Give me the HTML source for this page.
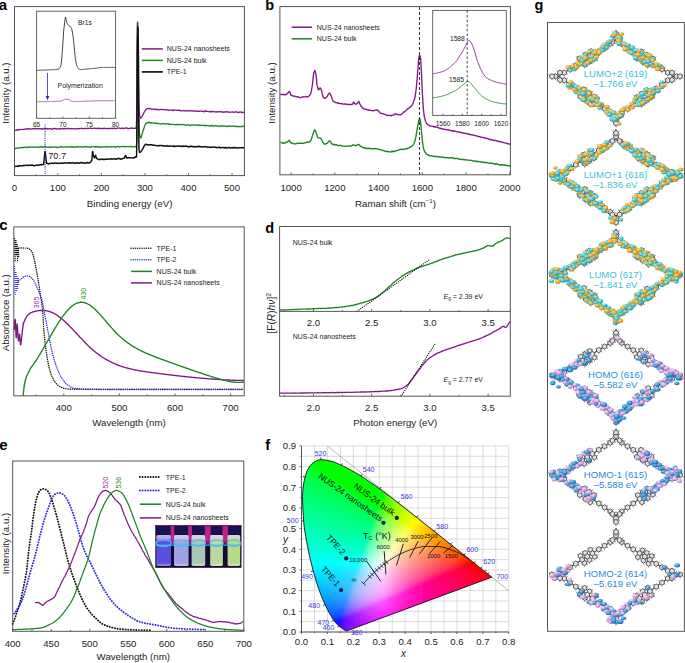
<!DOCTYPE html><html><head><meta charset="utf-8"><style>html,body{margin:0;padding:0;background:#fff;}svg{display:block;}text{font-family:"Liberation Sans", sans-serif;}</style></head><body>
<svg width="685" height="663" viewBox="0 0 685 663">
<rect width="685" height="663" fill="#fff"/>
<text x="-1.2" y="10.4" font-size="15" text-anchor="start" fill="#000" font-weight="bold"  >a</text>
<path d="M14.5,148.5l.3 .1 .4 .2 .4-.3 .3-.3 .3-.1 .4 .1 .3-.2 .4-.1 .3 .1 .4 .3 .3 0 .4-.1 .3-.4 .4 .1 .3-.1 .3 .1 .1-.2 .3 0 .4-.2 .3-.1 .4 .1 .3 .1 .4 .2 .3-.2 .4-.1 .3-.3 .4 .3 .3-.2 .4-.1 .3 0 .4 0 .3 .1 .4 .1 .3 .2 .4 0 .3-.2 .4-.2 .3-.2 .4 .2 .3 .2 .4 0 .3-.2 .4-.2 .3 0 .4 0 .1 .1 .2 .3 .4 0 .3-.1 .4-.2 .3 0 .4 0 .3-.1 .4 .2 .3-.1 .4 .1 .3 0 .4 .1 .3-.1 .4 .1 .3 .1 .4 0 .3-.1 .4-.1 .3-.1 .4 0 .3 0 .4-.1 .3 .1 .4 .2 .3-.1 .4-.1 .3 .1 .4 .2 .3-.3 .4 0 .3-.3 .4-.2 .3-.1 .4 .2 .3 .4 .4 .3 .3 0 .4-.1 .3-.3 .4 .1 .3-.3 .4-.1 .3-.1 .4 .1 .3 .1 .4 .1 .3 .2 .4 .1 .3 0 .4 0 .3 .1 .4-.1 .3-.1 .4-.1 .3 .1 .4 .2 .3 0 .4 0 .3-.2 .4 0 .3-.2 .4 .1 .3 .1 .4 .1 .3-.1 .4 0 .3 0 .4 0 .3 .1 .4-.1 .3-.1 .4-.2 .3 .2 .4 .1 .3 .1 .4 0 .3 .4 .4 0 .3-.3 .4-.1 .3 .2 .4-.1 .3-.1 .4-.1 .3 .1 .4 0 .3-.2 .4-.2 .3-.3 .4 0 .3 .3 .4 .2 .3 .1 .4 0 .3 .1 .4-.1 .3-.1 .4-.1 .3-.1 .4 0 .3 .2 .4 .1 .3 0 .4-.1 .3-.1 .4 0 .3 0 .4 .1 .3 0 .4 0 .3-.1 .4-.1 .3 0 .4 .2 .3 0 .4 .2 .3 0 .4-.3 .3-.4 .4 .2 .3 .4 .4 0 .3-.3 .4 .1 .3 .2 .4 .2 .3-.1 .4 0 .3 .1 .4-.2 .3-.2 .4 0 .3 .1 .4 0 .3 0 .4-.3 .3 0 .4 .2 .3 .3 .4-.2 .3-.1 .4-.1 .3 0 .4 0 .3 .1 .4-.2 .3 0 .4 .1 .3 .3 .4 .1 .3-.1 .4-.3 .3 0 .4 .3 .3-.1 .4-.1 .3-.3 .4 .1 .3-.1 .4 .2 .3-.2 .4-.1 .3 .3 .4 .2 .3 0 .4-.1 .3 .2 .4-.1 .3 .1 .4-.1 .3 0 .4 .2 .3 .2 .4 0 .3-.3 .4-.3 .3-.2 .4 0 .3 .2 .4 0 .3 0 .4 .1 .3-.1 .4-.2 .3 .1 .4 .3 .3 0 .4 0 .3-.1 .4-.1 .3-.3 .4 .1 .3 .1 .4 .3 .3 0 .4 0 .3-.1 .4 .1 .3 0 .4-.1 .1-.1 .2 .1 .4 .1 .3 .2 .4 0 .3-.1 .4-.2 .3 0 .4-.1 .3 .3 .4 0 .3-.1 .4-.1 .3 0 .4 0 .3-.1 .4-.2 .3 .3 .4 .2 .3 .1 .4-.4 .3-.2 .4-.1 .3 .1 .4 .2 .3 0 .4 0 .3 .1 .4 .1 .3-.1 .4-.2 .3 .1 .4 0 .3 .2 .4 0 .3-.1 .4-.1 .3 0 .4-.1 .3-.1 .4 0 .3 0 .4 .3 .3 .3 .4 .1 .3 .1 .4-.3 .3-.3 .4-.1 .3-.2 .4 .1 .3 .1 .4 0 .3-.2 .4 .2 .3 .2 .4 .1 .3-.1 .4-.2 .3 0 .4-.1 .3 0 .4 0 .3 0 .4-.1 .3 .1 .4-.1 .3 0 .4-.1 .3 .2 .4 0 .3 0 .4 .1 .3 .1 .4-.1 .3 0 .4 0 .3 0 .4-.1 .3 .1 .4 0 .3-.1 .4 .1 .3 0 .4 0 .3-.2 .4-.1 .3 0 .4 .2 .3 .1 .4-.1 .3-.1 .4 0 .3 .2 .4 .1 .3 0 .4 .1 .3-.1 .4-.2 .3 .2 .4 .1 .3-.1 .4-.2 .3-.2 .1 .1 .3-.6 .3-2.5 .3-3.4 .1-10.5 .3-84 .1-5.6 .3-16.6 .1-1.5 .2 14.3 .3 23.8 .1 8.3 .3 33.9 .4 25.4 .1 2.7 .2 2.5 .4 2.6 .3 1.6 .4 .8 .2 .2 .1 .1 .4-.6 .3-1.2 .4-1.3 .3-1.2 .3-.8 .1-.6 .3-1.1 .4-.9 .3-1.1 .4-1.2 .3-1 .4-1.1 .3-.9 .4-.7 .1-.3 .2-.5 .4-.2 .3 0 .4 .1 .3-.5 .4-.3 .3-.2 .2 .1 .2 .1 .3 0 .4 0 .3-.3 .4-.2 .3 .3 .4 .5 .3 .2 .4-.2 .3-.1 .4-.2 .3 .1 .4 .1 .3 .2 .4 .2 .3 0 .4 0 .3-.2 .4 .1 .3 0 .4 .2 .3-.1 .4 .3 .3 .1 .4-.1 .3-.2 .4 0 .3 .1 .4 0 .3 .1 .4 .2 .3 0 .4 .1 .3 .1 .3 0 .1 0 .3 .1 .4 .2 .3-.2 .4-.3 .3 .1 .4-.1 .3 .2 .4-.1 .3-.1 .4 0 .3 0 .4 .1 .3 0 .4 0 .3 0 .4 .2 .3-.1 .4-.1 .3 0 .4 .1 .3-.2 .4 0 .3 .1 .4 .2 .3 0 .4 .1 .3 0 .4 .2 .3 0 .4 0 .3 0 .4 .2 .3 .1 .4-.1 .3-.2 .4 .1 .3-.1 .4 0 .3 0 .4 .2 .3 .1 .4 .1 .3 0 .4 .1 .3-.2 .4 0 .3 .2 .4-.2 .3-.4 .4-.1 .3 .3 .4 .3 .3 .1 .4-.1 .3-.1 .4 0 .3 0 0-.1 .4 .2 .3-.1 .4-.1 .3-.1 .4 0 .3 .2 .4 .1 .3 .1 .4 0 .3-.1 .4-.2 .3 .1 .4 .1 .3 .2 .4 .1 .3 .1 .4 0 .3-.1 .4 0 .3 0 .4 0 .3-.2 .4 0 .3 0 .4 .1 .3 .2 .4 .4 .3 .1 .4-.2 .3-.2 .4-.1 .3 0 .4-.2 .3 0 .4 0 .3 .2 .4 0 .3 0 .4-.1 .3 .1 .4-.1 .3-.2 .4 .1 .3 .3 .4 .1 .3-.1 .4-.1 .3 0 .4 0 .3 0 .4-.2 .3 .1 .4 0 .3 .3 .4-.2 .3 .1 .4-.1 0 .3 .3 0 .4 0 .3-.1 .4 0 .3 .1 .4-.1 .3 0 .4 .1 .3-.1 .4 .1 .3 .1 .4-.1 .3-.3 .4 .2 .3 .5 .4 .1 .3-.3 .4-.3 .3 .2 .4 .2 .3 0 .4-.2 .3 .1 .4 0 .3 .1 .4 0 .3 .2 .4 .1 .3-.1 .4-.3 .3 0 .4 .2 .3 .2 .4-.4 .3-.2 .4 .1 .3 .5 .4 .2 .3 0 .4-.1 .3 .1 .4-.2 .3-.3 .4-.2 .3 .1 .4 .1 .3 .1 .4 0 .3 0 .4 0 .3 .3 .4 0 .3 .3 .4 .1 .3-.1 .4-.3 .3 0 .1-.1 .3-.1 .3 0 .4 .2 .3-.1 .4 0 .3 0 .4 .1 .3-.1 .4 0 .3-.1 .4 .1 .3-.2 .4 .2 .3 .1 .4 .3 .3-.1 .4-.1 .3 .1 .4 0 .3 0 .4-.1 .3 .3 .4-.1 .3-.2 .4-.1 .3-.2 .4 0 .3 0 .4 .5 .3 0 .4 0 .3-.3 .4 0 .3 0 .4 .1 .3 0 .4 0 .3-.2 .4 .1 .3 .1 .4 .1 .3-.1 .4 0 .3 .2 .4 .2 .3 0 .4-.2 .3-.3 .4 .1 .3 .3 .4 .3 .3 0 .4-.1 .3-.2 .4 .1 .3 0 .4 0 .3-.1 .4 .2 .3 .1 .4-.1 .3-.1 .4-.4 .3-.1 .4 0 .3 .3 .4 .1 .3 0 .4 0 .3 0" fill="none" stroke="#1d8220" stroke-width="1.3" stroke-linejoin="round" />
<path d="M14.5,130.7l.3-.2 .4-.2 .4 .1 .3-.2 .3-.2 .4-.1 .3-.1 .4 .4 .3 .2 .4-.2 .3-.4 .4-.2 .3-.1 .4-.1 .3 .1 .3 .1 .1 .1 .3-.1 .4 0 .3 0 .4 .1 .3-.1 .4-.3 .3 0 .4 .3 .3 0 .4-.2 .3-.1 .4-.1 .3-.1 .4 0 .3 .2 .4 0 .3-.1 .4-.4 .3 0 .4-.1 .3 .1 .4-.1 .3 .2 .4 .1 .3-.2 .4-.1 .3 .1 .4 .2 .1 .2 .2 0 .4-.1 .3-.1 .4-.1 .3-.1 .4 .1 .3 .1 .4-.2 .3 0 .4-.3 .3 .1 .4 .1 .3 .1 .4-.1 .3-.1 .4 .2 .3-.2 .4-.1 .3 .1 .4 .3 .3-.1 .4-.2 .3 0 .4 .1 .3 .2 .4-.1 .3 0 .4-.2 .3 .2 .4 .1 .3 0 .4-.3 .3 .1 .4 .2 .3 .2 .4 0 .3 0 .4-.2 .3-.3 .4-.1 .3 .2 .4 0 .3 0 .4-.2 .3 .2 .4 .1 .3-.1 .4-.2 .3-.1 .4 .3 .3 .3 .4 0 .3-.2 .4 0 .3-.1 .4 .1 .3 0 .4-.1 .3 0 .4 .1 .3 0 .4 .3 .3 .2 .4 .1 .3-.5 .4-.3 .3-.2 .4 .3 .3-.2 .4 .1 .3 .2 .4 .1 .3-.3 .4-.2 .3 .1 .4 .2 .3 .3 .4 .1 .3-.1 .4-.2 .3 .2 .4 0 .3 .1 .4-.2 .3-.2 .4-.2 0 .2 .3 .2 .4 0 .3-.2 .4-.1 .3 0 .4-.1 .3 0 .4 .4 .3 .1 .4-.2 .3-.4 .4-.1 .3 .1 .4 .3 .3 .1 .4 0 .3-.1 .4 0 .3-.2 .4-.1 .3 0 .4 .1 .3 0 .4-.1 .3 0 .4 .2 .3 .1 .4-.1 .3 0 .4 .2 .3 .2 .4-.3 .3-.1 .4-.1 .3 .1 .4 .1 .3 .1 .4 .1 .3 0 .4 0 .3-.1 .4-.1 .3-.1 .4 0 .3 .2 .4 .1 .3 .3 .4-.2 .3-.2 .4-.3 .3 .1 .4 0 .3 0 .4-.1 .3 .3 .4-.1 .3 0 .4-.1 .3-.1 .4-.2 .3-.1 .4 .1 .3 .2 .4 .2 .3 0 .4 .1 .3 0 .4-.1 .3-.2 .4-.2 .3 0 .4 0 .3 .1 .4 0 .3 .3 .4-.1 .3-.1 .4-.1 .3 0 .4 0 .3 0 .4 .1 .3-.1 .4-.1 .3 0 .4-.2 .3 0 .4 0 .3 .3 .4 .2 .3-.1 .4-.2 .3 0 .4 0 .3 0 .4 .1 .3-.2 .4-.1 .3 .1 .4 .2 .3-.1 .4 0 .3 .2 .4 0 .3-.2 .4-.1 .3 .1 .4 .2 .3 .1 .4-.1 .3-.3 .4 0 .3 .4 .4 .1 .1-.1 .2-.1 .4 0 .3 .2 .4 0 .3-.1 .4-.1 .3 .1 .4-.2 .3 .1 .4 0 .3 .1 .4-.3 .3-.1 .4 0 .3 .3 .4 .2 .3 0 .4 0 .3-.1 .4-.1 .3 .1 .4-.1 .3 0 .4 .1 .3 0 .4-.1 .3-.1 .4 .2 .3 .1 .4-.2 .3-.2 .4 .2 .3-.2 .4 0 .3 0 .4 .2 .3 0 .4 0 .3 0 .4-.1 .3-.2 .4-.1 .3 .2 .4 .2 .3 .1 .4-.1 .3 .1 .4-.1 .3-.3 .4-.2 .3 .1 .4 .1 .3-.1 .4 0 .3 .1 .4-.1 .3-.1 .4 .2 .3 .1 .4 .2 .3 .1 .4 0 .3-.2 .4-.4 .3 0 .4 .3 .3 .2 .4 0 .3-.1 .4-.1 .3 0 .4-.1 .3-.1 .4-.2 .3 0 .4 .1 .3 0 .4 .1 .3 .2 .4 .4 .3 .1 .4-.1 .3-.3 .4 0 .3-.1 .4 0 .3 0 .4-.3 .3-.2 .4 .2 .3 .4 .4-.1 .3-.1 .4 0 .3 0 .4 .1 .3 0 .4 .2 .3-.1 .4-.2 .3 .1 .4-.1 .3 0 .1 .1 .3-1.9 .3-6 0-3.3 .4-64.6 .1-12.5 .2-15.2 .1-2 .3 12.9 .3 24.4 0 2.7 .4 19.3 .3 17.3 .4 11.1 .1 1.6 .2 1.7 .4 1.8 .3 1.6 .4 .9 .2 .2 .1-.1 .4-.3 .3-.3 .4-.9 .3-.6 .3-.4 .1-.1 .3-.9 .4-.8 .3-.7 .4-.6 .3-.7 .4-.6 .3-.4 .4-.5 .1-.2 .2-.6 .4-.4 .3-.2 .4 0 .3-.2 .4-.2 .3-.2 .4 .2 .3 .1 .4 0 .3-.3 .4 0 .3 .3 .4 .2 .3 0 .4-.1 .3 .3 .4 .2 .3-.1 .4 0 .3 0 .4 0 .3-.1 .4 0 .3 .1 .4 .3 .3-.3 .4 0 .3 0 .4 .2 .3 0 .4 0 .3 .2 .4-.1 .3-.1 .4 .1 .3 .2 .4 .1 .3-.1 .4-.1 .3 .1 .3 0 .1-.3 .3-.1 .4 .1 .3 .1 .4 0 .3 .2 .4 0 .3 0 .4-.1 .3 .1 .4-.2 .3 0 .4 0 .3 .2 .4 .1 .3-.1 .4 .1 .3 .1 .4 0 .3 .1 .4 0 .3-.1 .4-.1 .3 .2 .4 .2 .3 .2 .4-.1 .3-.2 .4 0 .3 0 .4 .1 .3 0 .4 0 .3-.1 .4-.1 .3 .3 .4 .3 .3 .1 .4-.3 .3-.5 .4 0 .3 .1 .4 .1 .3 .1 .4-.1 .3 0 .4 0 .3 0 .4 .1 .3 .2 .4 0 .3-.3 .4 0 .3 .2 .4 0 .3-.1 .4 0 .3 .1 0 .2 .4 .1 .3 .2 .4 .1 .3 0 .4-.1 .3 0 .4 .1 .3-.3 .4-.1 .3 0 .4 .3 .3 0 .4 0 .3-.1 .4 .2 .3 0 .4-.1 .3-.1 .4-.1 .3 .1 .4 0 .3 .1 .4 .2 .3 0 .4-.1 .3-.2 .4 .1 .3 0 .4-.1 .3-.1 .4 .2 .3 .1 .4 0 .3-.2 .4 .1 .3 .3 .4 .1 .3 0 .4-.1 .3-.1 .4-.1 .3-.1 .4 .2 .3 0 .4-.1 .3 .1 .4 .3 .3 .1 .4-.1 .3-.1 .4 .1 .3-.2 .4 .1 .3 0 .4 .2 .3-.1 .4 0 0-.2 .3 .1 .4 0 .3 0 .4-.1 .3-.1 .4 .1 .3 .2 .4 .2 .3 0 .4-.1 .3-.1 .4 .1 .3 .3 .4-.3 .3-.6 .4-.2 .3 .4 .4 .4 .3 0 .4 0 .3 0 .4 0 .3 .1 .4 .2 .3 0 .4-.2 .3 0 .4 0 .3 .2 .4 .2 .3 .1 .4-.5 .3-.4 .4 .2 .3 .4 .4 .2 .3-.1 .4-.3 .3 .1 .4 0 .3 .1 .4 0 .3 .1 .4 0 .3 .2 .4 0 .3-.2 .4-.1 .3 0 .4 .1 .3 .1 .4 0 .3-.1 .4-.2 .3 0 .4 .1 .3 .1 .1 .1 .3 0 .3 .1 .4-.3 .3-.1 .4 .2 .3 0 .4 0 .3 .2 .4 .3 .3-.1 .4 0 .3 .2 .4-.2 .3-.3 .4-.1 .3 .1 .4-.2 .3 0 .4 0 .3 .3 .4-.1 .3 .2 .4 0 .3-.1 .4-.1 .3 .2 .4 .1 .3 .1 .4-.1 .3 0 .4 0 .3-.1 .4 .1 .3-.1 .4 .1 .3-.2 .4-.1 .3 .1 .4 .2 .3 .1 .4-.2 .3 0 .4-.1 .3-.1 .4-.1 .3 .1 .4 .1 .3 0 .4 .1 .3 0 .4 .2 .3 .2 .4 .1 .3-.1 .4-.2 .3-.3 .4-.1 .3-.1 .4 0 .3 .2 .4 .5 .3 .2 .4-.2 .3-.2 .4-.1 .3 .1 .4 0 .3 .2 .4 .2 .3 .1" fill="none" stroke="#7e1a86" stroke-width="1.3" stroke-linejoin="round" />
<path d="M14.5,166.1l.3 0 .4 .1 .4 .3 .3 0 .3-.2 .4-.2 .3 0 .4 .2 .3 .2 .4-.3 .3-.4 .4 .1 .3 .3 .4-.2 .3-.3 .4-.1 .3 .1 .4-.1 .3 0 .4 .1 .3 .1 .4 0 .3-.1 .4 .1 .3-.1 .4-.2 .3-.2 .4 .2 .3-.1 .4 0 0 .1 .3 0 .4-.1 .3-.1 .4 0 .3-.1 .4 0 .3 .1 .4 .2 .3 .1 .4-.1 .3-.2 .4-.2 .3 .2 .4 0 .3-.1 .4-.1 .3 0 .4 .3 .3-.1 .4 .1 .3-.2 .4 0 .3-.1 .4 .2 .3 .2 .4 .3 .3-.1 .4 0 .3-.2 .4-.1 .3-.2 .4 .1 .3 0 .4 0 .3-.2 .4 .1 .3 0 .4-.1 .3-.1 .4 .1 .3-.1 .4 0 .3-.1 0-.1 .4-.3 .3 .3 .4 .1 .3 0 .4-.3 .3 0 .4 0 .3-.1 .4 0 .3-.1 .1 .1 .3-1.9 .3-4.1 .2-1.6 .2-1.8 .3-3 .2-.7 .2 .5 .3 3.4 .2 1.4 .2 1.9 .3 2.9 .4 1.9 .1 0 .2 0 .4 .1 .3 0 .4 .1 .3 .1 .4 .2 .3-.3 .4-.1 .3 .1 .4 0 .3-.2 .4 .1 .3-.1 .4-.2 .3-.1 .4 0 .3 .2 .4 .1 .3 0 .4 .1 .3-.1 .4-.1 .3-.2 .3 0 .1-.2 .3 0 .4 .2 .3 .1 .4-.1 .3 .1 .4 .1 .3 .1 .4-.1 .3 0 .4 .1 .3 .1 .4-.1 .3-.1 .4-.2 .3-.1 .4 0 .3 .2 .4 .2 .3 0 .4-.3 .3 0 .4 .2 .3 0 .4-.1 .3 0 .4-.2 .3-.2 .4 0 .3 .3 .4 0 .3 0 .4-.2 .3 0 .4 0 .3 0 .4 .2 .3 .2 .4-.2 .3-.3 .4 0 .3 0 .4 .1 .2-.2 .1 .2 .4 .3 .3 0 .4-.2 .3 .1 .4-.1 .3-.3 .4-.1 .3 .3 .4 .1 .3 0 .4-.1 .3 .2 .4 .3 .3 0 .4-.4 .3 0 .4 .1 .3-.1 .4-.3 .3 .2 .4 .2 .3 .1 .4-.2 .3-.1 .4 0 .3 .3 .4 0 .3-.2 .4-.4 .3 .2 .4 .1 .3-.2 .4-.2 .3 .1 .4 .3 .3 0 .4 0 .3 0 .4 0 .3-.1 .4 .1 .3 .3 .4 .1 .3-.2 .4-.1 .3-.1 .4-.1 .3-.2 .4 0 .3 0 .4 .4 .3 0 .4 .1 .3-.2 .4 0 .3-.1 .3-.3 .1-.1 .3-.1 .4-.3 .3-.6 .4-.6 .3-.3 0-.2 .4-4.1 .3-4.3 .2-.4 .2 .7 .3 2.5 .4 1.7 .3 .7 .4 .6 .3 .2 0-.2 .4-.9 .3-1.2 .3-.3 .1 .3 .3 1.2 .4 1.1 .2 .4 .1 .2 .4 .2 .3 .1 .4 .2 .3 .2 .4 .2 .3 .1 .4 .1 .3 .1 .4-.2 .1-.2 .2 0 .4 0 .3 .1 .4 .1 .3-.1 .4-.3 .3 0 .4 .2 .3 .2 .4-.3 .3 .1 .4 .2 .3 0 .4-.2 .3-.1 .4 0 .3 0 .4-.1 .3 .1 .4 .1 .3 0 .4-.1 .3-.2 .4-.1 .3 .1 .4 .2 .3-.1 .4-.1 .3 .1 .4 0 .3-.1 .4-.2 .3 .1 .4 .2 .3 0 .4-.2 .3 0 .4 0 .3 .2 .4 0 .3 0 .4-.3 .3 .1 .1 .2 .3 0 .3 0 .4 .2 .3 0 .4-.3 .3-.3 .4-.2 .3 .1 .4 0 .3 0 .4 .1 .3-.2 .4-.1 .3 .2 .4 .5 .3 .1 .4-.2 .3 .1 .4 0 .3-.1 .4-.4 .3-.1 .4-.1 .3 0 .4-.1 .3 0 0 .1 .4-.4 .3-.9 .4-1 .3-.5 .2 .1 .2 .2 .3 .6 .4 .9 .3 .7 .4 0 0-.2 .3-.1 .4 0 .3-.1 .4-.1 .3 0 .4 .1 .3 .2 .4 0 .3-.1 .4-.1 .3 .1 .4 .1 .3 0 .4 0 .3 .1 .4 .1 .3-.2 .4-.2 .3 0 .4 0 .3 0 .4-.4 .3-.5 .3 0 .1 .4 .3 .1 .4-.4 .3-.6 0-1 .4-36.5 .3-54.9 .3-24 .1-4.1 .3-8.8 0 .1 .4 22.2 .1 10.8 .2 63.2 .2 24.5 .2 2.1 .3 2.2 .2 .3 .2 0 .3-.2 .4-.1 .3-.4 .2-.3 .2-.3 .3-.3 .4-.4 .3-.7 .4-.7 .3-.5 .1-.1 .3-.4 .3-.7 .4-.9 .3-.8 .4-.4 .3-.4 .4-.4 .1-.1 .2-.1 .4 .1 .3 .2 .4 .2 .3 0 .4-.1 .3-.1 .2 .1 .2 .3 .3 0 .4-.1 .3 0 .4 .2 .3 .1 .4-.2 .3-.2 .4 0 .3 .2 .4-.1 .3 .1 .4 .2 .3 .2 .4-.2 .3-.1 .4 .2 .3 0 .4 0 .3 0 .4 .2 .3 0 .4 0 .3 .1 .4 .1 .3 0 .4 .1 .3 .2 .4 .1 .3-.3 .4-.3 .3 0 .4 .3 .3 .1 .3 0 .1-.2 .3 0 .4-.2 .3 .2 .4-.1 .3 .1 .4 0 .3 .3 .4 0 .3-.2 .4 0 .3 .1 .4 .2 .3 0 .4 .1 .3-.2 .4 .2 .3 .1 .4 0 .3-.1 .4-.3 .3-.2 .4 .2 .3 .3 .4 .2 .3-.1 .4-.1 .3-.1 .4-.1 .3 .1 .4-.1 .3 .1 .4 0 .3 .1 .4 0 .3 .1 .4 .1 .3 0 .4-.1 .3-.3 .4-.1 .3 .4 .4 .4 .3 0 .4 0 .3-.3 .4-.1 .3 .1 .4 0 .3-.3 .4 0 .3 .2 .4-.2 .3-.1 .4 .1 .3 .3 .4 0 .3 .1 0-.1 .4 0 .3-.1 .4 0 .3 0 .4 .2 .3 0 .4-.3 .3-.3 .4 .4 .3 .3 .4 .1 .3-.3 .4-.1 .3-.2 .4 .1 .3 .2 .4 0 .3-.2 .4-.1 .3 .3 .4 .1 .3 .3 .4 .1 .3 .1 .4 .1 .3-.3 .4-.2 .3 0 .4 .2 .3 0 .4-.3 .3-.3 .4 .1 .3 .3 .4 .2 .3-.1 .4-.2 .3 0 .4 .2 .3 .4 .4 0 .3-.2 .4-.3 .3 .1 .4 .3 .3 .1 .4-.2 .3-.1 .4 0 .3-.3 .4-.1 .3 .2 .4 .2 .3-.2 .4-.3 .3 .2 .4 .3 0 .3 .3-.2 .4-.1 .3 0 .4 0 .3 .1 .4 0 .3 .1 .4 .2 .3-.1 .4-.1 .3-.2 .4 0 .3-.2 .4 .1 .3 .1 .4 .1 .3 0 .4 .1 .3 0 .4 0 .3 .2 .4 .1 .3 0 .4-.1 .3 0 .4 .1 .3-.1 .4 .1 .3-.1 .4 0 .3 .1 .4 .1 .3 .1 .4-.1 .3 0 .4-.2 .3 0 .4-.2 .3 0 .4 .1 .3 .1 .4 .1 .3 .3 .4-.1 .3-.1 .4 0 .3 .1 .4 .2 .3 .2 .4 0 .3-.3 .4-.3 .3 0 .4 0 .3 .2 .4-.1 .3 .2 .1 .3 .3 .1 .3 0 .4-.2 .3-.1 .4 0 .3-.1 .4 .1 .3-.1 .4 0 .3-.1 .4 .4 .3 .1 .4-.3 .3 .1 .4 .2 .3-.2 .4-.5 .3 .3 .4 .4 .3 .1 .4-.1 .3 0 .4-.1 .3-.3 .4-.1 .3 0 .4 .1 .3 .2 .4 .3 .3-.1 .4-.1 .3 0 .4 .1 .3-.1 .4-.2 .3 .2 .4 .3 .3-.2 .4-.2 .3-.3 .4-.1 .3 .3 .4 .3 .3 0 .4-.3 .3 0 .4 .1 .3 .1 .4-.1 .3 .1 .4 .2 .3 .1 .4-.2 .3 0 .4-.1 .3-.1 .4-.1 .3 .2 .4 .1 .3-.1 .4 0 .3 0 .4-.2 .3-.2 .4 .2 .3 .1 .4 .2 .3 0 .4 .3 .3 0" fill="none" stroke="#111" stroke-width="1.45" stroke-linejoin="round" />
<line x1="45.1" y1="124.5" x2="45.1" y2="176" stroke="#2b2bd8" stroke-width="1.1" stroke-dasharray="1.1 1.1"/>
<text x="48.2" y="159.2" font-size="9.2" text-anchor="start" fill="#222" font-weight="normal"  >70.7</text>
<rect x="14.5" y="6.6" width="229.9" height="169" fill="none" stroke="#555" stroke-width="1"/>
<line x1="14.3" y1="175.6" x2="14.3" y2="173.2" stroke="#555" stroke-width="0.9" />
<line x1="57.85" y1="175.6" x2="57.85" y2="173.2" stroke="#555" stroke-width="0.9" />
<line x1="101.4" y1="175.6" x2="101.4" y2="173.2" stroke="#555" stroke-width="0.9" />
<line x1="144.95" y1="175.6" x2="144.95" y2="173.2" stroke="#555" stroke-width="0.9" />
<line x1="188.5" y1="175.6" x2="188.5" y2="173.2" stroke="#555" stroke-width="0.9" />
<line x1="232.05" y1="175.6" x2="232.05" y2="173.2" stroke="#555" stroke-width="0.9" />
<line x1="36.08" y1="175.6" x2="36.08" y2="174.2" stroke="#555" stroke-width="0.9" />
<line x1="79.62" y1="175.6" x2="79.62" y2="174.2" stroke="#555" stroke-width="0.9" />
<line x1="123.17" y1="175.6" x2="123.17" y2="174.2" stroke="#555" stroke-width="0.9" />
<line x1="166.73" y1="175.6" x2="166.73" y2="174.2" stroke="#555" stroke-width="0.9" />
<line x1="210.28" y1="175.6" x2="210.28" y2="174.2" stroke="#555" stroke-width="0.9" />
<text x="14.3" y="191" font-size="9.6" text-anchor="middle" fill="#222" font-weight="normal"  >0</text>
<text x="57.85" y="191" font-size="9.6" text-anchor="middle" fill="#222" font-weight="normal"  >100</text>
<text x="101.4" y="191" font-size="9.6" text-anchor="middle" fill="#222" font-weight="normal"  >200</text>
<text x="144.95" y="191" font-size="9.6" text-anchor="middle" fill="#222" font-weight="normal"  >300</text>
<text x="188.5" y="191" font-size="9.6" text-anchor="middle" fill="#222" font-weight="normal"  >400</text>
<text x="232.05" y="191" font-size="9.6" text-anchor="middle" fill="#222" font-weight="normal"  >500</text>
<text x="129.6" y="207" font-size="9.7" text-anchor="middle" fill="#222" font-weight="normal"  >Binding energy (eV)</text>
<text x="0" y="0" font-size="9.7" text-anchor="middle" fill="#222" font-weight="normal"  transform="translate(9.3,93.1) rotate(-90)">Intensity (a.u.)</text>
<line x1="141.8" y1="48.9" x2="162.8" y2="48.9" stroke="#7e1a86" stroke-width="1.5" />
<text x="166.8" y="51.4" font-size="7" text-anchor="start" fill="#222" font-weight="normal"  >NUS-24 nanosheets</text>
<line x1="141.8" y1="60.4" x2="162.8" y2="60.4" stroke="#1d8220" stroke-width="1.5" />
<text x="166.8" y="62.9" font-size="7" text-anchor="start" fill="#222" font-weight="normal"  >NUS-24 bulk</text>
<line x1="141.8" y1="71.9" x2="162.8" y2="71.9" stroke="#222" stroke-width="1.8" />
<text x="166.8" y="74.4" font-size="7" text-anchor="start" fill="#222" font-weight="normal"  >TPE-1</text>
<rect x="36.6" y="11.2" width="79.0" height="107.1" fill="#fff" stroke="#555" stroke-width="0.9"/>
<path d="M36.8,70.3l.4-.1 .4 0 .4 .1 .4 0 .4 0 .4-.1 .4 0 .4-.1 .4-.1 .4 .1 .4 0 .4 .2 .4 0 .4-.1 .4-.1 .4 0 .4 0 .4 0 .4 0 .4 0 .2-.2 .2 .1 .4 0 .4 0 .4 0 .4-.1 .4 .1 .4-.1 .4 0 .4 0 .4-.1 .4-.1 .4 0 .4 .1 .4 0 .4 .1 .4 0 .4-.1 .4 0 .4 0 .4 0 .4-.1 .4 0 .4-.1 .4 .1 .4 0 .4-.1 .4-.1 .4 .1 .4 0 .4-.1 .4-.1 .4-.1 0 .1 .4-.1 .4-.2 .4-.3 .4-.3 .3-.3 .1-.1 .4-.5 .4-.7 .4-1.1 .1-.4 .3-1.7 .4-3.6 .3-3.1 .1-1.1 .4-5.5 .4-6 0-.1 .4-6.3 .4-5.9 .1-1.1 .3-3 .4-3.4 0 .1 .4-3.5 .4-3.2 .3-.9 .1 .1 .4 1.4 .4 2.1 .1 .3 .3 1.2 .4 1.3 .2 .5 .2 .3 .4 .5 .4 .4 .4 .4 0-.1 .4 .3 .4 .2 .4 .3 .3 .3 .1 .2 .4 .4 .4 .5 .2 .3 .2 .5 .4 1.6 .4 2 .4 2.5 .4 3 .2 1.6 .2 1.8 .4 4.1 .3 3 .1 .9 .4 4.1 .4 3.7 .1 .8 .3 2 .4 2.6 .4 1.9 .1 .4 .3 1 .4 1.1 .4 .9 .4 .5 .4 .5 .4 .4 .4 .3 .4 .2 .3 0 .1 0 .4 0 .4 0 .4 .1 .4 0 .4-.1 .4 0 .4-.1 .4-.1 .4 0 .4 .1 .4 0 .4-.1 .2-.1 .2 0 .4 .1 .4 0 .4-.1 .4 0 .4 0 .4-.1 .4-.1 .4 0 .4 0 .4 .1 .4-.1 .4-.1 .4-.1 .4-.1 .4 0 .4 0 .4 0 .4 0 .4-.1 .4 0 .4 0 .4-.1 .4-.1 .4 0 .4 0 .4-.1 .4-.1 0 .1 .4 0 .4-.1 .4-.1 .4 0 .4-.1 .4-.2 .4-.2 .4 0 .4 .1 .4 0 .4-.1 .4 0 .4 0 .4-.1 .4 0 .3-.1 .1 0 .4 .1 .4 .1 .4 0 .4-.1 .4 .1 .4 0 .4-.1 .4 0 .4 0 .4 0 .4 0 .4 0 .4 0 .4 0 .4 0 .4 0 .4 0 .4 .1 .4 0 .4-.1 .4 0 .4 0 .4 0 .4 0 .4 0 .4 0 .4 0 .4 0 .4 0 .4 .1 .4 0 .4 0 .2 0" fill="none" stroke="#222" stroke-width="0.85" stroke-linejoin="round" />
<path d="M36.8,101.7l.4 0 .4 0 .4 .1 .4 0 .4 0 .4 0 .4 0 .4 0 .4-.1 .4 0 .4-.1 .4 .1 .4 0 .4-.1 .4 0 .4 0 .4 0 .4 0 .4 0 .4 0 .4-.1 .4 .1 .4 0 .4-.1 .4 0 .4 0 .4 .1 .4 0 .4 0 .4-.1 .4-.1 .4 .1 .4 0 .4 .1 .4-.1 .4 0 .4 0 .4-.1 .4 0 .4 0 .4 .1 .4 0 .4-.1 .4 0 .4 0 .4 0 .4 0 .4-.1 .4 0 .4 0 .4 0 .4 0 .4-.1 .4 0 .4-.1 .4 .1 .4 0 .4 0 0-.1 .4 0 .4 0 .4-.1 .4-.2 .4-.2 .4-.1 .1 0 .3-.1 .4-.2 .4-.3 .4-.3 .4-.2 .1 0 .3-.1 .4 0 .4 0 .4 0 .4 0 .1 0 .3 0 .4 .1 .4 0 .4 .1 .4 .1 .4 .2 .2 .1 .2-.1 .4 .3 .4 .3 .4 .3 .4 .2 .2 .1 .2 .1 .4 0 .4 .1 .4 .1 .4 .1 .4 .1 .4 0 .4 0 .4 0 .4 0 .4-.1 .1 .1 .3 0 .4 0 .4 0 .4 0 .4-.1 .4 .1 .4 0 .4 .1 .4-.1 .4-.1 .4 0 .4 0 .4 0 .4 0 .4 0 .4 0 .4-.1 .4-.1 .4 .1 .4 0 .4 0 .4-.1 .4 0 .4-.1 .2 0 .2-.1 .4 0 .4 0 .4 .1 .4 0 .4 0 .4 0 .4 0 .4 0 .4 0 .4-.1 .4 0 .4 0 .4 0 .4-.1 .4 0 .4 .1 .4 0 .4 0 .4-.1 .4 0 .4-.1 .4 .1 .4-.1 .4 .1 .2 0 .2 0 .4 0 .4 0 .4 0 .4-.1 .4 0 .4 0 .4 0 .4 0 .4-.1 .4 .1 .4 0 .4 0 .4-.1 .4-.1 .4 .1 .4 0 .4 0 .4-.1 .4 .1 .4 .1 .4 0 .4 0 .4 0 .4 0 .4 0 .4-.1 .4 0 .4-.1 .4 0 .4 .1 .4 0 .4-.1 .4 0 .4 .1 .4 .1 .4 0 .4-.1 .4 0 .4 .1 .4 0 .4 0 .4-.1 .4-.1 .4 .1 .4 0 .4 0 .4 0 .4 0 .4 0 .4 0 .2 0" fill="none" stroke="#a0409f" stroke-width="0.85" stroke-linejoin="round" />
<line x1="47.5" y1="72.9" x2="47.5" y2="97" stroke="#2a2ad0" stroke-width="0.8" />
<path d="M45.6,96 L49.4,96 L47.5,100.3 Z" fill="#2a2ad0"/>
<text x="80.2" y="88.2" font-size="6.9" text-anchor="middle" fill="#222" font-weight="normal"  >Polymerization</text>
<text x="84.9" y="25" font-size="6.7" text-anchor="middle" fill="#222" font-weight="normal"  >Br1s</text>
<text x="36.6" y="126.7" font-size="6.6" text-anchor="middle" fill="#222" font-weight="normal"  >65</text>
<text x="62.94" y="126.7" font-size="6.6" text-anchor="middle" fill="#222" font-weight="normal"  >70</text>
<text x="89.27" y="126.7" font-size="6.6" text-anchor="middle" fill="#222" font-weight="normal"  >75</text>
<text x="115.61" y="126.7" font-size="6.6" text-anchor="middle" fill="#222" font-weight="normal"  >80</text>
<line x1="36.6" y1="118.3" x2="36.6" y2="116.5" stroke="#555" stroke-width="0.9" />
<line x1="62.94" y1="118.3" x2="62.94" y2="116.5" stroke="#555" stroke-width="0.9" />
<line x1="89.27" y1="118.3" x2="89.27" y2="116.5" stroke="#555" stroke-width="0.9" />
<line x1="115.61" y1="118.3" x2="115.61" y2="116.5" stroke="#555" stroke-width="0.9" />
<line x1="49.77" y1="118.3" x2="49.77" y2="117.1" stroke="#555" stroke-width="0.9" />
<line x1="76.1" y1="118.3" x2="76.1" y2="117.1" stroke="#555" stroke-width="0.9" />
<line x1="102.44" y1="118.3" x2="102.44" y2="117.1" stroke="#555" stroke-width="0.9" />
<text x="265.3" y="10" font-size="14.5" text-anchor="start" fill="#000" font-weight="bold"  >b</text>
<path d="M280.3,94.4l.4 0 .3 .1 .4 0 .3 .1 .4-.2 .3-.1 .4 .1 .3 .1 .4 .2 .3 .1 .2-.2 .2-.3 .3 .1 .4 .3 .3 .2 .4-.1 .3-.3 .4-.3 .3-.1 .4-.1 .3-.4 .2-.2 .2-.1 .3-.3 .4-.6 .3-.4 .4-.4 .1-.1 .2 .1 .4 .6 .3 .9 .4 1 .3 .8 .4 .3 .3 .1 .4 .2 .3 .1 .4 .2 .3 .2 .1 .1 .3 .1 .3-.1 .4 .1 .3-.1 .4 .1 .3 .1 .4 .2 .3 0 .4 .2 .3 .2 .4 0 .2 0 .1-.2 .4 .1 .3 0 .4 .3 .3 .1 .4 0 .3 .1 .4 .1 .3 .1 .1 0 .3 .2 .3 0 .4-.1 .3-.2 .4-.1 .3-.2 .4-.2 .3 0 .4 0 .3 0 .4-.1 .2 .1 .1 .1 .4 0 .3-.2 .4-.1 .3-.1 .4 .1 .3 .2 .4 .1 .3-.2 .4 0 .3 0 .4 0 0-.1 .3-.3 .4-.2 .3-.2 .4-.3 .3-.5 .4-.4 .3-.6 .1-.3 .3-.7 .3-1 .4-1.8 .3-2.1 .4-2.3 .3-1.9 .4-3.3 .3-3.8 .4-3 .2-1 .1-.1 .4-1.2 .3-.9 .2-.3 .2 .1 .3 1 .4 1.5 .3 2 .4 2.7 .3 3.8 .4 3.4 .1 .9 .2 .7 .4 1.4 .3 1.2 .4 .6 .3-.1 .4-.5 .3-.7 .4-.4 .3-.1 .1 0 .3 .3 .3 .7 .4 1 .3 1 .2 .6 .2 .7 .3 1.6 .4 1.6 .3 1.1 .2 .5 .2 .2 .3 .4 .4 .5 .3 .1 .4 0 .2-.1 .1 0 .4 0 .3-.2 .4-.4 .3-.6 .4-.3 .1-.1 .2-.2 .4-.7 .3-.7 .4-.6 .3-.4 .4-.4 .3-.4 .2-.2 .2 .2 .3 .5 .4 .6 .3 .8 .4 .8 .3 .9 .1 .2 .3 .5 .3 1 .4 1 .3 1 .4 .8 .3 .3 0-.2 .4 .1 .3 .3 .4 .3 .3 .2 .4 .2 .3 .1 .4 0 0-.1 .3 .2 .4 .1 .3 0 .4-.1 .3 .1 .4 .3 .3 .3 .4-.1 .3-.1 .4 .1 .3 .2 .2 .1 .2 0 .3 0 .4 0 .3-.1 .4-.1 .3 .1 .4 .4 .3 .2 .4 .1 .3-.1 .4 0 .3 0 .4-.2 .3 0 .3 .2 .1 .2 .3-.3 .4 0 .3 .1 .4 .2 .3 0 .4 0 .3 .1 .4 .1 .3 0 .4 0 .3 .1 .4-.1 .3-.1 .4 0 .3-.1 .4 .1 .3 .1 .4 0 .3 .1 .3 0 .1-.2 .3-.3 .4-.5 .3-.8 .4-.6 0-.1 .3 .1 .4 .5 .3 .7 .4 .5 .1 .1 .2 .1 .4-.1 .3 0 .4 .1 .2-.1 .1 0 .4-.2 .3-.5 .4-.6 .3-.5 .4-.4 .1-.3 .2-.1 .4 .6 .3 .9 .4 .8 .3 .7 .4 .6 0 .3 .3 .6 .4 .4 .3 .3 .4 .3 .3 .6 .4 .4 .3 .3 .1-.1 .3 .2 .3 .3 .4 .2 .3 0 .4 .1 .3 .3 .4 .1 .3 .1 .4 0 .3-.1 .4 .1 .3 .3 .4 .1 .3 0 .2 0 .2 .3 .3-.1 .4 0 .3 .1 .4 .2 .3 0 .4 .1 .3-.1 .4 .1 .3 .2 .4 .1 .3 0 .4 0 .3 .1 .3 0 .1-.1 .3-.1 .4-.1 .3 0 .4 0 .3-.1 .4-.1 .3-.1 .4-.1 .3-.1 .4-.1 .3-.2 .1 .1 .3 .1 .3 .3 .4 .1 .3 .5 .4 .3 .3 .4 .4 .4 .3 .3 .3 .4 .1 .2 .3 .3 .4 0 .3 .2 .4 .2 .3 .1 .4-.1 .3 0 .4 .2 .3 .2 .4 .1 .3 .1 .1 0 .3 .1 .3 .1 .4 .2 .3 .1 .4 .1 .3 .1 .4 .3 .3 .4 .4 .1 .3-.2 .4-.2 .2 0 .1 0 .4 .1 .3 0 .4 .1 .3 0 .4 .2 .3 .1 .4 .1 .3 0 .4-.2 .3-.2 .4-.2 0 .1 .3 0 .4-.1 .3 0 .4-.1 .3-.1 .4-.3 .3-.3 .4-.4 .3-.2 .4 .1 .3 .2 .2-.1 .2-.1 .3 .1 .4 .3 .3 .2 .4-.1 .3 .1 .4 .2 .3 .2 .4 0 .3 0 .4-.1 .3 0 .4 .1 .3-.2 .4-.1 .3-.2 .4-.2 .3-.4 .4-.4 .3-.4 .2-.1 .2-.2 .3-.5 .4-.3 .3 .1 .4-.2 .3-.4 .4-.4 .3-.2 .4-.4 .3-.1 .4-.5 .3-.5 .4-.3 .3 0 .4-.4 .3-.3 .4-.2 .2 0 .1 0 .4-.4 .3-.3 .4-.3 .3-.4 .4-.2 .1-.1 .2-.1 .4-.6 .3-.4 .4-.7 .3-.6 .4-.7 .3-.8 .4-1 .3-.9 .4-1 .3-1.3 .3-1.4 .1-.3 .3-2 .4-2.5 .3-2.8 .4-3.2 0-.4 .3-3.1 .4-4 .3-4.6 .3-3.7 .1-.8 .3-4.6 .4-4.2 .3-3 .1-.7 .3-1 .3-.7 .1 .2 .3 .2 .3 1 .1 .3 .3 2.2 .3 5.5 .3 5.4 .1 .9 .3 7.7 .4 8.2 .1 2.9 .2 3.8 .4 6.5 .3 5.5 .2 2.2 .2 1.7 .3 3.3 .4 3 .3 1.7 .1 .2 .3 .9 .3 1.6 .4 1.1 .3 .7 .4 .7 .3 .6 .2 .2 .2 .1 .3 .4 .4 .5 .3 .3 .4 .1 .3 .3 .4 .3 .3 .1 .4 .1 .2 .2 .1 .2 .4 .1 .3 0 .4 0 .3 0 .4-.1 .3 .1 .4 .2 .3 0 .4 0 .3 .2 .4 .2 .3-.1 .4-.1 .3 .3 0 .2 .4 .1 .3-.2 .4-.2 .3 .1 .4 .2 .3 .2 .4 .1 .3 .1 .4 .1 .3 .1 .4 .3 .3 .2 .4 .2 .3-.2 .4-.1 .3 .2 .4 .3 0-.1 .3 0 .4 .1 .3 .4 .4-.1 .3-.1 .4 0 .3 .2 .4 .3 .3 .2 .4 .1 .3-.1 .4-.2 .3 0 .4 .2 .3 .3 .4 .1 .3 0 .4-.1 .3-.1 .4 0 .3 .2 .4 .2 .3 0 .4-.1 .3 0 .3 .3 .1 .2 .3 .1 .4 0 .3 0 .4 0 .3 0 .4 .3 .3 .2 .4 0 .3-.4 .4 .2 .3 .3 .4 .2 .3-.2 .4-.1 .3 0 .4 .2 .3 .2 .4 .3 .3 .1 .4 0 .3 0 .4-.1 .3-.1 .4 0 .3 .3 .4 .3 .3 .2 .4-.2 .1-.2 .2-.1 .4 .4 .3 .1 .4 .2 .3 .1 .4 .2 .3 0 .4-.1 .3 .1 .4 0 .3 .1 .4 .1 .3 0 .4 .2 .3 .1 .4 .1 .3-.1 .4-.1 .3 .1 .4 .2 .3 .1 .4-.1 .3-.1 .4 .2 .3 .4 .4 .3 .3-.1 .4-.2 .3 0 .4 .4 .3 .2 .4 .1 .3-.2 .3 0 .1 0 .3 .2 .4 .1 .3 .1 .4 0 .3 0 .4 .1 .3 .2 .4 .1 .3 0 .4 .1 .3 .2 .4 0 .3 .1 .4 0 .3 .1 .4 .1 .3 .3 .4 .1 .3 0 .4 0 .3 0 .4 .3 .3-.1 .2 .3 .2-.1 .3 .2 .4 0 .3 0 .4 .1 .3 .1 .4 .1 .3 0 .4 0 .3 0 .4 .2 .3 .3 .4 .1 .3-.1 .4-.1 .3 .1 .4 .3 .3 .1 .4 .1 .3 0 .4 .2 .3-.1 .4 .1 .3 .3 .4 .2 .3 0 .4-.1 .3 .2 .4 .3 .3 .4 .4 0 .3-.1 .4-.3 .3 0 .4 .2 .1 .1 .2 .3 .4 .1 .3 0 .4 .1 .3 .1 .4 .2 .3-.1 .4-.1 .3-.1 .4 .2 .3-.1 .4 .2 .3 .2 .4 .3 .3 .1 .4 .2 .3 .1 .4 0 .3-.2 .4 0 .3 .3 .4 0 .2-.1 .1-.1 .4 .4 .3 .1 .4 0 .3-.1 .4 .5 .3 .2 .4-.1 .3-.1 .4 .1 .3 .1 .4 .1 .3 .1 .4 .1 .3 .2 .4 .2 .3 0 .4-.2 .3 .1 .4 .3 .3 .1 .4 .1 .3 .3 .4 0 .3-.1 .4-.1 .3 .2 .4 .2 .3 .2 .3 .1" fill="none" stroke="#7e1a86" stroke-width="1.35" stroke-linejoin="round" />
<path d="M280.3,142.4l.4 0 .3 .1 .4 .3 .3 0 .4 .1 .3 .1 .4 .1 .3-.2 .4-.1 .3 .2 .2 .3 .2 0 .3 0 .4-.2 .3-.3 .4-.4 .3-.2 .4 0 .3 0 .4-.1 .3-.1 .2 0 .2-.1 .3-.5 .4-.3 .3-.3 .4-.3 .1-.4 .2 .3 .4 .6 .3 .9 .4 .7 .3 .3 0-.1 .4 .1 .3 .2 .4-.1 .3 .2 .4 .2 .3 .1 .1-.1 .3 .1 .3 .1 .4 .3 .3-.1 .4 .1 .3 0 .4 0 .3-.1 .4-.2 .3 0 .4 0 .3-.2 .4-.2 .3 .1 .4-.1 .3-.1 .4 .1 .3 .2 .4 0 .3-.1 .1 .1 .3-.1 .3-.1 .4 0 .3 0 .4 0 .3 .1 .4 .1 .3 0 .4-.1 .3 0 .4-.2 .3-.1 .4-.2 .3 0 .2-.1 .2-.1 .3 .1 .4 .1 .3-.2 .4-.4 .3 0 .4 .1 .3 0 .4-.2 .3-.1 .4 .1 .3-.1 0 .2 .4-.2 .3-.3 .4-.4 .3-.3 .4-.6 .2-.3 .1-.2 .4-.8 .3-1.2 .4-1.4 .3-1.1 .3-.8 .1-.2 .3-1 .4-1.1 .3-1 .4-.8 .3-.6 .2-.1 .2 .2 .3 .6 .4 .8 .3 1 .4 1.2 .1 .4 .2 .6 .4 1 .3 1.2 .4 .8 .2 .3 .1 0 .4 .2 .3 0 .4-.1 .3-.1 .4 0 .1 0 .2 0 .4 .2 .3 .5 .4 .5 .3 .7 .4 .6 .3 .4 .4 .8 .3 .9 .4 .5 .3 .5 .4 .4 .3 .3 .1 .1 .3-.1 .3-.2 .4-.2 .3-.1 .4 .1 .3-.1 .4-.3 .1 0 .2-.2 .4-.3 .3-.6 .4-.5 .3-.4 .4-.2 .3-.1 .2-.1 .2-.1 .3 .2 .4 .5 .3 .6 .4 .6 .3 .4 .1 .3 .3 .2 .3 .2 .4 .3 .3 .3 .4 0 .3-.1 .4 .1 .3 0 .4 .1 .3 .2 .1 .1 .3-.1 .3 0 .4 0 .3 0 .4 0 .3 .2 .4 .2 .3 .1 .4 .2 .3 .1 .4 0 .3-.2 .4 0 .3 0 .2 .2 .2-.1 .3-.2 .4 .1 .3 .2 .4 .2 .3 .1 .4 .1 .3 0 .4 .1 .3 .1 .4-.1 .3 0 .4 0 .3 .1 .3 0 .1 .1 .3 .1 .4-.1 .3-.1 .4-.1 .3 0 .4 0 .3-.1 .4-.1 .3 0 .4 0 .3 .3 .4 .1 .3-.1 .4-.2 .3-.1 .4 .1 .3 0 .4-.1 .3-.2 .4-.2 .3-.4 .4-.2 .3-.1 .4 .1 0 .2 .3 .1 .4-.1 .3 .1 .4 .1 .3 .3 .4 .2 .3 0 .1-.1 .3-.1 .3-.3 .4-.3 .3-.2 .4-.2 .3-.1 0-.1 .4 .1 .3 .1 .4 0 .3 .3 .4 .4 .3 .5 .4 .4 .3 .3 .2-.1 .2 .1 .3 .2 .4 .1 .3 .1 .4 .4 .3 .2 .4 .1 .3 0 .4 .3 .3 .1 .4 .1 .3-.1 0-.1 .4-.2 .3 .3 .4 .2 .3 .4 .4 0 .3 0 .4-.3 .3-.1 .4-.1 .3 .3 .4 .1 .3-.2 .4 0 .3 .2 .1 .2 .3-.1 .3 .1 .4 .2 .3-.1 .4-.2 .3-.1 .4 .3 .3 0 .4 0 .3-.1 .4 .1 .3 0 .4-.2 .3-.1 .4 .2 .3 .1 .4-.1 .3-.1 .4 .1 .3 .2 .4 .2 .3 0 .4 .2 0 .1 .3-.1 .4-.2 .3 .2 .4 .1 .3 .2 .4 0 .3 .1 .4 .1 .3 .1 .4 .2 .3 0 .4 0 .3 .1 .4 .3 .1 .1 .2 .1 .4 0 .3-.1 .4 .2 .3 .4 .4 .1 .3 0 .4 .1 .3 .2 .4-.1 .3-.2 .4-.1 .3 .3 .4 0 .2 .2 .1 0 .4 .1 .3-.1 .4 .1 .3-.1 .4 .1 .3 .1 .4 .2 .3-.1 .4-.3 .3-.3 .4-.4 .3 .1 .4 .3 .3 .4 0-.3 .4 .1 .3-.1 .4 0 .3-.4 .4-.1 .3 0 .4 .2 .3-.2 .4-.2 .3-.1 .4-.1 .1 0 .2-.2 .4 0 .3-.1 .4 0 .3-.1 .4-.2 .3-.3 .4-.1 .3-.1 .4-.2 .3 0 .3 0 .1 .1 .3 .1 .4 0 .3 0 .4-.2 .3-.1 .4 .1 .3 .2 .4 0 .3 0 .4-.3 .3-.2 .1 0 .3 .1 .3-.3 .4-.1 .3-.1 .4 .2 .3 .1 .4-.2 .3-.4 .4-.3 .3-.1 .4-.1 .3 .1 .4-.2 .3-.2 .2-.2 .2 .1 .3-.3 .4-.3 .3-.2 .4-.1 .3-.3 .4-.4 .3-.4 .4-.2 0-.1 .3-.4 .4-.7 .3-.7 .4-1 .3-.9 .4-1 .1-.6 .2-.7 .4-1.7 .3-2 .4-2.3 .3-2.1 .2-1.2 .2-.7 .3-1.7 .4-2 .3-2.1 .4-1.7 .3-1.1 .4-1.4 .2-.5 .1-.1 .4 .9 .3 1.4 .2 1 .2 .7 .3 3.3 .4 4.2 .3 3.8 0 .1 .4 3.5 .3 3.5 .4 3 .2 1.7 .1 .8 .4 1.7 .3 1.3 .4 .9 .3 .9 .4 .6 .3 .5 .4 .7 .3 .6 .4 .3 .3 0 .4 .3 0 .3 .3 .2 .4-.1 .3 .1 .4 .4 .3 .4 .4 0 .3 .1 .4 .1 .2 0 .1 .1 .4 0 .3 0 .4-.1 .3 .1 .4 0 .3 .2 .4 .3 .3 .1 .4-.2 .3 0 .4 .1 .3 .2 .4-.1 .3 .2 .4-.1 .3 .1 .4 .1 .3-.1 .4-.1 .3-.1 .4 .3 .3 .1 .4 0 .3-.1 .4 .1 .3 .1 .4 .1 .3 .2 .1 .1 .3-.1 .3-.2 .4 0 .3 .1 .4 0 .3 0 .4-.2 .3 .1 .4 .2 .3 .3 .4 0 .3-.1 .4 0 .3 .1 .4 .1 .3 .2 .4 0 .3-.1 .4-.1 .3-.2 .4 .1 .3 .2 .4 .2 .3 .1 .4 .1 .3-.1 .4-.1 .3-.1 .3 .1 .1-.2 .3-.1 .4 0 .3 .1 .4 .1 .3 .2 .4-.1 .3 0 .4 .1 .3 0 .4 .1 .3 .3 .4 .1 .3 0 .4 .2 .3-.1 .4-.3 .3 0 .4 .2 .3 0 .4 .1 .3 0 .4 0 .3 0 .4 .2 .3 .3 .4 .1 .3 .1 .4 .1 .1-.1 .2-.1 .4 0 .3 .2 .4 .1 .3 .1 .4-.1 .3 .2 .4-.1 .3-.2 .4-.1 .3 .3 .4 0 .3-.1 .4 .1 .3 .2 .4 .2 .3-.1 .4-.1 .3 0 .4 0 .3 .1 .4 .2 .3 .2 .4-.1 .3-.1 .4 0 .3 .1 .4 .1 .3 .1 0-.1 .4-.1 .3 .1 .4 0 .3 .1 .4 0 .3 .3 .4 .1 .3 .2 .4 0 .3 0 .4-.1 .3 0 .4 .2 .3 .1 .4 0 .3 0 .4 .1 .3 .2 .4 .1 .3-.2 .4-.2 .3 0 .4 .2 .3 .3 .4 .1 .3-.1 .4-.1 .3 .1 .2 0 .2 0 .3 0 .4 .3 .3 .1 .4-.2 .3-.1 .4 .1 .3 .3 .4 .3 .3-.1 .4 0 .3-.2 .4 .2 .3 0 .4 .1 .3 .1 .4 .2 .3-.2 .4-.2 .3 0 .4 .2 .3 .2 .4 0 .3 0 .4 .2 .3 .2 .4 0 .3 .1 .4 0 0-.1 .3 0 .4 .2 .3-.1 .4-.2 .3-.1 .4 .1 .3 .2 .4 .1 .3 .2 .4 .2 .3 .3 .4-.2 .3-.1 .4 .1 .3 .2 .4 .2 .3-.2 .4-.2 .3-.2 .4 .2 .3 .2 .4 .4 .3 .1 .4 0 .3-.1 .4 .1 .3 .1 .4 0 .2 0 .1 .1 .4 .5 .3 0 .4-.4 .3-.4 .4 .1 .3 .1 .4 .2 .3 .2 .4 .1 .3 0 .4-.2 .3 0 .4 0 .3 0 .4 0 .3 .3 .4 .2 .3 .1 .4 0 .3-.1 .4 0 .3 0 .4 .2 .3 0 .4 .1 .3 0 .4-.1 .3 .3 .3 .2" fill="none" stroke="#1d8220" stroke-width="1.35" stroke-linejoin="round" />
<line x1="419.5" y1="7" x2="419.5" y2="174.8" stroke="#222" stroke-width="0.9" stroke-dasharray="3 2"/>
<rect x="279.9" y="6.6" width="230.5" height="168.2" fill="none" stroke="#555" stroke-width="1"/>
<line x1="291.1" y1="174.8" x2="291.1" y2="172.4" stroke="#555" stroke-width="0.9" />
<line x1="334.85" y1="174.8" x2="334.85" y2="172.4" stroke="#555" stroke-width="0.9" />
<line x1="378.6" y1="174.8" x2="378.6" y2="172.4" stroke="#555" stroke-width="0.9" />
<line x1="422.34" y1="174.8" x2="422.34" y2="172.4" stroke="#555" stroke-width="0.9" />
<line x1="466.09" y1="174.8" x2="466.09" y2="172.4" stroke="#555" stroke-width="0.9" />
<line x1="509.84" y1="174.8" x2="509.84" y2="172.4" stroke="#555" stroke-width="0.9" />
<line x1="312.97" y1="174.8" x2="312.97" y2="173.4" stroke="#555" stroke-width="0.9" />
<line x1="356.72" y1="174.8" x2="356.72" y2="173.4" stroke="#555" stroke-width="0.9" />
<line x1="400.47" y1="174.8" x2="400.47" y2="173.4" stroke="#555" stroke-width="0.9" />
<line x1="444.22" y1="174.8" x2="444.22" y2="173.4" stroke="#555" stroke-width="0.9" />
<line x1="487.97" y1="174.8" x2="487.97" y2="173.4" stroke="#555" stroke-width="0.9" />
<text x="291.1" y="191" font-size="9.6" text-anchor="middle" fill="#222" font-weight="normal"  >1000</text>
<text x="334.85" y="191" font-size="9.6" text-anchor="middle" fill="#222" font-weight="normal"  >1200</text>
<text x="378.6" y="191" font-size="9.6" text-anchor="middle" fill="#222" font-weight="normal"  >1400</text>
<text x="422.34" y="191" font-size="9.6" text-anchor="middle" fill="#222" font-weight="normal"  >1600</text>
<text x="466.09" y="191" font-size="9.6" text-anchor="middle" fill="#222" font-weight="normal"  >1800</text>
<text x="509.84" y="191" font-size="9.6" text-anchor="middle" fill="#222" font-weight="normal"  >2000</text>
<text x="395.5" y="207" font-size="9.7" text-anchor="middle" fill="#222">Raman shift (cm<tspan dy="-3.6" font-size="6.2">−1</tspan><tspan dy="3.6">)</tspan></text>
<text x="0" y="0" font-size="9.7" text-anchor="middle" fill="#222" font-weight="normal"  transform="translate(274.5,93) rotate(-90)">Intensity (a.u.)</text>
<line x1="291.7" y1="27.2" x2="312.1" y2="27.2" stroke="#7e1a86" stroke-width="1.5" />
<text x="316.8" y="29.7" font-size="7" text-anchor="start" fill="#222" font-weight="normal"  >NUS-24 nanosheets</text>
<line x1="291.7" y1="38.8" x2="312.1" y2="38.8" stroke="#1d8220" stroke-width="1.5" />
<text x="316.8" y="41.3" font-size="7" text-anchor="start" fill="#222" font-weight="normal"  >NUS-24 bulk</text>
<rect x="432.7" y="10.4" width="73.6" height="105" fill="#fff" stroke="#555" stroke-width="0.9"/>
<path d="M432.9,73.8l.4-.1 .4-.1 .4 0 .4-.1 .4-.1 .4 0 .4-.1 .4 0 .4-.1 .4-.1 .4-.2 .4 0 .3-.1 .1 0 .4-.1 .4-.1 .4-.1 .4-.1 .4-.1 .4-.1 .4-.1 .4-.2 .4-.1 .4-.1 .4-.1 .4-.1 .1-.1 .3-.1 .4-.1 .4-.3 .4-.2 .4-.2 .4-.1 .4-.3 .4-.3 .4-.2 .4-.3 .4-.3 .4-.2 .3-.2 .1-.1 .4-.2 .4-.3 .4-.3 .4-.3 .4-.3 .4-.4 .4-.3 .4-.4 .4-.3 .4-.4 .4-.3 0-.1 .4-.3 .4-.4 .4-.3 .4-.4 .4-.4 .4-.4 .4-.5 .4-.4 .4-.5 .4-.5 .4-.4 .4-.6 .4-.6 .4-.7 .4-.7 .4-.7 .4-.6 .4-.5 .3-.5 .1-.2 .4-.6 .4-.6 .4-.7 .4-.6 .4-.7 .4-.7 .4-.7 .1-.1 .3-.5 .4-.8 .4-.7 .4-.7 .4-.8 .4-.8 .4-.8 .4-.8 .4-.9 .4-.8 .4-.7 .4-.7 .4-.5 .4-.3 .4-.2 .4 0 .2 0 .2 .1 .4 .3 .3 .4 .1 .1 .4 .6 .4 .7 .4 .8 .1 .1 .3 .7 .4 1.1 .4 1.1 .3 .9 .1 .2 .4 1.2 .4 1.1 .4 1.2 .4 1.3 .1 .4 .3 .9 .4 1.4 .4 1.5 .4 1.4 .4 1.3 .1 .3 .3 .9 .4 1.1 .4 1.1 .4 1.1 .4 1 .4 .9 .4 1 .4 .9 .4 .9 .4 .8 .4 .8 .4 .8 .4 .7 .4 .7 .4 .8 .4 .6 .4 .6 .3 .4 .1 .2 .4 .5 .4 .5 .4 .5 .4 .4 .4 .5 .3 .2 .1 .1 .4 .3 .4 .3 .4 .2 .4 .3 .4 .2 .4 .3 .4 .2 .4 .1 .3 .2 .1 0 .4 .2 .4 .2 .4 .1 .4 .2 .4 .2 .4 .2 .4 .1 .4 .2 .4 .1 .2 .1 .2 .1 .4 .1 .4 .1 .4 .1 .4 .2 .4 .1 .4 .1 .4 .1 .4 .1 .4 .1 .4 .1 .4 .1 .4 .1 .4 0 .4 .1 .3 .1 .1 .1 .4 .1 .4 0 .4 .1 .4 0 .4 .1 .4 .1 .4 .1 .4 0 .4 .1 .4 .1 .4 .1 .4 .1 .4 .1 .4 .1 .4 0" fill="none" stroke="#7e1a86" stroke-width="0.9" stroke-linejoin="round" />
<path d="M432.9,97.8l.4 0 .4-.1 .4-.1 .4 0 .4-.1 .4 0 .4-.1 .4-.1 .4 0 .4-.1 .4 0 .4-.1 .3-.1 .1 0 .4-.1 .4-.1 .4-.1 .4 0 .4-.1 .4-.1 .4-.1 .4-.1 .4-.1 .4 0 .4-.1 .4-.2 .1-.1 .3 0 .4-.1 .4-.1 .4-.1 .4-.1 .4-.2 .4-.2 .4-.1 .4-.1 .4-.2 .4-.1 .4-.2 .3-.1 .1-.1 .4-.1 .4-.2 .4-.1 .4-.2 .4-.3 .4-.2 .4-.1 .4-.2 .4-.2 .4-.2 .4-.2 0-.1 .4-.2 .4-.1 .4-.2 .4-.3 .4-.2 .4-.2 .4-.2 .4-.2 .4-.3 .4-.2 .4-.3 .4-.2 .4-.3 .4-.3 .4-.3 .4-.3 .4-.3 .4-.3 .3-.2 .1-.1 .4-.3 .4-.3 .4-.3 .4-.4 .4-.3 .4-.3 .4-.4 .1 0 .3-.3 .4-.4 .4-.3 .4-.5 .4-.3 .4-.4 .2-.2 .2-.2 .4-.4 .4-.3 .3-.1 .1-.1 .4-.1 .4 0 .1 0 .3 0 .4 .2 .4 .2 .4 .2 .4 .3 .4 .4 .4 .4 .4 .4 .1 .1 .3 .4 .4 .4 .4 .5 .4 .5 .4 .6 .4 .5 .4 .4 .3 .4 .1 .2 .4 .4 .4 .5 .4 .4 .4 .5 .4 .4 .4 .5 .4 .5 .1 .1 .3 .4 .4 .5 .4 .4 .4 .5 .4 .5 .4 .5 .2 .2 .2 .2 .4 .4 .4 .4 .4 .4 .4 .4 .4 .3 .3 .3 .1 .1 .4 .3 .4 .2 .4 .3 .4 .3 .4 .3 .4 .3 .4 .2 .4 .2 .4 .2 .3 .2 .1 0 .4 .2 .4 .3 .4 .2 .4 .2 .4 .2 .4 .1 .4 .2 .4 .2 .4 .2 .3 .1 .1 .1 .4 .1 .4 .1 .4 .2 .4 .1 .4 .1 .4 .2 .4 .1 .4 .1 .4 .1 .4 .2 .4 .1 .4 .1 .1 .1 .3 0 .4 .1 .4 .1 .4 .1 .4 0 .4 .1 .4 .1 .4 .1 .4 0 .4 .1 .4 .1 .4 0 .3 .1 .1 0 .4 .1 .4 0 .4 .1 .4 .1 .4 0 .4 0 .4 .1 .4 .1 .4 0 .4 0 .4 .1 .4 0 .4 0 .4 0 .4 0 0 .1" fill="none" stroke="#1d8220" stroke-width="0.9" stroke-linejoin="round" />
<line x1="467.2" y1="10.4" x2="467.2" y2="115.4" stroke="#222" stroke-width="0.8" stroke-dasharray="2.6 2"/>
<text x="464.8" y="41.2" font-size="6.7" text-anchor="end" fill="#222" font-weight="normal"  >1588</text>
<text x="464" y="81.8" font-size="6.7" text-anchor="end" fill="#222" font-weight="normal"  >1585</text>
<text x="443" y="126.2" font-size="6.6" text-anchor="middle" fill="#222" font-weight="normal"  >1560</text>
<text x="462.33" y="126.2" font-size="6.6" text-anchor="middle" fill="#222" font-weight="normal"  >1580</text>
<text x="481.67" y="126.2" font-size="6.6" text-anchor="middle" fill="#222" font-weight="normal"  >1600</text>
<text x="501" y="126.2" font-size="6.6" text-anchor="middle" fill="#222" font-weight="normal"  >1620</text>
<line x1="443" y1="115.4" x2="443" y2="113.6" stroke="#555" stroke-width="0.9" />
<line x1="462.33" y1="115.4" x2="462.33" y2="113.6" stroke="#555" stroke-width="0.9" />
<line x1="481.67" y1="115.4" x2="481.67" y2="113.6" stroke="#555" stroke-width="0.9" />
<line x1="501" y1="115.4" x2="501" y2="113.6" stroke="#555" stroke-width="0.9" />
<line x1="452.67" y1="115.4" x2="452.67" y2="114.2" stroke="#555" stroke-width="0.9" />
<line x1="472" y1="115.4" x2="472" y2="114.2" stroke="#555" stroke-width="0.9" />
<line x1="491.33" y1="115.4" x2="491.33" y2="114.2" stroke="#555" stroke-width="0.9" />
<text x="-0.8" y="229.6" font-size="15" text-anchor="start" fill="#000" font-weight="bold"  >c</text>
<path d="M18.9,248l.5 0 .5 0 .5 0 .5 0 .5 0 .5 0 .5 0 .5 0 .5 0 .5 0 .5 0 .5 0 .5 .1 .5 0 .5 .1 .5 0 .5 .1 .5 0 .5 .2 .5 .2 .5 .3 .5 .4 .5 .4 .5 .5 .5 .7 .5 .8 .5 1.1 .5 1.3 .5 1.7 .5 1.9 .5 2.4 .5 2.5 .5 2.3 .5 2.5 .5 2.6 .5 2.7 .5 2.8 .5 3.1 .5 3.1 .5 3.2 .5 3.2 .5 3.4 .5 3.3 .5 3 .5 3.1 .5 3.4 .5 4.1 .5 6.5 .5 8.3 .5 7.5 .5 5.6 .5 4.8 .5 4.2 .5 3.9 .5 3.5 .5 3.3 .5 3 .5 2.6 .5 2.4 .5 2.3 .5 2.1 .5 1.9 .5 1.7 .5 1.5 .5 1.4 .5 1.2 .5 1.1 .5 1.1 .5 1 .5 .9 .5 .8 .5 .7 .5 .7 .5 .6 .5 .6 .5 .6 .5 .5 .5 .5 .5 .5 .5 .3 .5 .3 .5 .3 .5 .2 .5 .2 .5 .3 .5 .1 .5 .2 .5 .2 .5 .2 .5 .1 .5 .2 .5 .1 .5 .1 .5 .1 .5 .1 .5 0 .5 .1 .5 0 .5 0 .5 .1 .5 0 .5 0 .5 .1 .5 0 .5 0 .5 0 .5 0 .5 .1 .5 0 .5 0 .5 0 .5 0 .5 0 .5 0 .5 .1 .5 0 .5 0 .5 0 .5 0 .5 0 .5 0 .5 0 .5 0 .5 0 .5 0 .5 0 .5 0 .5 0 .5 0 .5 0 .5 0 .5 0 .5 0 .5 0 .5 0 .5 0 .5 0 .5 0 .5 0 .5 0 .5 0 .5 0 .5 0 .5 0 .5 0 .5 0 .5 0 .5 0 .5 0 .5 0 .5 0 .5 0 .5 0 .5 0 .5 0 .5 0 .5 .1 .5 0 .5 0 .5 0 .5 0 .5 0 .5 0 .5 0 .5 0 .5 0 .5 0 .5 0 .5 0 .5 0 .5 0 .5 0 .5 0 .5 0 .5 0 .5 0 .5 0 .5 0 .5 0 .5 0 .5 0 .5 0 .5 0 .5 0 .5 0 .5 0 .5 0 .5 0 .5 0 .5 0 .5 0 .5 0 .5 0 .5 0 .5 0 .5 0 .5 0 .5 0 .5 0 .5 0 .5 0 .5 0 .5 0 .5 0 .5 0 .5 0 .5 0 .5 0 .5 0 .5 0 .5 0 .5 0 .5 0 .5 0 .5 0 .5 0 .5 0 .5 0 .5 0 .5 0 .5 0 .5 0 .5 0 .5 0 .5 0 .5 0 .5 0 .5 0 .5 0 .5 0 .5 0 .5 0 .5 0 .5 0 .5 0 .5 0 .5 0 .5 0 .5 0 .5 0 .5 0 .5 0 .5 0 .5 0 .5 0 .5 0 .5 0 .5 0 .5 0 .5 0 .5 0 .5 0 .5 0 .5 0 .5 0 .5 0 .5 0 .5 0 .5 0 .5 .1 .5 0 .5 0 .5 0 .5 0 .5 0 .5 0 .5 0 .5 0 .5 0 .5 0 .5 0 .5 0 .5 0 .5 0 .5 0 .5 0 .5 0 .5 0 .5 0 .5 0 .5 0 .5 0 .5 0 .5 0 .5 0 .5 0 .5 0 .5 0 .5 0 .5 0 .5 0 .5 0 .5 0 .5 0 .5 0 .5 0 .5 0 .5 0 .5 0 .5 0 .5 0 .5 0 .5 0 .5 0 .5 0 .5 0 .5 0 .5 0 .5 0 .5 0 .5 0 .5 0 .5 0 .5 0 .5 0 .5 0 .5 0 .5 0 .5 0 .5 0 .5 0 .5 0 .5 0 .5 0 .5 0 .5 0 .5 0 .5 0 .5 0 .5 0 .5 0 .5 0 .5 0 .5 0 .5 0 .5 0 .5 0 .5 0 .5 0 .5 0 .5 0 .5 0 .5 0 .5 0 .5 0 .5 0 .5 0 .5 0 .5 0 .5 0 .5 0 .5 0 .5 0 .5 0 .5 0 .5 0 .5 0 .5 0 .5 0 .5 0 .5 0 .5 0 .5 0 .5 0 .5 0 .5 0 .5 0 .5 0 .5 0 .5 0 .5 0 .5 0 .5 0 .5 0 .5 0 .5 0 .5 0 .5 0 .5 0 .5 0 .5 0 .5 0 .5 0 .5 0 .5 0 .5 0 .5 0 .5 0 .5 0 .5 0 .5 0 .5 0 .5 0 .5 0 .5 0 .5 0 .5 0 .5 0 .5 0 .5 0 .5 0 .5 0 .5 0 .5 0 .5 0 .5 0 .5 0 .5 0 .5 0 .5 0 .5 0 .5 0 .5 0 .5 0 .5 0 .5 0 .5 0 .5 0 .5 0 .5 0 .5 0 .5 0 .5 0 .5 0 .5 0 .5 0 .5 0 .5 0 .5 0 .5 0 .5 0 .5 0 .5 0 .5 0 .5 0 .5 0 .5 0 .5 0 .5 0 .5 0 .5 0 .5 0 .5 0 .5 0 .5 0 .5 0 .5 0 .5 0 .5 0 .5 0" fill="none" stroke="#111" stroke-width="1.45" stroke-linejoin="round" stroke-dasharray="0.1 2.1" stroke-linecap="round"/>
<path d="M18,281l.5-.2 .5-.3 .5-.3 .5-.3 .5-.3 .5-.4 .5-.5 .5-.5 .5-.5 .5-.4 .5-.3 .5-.2 .5-.2 .5-.2 .5-.1 .5-.2 .5-.1 .5 0 .5-.1 .5 0 .5 .1 .5 .2 .5 .2 .5 .3 .5 .3 .5 .3 .5 .5 .5 .5 .5 .5 .5 .7 .5 .7 .5 .9 .5 .9 .5 1.1 .5 1.1 .5 1.1 .5 1.1 .5 1.1 .5 1.1 .5 1.2 .5 1.1 .5 1.2 .5 1.3 .5 1.3 .5 1.2 .5 1.4 .5 1.4 .5 1.7 .5 1.9 .5 2.5 .5 2.7 .5 2.9 .5 2.8 .5 2.6 .5 2.6 .5 2.5 .5 2.6 .5 2.6 .5 2.6 .5 2.5 .5 2.6 .5 2.6 .5 2.7 .5 2.7 .5 2.7 .5 2.5 .5 2.3 .5 2.2 .5 2 .5 1.9 .5 1.9 .5 1.8 .5 1.6 .5 1.6 .5 1.5 .5 1.4 .5 1.4 .5 1.4 .5 1.3 .5 1.2 .5 1.2 .5 1.1 .5 1.1 .5 1 .5 1 .5 .9 .5 .8 .5 .8 .5 .7 .5 .8 .5 .7 .5 .7 .5 .6 .5 .6 .5 .6 .5 .5 .5 .5 .5 .5 .5 .3 .5 .4 .5 .3 .5 .3 .5 .3 .5 .3 .5 .3 .5 .3 .5 .3 .5 .2 .5 .2 .5 .2 .5 .2 .5 .1 .5 .2 .5 0 .5 .1 .5 0 .5 .1 .5 0 .5 .1 .5 0 .5 0 .5 .1 .5 0 .5 0 .5 0 .5 .1 .5 0 .5 0 .5 0 .5 .1 .5 0 .5 0 .5 0 .5 0 .5 0 .5 .1 .5 0 .5 0 .5 0 .5 0 .5 0 .5 0 .5 0 .5 0 .5 0 .5 0 .5 0 .5 0 .5 0 .5 0 .5 0 .5 0 .5 0 .5 0 .5 0 .5 0 .5 0 .5 0 .5 0 .5 0 .5 0 .5 0 .5 0 .5 0 .5 0 .5 0 .5 0 .5 0 .5 0 .5 0 .5 0 .5 0 .5 0 .5 0 .5 0 .5 0 .5 0 .5 0 .5 0 .5 0 .5 0 .5 0 .5 0 .5 0 .5 0 .5 0 .5 0 .5 0 .5 0 .5 0 .5 0 .5 0 .5 0 .5 0 .5 0 .5 0 .5 0 .5 0 .5 0 .5 0 .5 0 .5 0 .5 0 .5 0 .5 0 .5 0 .5 0 .5 0 .5 0 .5 0 .5 0 .5 0 .5 0 .5 0 .5 0 .5 0 .5 0 .5 0 .5 0 .5 0 .5 0 .5 0 .5 0 .5 0 .5 0 .5 0 .5 0 .5 0 .5 0 .5 0 .5 0 .5 0 .5 0 .5 0 .5 0 .5 0 .5 0 .5 0 .5 0 .5 0 .5 0 .5 0 .5 0 .5 0 .5 0 .5 0 .5 0 .5 0 .5 0 .5 0 .5 0 .5 0 .5 0 .5 0 .5 0 .5 0 .5 0 .5 0 .5 0 .5 0 .5 0 .5 0 .5 0 .5 0 .5 0 .5 0 .5 0 .5 0 .5 0 .5 0 .5 0 .5 0 .5 0 .5 0 .5 0 .5 0 .5 0 .5 0 .5 0 .5 0 .5 0 .5 0 .5 0 .5 0 .5 0 .5 0 .5 0 .5 0 .5 0 .5 0 .5 0 .5 0 .5 0 .5 0 .5 0 .5 0 .5 0 .5 0 .5 0 .5 0 .5 0 .5 0 .5 0 .5 0 .5 0 .5 0 .5 0 .5 0 .5 0 .5 0 .5 0 .5 0 .5 0 .5 0 .5 0 .5 0 .5 0 .5 0 .5 0 .5 0 .5 0 .5 0 .5 0 .5 0 .5 0 .5 0 .5 0 .5 0 .5 0 .5 0 .5 0 .5 0 .5 0 .5 0 .5 0 .5 0 .5 0 .5 0 .5 0 .5 0 .5 0 .5 0 .5 0 .5 0 .5 0 .5 0 .5 0 .5 0 .5 0 .5 0 .5 0 .5 0 .5 0 .5 0 .5 0 .5 0 .5 0 .5 0 .5 0 .5 0 .5 0 .5 0 .5 0 .5 0 .5 0 .5 0 .5 0 .5 0 .5 0 .5 0 .5 0 .5 0 .5 0 .5 0 .5 0 .5 0 .5 0 .5 0 .5 0 .5 0 .5 0 .5 0 .5 0 .5 0 .5 0 .5 0 .5 0 .5 0 .5 0 .5 0 .5 0 .5 0 .5 0 .5 0 .5 0 .5 0 .5 0 .5 0 .5 0 .5 0 .5 0 .5 0 .5 0 .5 0 .5 0 .5 0 .5 0 .5 0 .5 0 .5 0 .5 0 .5 0 .5 0 .5 0 .5 0 .5 0 .5 0 .5 0 .5 0 .5 0 .5 0 .5 0 .5 0 .5 0 .5 0 .5 0 .5 0 .5 0 .5 0 .5 0 .5 0 .5 0 .5 0 .5 0 .5 0 .5 0 .5 0 .5 0 .5 0 .5 0 .5 0 .5 0 .5 0 .5 0 .5 0 .5 0 .5 0 .5 0 .5 0 .5 0 .5 0 .5 0" fill="none" stroke="#2c2ce0" stroke-width="1.45" stroke-linejoin="round" stroke-dasharray="0.1 2.1" stroke-linecap="round"/>
<path d="M14.6,238 L15.2,262 M15.9,240 L16.3,256 M17.2,244 L17.6,262 M18.4,248 L18.8,258" stroke="#111" stroke-width="1.2" stroke-dasharray="1.2 0.8" fill="none"/>
<path d="M14.6,266 L15.2,295 M15.9,272 L16.4,292 M17.2,276 L17.6,290 M18.4,278 L18.8,286" stroke="#2c2ce0" stroke-width="1.1" stroke-dasharray="1.1 0.9" fill="none"/>
<path d="M14.2,330l.3-6.2 .3-3.4 .3-1.3 .3 1.9 .3 7.5 .3 7.5 .3 1.6 .3-4.5 .3-6.1 .3-3 .3 2.7 .3 5.8 .3 5.8 .3 2.7 .3-1.3 .3-2.7 .3-2.4 .3-.3 .3 3 .3 4.4 .3 3 .3-.1 .3-2 .3-2.9 .3-2.9 .3-2.5 .3-2.7 .3-2.7 .3-2.3 .3-1.7 .3-1.5 .3-1.3-.8 2.8 .4-1.2 .4-1.1 .4-1.1 .4-1 .4-.9 .4-.8 .4-.8 .4-.7 .4-.6 .4-.6 .4-.5 .4-.5 .4-.4 .4-.4 .4-.4 .4-.3 .4-.3 .4-.2 .4-.2 .4-.2 .4-.2 .4-.2 .4-.1 .4-.2 .4-.1 .4-.1 .4-.1 .4-.1 .4-.1 .4-.1 .4-.1 .4-.1 .4-.1 .4-.1 .4-.1 .4-.1 .4 0 .4-.1 .4 0 .4-.1 .4 0 .4-.1 .4 0 .4 0 .4 0 .4-.1 .4 0 .4 0 .4 0 .4 0 .4 .1 .4 0 .4 0 .4 0 .4 .1 .4 0 .4 .1 .4 .1 .4 0 .4 .1 .4 .1 .4 .1 .4 .1 .4 .1 .4 .1 .4 .1 .4 .1 .4 .2 .4 .1 .4 .2 .4 .1 .4 .2 .4 .2 .4 .2 .4 .2 .4 .1 .4 .3 .4 .2 .4 .2 .4 .2 .4 .2 .4 .3 .4 .2 .4 .3 .4 .3 .4 .2 .4 .3 .4 .3 .4 .3 .4 .3 .4 .3 .4 .3 .4 .3 .4 .3 .4 .3 .4 .3 .4 .4 .4 .3 .4 .3 .4 .4 .4 .3 .4 .4 .4 .3 .4 .4 .4 .4 .4 .3 .4 .4 .4 .4 .4 .4 .4 .4 .4 .3 .4 .4 .4 .4 .4 .4 .4 .4 .4 .4 .4 .4 .4 .4 .4 .5 .4 .4 .4 .4 .4 .4 .4 .4 .4 .4 .4 .5 .4 .4 .4 .4 .4 .4 .4 .5 .4 .4 .4 .4 .4 .4 .4 .5 .4 .4 .4 .4 .4 .5 .4 .4 .4 .4 .4 .5 .4 .4 .4 .4 .4 .5 .4 .4 .4 .4 .4 .4 .4 .5 .4 .4 .4 .4 .4 .4 .4 .5 .4 .4 .4 .4 .4 .4 .4 .4 .4 .4 .4 .5 .4 .4 .4 .4 .4 .4 .4 .4 .4 .4 .4 .4 .4 .4 .4 .3 .4 .4 .4 .4 .4 .4 .4 .4 .4 .3 .4 .4 .4 .4 .4 .3 .4 .4 .4 .3 .4 .4 .4 .3 .4 .3 .4 .4 .4 .3 .4 .3 .4 .4 .4 .3 .4 .3 .4 .3 .4 .3 .4 .3 .4 .3 .4 .3 .4 .3 .4 .3 .4 .3 .4 .3 .4 .3 .4 .2 .4 .3 .4 .3 .4 .3 .4 .2 .4 .3 .4 .2 .4 .3 .4 .2 .4 .3 .4 .2 .4 .3 .4 .2 .4 .2 .4 .3 .4 .2 .4 .2 .4 .3 .4 .2 .4 .2 .4 .2 .4 .2 .4 .2 .4 .2 .4 .2 .4 .2 .4 .2 .4 .2 .4 .2 .4 .2 .4 .2 .4 .2 .4 .2 .4 .2 .4 .1 .4 .2 .4 .2 .4 .2 .4 .1 .4 .2 .4 .2 .4 .1 .4 .2 .4 .1 .4 .2 .4 .1 .4 .2 .4 .1 .4 .2 .4 .1 .4 .2 .4 .1 .4 .1 .4 .2 .4 .1 .4 .1 .4 .2 .4 .1 .4 .1 .4 .1 .4 .1 .4 .2 .4 .1 .4 .1 .4 .1 .4 .1 .4 .1 .4 .1 .4 .1 .4 .2 .4 .1 .4 .1 .4 .1 .4 .1 .4 .1 .4 0 .4 .1 .4 .1 .4 .1 .4 .1 .4 .1 .4 .1 .4 .1 .4 .1 .4 0 .4 .1 .4 .1 .4 .1 .4 .1 .4 0 .4 .1 .4 .1 .4 .1 .4 0 .4 .1 .4 .1 .4 .1 .4 0 .4 .1 .4 .1 .4 0 .4 .1 .4 .1 .4 0 .4 .1 .4 .1 .4 0 .4 .1 .4 0 .4 .1 .4 .1 .4 0 .4 .1 .4 0 .4 .1 .4 .1 .4 0 .4 .1 .4 0 .4 .1 .4 0 .4 .1 .4 0 .4 .1 .4 .1 .4 0 .4 .1 .4 0 .4 .1 .4 0 .4 .1 .4 0 .4 .1 .4 0 .4 .1 .4 0 .4 .1 .4 0 .4 .1 .4 0 .4 .1 .4 .1 .4 0 .4 .1 .4 0 .4 .1 .4 0 .4 .1 .4 0 .4 .1 .4 0 .4 .1 .4 0 .4 .1 .4 0 .4 .1 .4 0 .4 .1 .4 0 .4 .1 .4 0 .4 .1 .4 0 .4 .1 .4 0 .4 .1 .4 0 .4 .1 .4 0 .4 .1 .4 0 .4 .1 .4 0 .4 .1 .4 0 .4 .1 .4 0 .4 0 .4 .1 .4 0 .4 .1 .4 0 .4 .1 .4 0 .4 .1 .4 0 .4 .1 .4 0 .4 .1 .4 0 .4 .1 .4 0 .4 0 .4 .1 .4 0 .4 .1 .4 0 .4 .1 .4 0 .4 .1 .4 0 .4 0 .4 .1 .4 0 .4 .1 .4 0 .4 .1 .4 0 .4 .1 .4 0 .4 0 .4 .1 .4 0 .4 .1 .4 0 .4 0 .4 .1 .4 0 .4 .1 .4 0 .4 .1 .4 0 .4 0 .4 .1 .4 0 .4 .1 .4 0 .4 0 .4 .1 .4 0 .4 0 .4 .1 .4 0 .4 .1 .4 0 .4 0 .4 .1 .4 0 .4 .1 .4 0 .4 0 .4 .1 .4 0 .4 0 .4 .1 .4 0 .4 0 .4 .1 .4 0 .4 .1 .4 0 .4 0 .4 .1 .4 0 .4 0 .4 .1 .4 0 .4 0 .4 .1 .4 0 .4 0 .4 .1 .4 0 .4 0 .4 .1 .4 0 .4 0 .4 .1 .4 0 .4 0 .4 0 .4 .1 .4 0 .4 0 .4 .1 .4 0 .4 0 .4 .1 .4 0 .4 0 .4 0 .4 .1 .4 0 .4 0 .4 .1 .4 0 .4 0 .4 0 .4 .1 .4 0 .4 0 .4 0 .4 .1 .4 0 .4 0 .4 0 .4 .1 .4 0 .4 0 .4 0 .4 .1 .4 0 .4 0 .4 0 .4 .1 .4 0 .4 0 .4 0 .4 0 .4 .1 .4 0 .4 0 .4 0 .4 0 .4 .1 .4 0 .4 0 .4 0 .4 0 .4 .1 .4 0 .4 0 .4 0 .4 0 .4 .1 .4 0 .4 0 .4 0 .4 0 .4 0 .4 .1 .4 0 .4 0 .4 0 .4 0 .4 0 .4 0 .4 .1 .4 0 .4 0 .4 0 .4 0 .4 0 .4 0 .4 .1 .4 0 .4 0 .4 0 .4 0 .4 0 .4 0 .4 0 .4 0 .4 0 .4 .1 .4 0 .4 0 .4 0 .4 0" fill="none" stroke="#7e1a86" stroke-width="1.35" stroke-linejoin="round" />
<path d="M23.2,395.6l.3-3.4 .3-3 .3-2.5 .3-1.9 .3-1.7 .3-1.5 .3-1.3 .3-1.1 .3-1 .3-.9 .3-.7 .3-.7 .3-.7 .3-.6 .3-.5 .3-.6 .3-.6 .3-.6 .3-.6 .3-.6 .3-.6 .3-.6 .3-.6 .3-.6 .3-.5 .3-.5 .1-.1 .4-.6 .4-.5 .4-.6 .4-.5 .4-.6 .4-.6 .4-.5 .4-.6 .4-.6 .4-.6 .4-.6 .4-.6 .4-.6 .4-.7 .4-.6 .4-.6 .4-.7 .4-.6 .4-.7 .4-.6 .4-.7 .4-.6 .4-.7 .4-.7 .4-.6 .4-.7 .4-.7 .4-.7 .4-.6 .4-.7 .4-.7 .4-.7 .4-.7 .4-.7 .4-.7 .4-.7 .4-.7 .4-.7 .4-.7 .4-.6 .4-.7 .4-.7 .4-.7 .4-.7 .4-.7 .4-.7 .4-.7 .4-.7 .4-.7 .4-.7 .4-.7 .4-.7 .4-.7 .4-.7 .4-.6 .4-.7 .4-.7 .4-.7 .4-.6 .4-.7 .4-.7 .4-.6 .4-.7 .4-.6 .4-.7 .4-.6 .4-.7 .4-.6 .4-.6 .4-.7 .4-.6 .4-.6 .4-.6 .4-.6 .4-.6 .4-.5 .4-.6 .4-.6 .4-.6 .4-.5 .4-.5 .4-.6 .4-.5 .4-.5 .4-.5 .4-.5 .4-.5 .4-.5 .4-.5 .4-.4 .4-.5 .4-.4 .4-.5 .4-.4 .4-.4 .4-.4 .4-.4 .4-.4 .4-.3 .4-.4 .4-.3 .4-.3 .4-.4 .4-.3 .4-.2 .4-.3 .4-.3 .4-.2 .4-.3 .4-.2 .4-.2 .4-.2 .4-.2 .4-.1 .4-.2 .4-.1 .4-.2 .4-.1 .4-.1 .4-.1 .4 0 .4-.1 .4-.1 .4 0 .4 0 .4 0 .4 0 .4 0 .4 .1 .4 0 .4 .1 .4 0 .4 .1 .4 .1 .4 .2 .4 .1 .4 .1 .4 .2 .4 .2 .4 .1 .4 .2 .4 .2 .4 .3 .4 .2 .4 .2 .4 .3 .4 .2 .4 .3 .4 .3 .4 .3 .4 .3 .4 .3 .4 .3 .4 .3 .4 .4 .4 .3 .4 .3 .4 .4 .4 .4 .4 .3 .4 .4 .4 .4 .4 .4 .4 .4 .4 .4 .4 .4 .4 .4 .4 .4 .4 .5 .4 .4 .4 .4 .4 .5 .4 .4 .4 .5 .4 .4 .4 .5 .4 .4 .4 .5 .4 .4 .4 .5 .4 .4 .4 .5 .4 .5 .4 .4 .4 .5 .4 .5 .4 .4 .4 .5 .4 .5 .4 .4 .4 .5 .4 .5 .4 .4 .4 .5 .4 .5 .4 .4 .4 .5 .4 .5 .4 .4 .4 .5 .4 .4 .4 .5 .4 .4 .4 .5 .4 .4 .4 .5 .4 .4 .4 .4 .4 .5 .4 .4 .4 .4 .4 .4 .4 .4 .4 .4 .4 .4 .4 .4 .4 .4 .4 .4 .4 .4 .4 .4 .4 .3 .4 .4 .4 .4 .4 .3 .4 .4 .4 .3 .4 .4 .4 .3 .4 .3 .4 .4 .4 .3 .4 .3 .4 .4 .4 .3 .4 .3 .4 .3 .4 .3 .4 .3 .4 .3 .4 .3 .4 .3 .4 .3 .4 .3 .4 .3 .4 .2 .4 .3 .4 .3 .4 .3 .4 .2 .4 .3 .4 .3 .4 .2 .4 .3 .4 .2 .4 .3 .4 .2 .4 .3 .4 .2 .4 .2 .4 .3 .4 .2 .4 .2 .4 .3 .4 .2 .4 .2 .4 .2 .4 .3 .4 .2 .4 .2 .4 .2 .4 .2 .4 .2 .4 .2 .4 .2 .4 .2 .4 .2 .4 .2 .4 .2 .4 .2 .4 .2 .4 .2 .4 .2 .4 .2 .4 .1 .4 .2 .4 .2 .4 .2 .4 .2 .4 .1 .4 .2 .4 .2 .4 .1 .4 .2 .4 .2 .4 .2 .4 .1 .4 .2 .4 .1 .4 .2 .4 .2 .4 .1 .4 .2 .4 .1 .4 .2 .4 .2 .4 .1 .4 .2 .4 .1 .4 .2 .4 .1 .4 .2 .4 .1 .4 .2 .4 .1 .4 .2 .4 .1 .4 .2 .4 .1 .4 .2 .4 .1 .4 .2 .4 .1 .4 .2 .4 .1 .4 .2 .4 .1 .4 .1 .4 .2 .4 .1 .4 .2 .4 .1 .4 .2 .4 .1 .4 .2 .4 .1 .4 .2 .4 .1 .4 .2 .4 .1 .4 .1 .4 .2 .4 .1 .4 .2 .4 .1 .4 .2 .4 .1 .4 .2 .4 .1 .4 .2 .4 .1 .4 .1 .4 .2 .4 .1 .4 .2 .4 .1 .4 .2 .4 .1 .4 .2 .4 .1 .4 .1 .4 .2 .4 .1 .4 .2 .4 .1 .4 .2 .4 .1 .4 .2 .4 .1 .4 .1 .4 .2 .4 .1 .4 .2 .4 .1 .4 .2 .4 .1 .4 .1 .4 .2 .4 .1 .4 .2 .4 .1 .4 .1 .4 .2 .4 .1 .4 .2 .4 .1 .4 .2 .4 .1 .4 .1 .4 .2 .4 .1 .4 .2 .4 .1 .4 .1 .4 .2 .4 .1 .4 .2 .4 .1 .4 .1 .4 .2 .4 .1 .4 .2 .4 .1 .4 .1 .4 .2 .4 .1 .4 .1 .4 .2 .4 .1 .4 .2 .4 .1 .4 .1 .4 .2 .4 .1 .4 .1 .4 .2 .4 .1 .4 .1 .4 .2 .4 .1 .4 .1 .4 .2 .4 .1 .4 .1 .4 .2 .4 .1 .4 .1 .4 .2 .4 .1 .4 .1 .4 .2 .4 .1 .4 .1 .4 .2 .4 .1 .4 .1 .4 .2 .4 .1 .4 .1 .4 .2 .4 .1 .4 .1 .4 .1 .4 .2 .4 .1 .4 .1 .4 .2 .4 .1 .4 .1 .4 .1 .4 .2 .4 .1 .4 .1 .4 .1 .4 .2 .4 .1 .4 .1 .4 .1 .4 .2 .4 .1 .4 .1 .4 .1 .4 .2 .4 .1 .4 .1 .4 .1 .4 .1 .4 .2 .4 .1 .4 .1 .4 .1 .4 .1 .4 .1 .4 .2 .4 .1 .4 .1 .4 .1 .4 .1 .4 .1 .4 .1 .4 .1 .4 .1 .4 .1 .4 .1 .4 .1 .4 .1 .4 .1 .4 .1 .4 .1 .4 .1 .4 .1 .4 .1 .4 .1 .4 0 .4 .1 .4 .1 .4 .1 .4 0 .4 .1 .4 .1 .4 0 .4 .1 .4 .1 .4 0 .4 .1 .4 0 .4 .1 .4 0 .4 0 .4 .1 .4 0 .4 0 .4 .1 .4 0 .4 0 .4 0 .4 .1 .4 0 .4 0 .4 0 .4 0 .4 0 .4 0 .4-.1 .4 0 .4 0 .4 0 .4 0 .4-.1 .4 0 .4-.1 .4 0 .4-.1" fill="none" stroke="#1d8220" stroke-width="1.35" stroke-linejoin="round" />
<text x="0" y="0" font-size="7" text-anchor="start" fill="#a0309a" font-weight="normal"  transform="translate(38.9,308.4) rotate(-90)">365</text>
<text x="0" y="0" font-size="7" text-anchor="start" fill="#2b8a2b" font-weight="normal"  transform="translate(86.4,299.6) rotate(-90)">430</text>
<rect x="13.8" y="226.9" width="230.4" height="168.9" fill="none" stroke="#555" stroke-width="1"/>
<line x1="63.8" y1="395.8" x2="63.8" y2="393.4" stroke="#555" stroke-width="0.9" />
<line x1="119.4" y1="395.8" x2="119.4" y2="393.4" stroke="#555" stroke-width="0.9" />
<line x1="175" y1="395.8" x2="175" y2="393.4" stroke="#555" stroke-width="0.9" />
<line x1="230.6" y1="395.8" x2="230.6" y2="393.4" stroke="#555" stroke-width="0.9" />
<line x1="36" y1="395.8" x2="36" y2="394.4" stroke="#555" stroke-width="0.9" />
<line x1="91.6" y1="395.8" x2="91.6" y2="394.4" stroke="#555" stroke-width="0.9" />
<line x1="147.2" y1="395.8" x2="147.2" y2="394.4" stroke="#555" stroke-width="0.9" />
<line x1="202.8" y1="395.8" x2="202.8" y2="394.4" stroke="#555" stroke-width="0.9" />
<text x="63.8" y="411.2" font-size="9.6" text-anchor="middle" fill="#222" font-weight="normal"  >400</text>
<text x="119.4" y="411.2" font-size="9.6" text-anchor="middle" fill="#222" font-weight="normal"  >500</text>
<text x="175" y="411.2" font-size="9.6" text-anchor="middle" fill="#222" font-weight="normal"  >600</text>
<text x="230.6" y="411.2" font-size="9.6" text-anchor="middle" fill="#222" font-weight="normal"  >700</text>
<text x="129" y="425.6" font-size="9.7" text-anchor="middle" fill="#222" font-weight="normal"  >Wavelength (nm)</text>
<text x="0" y="0" font-size="9.7" text-anchor="middle" fill="#222" font-weight="normal"  transform="translate(8.6,312.8) rotate(-90)">Absorbance (a.u.)</text>
<line x1="131" y1="248.3" x2="151.9" y2="248.3" stroke="#222" stroke-width="1.45" stroke-dasharray="0.1 2.1" stroke-linecap="round"/>
<text x="156.6" y="250.8" font-size="7" text-anchor="start" fill="#222" font-weight="normal"  >TPE-1</text>
<line x1="131" y1="259.8" x2="151.9" y2="259.8" stroke="#3333dd" stroke-width="1.45" stroke-dasharray="0.1 2.1" stroke-linecap="round"/>
<text x="156.6" y="262.3" font-size="7" text-anchor="start" fill="#222" font-weight="normal"  >TPE-2</text>
<line x1="131" y1="271.4" x2="151.9" y2="271.4" stroke="#1d8220" stroke-width="1.5" />
<text x="156.6" y="273.9" font-size="7" text-anchor="start" fill="#222" font-weight="normal"  >NUS-24 bulk</text>
<line x1="131" y1="282.9" x2="151.9" y2="282.9" stroke="#7e1a86" stroke-width="1.5" />
<text x="156.6" y="285.4" font-size="7" text-anchor="start" fill="#222" font-weight="normal"  >NUS-24 nanosheets</text>
<text x="265.3" y="232.9" font-size="14.5" text-anchor="start" fill="#000" font-weight="bold"  >d</text>
<path d="M280,310l.4 0 .4 0 .4-.1 .4 0 .4 0 .4 0 .4-.1 .4 0 .4 0 .4 0 .4 .1 .4 0 .4-.1 .4 0 .4 .1 .4 0 .4-.1 .4-.1 .4 0 .4 .1 .4 0 .4-.1 .4 0 .4 0 .4 0 .4-.1 .4 .1 .4 0 .4 0 .4-.1 .4 0 .4-.1 .4 .1 .4 0 .4 0 .4-.1 .4-.1 .4 0 .4 0 .4 0 .4 .1 .4 0 .4-.1 .4 0 .4 0 .4 0 .4 0 .4 0 .4 0 .4-.1 0-.1 .4 0 .4 0 .4 0 .4-.1 .4 0 .4 .1 .4 0 .4 0 .4 0 .4 0 .4-.1 .4 0 .4 .1 .4 0 .4 0 .4-.1 .4 0 .4-.1 .4 0 .4 0 .4 0 .4 0 .4 0 .4 0 .4 0 .4-.1 .4-.1 .4 0 .4 0 .4 0 .4 0 .4-.1 .4 0 .4 0 .4 0 .4 .1 .4-.1 .2 0 .2-.1 .4 0 .4 0 .4 .1 .4-.1 .4-.1 .4 0 .4 0 .4 0 .4-.1 .4 0 .4 0 .4 0 .4 .1 .4 0 .4-.1 .4 0 .4 0 .4 0 .4 0 .4 0 .4 0 .4 0 .4-.1 .4 0 .4 0 .4 0 .4 0 .4 0 .4-.1 .4-.1 .4 .1 .4-.1 .4-.1 .4 .1 .4 0 .4-.1 .4 0 .4 0 .4-.1 .4 0 .4 0 .4-.1 .4 0 .4 0 .4 0 .4 0 .4-.1 .4 0 .4 0 .4-.1 .4-.1 .4 0 .4 0 .4 0 .4 0 .4-.1 .4-.1 .4 0 .4 0 .4 0 .4-.1 .4 0 .4 0 .4-.1 .4 0 .4 0 .4-.1 .4-.1 .4 0 .4 0 .4 0 .4-.1 .4-.1 .4 0 .4-.1 .4-.1 .4-.1 .4 0 .4-.1 .4-.1 .3 0 .1 0 .4 0 .4 0 .4-.1 .4-.1 .4-.1 .4 0 .4-.1 .4-.1 .4-.1 .4-.1 .4 0 .4 0 .4-.1 .4-.2 .4 0 .4-.1 .4-.1 .4-.1 .4-.2 .4-.1 .4 0 .4-.1 .4-.1 .4-.2 .4-.1 .4-.2 .4-.1 .4 0 .4-.1 .4-.1 .2-.1 .2-.1 .4-.1 .4-.1 .4-.1 .4-.1 .4-.1 .4-.2 .4 0 .4 0 .4-.2 .4-.2 .4-.1 .4-.2 .4-.1 .4-.1 .4-.2 .4-.1 .4-.1 .4-.1 .4-.1 .4-.1 .4-.2 .4-.2 .4-.2 .4-.1 .4-.2 .4-.1 .4 0 .4-.2 .4-.3 .4-.2 0 .1 .4-.2 .4-.1 .4-.2 .4-.3 .4-.2 .4-.3 .4-.2 .4-.2 .4-.2 .4-.2 .4-.3 .4-.1 .4-.3 .3-.3 .1-.1 .4-.2 .4-.2 .4-.3 .4-.4 .4-.3 .4-.2 .4-.3 .4-.3 .4-.4 .4-.3 .4-.4 .4-.3 .2-.2 .2-.1 .4-.3 .4-.3 .4-.4 .4-.3 .4-.3 .4-.4 .4-.4 .4-.4 .4-.4 .4-.3 .2-.1 .2-.2 .4-.4 .4-.4 .4-.4 .4-.3 .4-.4 .4-.4 .4-.4 .4-.3 .4-.3 .4-.4 .1-.1 .3-.3 .4-.4 .4-.3 .4-.4 .4-.4 .4-.3 .4-.2 .4-.3 .4-.4 .4-.4 .4-.4 .4-.3 .4-.3 .4-.4 .4-.3 .4-.2 .4-.3 .4-.3 .4-.4 .4-.2 .4-.3 .4-.3 .4-.3 .4-.3 .4-.3 .4-.2 .4-.3 .4-.3 .4-.3 .4-.2 .4-.3 .4-.3 .4-.2 .1-.1 .3-.2 .4-.3 .4-.3 .4-.2 .4-.2 .4-.1 .4-.2 .4-.3 .4-.2 .4-.2 .4-.3 .4-.3 .4-.2 .4-.1 .4-.1 .4-.2 .4-.2 .4-.3 .4-.2 .4-.2 .4-.2 .2-.1 .2-.1 .4-.1 .4-.1 .4-.2 .4-.2 .4-.3 .4-.2 .4-.2 .4-.2 .4-.1 .4-.1 .4-.1 0-.1 .4-.2 .4-.2 .4-.1 .4-.2 .4-.1 .4-.2 .4-.1 .4-.1 .4-.2 .4-.1 .4-.1 .4-.2 .1 0 .3-.1 .4 0 .4-.2 .4-.1 .4-.2 .4-.1 .4-.2 .4 0 .4-.2 .4 0 .4-.2 .4-.1 .4-.2 .4-.2 .1 0 .3 0 .4-.1 .4-.1 .4-.1 .4-.2 .4-.2 .4-.3 .4-.1 .4-.1 .4-.1 .4-.1 .4-.2 .2-.1 .2-.1 .4-.2 .4 0 .4-.2 .4-.2 .4-.2 .4-.1 .4-.1 .4-.2 .4-.2 .4-.2 .4-.1 .4-.1 .4-.2 .2-.1 .2 0 .4-.2 .4-.3 .4-.1 .4-.1 .4-.1 .4-.2 .4-.1 .4-.1 .4-.1 .4-.2 .4-.1 .4-.2 .4-.2 .4-.1 .4 0 .4-.2 .4-.1 .4-.1 .4-.1 .4-.1 .4-.2 .4-.1 .4-.1 .4-.1 .4-.1 .4-.1 .4-.1 .4-.1 .4-.2 .4-.2 .4-.2 .4-.1 .4-.1 .4-.1 .4 0 .4-.1 .4-.2 .4-.1 .4-.2 .4-.2 .2-.1 .2 0 .4-.1 .4 0 .4-.2 .4-.1 .4 0 .4-.1 .4-.2 .4-.2 .4-.1 .4 0 .4 0 .4-.1 .4-.1 .4-.2 .4-.1 .3 0 .1 0 .4-.2 .4-.1 .4 0 .4 0 .4-.1 .4-.1 .4-.1 .4-.1 .4-.1 .4-.1 .4-.1 .4-.1 .4-.2 .4 0 .4 0 .4 0 .4-.1 .4-.2 .4-.1 .4-.1 .4 0 .4 0 .4-.1 .4-.1 .4-.1 .4 0 .4 0 .4-.2 .4-.1 .4-.1 .4 0 .4-.1 .4-.1 .4-.1 .4-.2 .2 0 .2-.1 .4 0 .4-.2 .4-.1 .4 0 .4-.1 .4-.2 .4-.2 .4-.1 .4-.1 .4-.2 .4-.1 .4-.1 .4-.2 .4-.1 .4-.2 .4-.2 .4-.1 .4-.2 .4-.3 .4-.2 .4-.2 .4-.2 .4-.3 .4-.1 .4-.3 0-.1 .4-.1 .4-.2 .4-.2 .4-.2 .4-.1 .4 0 .1 .1 .3 0 .4 0 .4-.1 .4 .2 .4 .2 .4 .1 .4 .1 .4 0 .4 0 .2 0 .2 .1 .4-.1 .4-.2 .4-.5 .4-.5 .4-.3 .4-.3 .2-.2 .2-.2 .4-.3 .4-.2 .4-.3 .4-.2 .4-.2 .4-.2 .4-.2 .4-.2 .4-.2 .4-.2 .4-.1 .4-.2 .4-.1 .4-.2 .4-.2 .4-.2 .4-.2 .4-.2 .4-.2 .4-.4 .4-.3 .4-.3 .4-.2 .4-.2 .2-.2 .2-.1 .4-.2 .4-.2 .4-.1 .4-.1 .2 0 .2-.1 .4 .1 .4 .2 .4 .1 .4 .1 .2 0 .2 .1 .4-.1 .4 0 .2-.1" fill="none" stroke="#1d8220" stroke-width="1.3" stroke-linejoin="round" />
<path d="M280,393.2l.4 0 .4 0 .4 0 .4-.1 .4 0 .4 0 .4 .1 .4-.1 .4 .1 .4 0 .4 0 .4 0 .4 0 .4 0 .4-.1 .4 0 .4 .1 .4 0 .4 0 .4-.1 .4 0 .4 .1 .4 0 .4-.1 .4 0 .4 0 .4 .1 .4 0 .4 0 .4 0 .4-.1 .4-.1 .4 .1 .4 0 .4 .1 .4-.1 .4-.1 .4 0 .4 .1 .4 0 .4 0 .4 0 .4 0 .4 0 .4 0 .4 0 .4 0 .4 0 .4 0 .4 0 .4-.1 .4 0 .4-.1 .4 .1 .4 0 .4 0 .4 0 .4 0 .4 0 .4-.1 .4 0 .4 .1 .4 0 .4 0 .4 0 .4 0 .4 0 .4 0 .4-.1 .4 0 .4-.1 .4 .1 .4 0 .4 .1 .4-.1 .4 0 .4 0 .4 0 .4 0 .4 0 .4 0 .4-.1 .4 0 .4 0 .4 0 .4 .1 .4 0 .4 0 .4 0 .4 0 .4-.1 .4 0 .4 0 .4-.1 .4 0 .4 0 .4 0 .4 .1 .4 0 .4 0 .4 0 .4 0 .4 0 .4-.1 .4 0 .4 .1 .4-.1 .4 0 .4 0 .4 .1 .4-.1 .4 0 .4 0 .4 0 .4 0 .4 .1 .4 0 .4-.1 .4 0 .4 0 .4 0 .4 .1 .4 0 .4-.1 .4 0 .4-.1 .4 0 .4 0 .4-.1 .4 .1 .4 0 .4 0 .4-.1 .4 0 .4 .1 .4 .1 .4 .1 .4 0 .4-.2 .4-.1 .4-.1 .4 .1 .4 0 .4 0 .4 0 .4 0 .4 .1 .4-.1 .4 0 .4-.1 .4 0 .4 0 .4 .1 .4 0 .4 0 .4 0 .4-.1 .4-.1 .4 0 .4 .1 .4 0 .4 .1 .4-.1 .4 0 .4 0 .4 0 .4 0 .4-.1 .4 0 .4 0 .4 0 .4-.1 .4 0 .4 .1 .4 .1 .4-.1 .4 0 .4 0 .4 0 .4 0 .4 0 .4 0 .4 0 .4-.1 .4-.1 .4 .1 .4 .1 .4 0 .4-.1 .4 0 .4 0 .4-.1 .4 0 .4 0 .4 0 .4 0 .4 0 .4 .1 .4 0 .4-.1 .4-.1 .4 0 .4 0 .4 0 .4-.1 .4 0 .4 .1 .4 0 .4 0 .4-.1 .4 0 .4 .1 .4 0 .4 0 .4 0 .4-.1 .4 0 .4 0 .4 0 .4-.1 .4 0 .4 0 .4 .1 .4 .1 .4-.1 0-.1 .4-.1 .4 0 .4 0 .4 .1 .4 0 .4-.1 .4-.1 .4 0 .4 0 .4 0 .4 0 .4 0 .4-.1 .4 0 .4 0 .4 .1 .4-.1 .4 0 .4 .1 .4 0 .4-.1 .4-.1 .4 .1 .4 0 .4-.1 .4 0 .4 0 .4 0 .4-.1 .4-.1 .4 0 .4 0 .4 0 .4 0 .4 0 .4 0 .4 0 .2-.1 .2 0 .4 0 .4-.1 .4 0 .4 0 .4 0 .4 0 .4 0 .4-.1 .4-.2 .4 0 .4 0 .4 0 .4-.1 .4-.1 .4 0 .4 0 .4-.1 .4-.1 .4 0 .2 0 .2 0 .4-.1 .4-.1 .4 0 .4-.1 .4-.1 .4-.1 .4 0 .4-.1 .4-.1 .4-.1 .4 0 .4-.1 .4-.1 .4-.1 .4-.1 .4-.1 .4-.1 .4 0 .4-.1 .4-.1 .4-.1 .4-.2 .4-.2 .4-.2 .4-.3 .4-.2 .4-.2 .4-.3 .4-.3 .2-.1 .2-.1 .4-.2 .4-.3 .4-.3 .4-.4 .4-.4 .4-.4 .4-.4 0 .1 .4-.3 .4-.5 .4-.6 .4-.5 .4-.5 .4-.5 .4-.5 .2-.2 .2-.2 .4-.6 .4-.6 .4-.5 .4-.5 .4-.5 .4-.5 .4-.7 .4-.5 .4-.5 .4-.5 .4-.4 .4-.6 .4-.6 .4-.5 .2-.2 .2-.3 .4-.6 .4-.5 .4-.6 .4-.5 .4-.5 .4-.5 .4-.6 .4-.5 .4-.6 .4-.5 .4-.6 .4-.5 .4-.5 .4-.5 .2-.2 .2-.2 .4-.6 .4-.4 .4-.5 .4-.5 .4-.5 .4-.4 .4-.4 .4-.4 .4-.5 .4-.4 .4-.4 .4-.3 .4-.3 .4-.3 .4-.4 .4-.4 .4-.3 .4-.2 .4-.2 .4-.3 .4-.3 .4-.2 .4-.3 .4-.2 .4-.3 .4-.2 .4-.2 .4-.2 .4-.3 .2-.1 .2-.1 .4-.2 .4-.3 .4-.2 .4-.3 .4-.2 .4-.2 .4-.1 .4-.1 .4-.2 .4-.1 .4-.1 .4-.2 .4-.2 .4-.2 .4-.2 .4-.2 .4-.2 .4-.2 .4 0 .4-.1 .4-.2 .4-.2 .4-.2 .4-.1 .4-.1 .4-.2 .4-.1 .4-.2 .4-.1 .4-.2 .4-.1 .4-.1 .4-.1 .4-.2 .4-.1 .4-.1 .4-.1 0-.1 .4-.2 .4-.1 .4-.1 .4-.1 .4-.2 .4-.1 .4-.1 .4-.1 .4-.1 .4-.2 .4-.2 .4-.1 .4-.2 .4-.1 .4-.2 .4-.1 .4-.2 .4-.2 .4-.2 .4-.1 .4 0 .4-.1 .4 0 .4-.2 .4-.2 .4-.1 .4-.2 .4-.1 .4-.1 .4-.1 .4-.2 .4-.1 .4-.1 .4-.1 .4-.1 .4-.2 .4-.1 .4-.2 .4-.1 .4-.2 .4-.1 .4-.1 .4-.1 .4-.1 .4-.1 .4-.2 .4-.1 .4-.1 .4-.1 .4-.2 0-.1 .4-.2 .4-.1 .4-.1 .4 0 .4-.1 .4-.2 .4-.2 .4-.2 .4 .1 .4 0 .4-.2 .4-.2 .4-.1 .4-.2 .4-.1 .4-.1 .4-.1 .4-.1 .4-.1 .4-.2 .4-.1 .4-.1 .4-.1 .4-.3 .4-.1 .4-.1 .4-.2 .4-.1 .4-.2 .4-.2 .4-.1 .4-.2 .4-.3 .4-.2 .4-.2 .4-.2 .4-.1 .2-.1 .2-.1 .4-.2 .4-.2 .4-.3 .4-.1 .4-.2 .4-.1 .4-.2 .4-.2 .4-.2 .4-.2 .4-.2 .4-.2 0 .1 .4-.3 .4-.2 .4-.2 .4-.2 .4-.2 .4-.4 .4-.2 .4-.3 .4-.2 .4-.2 .4-.2 .4-.2 .2-.1 .2-.1 .4-.2 .4-.2 .4-.3 .4-.2 .4-.2 .4-.2 .4-.3 .4-.2 .4-.2 .4-.2 .4-.3 .4-.2 .4-.2 .4-.4 .4-.5 .4-.3 .4-.3 .4-.2 .1 .1 .3 0 .4-.1 .4-.1 .4-.1 0 .1 .4 .2 .4 .5 .4 .4 .3 .1 .1-.1 .4-.2 .4-.3 .4-.3 .2-.2 .2-.3 .4-.8 .4-.9 .4-.7 .1-.2 .3-.4 .4-.6 .4-.4 .4-.4 .2-.2" fill="none" stroke="#7e1a86" stroke-width="1.3" stroke-linejoin="round" />
<line x1="357.2" y1="311.3" x2="429.9" y2="259.3" stroke="#000" stroke-width="1.2" stroke-dasharray="0.1 2.1" stroke-linecap="round"/>
<line x1="401.2" y1="396" x2="435" y2="344" stroke="#000" stroke-width="1.2" stroke-dasharray="0.1 2.1" stroke-linecap="round"/>
<rect x="279.6" y="226.5" width="230.7" height="169.7" fill="none" stroke="#555" stroke-width="1"/>
<line x1="279.6" y1="311.4" x2="510.3" y2="311.4" stroke="#555" stroke-width="1" />
<line x1="313.5" y1="311.4" x2="313.5" y2="309" stroke="#555" stroke-width="0.9" />
<line x1="371.7" y1="311.4" x2="371.7" y2="309" stroke="#555" stroke-width="0.9" />
<line x1="429.9" y1="311.4" x2="429.9" y2="309" stroke="#555" stroke-width="0.9" />
<line x1="488.1" y1="311.4" x2="488.1" y2="309" stroke="#555" stroke-width="0.9" />
<line x1="284.4" y1="311.4" x2="284.4" y2="310" stroke="#555" stroke-width="0.9" />
<line x1="342.6" y1="311.4" x2="342.6" y2="310" stroke="#555" stroke-width="0.9" />
<line x1="400.8" y1="311.4" x2="400.8" y2="310" stroke="#555" stroke-width="0.9" />
<line x1="459" y1="311.4" x2="459" y2="310" stroke="#555" stroke-width="0.9" />
<line x1="313.5" y1="396.2" x2="313.5" y2="393.8" stroke="#555" stroke-width="0.9" />
<line x1="371.7" y1="396.2" x2="371.7" y2="393.8" stroke="#555" stroke-width="0.9" />
<line x1="429.9" y1="396.2" x2="429.9" y2="393.8" stroke="#555" stroke-width="0.9" />
<line x1="488.1" y1="396.2" x2="488.1" y2="393.8" stroke="#555" stroke-width="0.9" />
<line x1="284.4" y1="396.2" x2="284.4" y2="394.8" stroke="#555" stroke-width="0.9" />
<line x1="342.6" y1="396.2" x2="342.6" y2="394.8" stroke="#555" stroke-width="0.9" />
<line x1="400.8" y1="396.2" x2="400.8" y2="394.8" stroke="#555" stroke-width="0.9" />
<line x1="459" y1="396.2" x2="459" y2="394.8" stroke="#555" stroke-width="0.9" />
<text x="313.5" y="326.2" font-size="9.6" text-anchor="middle" fill="#222" font-weight="normal"  >2.0</text>
<text x="313.5" y="411.2" font-size="9.6" text-anchor="middle" fill="#222" font-weight="normal"  >2.0</text>
<text x="371.7" y="326.2" font-size="9.6" text-anchor="middle" fill="#222" font-weight="normal"  >2.5</text>
<text x="371.7" y="411.2" font-size="9.6" text-anchor="middle" fill="#222" font-weight="normal"  >2.5</text>
<text x="429.9" y="326.2" font-size="9.6" text-anchor="middle" fill="#222" font-weight="normal"  >3.0</text>
<text x="429.9" y="411.2" font-size="9.6" text-anchor="middle" fill="#222" font-weight="normal"  >3.0</text>
<text x="488.1" y="326.2" font-size="9.6" text-anchor="middle" fill="#222" font-weight="normal"  >3.5</text>
<text x="488.1" y="411.2" font-size="9.6" text-anchor="middle" fill="#222" font-weight="normal"  >3.5</text>
<text x="395.2" y="425.6" font-size="9.7" text-anchor="middle" fill="#222" font-weight="normal"  >Photon energy (eV)</text>
<text x="292.7" y="244.9" font-size="7" text-anchor="start" fill="#222" font-weight="normal"  >NUS-24 bulk</text>
<text x="292.7" y="338.6" font-size="7" text-anchor="start" fill="#222" font-weight="normal"  >NUS-24 nanosheets</text>
<text x="443.5" y="298.6" font-size="7" fill="#222"><tspan font-style="italic">E</tspan><tspan font-size="4.8" dy="1.6">g</tspan><tspan dy="-1.6"> = 2.39 eV</tspan></text>
<text x="443.5" y="381.9" font-size="7" fill="#222"><tspan font-style="italic">E</tspan><tspan font-size="4.8" dy="1.6">g</tspan><tspan dy="-1.6"> = 2.77 eV</tspan></text>
<text transform="translate(274.5,333.6) rotate(-90)" font-size="10.2" fill="#222">[F(<tspan font-style="italic">R</tspan>)<tspan font-style="italic">hν</tspan>]<tspan font-size="6.8" dy="-4">2</tspan></text>
<text x="-0.8" y="449.6" font-size="15" text-anchor="start" fill="#000" font-weight="bold"  >e</text>
<path d="M12.7,623.8l.4-1 .4-1 .4-1.1 .4-1 .4-1.1 .4-1.1 .4-1.1 .4-1.1 .4-1.2 .4-1.1 .4-1.1 .4-1.2 .4-1.2 .4-1.2 .4-1.2 .4-1.3 .4-1.3 .4-1.4 .4-1.4 .4-1.6 .4-1.6 .4-1.8 .4-1.9 .4-1.9 .4-1.9 .4-2 .4-2 .4-1.9 .4-1.9 .4-1.9 .4-1.9 .4-2.1 .4-2.2 .4-2.4 .4-2.7 .4-3.4 .4-3.9 .4-3.9 .4-3.6 .4-3.5 .4-3.5 .4-3.2 .4-2.9 .4-2.7 .4-2.6 .4-2.6 .4-2.9 .4-3.2 .4-3.4 .4-3.4 .4-3 .4-3 .4-2.7 .4-2.6 .4-2.3 .4-2.2 .4-2.1 .4-1.9 .4-1.7 .4-1.6 .4-1.4 .4-1.4 .4-1.3 .4-1 .4-.8 .4-.6 .4-.6 .4-.6 .4-.4 .4-.3 .4-.2 .4-.2 .4-.2 .4-.1 .4-.2 .4 0 .4-.1 .4 0 .4 .1 .4 .1 .4 .2 .4 .2 .4 .3 .4 .2 .4 .3 .4 .3 .4 .4 .4 .4 .4 .5 .4 .6 .4 .6 .4 .8 .4 .9 .4 1.1 .4 1 .4 1.1 .4 1.2 .4 1.1 .4 1.3 .4 1.3 .4 1.3 .4 1.4 .4 1.3 .4 1.3 .4 1.3 .4 1.3 .4 1.3 .4 1.4 .4 1.4 .4 1.4 .4 1.5 .4 1.6 .4 1.5 .4 1.6 .4 1.6 .4 1.6 .4 1.6 .4 1.6 .4 1.5 .4 1.6 .4 1.6 .4 1.6 .4 1.6 .4 1.5 .4 1.6 .4 1.5 .4 1.5 .4 1.6 .4 1.6 .4 1.6 .4 1.7 .4 1.7 .4 1.7 .4 1.6 .4 1.7 .4 1.5 .4 1.5 .4 1.5 .4 1.4 .4 1.4 .4 1.3 .4 1.4 .4 1.3 .4 1.3 .4 1.2 .4 1.2 .4 1.2 .4 1.2 .4 1.2 .4 1.1 .4 1.2 .4 1.1 .4 1.1 .4 1.1 .4 1.1 .4 1.1 .4 1 .4 1.1 .4 1 .4 1 .4 1 .4 1 .4 1 .4 1 .4 .9 .4 1 .4 1 .4 .9 .4 .9 .4 .9 .4 .9 .4 .9 .4 .9 .4 .8 .4 .8 .4 .8 .4 .8 .4 .7 .4 .8 .4 .8 .4 .7 .4 .7 .4 .7 .4 .7 .4 .6 .4 .6 .4 .6 .4 .6 .4 .5 .4 .6 .4 .5 .4 .5 .4 .5 .4 .5 .4 .4 .4 .5 .4 .4 .4 .4 .4 .5 .4 .4 .4 .4 .4 .4 .4 .4 .4 .4 .4 .4 .4 .4 .4 .4 .4 .4 .4 .4 .4 .4 .4 .4 .4 .4 .4 .4 .4 .4 .4 .3 .4 .4 .4 .4 .4 .3 .4 .3 .4 .3 .4 .3 .4 .3 .4 .2 .4 .3 .4 .2 .4 .2 .4 .2 .4 .2 .4 .2 .4 .1 .4 .2 .4 .2 .4 .2 .4 .1 .4 .2 .4 .1 .4 .2 .4 .1 .4 .1 .4 .2 .4 .1 .4 .1 .4 .1 .4 .2 .4 .1 .4 .1 .4 .1 .4 .1 .4 .1 .4 .1 .4 .1 .4 0 .4 .1 .4 .1 .4 .1 .4 .1 .4 .1 .4 .1 .4 0 .4 .1 .4 .1 .4 .1 .4 0 .4 .1 .4 .1 .4 0 .4 .1 .4 0 .4 .1 .4 0 .4 .1 .4 0 .4 0 .4 .1 .4 0 .4 0 .4 .1 .4 0 .4 0 .4 0 .4 .1 .4 0 .4 0 .4 0 .4 .1 .4 0 .4 0 .4 0 .4 0 .4 .1 .4 0 .4 0 .4 0 .4 .1 .4 0 .4 0 .4 0 .4 0 .4 .1 .4 0 .4 0 .4 0 .4 0 .4 0 .4 .1 .4 0 .4 0 .4 0 .4 0 .4 0 .4 .1 .4 0 .4 0 .4 0 .4 0 .4 0 .4 0 .4 0 .4 .1 .4 0 .4 0 .4 0 .4 0 .4 0 .4 0 .4 0 .4 0 .4 0 .4 .1 .4 0 .4 0 .4 0 .4 0 .4 0 .4 0 .4 0 .4 0 .4 0 .4 0 .4 0 .4 0 .4 0 .4 0" fill="none" stroke="#111" stroke-width="1.9" stroke-linejoin="round" stroke-dasharray="0.1 2.6" stroke-linecap="round"/>
<path d="M14.3,613.6l.4-.6 .4-.5 .4-.6 .4-.6 .4-.7 .4-.6 .4-.6 .4-.7 .4-.7 .4-.7 .4-.6 .4-.7 .4-.7 .4-.7 .4-.7 .4-.8 .4-.7 .4-.9 .4-.8 .4-.9 .4-1 .4-1.1 .4-1.2 .4-1.3 .4-1.3 .4-1.4 .4-1.5 .4-1.4 .4-1.5 .4-1.4 .4-1.4 .4-1.4 .4-1.5 .4-1.4 .4-1.5 .4-1.5 .4-1.5 .4-1.5 .4-1.4 .4-1.5 .4-1.4 .4-1.4 .4-1.3 .4-1.3 .4-1.3 .4-1.4 .4-1.3 .4-1.3 .4-1.4 .4-1.4 .4-1.4 .4-1.6 .4-1.5 .4-1.6 .4-1.6 .4-1.6 .4-1.7 .4-1.6 .4-1.6 .4-1.6 .4-1.7 .4-1.6 .4-1.7 .4-1.6 .4-1.6 .4-1.6 .4-1.6 .4-1.6 .4-1.6 .4-1.5 .4-1.5 .4-1.4 .4-1.4 .4-1.3 .4-1.3 .4-1.2 .4-1.3 .4-1.2 .4-1.2 .4-1.2 .4-1.1 .4-1.2 .4-1.1 .4-1.1 .4-1.1 .4-1 .4-1.1 .4-1.1 .4-1.2 .4-1.1 .4-1.1 .4-1.1 .4-1 .4-1 .4-.8 .4-.7 .4-.6 .4-.5 .4-.5 .4-.4 .4-.4 .4-.4 .4-.3 .4-.2 .4-.1 .4-.2 .4-.1 .4-.1 .4-.1 .4-.1 .4 0 .4 0 .4 0 .4 .1 .4 .1 .4 .2 .4 .1 .4 .2 .4 .2 .4 .1 .4 .3 .4 .3 .4 .3 .4 .4 .4 .4 .4 .4 .4 .5 .4 .5 .4 .5 .4 .6 .4 .7 .4 .7 .4 .8 .4 .7 .4 .8 .4 .8 .4 .9 .4 .9 .4 .9 .4 1 .4 1 .4 1 .4 1 .4 1.1 .4 1 .4 1.2 .4 1.1 .4 1.1 .4 1.2 .4 1.2 .4 1.2 .4 1.2 .4 1.3 .4 1.3 .4 1.3 .4 1.3 .4 1.4 .4 1.3 .4 1.4 .4 1.5 .4 1.4 .4 1.5 .4 1.4 .4 1.4 .4 1.5 .4 1.4 .4 1.5 .4 1.4 .4 1.4 .4 1.4 .4 1.2 .4 1.2 .4 1.1 .4 1.2 .4 1 .4 1 .4 1 .4 .9 .4 .8 .4 .8 .4 .7 .4 .8 .4 .7 .4 .8 .4 .8 .4 .8 .4 .8 .4 .7 .4 .8 .4 .8 .4 .8 .4 .8 .4 .8 .4 .8 .4 .8 .4 .8 .4 .9 .4 .8 .4 .9 .4 .8 .4 .9 .4 .9 .4 .8 .4 .9 .4 .8 .4 .9 .4 .8 .4 .8 .4 .8 .4 .8 .4 .8 .4 .7 .4 .8 .4 .7 .4 .8 .4 .7 .4 .7 .4 .8 .4 .7 .4 .7 .4 .7 .4 .7 .4 .7 .4 .6 .4 .7 .4 .7 .4 .6 .4 .7 .4 .6 .4 .7 .4 .6 .4 .6 .4 .6 .4 .6 .4 .6 .4 .6 .4 .6 .4 .6 .4 .5 .4 .6 .4 .5 .4 .5 .4 .5 .4 .5 .4 .5 .4 .5 .4 .5 .4 .4 .4 .5 .4 .4 .4 .5 .4 .4 .4 .4 .4 .4 .4 .4 .4 .4 .4 .4 .4 .3 .4 .4 .4 .4 .4 .3 .4 .4 .4 .3 .4 .3 .4 .4 .4 .3 .4 .3 .4 .3 .4 .4 .4 .3 .4 .3 .4 .3 .4 .3 .4 .3 .4 .3 .4 .3 .4 .3 .4 .3 .4 .3 .4 .3 .4 .2 .4 .3 .4 .3 .4 .3 .4 .2 .4 .3 .4 .2 .4 .3 .4 .2 .4 .3 .4 .2 .4 .3 .4 .2 .4 .3 .4 .2 .4 .2 .4 .3 .4 .2 .4 .3 .4 .2 .4 .2 .4 .2 .4 .3 .4 .2 .4 .2 .4 .2 .4 .2 .4 .2 .4 .1 .4 .2 .4 .2 .4 .1 .4 .1 .4 .2 .4 .1 .4 .1 .4 .1 .4 .1 .4 .1 .4 .1 .4 .1 .4 .1 .4 .1 .4 .1 .4 .1 .4 .1 .4 .1 .4 0 .4 .1 .4 .1 .4 .1 .4 0 .4 .1 .4 .1 .4 .1 .4 0 .4 .1 .4 .1 .4 0 .4 .1 .4 .1 .4 0 .4 .1 .4 .1 .4 0 .4 .1 .4 .1 .4 0 .4 .1 .4 .1 .4 0 .4 .1 .4 .1 .4 .1 .4 0 .4 .1 .4 .1 .4 .1 .4 .1 .4 0 .4 .1 .4 .1 .4 .1 .4 .1 .4 0 .4 .1 .4 .1 .4 .1 .4 .1 .4 .1 .4 0 .4 .1 .4 .1 .4 .1 .4 .1 .4 0 .4 .1 .4 .1 .4 .1 .4 .1 .4 0 .4 .1 .4 .1 .4 0 .4 .1 .4 .1 .4 0 .4 .1 .4 0 .4 .1 .4 0 .4 .1 .4 0 .4 .1 .4 0 .4 .1 .4 0 .4 0 .4 .1 .4 0 .4 0 .4 .1 .4 0 .4 .1 .4 0 .4 0 .4 .1 .4 0 .4 0 .4 0 .4 .1 .4 0 .4 0 .4 .1 .4 0 .4 0 .4 0 .4 .1 .4 0 .4 0 .4 0 .4 .1 .4 0 .4 0 .4 0 .4 .1 .4 0 .4 0 .4 0 .4 0 .4 0 .4 .1 .4 0 .4 0 .4 0 .4 0 .4 0 .4 0 .4 .1 .4 0 .4 0 .4 0 .4 0 .4 0 .4 0 .4 .1 .4 0 .4 0 .4 0 .4 0 .4 0 .4 0 .4 0 .4 0 .4 .1 .4 0 .4 0 .4 0 .4 0 .4 0 .4 0 .4 0 .4 0 .4 0 .4 0 .4 .1 .4 0 .4 0 .4 0 .4 0 .4 0 .4 0 .4 0 .4 0 .4 0 .4 0 .4 0 .4 0" fill="none" stroke="#2f2fe0" stroke-width="1.9" stroke-linejoin="round" stroke-dasharray="0.1 2.6" stroke-linecap="round"/>
<path d="M35.2,602.9l.4-.2 .4 0 .4 0 .4-.2 .4-.1 .4 .1 .4 .1 0-.1 .4-.1 .4 .2 .4 .4 .4 .4 .4 .2 .4 .1 .1 .1 .3 .2 .4 .5 .4 .2 .4 .2 .4 .3 .4 .2 .1-.1 .3-.2 .4-.2 .4-.5 .4-.6 .4-.6 .2-.1 .2-.1 .4-.5 .4-.4 .4-.1 .4-.3 .4-.4 .4-.2 .4-.1 .4-.2 .4-.2 .4 0 .4-.3 .4-.4 .4-.3 .4 .1 .2-.2 .2-.2 .4-.2 .4-.2 .4-.1 .4-.4 .4-.3 .4-.3 .4-.3 .2-.2 .2-.2 .4-.6 .4-.8 .4-.8 .4-.9 .4-.8 .4-.9 .4-.9 .3-.5 .1-.1 .4-.9 .4-1 .4-.8 .4-.6 .4-.7 .4-.8 .4-1.2 .4-.8 .4-.7 .1-.3 .3-.8 .4-.8 .4-.7 .4-.6 .4-.8 .4-.8 .4-.9 .4-.6 .4-.6 .4-.7 .3-.6 .1-.2 .4-.9 .4-.9 .4-.8 .4-.8 .4-.9 .4-.8 .4-.8 .4-.9 .4-.9 .3-.8 .1-.1 .4-.8 .4-.8 .4-1 .4-1.1 .4-1 .2-.4 .2-.6 .4-1 .4-1.1 .4-1.1 .4-.9 0 .1 .4-1.1 .4-1.2 .4-1 .4-.8 .4-1.1 .4-1.1 .4-1.1 .1-.2 .3-.8 .4-1.2 .4-1.1 .4-1.3 .4-1.1 .4-1.1 .4-1 .4-1.2 .1-.3 .3-.7 .4-.8 .4-.9 .4-.8 .4-.9 .4-.8 .4-.8 .4-.9 .4-1 .4-1 .4-1.2 .4-1.2 .4-1.2 .4-1.1 .4-1.1 .4-1.1 .3-.7 .1-.3 .4-1.3 .4-1.5 .4-1.4 .4-1.4 .4-1.3 .3-.7 .1-.1 .4-.7 .4-.8 .4-.7 .4-.6 .4-.6 .4-.7 .4-.7 .1-.2 .3-.3 .4-.5 .4-.6 .4-.6 .4-.6 .4-.7 .4-1 .4-.8 0 .1 .4-.8 .4-1 .4-1.2 .4-1 .4-1.1 .4-.9 .1-.2 .3-.6 .4-1.2 .4-.8 .4-.7 .4-.5 .4-.9 .3-.5 .1-.2 .4-.4 .4-.4 .4-.4 .4-.5 .4-.5 .4-.4 .1 .1 .3-.2 .4-.4 .4-.2 .4-.1 .4-.2 .4 0 .2 0 .2-.1 .4 0 .4 .2 .4 .1 .4 .1 .4 .2 .3 .2 .1 0 .4 .1 .4 .2 .4 .4 .4 .3 .4 .3 .4 .3 .1 0 .3 .3 .4 .5 .4 .6 .4 .4 .4 .5 .4 .7 .3 .5 .1 .2 .4 .3 .4 .5 .4 .6 .4 .6 .4 .5 .4 .5 .1 .1 .3 .3 .4 .4 .4 .4 .4 .3 .4 .5 .4 .4 .2 .1 .2 .1 .4 .3 .4 .5 .4 .4 .4 .4 .4 .6 .4 .6 0-.2 .4 .6 .4 1 .4 1.2 .4 1.1 .4 1.1 .4 1.1 .4 1 .4 1.2 .4 1.2 .4 1 .4 .9 .4 1 .4 .9 .4 .9 .4 .9 .4 1.1 .4 1.1 .3 .6 .1 .3 .4 .9 .4 .8 .4 .9 .4 .9 .4 .8 .4 .8 .4 .8 .2 .4 .2 .4 .4 .9 .4 .7 .4 .7 .4 .7 .4 .6 .4 .6 .4 .5 .1 .3 .3 .6 .4 .7 .4 .5 .4 .7 .4 .6 .4 .6 .4 .5 .3 .6 .1 .3 .4 .8 .4 .7 .4 .7 .4 .8 .4 .7 .4 .7 .4 .7 .4 .7 0 .3 .4 .7 .4 .7 .4 .6 .4 .7 .4 .7 .4 1 .4 .9 .4 .6 .4 .5 .4 .6 .4 .8 .4 .9 0 .1 .4 .7 .4 .6 .4 .5 .4 .4 .4 .6 .4 .8 .4 .8 .4 .6 .4 .8 .4 .7 .4 .6 .4 .6 0 .2 .4 .7 .4 .7 .4 .6 .4 .6 .4 .5 .4 .8 .4 .8 .4 .7 .4 .7 .4 .5 .4 .8 .4 .7 .4 .8 .4 .6 .4 .9 .4 .7 .1 .1 .3 .5 .4 .8 .4 .7 .4 .8 .4 1 .4 .8 .4 .9 .4 .9 .4 1 .4 .8 .4 .8 .4 .8 .4 .9 .4 .8 .4 .7 .4 .6 .1 .1 .3 .4 .4 .7 .4 .7 .4 .4 .4 .5 .4 .5 .4 .4 .4 .4 .4 .5 .4 .5 .4 .6 .4 .4 .4 .3 .4 .5 .4 .7 .4 .4 .1 .1 .3 .4 .4 .6 .4 .5 .4 .5 .4 .5 .4 .5 .4 .5 .4 .5 .4 .5 .4 .5 .4 .5 .4 .5 .4 .6 .4 .4 .4 .4 .4 .5 .1 .2 .3 .4 .4 .4 .4 .2 .4 .4 .4 .3 .4 .6 .4 .5 .4 .4 .4 .2 .4 .3 .4 .4 .4 .4 .4 .2 .4 .3 .4 .3 .4 .4 .4 .1 .4 .3 .4 .5 .4 .4 .2 .2 .2 .2 .4 .4 .4 .2 .4 .3 .4 .4 .4 .5 .4 .2 .4 .2 .4 .3 .4 .3 .4 .2 .4 .2 .4 .4 .4 .4 .4 .2 .4 .2 .4 .3 .4 .3 .4 .1 .4-.1 .2 .1 .2 .2 .4 .3 .4 .2 .4 .4 .4 .2 .4 0 .4 .2 .4 .2 .4 0 .4-.1 .4 .2 .4 .2 .4 .2 .4 0 .4 0 .4 .2 .4 .2 0 .1 .4 0 .4 .3 .4 .2 .4 .1 .4-.1 .4-.1 .4 .2 .4 .2 .4 .1 .4 .1 .4 .1 .4 .1 .4 .1 .4 .1 .4 .3 .2 .1 .2 0 .4 0 .4 .1 .4 0 .4 .2 .4 .2 .4 .2 .4 .1 .4 .1 .4 .2 .4 .3 .4 .1 .4-.1 .4 .1 .4 .2 .4 .2 .4 .1 .4 .2 .4 .2 .4 .1 .4 0 .4 .1 .4 .1 .4-.1 .3 0 .1 0 .4 0 .4-.1 .4 0 .4-.1 .4-.1 .4-.1 .4 0 .4 .1 .4-.1 .4-.2 .4 0 .4 0 .4 0 .4-.1 .4-.1 .3 0 .1 .1 .4 0 .4 0 .4-.1 .4 .1 .4 .2 .4 0 .4 .1 .4-.2 .4 0 .4 .1 .4 0 .4 .1 .4 .2 .4 .1 .4 0 .4-.1 .4 0 .4-.1 .4 .1 .3 .1 .1 .1 .4 0 .4 .1 .4 .2 .4 .2 .4 0 .4 .2 .4 .1 .4-.1 .4-.1 .4 0 .4 .1 .4 .4 .4 .2 .4 .3 .4 0 .4-.1 .4-.2 .4 .1 .4 .2 .4 .1 0-.1 .4 0 .4 .1 .4-.3 .4-.1 .4-.1 .4-.1 .4 0 .4 .1 .4 0 .4-.1 .4-.3 .4-.4 .4-.2 .4-.3 .4-.3 .4-.3 .2-.1" fill="none" stroke="#7e1a86" stroke-width="1.25" stroke-linejoin="round" />
<path d="M12.9,629.5l.4 0 .4 0 .4 0 .4 0 .4 0 .4 0 .4 0 .4 0 .4 0 .4 0 .4-.1 .4 0 .4 0 .4 0 .4 0 .4 0 .4 0 .4 0 .4 0 .4-.1 .4 0 .4 0 .4 0 .4 0 .4 0 .4 0 .4-.1 .4 0 .4 0 .4 0 .4 0 .4 0 .4 0 .4-.1 .4 0 .4 0 .4 0 .4 0 .4-.1 .4 0 .4 0 .4 0 .4 0 .4-.1 .4 0 .4 0 .4 0 .4-.1 .4 0 .4 0 .4-.1 .4 0 .4 0 .4-.1 .4 0 .4 0 .4-.1 .4 0 .4-.1 .4 0 .4 0 .4-.1 .4 0 .4-.1 .4 0 .4-.1 .4 0 .4-.1 .4 0 .4-.1 .4-.1 .4 0 .4-.1 .4-.1 .4-.1 .4-.2 .4-.1 .4-.1 .4-.2 .4-.1 .4-.2 .4-.2 .4-.1 .4-.2 .4-.2 .4-.2 .4-.2 .4-.2 .4-.2 .4-.2 .4-.2 .4-.2 .4-.2 .4-.2 .4-.2 .4-.2 .4-.2 .4-.2 .4-.3 .4-.2 .4-.2 .4-.3 .4-.3 .4-.2 .4-.3 .4-.3 .4-.3 .4-.3 .4-.3 .4-.3 .4-.4 .4-.3 .4-.4 .4-.4 .4-.3 .4-.5 .4-.4 .4-.4 .4-.4 .4-.5 .4-.4 .4-.5 .4-.4 .4-.5 .4-.5 .4-.5 .4-.6 .4-.5 .4-.5 .4-.6 .4-.5 .4-.6 .4-.5 .4-.6 .4-.6 .4-.5 .4-.6 .4-.5 .4-.6 .4-.6 .4-.5 .4-.6 .4-.7 .4-.6 .4-.7 .4-.6 .4-.8 .4-.7 .4-.8 .4-.9 .4-.8 .4-.9 .4-.9 .4-1 .4-1 .4-.9 .4-1 .4-1 .4-1 .4-1 .4-1 .4-1 .4-1 .4-1 .4-1 .4-1.1 .4-1 .4-1.1 .4-1.1 .4-1.1 .4-1 .4-1.1 .4-1.1 .4-1.1 .4-1.1 .4-1.1 .4-1.1 .4-1.1 .4-1.1 .4-1 .4-1.1 .4-1 .4-1 .4-1.1 .4-1.1 .4-1.1 .4-1.2 .4-1.3 .4-1.3 .4-1.4 .4-1.6 .4-1.8 .4-1.8 .4-1.9 .4-1.8 .4-1.7 .4-1.7 .4-1.7 .4-1.6 .4-1.6 .4-1.6 .4-1.6 .4-1.6 .4-1.5 .4-1.5 .4-1.4 .4-1.5 .4-1.4 .4-1.4 .4-1.5 .4-1.4 .4-1.4 .4-1.5 .4-1.4 .4-1.3 .4-1.3 .4-1.2 .4-1.1 .4-1.1 .4-1 .4-.9 .4-.9 .4-.9 .4-.8 .4-.9 .4-.8 .4-.9 .4-.8 .4-.7 .4-.8 .4-.8 .4-.7 .4-.7 .4-.7 .4-.7 .4-.7 .4-.6 .4-.6 .4-.6 .4-.6 .4-.5 .4-.5 .4-.5 .4-.5 .4-.4 .4-.4 .4-.4 .4-.4 .4-.4 .4-.3 .4-.3 .4-.3 .4-.1 .4-.2 .4-.2 .4-.1 .4-.2 .4 0 .4-.1 .4 0 .4 .1 .4 .1 .4 .2 .4 .2 .4 .2 .4 .2 .4 .2 .4 .2 .4 .2 .4 .3 .4 .3 .4 .3 .4 .3 .4 .4 .4 .5 .4 .5 .4 .6 .4 .7 .4 .8 .4 .7 .4 .7 .4 .8 .4 .7 .4 .8 .4 .8 .4 .9 .4 .8 .4 .9 .4 .9 .4 .9 .4 1 .4 1 .4 1 .4 1 .4 1.1 .4 1 .4 1.1 .4 1 .4 1.1 .4 1.2 .4 1.1 .4 1.1 .4 1.1 .4 1.2 .4 1 .4 1.1 .4 1.1 .4 1 .4 1.1 .4 1 .4 1.1 .4 1 .4 1.1 .4 1.1 .4 1.1 .4 1.1 .4 1.1 .4 1.1 .4 1 .4 1 .4 1 .4 1 .4 .9 .4 .9 .4 .9 .4 .9 .4 .9 .4 1 .4 .9 .4 .9 .4 1 .4 .9 .4 1 .4 .9 .4 1 .4 1 .4 1.1 .4 1 .4 1.1 .4 1.1 .4 1.1 .4 1.1 .4 1.2 .4 1.1 .4 1 .4 1.1 .4 1 .4 1 .4 1 .4 .9 .4 .9 .4 .9 .4 .8 .4 .9 .4 .8 .4 .8 .4 .7 .4 .8 .4 .8 .4 .7 .4 .8 .4 .7 .4 .8 .4 .7 .4 .8 .4 .7 .4 .7 .4 .8 .4 .7 .4 .8 .4 .7 .4 .7 .4 .7 .4 .7 .4 .7 .4 .8 .4 .6 .4 .7 .4 .7 .4 .7 .4 .6 .4 .7 .4 .6 .4 .7 .4 .6 .4 .7 .4 .6 .4 .6 .4 .6 .4 .6 .4 .6 .4 .6 .4 .6 .4 .6 .4 .5 .4 .6 .4 .6 .4 .5 .4 .5 .4 .6 .4 .5 .4 .5 .4 .5 .4 .6 .4 .5 .4 .5 .4 .5 .4 .5 .4 .5 .4 .4 .4 .5 .4 .5 .4 .4 .4 .5 .4 .4 .4 .5 .4 .4 .4 .4 .4 .4 .4 .4 .4 .4 .4 .4 .4 .4 .4 .4 .4 .4 .4 .4 .4 .3 .4 .4 .4 .4 .4 .3 .4 .4 .4 .3 .4 .3 .4 .4 .4 .3 .4 .3 .4 .3 .4 .2 .4 .3 .4 .3 .4 .2 .4 .3 .4 .2 .4 .3 .4 .2 .4 .3 .4 .2 .4 .2 .4 .3 .4 .2 .4 .2 .4 .2 .4 .2 .4 .2 .4 .2 .4 .2 .4 .2 .4 .2 .4 .2 .4 .2 .4 .2 .4 .1 .4 .2 .4 .2 .4 .1 .4 .2 .4 .1 .4 .2 .4 .1 .4 .1 .4 .2 .4 .1 .4 .2 .4 .1 .4 .1 .4 .2 .4 .1 .4 .1 .4 .2 .4 .1 .4 .1 .4 .1 .4 .1 .4 .1 .4 .2 .4 .1 .4 .1 .4 .1 .4 .1 .4 .1 .4 .1 .4 .1 .4 .1 .4 0 .4 .1 .4 .1 .4 .1 .4 .1 .4 0 .4 .1 .4 .1 .4 .1 .4 0 .4 .1 .4 .1 .4 0 .4 .1 .4 .1 .4 0 .4 .1 .4 0 .4 .1 .4 .1 .4 0 .4 .1 .4 0 .4 .1 .4 .1 .4 0 .4 .1 .4 0 .4 .1 .4 0 .4 .1 .4 0 .4 0 .4 .1 .4 0 .4 .1 .4 0 .4 .1 .4 0 .4 0 .4 .1 .4 0 .4 0 .4 .1 .4 0 .4 0 .4 0 .4 .1 .4 0 .4 0 .4 0 .4 .1 .4 0 .4 0 .4 .1 .4 0 .4 0 .4 0 .4 0 .4 .1 .4 0 .4 0 .4 0 .4 .1 .4 0 .4 0 .4 0 .4 0 .4 .1 .4 0 .4 0 .4 0 .4 0 .4 0 .4 0 .4 .1 .4 0 .4 0 .4 0 .4 0 .4 0 .4 0 .4 0" fill="none" stroke="#1d8220" stroke-width="1.25" stroke-linejoin="round" />
<text x="0" y="0" font-size="7" text-anchor="start" fill="#a0309a" font-weight="normal"  transform="translate(107.7,488.6) rotate(-90)">520</text>
<text x="0" y="0" font-size="7" text-anchor="start" fill="#2b8a2b" font-weight="normal"  transform="translate(120.6,488.6) rotate(-90)">536</text>
<rect x="12.7" y="461" width="231.1" height="170.3" fill="none" stroke="#555" stroke-width="1"/>
<line x1="12.7" y1="631.3" x2="12.7" y2="628.9" stroke="#555" stroke-width="0.9" />
<line x1="51.23" y1="631.3" x2="51.23" y2="628.9" stroke="#555" stroke-width="0.9" />
<line x1="89.77" y1="631.3" x2="89.77" y2="628.9" stroke="#555" stroke-width="0.9" />
<line x1="128.31" y1="631.3" x2="128.31" y2="628.9" stroke="#555" stroke-width="0.9" />
<line x1="166.84" y1="631.3" x2="166.84" y2="628.9" stroke="#555" stroke-width="0.9" />
<line x1="205.38" y1="631.3" x2="205.38" y2="628.9" stroke="#555" stroke-width="0.9" />
<line x1="243.91" y1="631.3" x2="243.91" y2="628.9" stroke="#555" stroke-width="0.9" />
<line x1="31.97" y1="631.3" x2="31.97" y2="629.9" stroke="#555" stroke-width="0.9" />
<line x1="70.5" y1="631.3" x2="70.5" y2="629.9" stroke="#555" stroke-width="0.9" />
<line x1="109.04" y1="631.3" x2="109.04" y2="629.9" stroke="#555" stroke-width="0.9" />
<line x1="147.57" y1="631.3" x2="147.57" y2="629.9" stroke="#555" stroke-width="0.9" />
<line x1="186.11" y1="631.3" x2="186.11" y2="629.9" stroke="#555" stroke-width="0.9" />
<line x1="224.64" y1="631.3" x2="224.64" y2="629.9" stroke="#555" stroke-width="0.9" />
<text x="12.7" y="646.7" font-size="9.6" text-anchor="middle" fill="#222" font-weight="normal"  >400</text>
<text x="51.23" y="646.7" font-size="9.6" text-anchor="middle" fill="#222" font-weight="normal"  >450</text>
<text x="89.77" y="646.7" font-size="9.6" text-anchor="middle" fill="#222" font-weight="normal"  >500</text>
<text x="128.31" y="646.7" font-size="9.6" text-anchor="middle" fill="#222" font-weight="normal"  >550</text>
<text x="166.84" y="646.7" font-size="9.6" text-anchor="middle" fill="#222" font-weight="normal"  >600</text>
<text x="205.38" y="646.7" font-size="9.6" text-anchor="middle" fill="#222" font-weight="normal"  >650</text>
<text x="243.91" y="646.7" font-size="9.6" text-anchor="middle" fill="#222" font-weight="normal"  >700</text>
<text x="133.3" y="660.4" font-size="9.7" text-anchor="middle" fill="#222" font-weight="normal"  >Wavelength (nm)</text>
<text x="0" y="0" font-size="9.7" text-anchor="middle" fill="#222" font-weight="normal"  transform="translate(8.5,543.5) rotate(-90)">Intensity (a.u.)</text>
<line x1="139.8" y1="477" x2="161.1" y2="477" stroke="#111" stroke-width="1.9" stroke-dasharray="0.1 2.6" stroke-linecap="round"/>
<text x="165.8" y="479.5" font-size="7" text-anchor="start" fill="#222" font-weight="normal"  >TPE-1</text>
<line x1="139.8" y1="490.5" x2="161.1" y2="490.5" stroke="#2f2fe0" stroke-width="1.9" stroke-dasharray="0.1 2.6" stroke-linecap="round"/>
<text x="165.8" y="493" font-size="7" text-anchor="start" fill="#222" font-weight="normal"  >TPE-2</text>
<line x1="139.8" y1="504.2" x2="161.1" y2="504.2" stroke="#1d8220" stroke-width="1.5" />
<text x="165.8" y="506.7" font-size="7" text-anchor="start" fill="#222" font-weight="normal"  >NUS-24 bulk</text>
<line x1="139.8" y1="517.9" x2="161.1" y2="517.9" stroke="#7e1a86" stroke-width="1.5" />
<text x="165.8" y="520.4" font-size="7" text-anchor="start" fill="#222" font-weight="normal"  >NUS-24 nanosheets</text>
<defs><linearGradient id="vg" x1="0" y1="0" x2="0" y2="1"><stop offset="0" stop-color="#fff" stop-opacity=".35"/><stop offset=".25" stop-color="#fff" stop-opacity="0"/><stop offset=".9" stop-color="#fff" stop-opacity="0"/><stop offset="1" stop-color="#fff" stop-opacity=".4"/></linearGradient><linearGradient id="mg" x1="0" y1="0" x2="0" y2="1"><stop offset="0" stop-color="#b0207e"/><stop offset=".75" stop-color="#c42690"/><stop offset="1" stop-color="#5a1060"/></linearGradient></defs>
<rect x="155.3" y="525" width="86.2" height="42.8" fill="#160a34"/>
<rect x="170.2" y="525.5" width="4.6" height="19" fill="url(#mg)"/>
<rect x="187.8" y="525.5" width="4.6" height="19" fill="url(#mg)"/>
<rect x="204.4" y="525.5" width="6.6" height="19" fill="url(#mg)"/>
<rect x="222.1" y="525.5" width="6.3" height="19" fill="url(#mg)"/>
<rect x="155.3" y="525" width="86.2" height="1.2" fill="#7a1a70"/>
<rect x="156.8" y="526.5" width="13.7" height="8" fill="#1a1250"/>
<rect x="156.3" y="535" width="14.7" height="31" rx="1.8" fill="#5c4ede"/>
<rect x="156.3" y="535" width="14.7" height="31" rx="1.8" fill="url(#vg)"/>
<rect x="156.6" y="535" width="14.1" height="4.5" rx="1.5" fill="#e8c8f0" opacity=".55"/>
<ellipse cx="163.65" cy="543.1" rx="7.65" ry="3.2" fill="none" stroke="#44bff2" stroke-width="1.3"/>
<rect x="174.5" y="526.5" width="13.6" height="8" fill="#1a1250"/>
<rect x="174" y="535" width="14.6" height="31" rx="1.8" fill="#a2a2e2"/>
<rect x="174" y="535" width="14.6" height="31" rx="1.8" fill="url(#vg)"/>
<rect x="174.3" y="535" width="14" height="4.5" rx="1.5" fill="#e8c8f0" opacity=".55"/>
<ellipse cx="181.3" cy="543.1" rx="7.6" ry="3.2" fill="none" stroke="#44bff2" stroke-width="1.3"/>
<rect x="192.1" y="526.5" width="12.6" height="8" fill="#1a1250"/>
<rect x="191.6" y="535" width="13.6" height="31" rx="1.8" fill="#aac6b4"/>
<rect x="191.6" y="535" width="13.6" height="31" rx="1.8" fill="url(#vg)"/>
<rect x="191.9" y="535" width="13" height="4.5" rx="1.5" fill="#e8c8f0" opacity=".55"/>
<ellipse cx="198.4" cy="543.1" rx="7.1" ry="3.2" fill="none" stroke="#44bff2" stroke-width="1.3"/>
<rect x="210.7" y="526.5" width="11.7" height="8" fill="#1a1250"/>
<rect x="210.2" y="535" width="12.7" height="31" rx="1.8" fill="#bcd8a0"/>
<rect x="210.2" y="535" width="12.7" height="31" rx="1.8" fill="url(#vg)"/>
<rect x="210.5" y="535" width="12.1" height="4.5" rx="1.5" fill="#e8c8f0" opacity=".55"/>
<ellipse cx="216.55" cy="543.1" rx="6.65" ry="3.2" fill="none" stroke="#44bff2" stroke-width="1.3"/>
<rect x="228.1" y="526.5" width="11.6" height="8" fill="#1a1250"/>
<rect x="227.6" y="535" width="12.6" height="31" rx="1.8" fill="#b6da86"/>
<rect x="227.6" y="535" width="12.6" height="31" rx="1.8" fill="url(#vg)"/>
<rect x="227.9" y="535" width="12" height="4.5" rx="1.5" fill="#e8c8f0" opacity=".55"/>
<ellipse cx="233.9" cy="543.1" rx="6.6" ry="3.2" fill="none" stroke="#44bff2" stroke-width="1.3"/>
<rect x="155.3" y="544.6" width="86.2" height="1.1" fill="#44bff2"/>
<text x="265.2" y="450" font-size="14.5" text-anchor="start" fill="#000" font-weight="bold"  >f</text>
<path d="M301.5,445.97V632 M314.45,445.97V632 M327.41,445.97V632 M340.37,445.97V632 M353.32,445.97V632 M366.27,445.97V632 M379.23,445.97V632 M392.19,445.97V632 M405.14,445.97V632 M418.1,445.97V632 M431.05,445.97V632 M444,445.97V632 M456.96,445.97V632 M469.92,445.97V632 M482.87,445.97V632 M495.83,445.97V632 M508.78,445.97V632 M301.5,632H508.78 M301.5,621.66H508.78 M301.5,611.33H508.78 M301.5,601H508.78 M301.5,590.66H508.78 M301.5,580.33H508.78 M301.5,569.99H508.78 M301.5,559.65H508.78 M301.5,549.32H508.78 M301.5,538.99H508.78 M301.5,528.65H508.78 M301.5,518.32H508.78 M301.5,507.98H508.78 M301.5,497.64H508.78 M301.5,487.31H508.78 M301.5,476.98H508.78 M301.5,466.64H508.78 M301.5,456.3H508.78 M301.5,445.97H508.78" stroke="#d2d2d2" stroke-width="0.8" fill="none"/>
<line x1="327.41" y1="445.97" x2="508.78" y2="590.66" stroke="#9a9a9a" stroke-width="0.7" />
<defs><clipPath id="cie"><path d="M346.61,630.97 L346.6,630.97 L346.6,630.97 L346.59,630.97 L346.58,630.97 L346.58,630.98 L346.57,630.98 L346.56,630.98 L346.55,630.98 L346.54,630.99 L346.53,630.99 L346.52,630.99 L346.51,630.99 L346.5,630.99 L346.49,631 L346.47,631 L346.46,631 L346.45,631 L346.43,631.01 L346.42,631.01 L346.4,631.01 L346.39,631.01 L346.37,631.01 L346.36,631.01 L346.34,631.01 L346.32,631.01 L346.3,631.01 L346.28,631.01 L346.26,631.01 L346.24,631.01 L346.22,631.01 L346.2,631.01 L346.17,631 L346.15,631 L346.12,631 L346.09,630.99 L346.06,630.98 L346.02,630.98 L345.99,630.97 L345.95,630.96 L345.91,630.95 L345.86,630.93 L345.81,630.9 L345.75,630.87 L345.69,630.84 L345.62,630.8 L345.56,630.76 L345.49,630.72 L345.42,630.68 L345.34,630.63 L345.26,630.57 L345.17,630.51 L345.07,630.45 L344.97,630.38 L344.86,630.3 L344.74,630.22 L344.63,630.14 L344.5,630.05 L344.37,629.95 L344.24,629.85 L344.1,629.75 L343.94,629.64 L343.78,629.53 L343.61,629.41 L343.43,629.28 L343.24,629.15 L343.03,629 L342.81,628.85 L342.58,628.69 L342.33,628.52 L342.08,628.34 L341.81,628.16 L341.53,627.96 L341.24,627.76 L340.94,627.54 L340.62,627.31 L340.29,627.06 L339.94,626.79 L339.58,626.5 L339.2,626.19 L338.81,625.86 L338.41,625.51 L337.99,625.13 L337.56,624.72 L337.1,624.26 L336.61,623.75 L336.08,623.17 L335.52,622.5 L334.93,621.76 L334.3,620.94 L333.65,620.05 L332.97,619.08 L332.26,617.99 L331.51,616.79 L330.72,615.48 L329.9,614.06 L329.04,612.49 L328.13,610.75 L327.18,608.84 L326.19,606.77 L325.16,604.57 L324.07,602.18 L322.91,599.56 L321.71,596.73 L320.5,593.71 L319.3,590.52 L318.1,587.09 L316.88,583.38 L315.66,579.43 L314.45,575.3 L313.26,571.02 L312.07,566.53 L310.87,561.76 L309.7,556.8 L308.59,551.75 L307.59,546.69 L306.63,541.58 L305.69,536.33 L304.82,531.04 L304.11,525.81 L303.62,520.71 L303.29,515.71 L302.98,510.73 L302.74,505.84 L302.57,501.13 L302.51,496.65 L302.66,492.32 L303.07,488.08 L303.66,484.03 L304.36,480.28 L305.1,476.93 L306.01,473.83 L307.19,470.84 L308.56,468.13 L310.05,465.84 L311.58,464.16 L313.19,462.84 L314.97,461.61 L316.85,460.6 L318.8,459.91 L320.75,459.65 L322.74,459.74 L324.79,459.99 L326.88,460.34 L328.99,460.77 L331.09,461.22 L333.19,461.81 L335.3,462.59 L337.42,463.5 L339.52,464.47 L341.58,465.42 L343.61,466.36 L345.6,467.34 L347.58,468.35 L349.54,469.39 L351.48,470.44 L353.41,471.52 L355.32,472.63 L357.21,473.76 L359.1,474.91 L360.99,476.09 L362.88,477.28 L364.76,478.51 L366.63,479.75 L368.5,481.01 L370.37,482.29 L372.23,483.58 L374.09,484.89 L375.94,486.21 L377.79,487.55 L379.64,488.9 L381.5,490.26 L383.35,491.63 L385.19,493.02 L387.04,494.41 L388.89,495.81 L390.75,497.21 L392.61,498.63 L394.46,500.05 L396.32,501.48 L398.17,502.92 L400.02,504.35 L401.87,505.79 L403.71,507.24 L405.55,508.69 L407.39,510.13 L409.23,511.57 L411.08,513.02 L412.91,514.46 L414.74,515.91 L416.57,517.34 L418.38,518.78 L420.19,520.21 L421.99,521.64 L423.78,523.06 L425.56,524.47 L427.33,525.88 L429.09,527.28 L430.84,528.67 L432.57,530.05 L434.29,531.42 L435.99,532.78 L437.69,534.12 L439.36,535.46 L441.02,536.78 L442.66,538.08 L444.28,539.36 L445.88,540.63 L447.46,541.88 L449.01,543.11 L450.53,544.32 L452.03,545.51 L453.5,546.68 L454.94,547.84 L456.35,548.96 L457.71,550.04 L459.03,551.09 L460.31,552.11 L461.56,553.1 L462.77,554.06 L463.96,555 L465.12,555.93 L466.25,556.83 L467.36,557.71 L468.43,558.56 L469.45,559.37 L470.43,560.14 L471.38,560.89 L472.29,561.61 L473.17,562.3 L474.01,562.96 L474.81,563.6 L475.59,564.22 L476.33,564.81 L477.04,565.38 L477.71,565.92 L478.36,566.43 L478.98,566.93 L479.57,567.4 L480.13,567.85 L480.67,568.27 L481.18,568.68 L481.67,569.07 L482.14,569.44 L482.6,569.79 L483.03,570.13 L483.44,570.46 L483.83,570.77 L484.2,571.07 L484.57,571.36 L484.92,571.64 L485.26,571.91 L485.58,572.18 L485.9,572.43 L486.21,572.67 L486.5,572.9 L486.78,573.13 L487.05,573.35 L487.32,573.56 L487.56,573.76 L487.79,573.94 L488.01,574.11 L488.22,574.27 L488.42,574.43 L488.62,574.59 L488.81,574.74 L488.99,574.88 L489.16,575.01 L489.32,575.14 L489.47,575.25 L489.61,575.36 L489.74,575.47 L489.86,575.57 L489.98,575.66 L490.1,575.76 L490.21,575.84 L490.31,575.93 L490.41,576 L490.49,576.07 L490.57,576.14 L490.64,576.19 L490.71,576.24 L490.77,576.29 L490.83,576.34 L490.88,576.38 L490.94,576.43 L490.99,576.47 L491.04,576.51 L491.09,576.55 L491.14,576.59 L491.18,576.62 L491.23,576.66 L491.27,576.69 L491.31,576.72 L491.34,576.75 L491.38,576.78 L491.41,576.8 L491.44,576.83 L491.47,576.85 L491.5,576.87 L491.52,576.89 L491.55,576.91 L491.57,576.93 L491.6,576.95 L491.62,576.97 L491.64,576.99 L491.66,577.01 L491.69,577.02 L491.71,577.04 L491.73,577.06 L491.75,577.07 L491.76,577.08 L491.78,577.1 L491.8,577.11 L491.81,577.12 L491.82,577.13 L491.83,577.14 L491.84,577.15 L491.85,577.15 L491.86,577.16 L491.86,577.16 Z"/></clipPath><filter id="bl" x="-5%" y="-5%" width="110%" height="110%"><feGaussianBlur stdDeviation="1.3"/></filter></defs>
<g clip-path="url(#cie)"><g filter="url(#bl)"><path fill="#00ff00" d="M315 456h3v3h-3z"/><path fill="#00ff00" d="M318 456h3v3h-3z"/><path fill="#00ff00" d="M321 456h3v3h-3z"/><path fill="#00ff00" d="M324 456h3v3h-3z"/><path fill="#00ff00" d="M327 456h3v3h-3z"/><path fill="#00ff00" d="M330 456h3v3h-3z"/><path fill="#00ff00" d="M309 459h3v3h-3z"/><path fill="#00ff00" d="M312 459h3v3h-3z"/><path fill="#00ff00" d="M315 459h3v3h-3z"/><path fill="#00ff00" d="M318 459h3v3h-3z"/><path fill="#00ff00" d="M321 459h3v3h-3z"/><path fill="#00ff00" d="M324 459h3v3h-3z"/><path fill="#00ff00" d="M327 459h3v3h-3z"/><path fill="#00ff00" d="M330 459h3v3h-3z"/><path fill="#00ff00" d="M333 459h3v3h-3z"/><path fill="#00ff00" d="M336 459h3v3h-3z"/><path fill="#00ff0d" d="M306 462h3v3h-3z"/><path fill="#00ff00" d="M309 462h3v3h-3z"/><path fill="#00ff00" d="M312 462h3v3h-3z"/><path fill="#00ff00" d="M315 462h3v3h-3z"/><path fill="#00ff00" d="M318 462h3v3h-3z"/><path fill="#00ff00" d="M321 462h3v3h-3z"/><path fill="#00ff00" d="M324 462h3v3h-3z"/><path fill="#00ff00" d="M327 462h3v3h-3z"/><path fill="#00ff00" d="M330 462h3v3h-3z"/><path fill="#00ff00" d="M333 462h3v3h-3z"/><path fill="#00ff00" d="M336 462h3v3h-3z"/><path fill="#00ff00" d="M339 462h3v3h-3z"/><path fill="#00ff00" d="M342 462h3v3h-3z"/><path fill="#00ff00" d="M345 462h3v3h-3z"/><path fill="#00ff22" d="M306 465h3v3h-3z"/><path fill="#00ff17" d="M309 465h3v3h-3z"/><path fill="#00ff02" d="M312 465h3v3h-3z"/><path fill="#00ff00" d="M315 465h3v3h-3z"/><path fill="#00ff00" d="M318 465h3v3h-3z"/><path fill="#00ff00" d="M321 465h3v3h-3z"/><path fill="#00ff00" d="M324 465h3v3h-3z"/><path fill="#00ff00" d="M327 465h3v3h-3z"/><path fill="#00ff00" d="M330 465h3v3h-3z"/><path fill="#00ff00" d="M333 465h3v3h-3z"/><path fill="#00ff00" d="M336 465h3v3h-3z"/><path fill="#00ff00" d="M339 465h3v3h-3z"/><path fill="#00ff00" d="M342 465h3v3h-3z"/><path fill="#00ff00" d="M345 465h3v3h-3z"/><path fill="#00ff00" d="M348 465h3v3h-3z"/><path fill="#00ff00" d="M351 465h3v3h-3z"/><path fill="#00ff36" d="M303 468h3v3h-3z"/><path fill="#00ff30" d="M306 468h3v3h-3z"/><path fill="#00ff28" d="M309 468h3v3h-3z"/><path fill="#00ff1f" d="M312 468h3v3h-3z"/><path fill="#00ff10" d="M315 468h3v3h-3z"/><path fill="#00ff00" d="M318 468h3v3h-3z"/><path fill="#00ff00" d="M321 468h3v3h-3z"/><path fill="#00ff00" d="M324 468h3v3h-3z"/><path fill="#00ff00" d="M327 468h3v3h-3z"/><path fill="#00ff00" d="M330 468h3v3h-3z"/><path fill="#00ff00" d="M333 468h3v3h-3z"/><path fill="#00ff00" d="M336 468h3v3h-3z"/><path fill="#00ff00" d="M339 468h3v3h-3z"/><path fill="#00ff00" d="M342 468h3v3h-3z"/><path fill="#00ff00" d="M345 468h3v3h-3z"/><path fill="#00ff00" d="M348 468h3v3h-3z"/><path fill="#00ff00" d="M351 468h3v3h-3z"/><path fill="#00ff00" d="M354 468h3v3h-3z"/><path fill="#00ff3f" d="M303 471h3v3h-3z"/><path fill="#00ff3a" d="M306 471h3v3h-3z"/><path fill="#00ff34" d="M309 471h3v3h-3z"/><path fill="#00ff2d" d="M312 471h3v3h-3z"/><path fill="#00ff25" d="M315 471h3v3h-3z"/><path fill="#00ff1a" d="M318 471h3v3h-3z"/><path fill="#00ff07" d="M321 471h3v3h-3z"/><path fill="#00ff00" d="M324 471h3v3h-3z"/><path fill="#00ff00" d="M327 471h3v3h-3z"/><path fill="#00ff00" d="M330 471h3v3h-3z"/><path fill="#00ff00" d="M333 471h3v3h-3z"/><path fill="#00ff00" d="M336 471h3v3h-3z"/><path fill="#00ff00" d="M339 471h3v3h-3z"/><path fill="#00ff00" d="M342 471h3v3h-3z"/><path fill="#00ff00" d="M345 471h3v3h-3z"/><path fill="#00ff00" d="M348 471h3v3h-3z"/><path fill="#00ff00" d="M351 471h3v3h-3z"/><path fill="#00ff00" d="M354 471h3v3h-3z"/><path fill="#00ff00" d="M357 471h3v3h-3z"/><path fill="#00ff00" d="M360 471h3v3h-3z"/><path fill="#00ff4c" d="M300 474h3v3h-3z"/><path fill="#00ff48" d="M303 474h3v3h-3z"/><path fill="#00ff43" d="M306 474h3v3h-3z"/><path fill="#00ff3e" d="M309 474h3v3h-3z"/><path fill="#00ff39" d="M312 474h3v3h-3z"/><path fill="#00ff32" d="M315 474h3v3h-3z"/><path fill="#00ff2b" d="M318 474h3v3h-3z"/><path fill="#00ff22" d="M321 474h3v3h-3z"/><path fill="#00ff14" d="M324 474h3v3h-3z"/><path fill="#00ff00" d="M327 474h3v3h-3z"/><path fill="#00ff00" d="M330 474h3v3h-3z"/><path fill="#00ff00" d="M333 474h3v3h-3z"/><path fill="#00ff00" d="M336 474h3v3h-3z"/><path fill="#00ff00" d="M339 474h3v3h-3z"/><path fill="#00ff00" d="M342 474h3v3h-3z"/><path fill="#00ff00" d="M345 474h3v3h-3z"/><path fill="#00ff00" d="M348 474h3v3h-3z"/><path fill="#00ff00" d="M351 474h3v3h-3z"/><path fill="#00ff00" d="M354 474h3v3h-3z"/><path fill="#00ff00" d="M357 474h3v3h-3z"/><path fill="#00ff00" d="M360 474h3v3h-3z"/><path fill="#00ff00" d="M363 474h3v3h-3z"/><path fill="#00ff53" d="M300 477h3v3h-3z"/><path fill="#00ff4f" d="M303 477h3v3h-3z"/><path fill="#00ff4b" d="M306 477h3v3h-3z"/><path fill="#00ff47" d="M309 477h3v3h-3z"/><path fill="#00ff42" d="M312 477h3v3h-3z"/><path fill="#00ff3d" d="M315 477h3v3h-3z"/><path fill="#00ff37" d="M318 477h3v3h-3z"/><path fill="#00ff30" d="M321 477h3v3h-3z"/><path fill="#00ff28" d="M324 477h3v3h-3z"/><path fill="#00ff1d" d="M327 477h3v3h-3z"/><path fill="#00ff0c" d="M330 477h3v3h-3z"/><path fill="#00ff00" d="M333 477h3v3h-3z"/><path fill="#00ff00" d="M336 477h3v3h-3z"/><path fill="#00ff00" d="M339 477h3v3h-3z"/><path fill="#00ff00" d="M342 477h3v3h-3z"/><path fill="#00ff00" d="M345 477h3v3h-3z"/><path fill="#00ff00" d="M348 477h3v3h-3z"/><path fill="#00ff00" d="M351 477h3v3h-3z"/><path fill="#00ff00" d="M354 477h3v3h-3z"/><path fill="#00ff00" d="M357 477h3v3h-3z"/><path fill="#00ff00" d="M360 477h3v3h-3z"/><path fill="#00ff00" d="M363 477h3v3h-3z"/><path fill="#00ff00" d="M366 477h3v3h-3z"/><path fill="#00ff00" d="M369 477h3v3h-3z"/><path fill="#00ff59" d="M300 480h3v3h-3z"/><path fill="#00ff56" d="M303 480h3v3h-3z"/><path fill="#00ff53" d="M306 480h3v3h-3z"/><path fill="#00ff4f" d="M309 480h3v3h-3z"/><path fill="#00ff4b" d="M312 480h3v3h-3z"/><path fill="#00ff46" d="M315 480h3v3h-3z"/><path fill="#00ff41" d="M318 480h3v3h-3z"/><path fill="#00ff3c" d="M321 480h3v3h-3z"/><path fill="#00ff35" d="M324 480h3v3h-3z"/><path fill="#00ff2e" d="M327 480h3v3h-3z"/><path fill="#00ff25" d="M330 480h3v3h-3z"/><path fill="#00ff18" d="M333 480h3v3h-3z"/><path fill="#00ff00" d="M336 480h3v3h-3z"/><path fill="#00ff00" d="M339 480h3v3h-3z"/><path fill="#00ff00" d="M342 480h3v3h-3z"/><path fill="#00ff00" d="M345 480h3v3h-3z"/><path fill="#00ff00" d="M348 480h3v3h-3z"/><path fill="#00ff00" d="M351 480h3v3h-3z"/><path fill="#00ff00" d="M354 480h3v3h-3z"/><path fill="#00ff00" d="M357 480h3v3h-3z"/><path fill="#00ff00" d="M360 480h3v3h-3z"/><path fill="#00ff00" d="M363 480h3v3h-3z"/><path fill="#00ff00" d="M366 480h3v3h-3z"/><path fill="#00ff00" d="M369 480h3v3h-3z"/><path fill="#00ff00" d="M372 480h3v3h-3z"/><path fill="#00ff60" d="M300 483h3v3h-3z"/><path fill="#00ff5d" d="M303 483h3v3h-3z"/><path fill="#00ff59" d="M306 483h3v3h-3z"/><path fill="#00ff56" d="M309 483h3v3h-3z"/><path fill="#00ff52" d="M312 483h3v3h-3z"/><path fill="#00ff4e" d="M315 483h3v3h-3z"/><path fill="#00ff4a" d="M318 483h3v3h-3z"/><path fill="#00ff45" d="M321 483h3v3h-3z"/><path fill="#00ff40" d="M324 483h3v3h-3z"/><path fill="#00ff3a" d="M327 483h3v3h-3z"/><path fill="#00ff33" d="M330 483h3v3h-3z"/><path fill="#00ff2b" d="M333 483h3v3h-3z"/><path fill="#00ff21" d="M336 483h3v3h-3z"/><path fill="#00ff10" d="M339 483h3v3h-3z"/><path fill="#00ff00" d="M342 483h3v3h-3z"/><path fill="#00ff00" d="M345 483h3v3h-3z"/><path fill="#00ff00" d="M348 483h3v3h-3z"/><path fill="#00ff00" d="M351 483h3v3h-3z"/><path fill="#00ff00" d="M354 483h3v3h-3z"/><path fill="#00ff00" d="M357 483h3v3h-3z"/><path fill="#00ff00" d="M360 483h3v3h-3z"/><path fill="#00ff00" d="M363 483h3v3h-3z"/><path fill="#00ff00" d="M366 483h3v3h-3z"/><path fill="#00ff00" d="M369 483h3v3h-3z"/><path fill="#00ff00" d="M372 483h3v3h-3z"/><path fill="#00ff00" d="M375 483h3v3h-3z"/><path fill="#00ff00" d="M378 483h3v3h-3z"/><path fill="#00ff66" d="M300 486h3v3h-3z"/><path fill="#00ff63" d="M303 486h3v3h-3z"/><path fill="#00ff60" d="M306 486h3v3h-3z"/><path fill="#00ff5d" d="M309 486h3v3h-3z"/><path fill="#00ff5a" d="M312 486h3v3h-3z"/><path fill="#00ff56" d="M315 486h3v3h-3z"/><path fill="#00ff52" d="M318 486h3v3h-3z"/><path fill="#00ff4e" d="M321 486h3v3h-3z"/><path fill="#00ff49" d="M324 486h3v3h-3z"/><path fill="#00ff44" d="M327 486h3v3h-3z"/><path fill="#00ff3f" d="M330 486h3v3h-3z"/><path fill="#00ff38" d="M333 486h3v3h-3z"/><path fill="#00ff31" d="M336 486h3v3h-3z"/><path fill="#00ff28" d="M339 486h3v3h-3z"/><path fill="#00ff1c" d="M342 486h3v3h-3z"/><path fill="#00ff04" d="M345 486h3v3h-3z"/><path fill="#00ff00" d="M348 486h3v3h-3z"/><path fill="#00ff00" d="M351 486h3v3h-3z"/><path fill="#00ff00" d="M354 486h3v3h-3z"/><path fill="#00ff00" d="M357 486h3v3h-3z"/><path fill="#00ff00" d="M360 486h3v3h-3z"/><path fill="#00ff00" d="M363 486h3v3h-3z"/><path fill="#00ff00" d="M366 486h3v3h-3z"/><path fill="#00ff00" d="M369 486h3v3h-3z"/><path fill="#00ff00" d="M372 486h3v3h-3z"/><path fill="#00ff00" d="M375 486h3v3h-3z"/><path fill="#00ff00" d="M378 486h3v3h-3z"/><path fill="#00ff00" d="M381 486h3v3h-3z"/><path fill="#00ff6c" d="M300 489h3v3h-3z"/><path fill="#00ff69" d="M303 489h3v3h-3z"/><path fill="#00ff66" d="M306 489h3v3h-3z"/><path fill="#00ff63" d="M309 489h3v3h-3z"/><path fill="#00ff60" d="M312 489h3v3h-3z"/><path fill="#00ff5d" d="M315 489h3v3h-3z"/><path fill="#00ff5a" d="M318 489h3v3h-3z"/><path fill="#00ff56" d="M321 489h3v3h-3z"/><path fill="#00ff52" d="M324 489h3v3h-3z"/><path fill="#00ff4d" d="M327 489h3v3h-3z"/><path fill="#00ff49" d="M330 489h3v3h-3z"/><path fill="#00ff43" d="M333 489h3v3h-3z"/><path fill="#00ff3d" d="M336 489h3v3h-3z"/><path fill="#00ff37" d="M339 489h3v3h-3z"/><path fill="#00ff2e" d="M342 489h3v3h-3z"/><path fill="#00ff24" d="M345 489h3v3h-3z"/><path fill="#00ff15" d="M348 489h3v3h-3z"/><path fill="#00ff00" d="M351 489h3v3h-3z"/><path fill="#00ff00" d="M354 489h3v3h-3z"/><path fill="#00ff00" d="M357 489h3v3h-3z"/><path fill="#00ff00" d="M360 489h3v3h-3z"/><path fill="#00ff00" d="M363 489h3v3h-3z"/><path fill="#00ff00" d="M366 489h3v3h-3z"/><path fill="#00ff00" d="M369 489h3v3h-3z"/><path fill="#00ff00" d="M372 489h3v3h-3z"/><path fill="#00ff00" d="M375 489h3v3h-3z"/><path fill="#00ff00" d="M378 489h3v3h-3z"/><path fill="#00ff00" d="M381 489h3v3h-3z"/><path fill="#09ff00" d="M384 489h3v3h-3z"/><path fill="#3eff00" d="M387 489h3v3h-3z"/><path fill="#00ff72" d="M300 492h3v3h-3z"/><path fill="#00ff6f" d="M303 492h3v3h-3z"/><path fill="#00ff6d" d="M306 492h3v3h-3z"/><path fill="#00ff6a" d="M309 492h3v3h-3z"/><path fill="#00ff67" d="M312 492h3v3h-3z"/><path fill="#00ff64" d="M315 492h3v3h-3z"/><path fill="#00ff61" d="M318 492h3v3h-3z"/><path fill="#00ff5d" d="M321 492h3v3h-3z"/><path fill="#00ff5a" d="M324 492h3v3h-3z"/><path fill="#00ff56" d="M327 492h3v3h-3z"/><path fill="#00ff52" d="M330 492h3v3h-3z"/><path fill="#00ff4d" d="M333 492h3v3h-3z"/><path fill="#00ff48" d="M336 492h3v3h-3z"/><path fill="#00ff42" d="M339 492h3v3h-3z"/><path fill="#00ff3c" d="M342 492h3v3h-3z"/><path fill="#00ff34" d="M345 492h3v3h-3z"/><path fill="#00ff2b" d="M348 492h3v3h-3z"/><path fill="#00ff1f" d="M351 492h3v3h-3z"/><path fill="#00ff0a" d="M354 492h3v3h-3z"/><path fill="#00ff00" d="M357 492h3v3h-3z"/><path fill="#00ff00" d="M360 492h3v3h-3z"/><path fill="#00ff00" d="M363 492h3v3h-3z"/><path fill="#00ff00" d="M366 492h3v3h-3z"/><path fill="#00ff00" d="M369 492h3v3h-3z"/><path fill="#00ff00" d="M372 492h3v3h-3z"/><path fill="#00ff00" d="M375 492h3v3h-3z"/><path fill="#00ff00" d="M378 492h3v3h-3z"/><path fill="#00ff00" d="M381 492h3v3h-3z"/><path fill="#25ff00" d="M384 492h3v3h-3z"/><path fill="#48ff00" d="M387 492h3v3h-3z"/><path fill="#5fff00" d="M390 492h3v3h-3z"/><path fill="#00ff77" d="M300 495h3v3h-3z"/><path fill="#00ff75" d="M303 495h3v3h-3z"/><path fill="#00ff72" d="M306 495h3v3h-3z"/><path fill="#00ff70" d="M309 495h3v3h-3z"/><path fill="#00ff6d" d="M312 495h3v3h-3z"/><path fill="#00ff6a" d="M315 495h3v3h-3z"/><path fill="#00ff67" d="M318 495h3v3h-3z"/><path fill="#00ff64" d="M321 495h3v3h-3z"/><path fill="#00ff61" d="M324 495h3v3h-3z"/><path fill="#00ff5d" d="M327 495h3v3h-3z"/><path fill="#00ff5a" d="M330 495h3v3h-3z"/><path fill="#00ff56" d="M333 495h3v3h-3z"/><path fill="#00ff51" d="M336 495h3v3h-3z"/><path fill="#00ff4c" d="M339 495h3v3h-3z"/><path fill="#00ff47" d="M342 495h3v3h-3z"/><path fill="#00ff41" d="M345 495h3v3h-3z"/><path fill="#00ff3a" d="M348 495h3v3h-3z"/><path fill="#00ff32" d="M351 495h3v3h-3z"/><path fill="#00ff28" d="M354 495h3v3h-3z"/><path fill="#00ff19" d="M357 495h3v3h-3z"/><path fill="#00ff00" d="M360 495h3v3h-3z"/><path fill="#00ff00" d="M363 495h3v3h-3z"/><path fill="#00ff00" d="M366 495h3v3h-3z"/><path fill="#00ff00" d="M369 495h3v3h-3z"/><path fill="#00ff00" d="M372 495h3v3h-3z"/><path fill="#00ff00" d="M375 495h3v3h-3z"/><path fill="#00ff00" d="M378 495h3v3h-3z"/><path fill="#00ff00" d="M381 495h3v3h-3z"/><path fill="#35ff00" d="M384 495h3v3h-3z"/><path fill="#52ff00" d="M387 495h3v3h-3z"/><path fill="#66ff00" d="M390 495h3v3h-3z"/><path fill="#77ff00" d="M393 495h3v3h-3z"/><path fill="#00ff7d" d="M300 498h3v3h-3z"/><path fill="#00ff7b" d="M303 498h3v3h-3z"/><path fill="#00ff78" d="M306 498h3v3h-3z"/><path fill="#00ff76" d="M309 498h3v3h-3z"/><path fill="#00ff73" d="M312 498h3v3h-3z"/><path fill="#00ff71" d="M315 498h3v3h-3z"/><path fill="#00ff6e" d="M318 498h3v3h-3z"/><path fill="#00ff6b" d="M321 498h3v3h-3z"/><path fill="#00ff68" d="M324 498h3v3h-3z"/><path fill="#00ff65" d="M327 498h3v3h-3z"/><path fill="#00ff61" d="M330 498h3v3h-3z"/><path fill="#00ff5e" d="M333 498h3v3h-3z"/><path fill="#00ff5a" d="M336 498h3v3h-3z"/><path fill="#00ff56" d="M339 498h3v3h-3z"/><path fill="#00ff51" d="M342 498h3v3h-3z"/><path fill="#00ff4c" d="M345 498h3v3h-3z"/><path fill="#00ff46" d="M348 498h3v3h-3z"/><path fill="#00ff40" d="M351 498h3v3h-3z"/><path fill="#00ff38" d="M354 498h3v3h-3z"/><path fill="#00ff2f" d="M357 498h3v3h-3z"/><path fill="#00ff23" d="M360 498h3v3h-3z"/><path fill="#00ff10" d="M363 498h3v3h-3z"/><path fill="#00ff00" d="M366 498h3v3h-3z"/><path fill="#00ff00" d="M369 498h3v3h-3z"/><path fill="#00ff00" d="M372 498h3v3h-3z"/><path fill="#00ff00" d="M375 498h3v3h-3z"/><path fill="#00ff00" d="M378 498h3v3h-3z"/><path fill="#10ff00" d="M381 498h3v3h-3z"/><path fill="#42ff00" d="M384 498h3v3h-3z"/><path fill="#5bff00" d="M387 498h3v3h-3z"/><path fill="#6eff00" d="M390 498h3v3h-3z"/><path fill="#7eff00" d="M393 498h3v3h-3z"/><path fill="#8cff00" d="M396 498h3v3h-3z"/><path fill="#00ff82" d="M300 501h3v3h-3z"/><path fill="#00ff80" d="M303 501h3v3h-3z"/><path fill="#00ff7e" d="M306 501h3v3h-3z"/><path fill="#00ff7c" d="M309 501h3v3h-3z"/><path fill="#00ff79" d="M312 501h3v3h-3z"/><path fill="#00ff77" d="M315 501h3v3h-3z"/><path fill="#00ff74" d="M318 501h3v3h-3z"/><path fill="#00ff72" d="M321 501h3v3h-3z"/><path fill="#00ff6f" d="M324 501h3v3h-3z"/><path fill="#00ff6c" d="M327 501h3v3h-3z"/><path fill="#00ff69" d="M330 501h3v3h-3z"/><path fill="#00ff65" d="M333 501h3v3h-3z"/><path fill="#00ff62" d="M336 501h3v3h-3z"/><path fill="#00ff5e" d="M339 501h3v3h-3z"/><path fill="#00ff5a" d="M342 501h3v3h-3z"/><path fill="#00ff55" d="M345 501h3v3h-3z"/><path fill="#00ff50" d="M348 501h3v3h-3z"/><path fill="#00ff4b" d="M351 501h3v3h-3z"/><path fill="#00ff45" d="M354 501h3v3h-3z"/><path fill="#00ff3e" d="M357 501h3v3h-3z"/><path fill="#00ff36" d="M360 501h3v3h-3z"/><path fill="#00ff2c" d="M363 501h3v3h-3z"/><path fill="#00ff1e" d="M366 501h3v3h-3z"/><path fill="#00ff01" d="M369 501h3v3h-3z"/><path fill="#00ff00" d="M372 501h3v3h-3z"/><path fill="#00ff00" d="M375 501h3v3h-3z"/><path fill="#00ff00" d="M378 501h3v3h-3z"/><path fill="#29ff00" d="M381 501h3v3h-3z"/><path fill="#4cff00" d="M384 501h3v3h-3z"/><path fill="#63ff00" d="M387 501h3v3h-3z"/><path fill="#75ff00" d="M390 501h3v3h-3z"/><path fill="#85ff00" d="M393 501h3v3h-3z"/><path fill="#92ff00" d="M396 501h3v3h-3z"/><path fill="#9fff00" d="M399 501h3v3h-3z"/><path fill="#abff00" d="M402 501h3v3h-3z"/><path fill="#00ff88" d="M300 504h3v3h-3z"/><path fill="#00ff86" d="M303 504h3v3h-3z"/><path fill="#00ff84" d="M306 504h3v3h-3z"/><path fill="#00ff82" d="M309 504h3v3h-3z"/><path fill="#00ff7f" d="M312 504h3v3h-3z"/><path fill="#00ff7d" d="M315 504h3v3h-3z"/><path fill="#00ff7b" d="M318 504h3v3h-3z"/><path fill="#00ff78" d="M321 504h3v3h-3z"/><path fill="#00ff76" d="M324 504h3v3h-3z"/><path fill="#00ff73" d="M327 504h3v3h-3z"/><path fill="#00ff70" d="M330 504h3v3h-3z"/><path fill="#00ff6d" d="M333 504h3v3h-3z"/><path fill="#00ff6a" d="M336 504h3v3h-3z"/><path fill="#00ff66" d="M339 504h3v3h-3z"/><path fill="#00ff62" d="M342 504h3v3h-3z"/><path fill="#00ff5e" d="M345 504h3v3h-3z"/><path fill="#00ff5a" d="M348 504h3v3h-3z"/><path fill="#00ff55" d="M351 504h3v3h-3z"/><path fill="#00ff50" d="M354 504h3v3h-3z"/><path fill="#00ff4a" d="M357 504h3v3h-3z"/><path fill="#00ff44" d="M360 504h3v3h-3z"/><path fill="#00ff3c" d="M363 504h3v3h-3z"/><path fill="#00ff33" d="M366 504h3v3h-3z"/><path fill="#00ff28" d="M369 504h3v3h-3z"/><path fill="#00ff16" d="M372 504h3v3h-3z"/><path fill="#00ff00" d="M375 504h3v3h-3z"/><path fill="#00ff00" d="M378 504h3v3h-3z"/><path fill="#39ff00" d="M381 504h3v3h-3z"/><path fill="#56ff00" d="M384 504h3v3h-3z"/><path fill="#6bff00" d="M387 504h3v3h-3z"/><path fill="#7cff00" d="M390 504h3v3h-3z"/><path fill="#8bff00" d="M393 504h3v3h-3z"/><path fill="#99ff00" d="M396 504h3v3h-3z"/><path fill="#a5ff00" d="M399 504h3v3h-3z"/><path fill="#b1ff00" d="M402 504h3v3h-3z"/><path fill="#bcff00" d="M405 504h3v3h-3z"/><path fill="#00ff8d" d="M300 507h3v3h-3z"/><path fill="#00ff8b" d="M303 507h3v3h-3z"/><path fill="#00ff89" d="M306 507h3v3h-3z"/><path fill="#00ff87" d="M309 507h3v3h-3z"/><path fill="#00ff85" d="M312 507h3v3h-3z"/><path fill="#00ff83" d="M315 507h3v3h-3z"/><path fill="#00ff81" d="M318 507h3v3h-3z"/><path fill="#00ff7f" d="M321 507h3v3h-3z"/><path fill="#00ff7c" d="M324 507h3v3h-3z"/><path fill="#00ff7a" d="M327 507h3v3h-3z"/><path fill="#00ff77" d="M330 507h3v3h-3z"/><path fill="#00ff74" d="M333 507h3v3h-3z"/><path fill="#00ff71" d="M336 507h3v3h-3z"/><path fill="#00ff6e" d="M339 507h3v3h-3z"/><path fill="#00ff6a" d="M342 507h3v3h-3z"/><path fill="#00ff67" d="M345 507h3v3h-3z"/><path fill="#00ff63" d="M348 507h3v3h-3z"/><path fill="#00ff5f" d="M351 507h3v3h-3z"/><path fill="#00ff5a" d="M354 507h3v3h-3z"/><path fill="#00ff55" d="M357 507h3v3h-3z"/><path fill="#00ff50" d="M360 507h3v3h-3z"/><path fill="#00ff49" d="M363 507h3v3h-3z"/><path fill="#00ff42" d="M366 507h3v3h-3z"/><path fill="#00ff3a" d="M369 507h3v3h-3z"/><path fill="#00ff30" d="M372 507h3v3h-3z"/><path fill="#00ff22" d="M375 507h3v3h-3z"/><path fill="#16ff08" d="M378 507h3v3h-3z"/><path fill="#46ff00" d="M381 507h3v3h-3z"/><path fill="#5fff00" d="M384 507h3v3h-3z"/><path fill="#73ff00" d="M387 507h3v3h-3z"/><path fill="#83ff00" d="M390 507h3v3h-3z"/><path fill="#92ff00" d="M393 507h3v3h-3z"/><path fill="#9fff00" d="M396 507h3v3h-3z"/><path fill="#acff00" d="M399 507h3v3h-3z"/><path fill="#b8ff00" d="M402 507h3v3h-3z"/><path fill="#c3ff00" d="M405 507h3v3h-3z"/><path fill="#cdff00" d="M408 507h3v3h-3z"/><path fill="#00ff93" d="M300 510h3v3h-3z"/><path fill="#00ff91" d="M303 510h3v3h-3z"/><path fill="#00ff8f" d="M306 510h3v3h-3z"/><path fill="#00ff8d" d="M309 510h3v3h-3z"/><path fill="#00ff8b" d="M312 510h3v3h-3z"/><path fill="#00ff89" d="M315 510h3v3h-3z"/><path fill="#00ff87" d="M318 510h3v3h-3z"/><path fill="#00ff85" d="M321 510h3v3h-3z"/><path fill="#00ff83" d="M324 510h3v3h-3z"/><path fill="#00ff80" d="M327 510h3v3h-3z"/><path fill="#00ff7e" d="M330 510h3v3h-3z"/><path fill="#00ff7b" d="M333 510h3v3h-3z"/><path fill="#00ff78" d="M336 510h3v3h-3z"/><path fill="#00ff75" d="M339 510h3v3h-3z"/><path fill="#00ff72" d="M342 510h3v3h-3z"/><path fill="#00ff6f" d="M345 510h3v3h-3z"/><path fill="#00ff6b" d="M348 510h3v3h-3z"/><path fill="#00ff67" d="M351 510h3v3h-3z"/><path fill="#00ff63" d="M354 510h3v3h-3z"/><path fill="#00ff5f" d="M357 510h3v3h-3z"/><path fill="#00ff5a" d="M360 510h3v3h-3z"/><path fill="#00ff55" d="M363 510h3v3h-3z"/><path fill="#00ff4f" d="M366 510h3v3h-3z"/><path fill="#00ff48" d="M369 510h3v3h-3z"/><path fill="#00ff41" d="M372 510h3v3h-3z"/><path fill="#00ff38" d="M375 510h3v3h-3z"/><path fill="#2dff2c" d="M378 510h3v3h-3z"/><path fill="#51ff1b" d="M381 510h3v3h-3z"/><path fill="#68ff00" d="M384 510h3v3h-3z"/><path fill="#7aff00" d="M387 510h3v3h-3z"/><path fill="#8bff00" d="M390 510h3v3h-3z"/><path fill="#99ff00" d="M393 510h3v3h-3z"/><path fill="#a6ff00" d="M396 510h3v3h-3z"/><path fill="#b2ff00" d="M399 510h3v3h-3z"/><path fill="#beff00" d="M402 510h3v3h-3z"/><path fill="#c9ff00" d="M405 510h3v3h-3z"/><path fill="#d4ff00" d="M408 510h3v3h-3z"/><path fill="#dfff00" d="M411 510h3v3h-3z"/><path fill="#e9ff00" d="M414 510h3v3h-3z"/><path fill="#00ff98" d="M300 513h3v3h-3z"/><path fill="#00ff96" d="M303 513h3v3h-3z"/><path fill="#00ff95" d="M306 513h3v3h-3z"/><path fill="#00ff93" d="M309 513h3v3h-3z"/><path fill="#00ff91" d="M312 513h3v3h-3z"/><path fill="#00ff8f" d="M315 513h3v3h-3z"/><path fill="#00ff8d" d="M318 513h3v3h-3z"/><path fill="#00ff8b" d="M321 513h3v3h-3z"/><path fill="#00ff89" d="M324 513h3v3h-3z"/><path fill="#00ff87" d="M327 513h3v3h-3z"/><path fill="#00ff84" d="M330 513h3v3h-3z"/><path fill="#00ff82" d="M333 513h3v3h-3z"/><path fill="#00ff7f" d="M336 513h3v3h-3z"/><path fill="#00ff7c" d="M339 513h3v3h-3z"/><path fill="#00ff7a" d="M342 513h3v3h-3z"/><path fill="#00ff77" d="M345 513h3v3h-3z"/><path fill="#00ff73" d="M348 513h3v3h-3z"/><path fill="#00ff70" d="M351 513h3v3h-3z"/><path fill="#00ff6c" d="M354 513h3v3h-3z"/><path fill="#00ff68" d="M357 513h3v3h-3z"/><path fill="#00ff64" d="M360 513h3v3h-3z"/><path fill="#00ff5f" d="M363 513h3v3h-3z"/><path fill="#00ff5a" d="M366 513h3v3h-3z"/><path fill="#00ff55" d="M369 513h3v3h-3z"/><path fill="#00ff4e" d="M372 513h3v3h-3z"/><path fill="#00ff47" d="M375 513h3v3h-3z"/><path fill="#3dff3f" d="M378 513h3v3h-3z"/><path fill="#5bff35" d="M381 513h3v3h-3z"/><path fill="#70ff27" d="M384 513h3v3h-3z"/><path fill="#82ff10" d="M387 513h3v3h-3z"/><path fill="#92ff00" d="M390 513h3v3h-3z"/><path fill="#a0ff00" d="M393 513h3v3h-3z"/><path fill="#adff00" d="M396 513h3v3h-3z"/><path fill="#b9ff00" d="M399 513h3v3h-3z"/><path fill="#c5ff00" d="M402 513h3v3h-3z"/><path fill="#d0ff00" d="M405 513h3v3h-3z"/><path fill="#dbff00" d="M408 513h3v3h-3z"/><path fill="#e6ff00" d="M411 513h3v3h-3z"/><path fill="#f0ff00" d="M414 513h3v3h-3z"/><path fill="#faff00" d="M417 513h3v3h-3z"/><path fill="#00ff9d" d="M300 516h3v3h-3z"/><path fill="#00ff9c" d="M303 516h3v3h-3z"/><path fill="#00ff9a" d="M306 516h3v3h-3z"/><path fill="#00ff99" d="M309 516h3v3h-3z"/><path fill="#00ff97" d="M312 516h3v3h-3z"/><path fill="#00ff95" d="M315 516h3v3h-3z"/><path fill="#00ff93" d="M318 516h3v3h-3z"/><path fill="#00ff91" d="M321 516h3v3h-3z"/><path fill="#00ff8f" d="M324 516h3v3h-3z"/><path fill="#00ff8d" d="M327 516h3v3h-3z"/><path fill="#00ff8b" d="M330 516h3v3h-3z"/><path fill="#00ff89" d="M333 516h3v3h-3z"/><path fill="#00ff86" d="M336 516h3v3h-3z"/><path fill="#00ff84" d="M339 516h3v3h-3z"/><path fill="#00ff81" d="M342 516h3v3h-3z"/><path fill="#00ff7e" d="M345 516h3v3h-3z"/><path fill="#00ff7b" d="M348 516h3v3h-3z"/><path fill="#00ff78" d="M351 516h3v3h-3z"/><path fill="#00ff75" d="M354 516h3v3h-3z"/><path fill="#00ff71" d="M357 516h3v3h-3z"/><path fill="#00ff6d" d="M360 516h3v3h-3z"/><path fill="#00ff69" d="M363 516h3v3h-3z"/><path fill="#00ff65" d="M366 516h3v3h-3z"/><path fill="#00ff60" d="M369 516h3v3h-3z"/><path fill="#00ff5a" d="M372 516h3v3h-3z"/><path fill="#1bff54" d="M375 516h3v3h-3z"/><path fill="#4aff4e" d="M378 516h3v3h-3z"/><path fill="#64ff46" d="M381 516h3v3h-3z"/><path fill="#78ff3d" d="M384 516h3v3h-3z"/><path fill="#8aff31" d="M387 516h3v3h-3z"/><path fill="#99ff21" d="M390 516h3v3h-3z"/><path fill="#a7ff00" d="M393 516h3v3h-3z"/><path fill="#b4ff00" d="M396 516h3v3h-3z"/><path fill="#c0ff00" d="M399 516h3v3h-3z"/><path fill="#ccff00" d="M402 516h3v3h-3z"/><path fill="#d7ff00" d="M405 516h3v3h-3z"/><path fill="#e2ff00" d="M408 516h3v3h-3z"/><path fill="#edff00" d="M411 516h3v3h-3z"/><path fill="#f7ff00" d="M414 516h3v3h-3z"/><path fill="#fffd00" d="M417 516h3v3h-3z"/><path fill="#fff300" d="M420 516h3v3h-3z"/><path fill="#00ffa3" d="M300 519h3v3h-3z"/><path fill="#00ffa1" d="M303 519h3v3h-3z"/><path fill="#00ffa0" d="M306 519h3v3h-3z"/><path fill="#00ff9e" d="M309 519h3v3h-3z"/><path fill="#00ff9d" d="M312 519h3v3h-3z"/><path fill="#00ff9b" d="M315 519h3v3h-3z"/><path fill="#00ff99" d="M318 519h3v3h-3z"/><path fill="#00ff97" d="M321 519h3v3h-3z"/><path fill="#00ff96" d="M324 519h3v3h-3z"/><path fill="#00ff94" d="M327 519h3v3h-3z"/><path fill="#00ff92" d="M330 519h3v3h-3z"/><path fill="#00ff8f" d="M333 519h3v3h-3z"/><path fill="#00ff8d" d="M336 519h3v3h-3z"/><path fill="#00ff8b" d="M339 519h3v3h-3z"/><path fill="#00ff88" d="M342 519h3v3h-3z"/><path fill="#00ff86" d="M345 519h3v3h-3z"/><path fill="#00ff83" d="M348 519h3v3h-3z"/><path fill="#00ff80" d="M351 519h3v3h-3z"/><path fill="#00ff7d" d="M354 519h3v3h-3z"/><path fill="#00ff7a" d="M357 519h3v3h-3z"/><path fill="#00ff76" d="M360 519h3v3h-3z"/><path fill="#00ff72" d="M363 519h3v3h-3z"/><path fill="#00ff6e" d="M366 519h3v3h-3z"/><path fill="#00ff6a" d="M369 519h3v3h-3z"/><path fill="#00ff65" d="M372 519h3v3h-3z"/><path fill="#32ff60" d="M375 519h3v3h-3z"/><path fill="#55ff5b" d="M378 519h3v3h-3z"/><path fill="#6dff54" d="M381 519h3v3h-3z"/><path fill="#81ff4d" d="M384 519h3v3h-3z"/><path fill="#91ff44" d="M387 519h3v3h-3z"/><path fill="#a0ff3a" d="M390 519h3v3h-3z"/><path fill="#aeff2d" d="M393 519h3v3h-3z"/><path fill="#bbff17" d="M396 519h3v3h-3z"/><path fill="#c7ff00" d="M399 519h3v3h-3z"/><path fill="#d3ff00" d="M402 519h3v3h-3z"/><path fill="#dfff00" d="M405 519h3v3h-3z"/><path fill="#eaff00" d="M408 519h3v3h-3z"/><path fill="#f4ff00" d="M411 519h3v3h-3z"/><path fill="#ffff00" d="M414 519h3v3h-3z"/><path fill="#fff500" d="M417 519h3v3h-3z"/><path fill="#ffec00" d="M420 519h3v3h-3z"/><path fill="#ffe300" d="M423 519h3v3h-3z"/><path fill="#00ffa8" d="M300 522h3v3h-3z"/><path fill="#00ffa7" d="M303 522h3v3h-3z"/><path fill="#00ffa6" d="M306 522h3v3h-3z"/><path fill="#00ffa4" d="M309 522h3v3h-3z"/><path fill="#00ffa3" d="M312 522h3v3h-3z"/><path fill="#00ffa1" d="M315 522h3v3h-3z"/><path fill="#00ff9f" d="M318 522h3v3h-3z"/><path fill="#00ff9e" d="M321 522h3v3h-3z"/><path fill="#00ff9c" d="M324 522h3v3h-3z"/><path fill="#00ff9a" d="M327 522h3v3h-3z"/><path fill="#00ff98" d="M330 522h3v3h-3z"/><path fill="#00ff96" d="M333 522h3v3h-3z"/><path fill="#00ff94" d="M336 522h3v3h-3z"/><path fill="#00ff92" d="M339 522h3v3h-3z"/><path fill="#00ff90" d="M342 522h3v3h-3z"/><path fill="#00ff8d" d="M345 522h3v3h-3z"/><path fill="#00ff8b" d="M348 522h3v3h-3z"/><path fill="#00ff88" d="M351 522h3v3h-3z"/><path fill="#00ff85" d="M354 522h3v3h-3z"/><path fill="#00ff82" d="M357 522h3v3h-3z"/><path fill="#00ff7f" d="M360 522h3v3h-3z"/><path fill="#00ff7c" d="M363 522h3v3h-3z"/><path fill="#00ff78" d="M366 522h3v3h-3z"/><path fill="#00ff74" d="M369 522h3v3h-3z"/><path fill="#00ff70" d="M372 522h3v3h-3z"/><path fill="#42ff6b" d="M375 522h3v3h-3z"/><path fill="#60ff66" d="M378 522h3v3h-3z"/><path fill="#76ff61" d="M381 522h3v3h-3z"/><path fill="#89ff5b" d="M384 522h3v3h-3z"/><path fill="#99ff54" d="M387 522h3v3h-3z"/><path fill="#a8ff4c" d="M390 522h3v3h-3z"/><path fill="#b6ff43" d="M393 522h3v3h-3z"/><path fill="#c2ff37" d="M396 522h3v3h-3z"/><path fill="#cfff27" d="M399 522h3v3h-3z"/><path fill="#dbff05" d="M402 522h3v3h-3z"/><path fill="#e6ff00" d="M405 522h3v3h-3z"/><path fill="#f1ff00" d="M408 522h3v3h-3z"/><path fill="#fcff00" d="M411 522h3v3h-3z"/><path fill="#fff700" d="M414 522h3v3h-3z"/><path fill="#ffed00" d="M417 522h3v3h-3z"/><path fill="#ffe400" d="M420 522h3v3h-3z"/><path fill="#ffdc00" d="M423 522h3v3h-3z"/><path fill="#ffd500" d="M426 522h3v3h-3z"/><path fill="#ffcd00" d="M429 522h3v3h-3z"/><path fill="#00ffae" d="M300 525h3v3h-3z"/><path fill="#00ffad" d="M303 525h3v3h-3z"/><path fill="#00ffab" d="M306 525h3v3h-3z"/><path fill="#00ffaa" d="M309 525h3v3h-3z"/><path fill="#00ffa9" d="M312 525h3v3h-3z"/><path fill="#00ffa7" d="M315 525h3v3h-3z"/><path fill="#00ffa6" d="M318 525h3v3h-3z"/><path fill="#00ffa4" d="M321 525h3v3h-3z"/><path fill="#00ffa2" d="M324 525h3v3h-3z"/><path fill="#00ffa1" d="M327 525h3v3h-3z"/><path fill="#00ff9f" d="M330 525h3v3h-3z"/><path fill="#00ff9d" d="M333 525h3v3h-3z"/><path fill="#00ff9b" d="M336 525h3v3h-3z"/><path fill="#00ff99" d="M339 525h3v3h-3z"/><path fill="#00ff97" d="M342 525h3v3h-3z"/><path fill="#00ff95" d="M345 525h3v3h-3z"/><path fill="#00ff92" d="M348 525h3v3h-3z"/><path fill="#00ff90" d="M351 525h3v3h-3z"/><path fill="#00ff8d" d="M354 525h3v3h-3z"/><path fill="#00ff8a" d="M357 525h3v3h-3z"/><path fill="#00ff87" d="M360 525h3v3h-3z"/><path fill="#00ff84" d="M363 525h3v3h-3z"/><path fill="#00ff81" d="M366 525h3v3h-3z"/><path fill="#00ff7e" d="M369 525h3v3h-3z"/><path fill="#21ff7a" d="M372 525h3v3h-3z"/><path fill="#4fff76" d="M375 525h3v3h-3z"/><path fill="#6aff71" d="M378 525h3v3h-3z"/><path fill="#7fff6d" d="M381 525h3v3h-3z"/><path fill="#91ff67" d="M384 525h3v3h-3z"/><path fill="#a1ff62" d="M387 525h3v3h-3z"/><path fill="#afff5b" d="M390 525h3v3h-3z"/><path fill="#bdff54" d="M393 525h3v3h-3z"/><path fill="#caff4b" d="M396 525h3v3h-3z"/><path fill="#d7ff40" d="M399 525h3v3h-3z"/><path fill="#e3ff33" d="M402 525h3v3h-3z"/><path fill="#eeff1f" d="M405 525h3v3h-3z"/><path fill="#faff00" d="M408 525h3v3h-3z"/><path fill="#fff900" d="M411 525h3v3h-3z"/><path fill="#ffef00" d="M414 525h3v3h-3z"/><path fill="#ffe600" d="M417 525h3v3h-3z"/><path fill="#ffdd00" d="M420 525h3v3h-3z"/><path fill="#ffd500" d="M423 525h3v3h-3z"/><path fill="#ffce00" d="M426 525h3v3h-3z"/><path fill="#ffc700" d="M429 525h3v3h-3z"/><path fill="#ffc000" d="M432 525h3v3h-3z"/><path fill="#00ffb4" d="M300 528h3v3h-3z"/><path fill="#00ffb2" d="M303 528h3v3h-3z"/><path fill="#00ffb1" d="M306 528h3v3h-3z"/><path fill="#00ffb0" d="M309 528h3v3h-3z"/><path fill="#00ffaf" d="M312 528h3v3h-3z"/><path fill="#00ffad" d="M315 528h3v3h-3z"/><path fill="#00ffac" d="M318 528h3v3h-3z"/><path fill="#00ffaa" d="M321 528h3v3h-3z"/><path fill="#00ffa9" d="M324 528h3v3h-3z"/><path fill="#00ffa7" d="M327 528h3v3h-3z"/><path fill="#00ffa5" d="M330 528h3v3h-3z"/><path fill="#00ffa4" d="M333 528h3v3h-3z"/><path fill="#00ffa2" d="M336 528h3v3h-3z"/><path fill="#00ffa0" d="M339 528h3v3h-3z"/><path fill="#00ff9e" d="M342 528h3v3h-3z"/><path fill="#00ff9c" d="M345 528h3v3h-3z"/><path fill="#00ff9a" d="M348 528h3v3h-3z"/><path fill="#00ff98" d="M351 528h3v3h-3z"/><path fill="#00ff95" d="M354 528h3v3h-3z"/><path fill="#00ff93" d="M357 528h3v3h-3z"/><path fill="#00ff90" d="M360 528h3v3h-3z"/><path fill="#00ff8d" d="M363 528h3v3h-3z"/><path fill="#00ff8a" d="M366 528h3v3h-3z"/><path fill="#00ff87" d="M369 528h3v3h-3z"/><path fill="#37ff84" d="M372 528h3v3h-3z"/><path fill="#5bff80" d="M375 528h3v3h-3z"/><path fill="#74ff7c" d="M378 528h3v3h-3z"/><path fill="#88ff78" d="M381 528h3v3h-3z"/><path fill="#99ff73" d="M384 528h3v3h-3z"/><path fill="#a9ff6e" d="M387 528h3v3h-3z"/><path fill="#b7ff68" d="M390 528h3v3h-3z"/><path fill="#c5ff62" d="M393 528h3v3h-3z"/><path fill="#d2ff5b" d="M396 528h3v3h-3z"/><path fill="#dfff53" d="M399 528h3v3h-3z"/><path fill="#ebff4a" d="M402 528h3v3h-3z"/><path fill="#f7ff3e" d="M405 528h3v3h-3z"/><path fill="#fffc2d" d="M408 528h3v3h-3z"/><path fill="#fff10f" d="M411 528h3v3h-3z"/><path fill="#ffe700" d="M414 528h3v3h-3z"/><path fill="#ffde00" d="M417 528h3v3h-3z"/><path fill="#ffd600" d="M420 528h3v3h-3z"/><path fill="#ffce00" d="M423 528h3v3h-3z"/><path fill="#ffc700" d="M426 528h3v3h-3z"/><path fill="#ffc000" d="M429 528h3v3h-3z"/><path fill="#ffba00" d="M432 528h3v3h-3z"/><path fill="#ffb400" d="M435 528h3v3h-3z"/><path fill="#00ffb9" d="M300 531h3v3h-3z"/><path fill="#00ffb8" d="M303 531h3v3h-3z"/><path fill="#00ffb7" d="M306 531h3v3h-3z"/><path fill="#00ffb6" d="M309 531h3v3h-3z"/><path fill="#00ffb5" d="M312 531h3v3h-3z"/><path fill="#00ffb3" d="M315 531h3v3h-3z"/><path fill="#00ffb2" d="M318 531h3v3h-3z"/><path fill="#00ffb1" d="M321 531h3v3h-3z"/><path fill="#00ffaf" d="M324 531h3v3h-3z"/><path fill="#00ffae" d="M327 531h3v3h-3z"/><path fill="#00ffac" d="M330 531h3v3h-3z"/><path fill="#00ffab" d="M333 531h3v3h-3z"/><path fill="#00ffa9" d="M336 531h3v3h-3z"/><path fill="#00ffa7" d="M339 531h3v3h-3z"/><path fill="#00ffa5" d="M342 531h3v3h-3z"/><path fill="#00ffa3" d="M345 531h3v3h-3z"/><path fill="#00ffa1" d="M348 531h3v3h-3z"/><path fill="#00ff9f" d="M351 531h3v3h-3z"/><path fill="#00ff9d" d="M354 531h3v3h-3z"/><path fill="#00ff9b" d="M357 531h3v3h-3z"/><path fill="#00ff98" d="M360 531h3v3h-3z"/><path fill="#00ff96" d="M363 531h3v3h-3z"/><path fill="#00ff93" d="M366 531h3v3h-3z"/><path fill="#00ff90" d="M369 531h3v3h-3z"/><path fill="#47ff8d" d="M372 531h3v3h-3z"/><path fill="#66ff8a" d="M375 531h3v3h-3z"/><path fill="#7dff86" d="M378 531h3v3h-3z"/><path fill="#90ff82" d="M381 531h3v3h-3z"/><path fill="#a1ff7e" d="M384 531h3v3h-3z"/><path fill="#b1ff7a" d="M387 531h3v3h-3z"/><path fill="#bfff75" d="M390 531h3v3h-3z"/><path fill="#cdff70" d="M393 531h3v3h-3z"/><path fill="#daff6a" d="M396 531h3v3h-3z"/><path fill="#e7ff63" d="M399 531h3v3h-3z"/><path fill="#f3ff5c" d="M402 531h3v3h-3z"/><path fill="#ffff53" d="M405 531h3v3h-3z"/><path fill="#fff344" d="M408 531h3v3h-3z"/><path fill="#ffe934" d="M411 531h3v3h-3z"/><path fill="#ffe020" d="M414 531h3v3h-3z"/><path fill="#ffd700" d="M417 531h3v3h-3z"/><path fill="#ffcf00" d="M420 531h3v3h-3z"/><path fill="#ffc700" d="M423 531h3v3h-3z"/><path fill="#ffc000" d="M426 531h3v3h-3z"/><path fill="#ffba00" d="M429 531h3v3h-3z"/><path fill="#ffb300" d="M432 531h3v3h-3z"/><path fill="#ffad00" d="M435 531h3v3h-3z"/><path fill="#ffa800" d="M438 531h3v3h-3z"/><path fill="#00ffbf" d="M300 534h3v3h-3z"/><path fill="#00ffbe" d="M303 534h3v3h-3z"/><path fill="#00ffbd" d="M306 534h3v3h-3z"/><path fill="#00ffbc" d="M309 534h3v3h-3z"/><path fill="#00ffbb" d="M312 534h3v3h-3z"/><path fill="#00ffba" d="M315 534h3v3h-3z"/><path fill="#00ffb8" d="M318 534h3v3h-3z"/><path fill="#00ffb7" d="M321 534h3v3h-3z"/><path fill="#00ffb6" d="M324 534h3v3h-3z"/><path fill="#00ffb4" d="M327 534h3v3h-3z"/><path fill="#00ffb3" d="M330 534h3v3h-3z"/><path fill="#00ffb2" d="M333 534h3v3h-3z"/><path fill="#00ffb0" d="M336 534h3v3h-3z"/><path fill="#00ffae" d="M339 534h3v3h-3z"/><path fill="#00ffad" d="M342 534h3v3h-3z"/><path fill="#00ffab" d="M345 534h3v3h-3z"/><path fill="#00ffa9" d="M348 534h3v3h-3z"/><path fill="#00ffa7" d="M351 534h3v3h-3z"/><path fill="#00ffa5" d="M354 534h3v3h-3z"/><path fill="#00ffa3" d="M357 534h3v3h-3z"/><path fill="#00ffa1" d="M360 534h3v3h-3z"/><path fill="#00ff9f" d="M363 534h3v3h-3z"/><path fill="#00ff9c" d="M366 534h3v3h-3z"/><path fill="#26ff99" d="M369 534h3v3h-3z"/><path fill="#55ff97" d="M372 534h3v3h-3z"/><path fill="#70ff94" d="M375 534h3v3h-3z"/><path fill="#86ff91" d="M378 534h3v3h-3z"/><path fill="#99ff8d" d="M381 534h3v3h-3z"/><path fill="#aaff89" d="M384 534h3v3h-3z"/><path fill="#b9ff85" d="M387 534h3v3h-3z"/><path fill="#c8ff81" d="M390 534h3v3h-3z"/><path fill="#d6ff7d" d="M393 534h3v3h-3z"/><path fill="#e3ff77" d="M396 534h3v3h-3z"/><path fill="#f0ff72" d="M399 534h3v3h-3z"/><path fill="#fcff6b" d="M402 534h3v3h-3z"/><path fill="#fff660" d="M405 534h3v3h-3z"/><path fill="#ffeb54" d="M408 534h3v3h-3z"/><path fill="#ffe147" d="M411 534h3v3h-3z"/><path fill="#ffd83a" d="M414 534h3v3h-3z"/><path fill="#ffcf2a" d="M417 534h3v3h-3z"/><path fill="#ffc812" d="M420 534h3v3h-3z"/><path fill="#ffc000" d="M423 534h3v3h-3z"/><path fill="#ffb900" d="M426 534h3v3h-3z"/><path fill="#ffb300" d="M429 534h3v3h-3z"/><path fill="#ffad00" d="M432 534h3v3h-3z"/><path fill="#ffa700" d="M435 534h3v3h-3z"/><path fill="#ffa100" d="M438 534h3v3h-3z"/><path fill="#ff9c00" d="M441 534h3v3h-3z"/><path fill="#ff9700" d="M444 534h3v3h-3z"/><path fill="#00ffc4" d="M303 537h3v3h-3z"/><path fill="#00ffc3" d="M306 537h3v3h-3z"/><path fill="#00ffc2" d="M309 537h3v3h-3z"/><path fill="#00ffc1" d="M312 537h3v3h-3z"/><path fill="#00ffc0" d="M315 537h3v3h-3z"/><path fill="#00ffbf" d="M318 537h3v3h-3z"/><path fill="#00ffbe" d="M321 537h3v3h-3z"/><path fill="#00ffbd" d="M324 537h3v3h-3z"/><path fill="#00ffbb" d="M327 537h3v3h-3z"/><path fill="#00ffba" d="M330 537h3v3h-3z"/><path fill="#00ffb9" d="M333 537h3v3h-3z"/><path fill="#00ffb7" d="M336 537h3v3h-3z"/><path fill="#00ffb6" d="M339 537h3v3h-3z"/><path fill="#00ffb4" d="M342 537h3v3h-3z"/><path fill="#00ffb3" d="M345 537h3v3h-3z"/><path fill="#00ffb1" d="M348 537h3v3h-3z"/><path fill="#00ffaf" d="M351 537h3v3h-3z"/><path fill="#00ffae" d="M354 537h3v3h-3z"/><path fill="#00ffac" d="M357 537h3v3h-3z"/><path fill="#00ffaa" d="M360 537h3v3h-3z"/><path fill="#00ffa7" d="M363 537h3v3h-3z"/><path fill="#00ffa5" d="M366 537h3v3h-3z"/><path fill="#3cffa3" d="M369 537h3v3h-3z"/><path fill="#61ffa0" d="M372 537h3v3h-3z"/><path fill="#7bff9e" d="M375 537h3v3h-3z"/><path fill="#90ff9b" d="M378 537h3v3h-3z"/><path fill="#a2ff98" d="M381 537h3v3h-3z"/><path fill="#b3ff94" d="M384 537h3v3h-3z"/><path fill="#c2ff91" d="M387 537h3v3h-3z"/><path fill="#d1ff8d" d="M390 537h3v3h-3z"/><path fill="#dfff89" d="M393 537h3v3h-3z"/><path fill="#ecff85" d="M396 537h3v3h-3z"/><path fill="#f9ff80" d="M399 537h3v3h-3z"/><path fill="#fff877" d="M402 537h3v3h-3z"/><path fill="#ffed6b" d="M405 537h3v3h-3z"/><path fill="#ffe260" d="M408 537h3v3h-3z"/><path fill="#ffd955" d="M411 537h3v3h-3z"/><path fill="#ffd04a" d="M414 537h3v3h-3z"/><path fill="#ffc83e" d="M417 537h3v3h-3z"/><path fill="#ffc030" d="M420 537h3v3h-3z"/><path fill="#ffb91f" d="M423 537h3v3h-3z"/><path fill="#ffb200" d="M426 537h3v3h-3z"/><path fill="#ffac00" d="M429 537h3v3h-3z"/><path fill="#ffa600" d="M432 537h3v3h-3z"/><path fill="#ffa000" d="M435 537h3v3h-3z"/><path fill="#ff9b00" d="M438 537h3v3h-3z"/><path fill="#ff9500" d="M441 537h3v3h-3z"/><path fill="#ff9000" d="M444 537h3v3h-3z"/><path fill="#ff8b00" d="M447 537h3v3h-3z"/><path fill="#00ffca" d="M303 540h3v3h-3z"/><path fill="#00ffc9" d="M306 540h3v3h-3z"/><path fill="#00ffc8" d="M309 540h3v3h-3z"/><path fill="#00ffc8" d="M312 540h3v3h-3z"/><path fill="#00ffc7" d="M315 540h3v3h-3z"/><path fill="#00ffc6" d="M318 540h3v3h-3z"/><path fill="#00ffc5" d="M321 540h3v3h-3z"/><path fill="#00ffc3" d="M324 540h3v3h-3z"/><path fill="#00ffc2" d="M327 540h3v3h-3z"/><path fill="#00ffc1" d="M330 540h3v3h-3z"/><path fill="#00ffc0" d="M333 540h3v3h-3z"/><path fill="#00ffbf" d="M336 540h3v3h-3z"/><path fill="#00ffbd" d="M339 540h3v3h-3z"/><path fill="#00ffbc" d="M342 540h3v3h-3z"/><path fill="#00ffbb" d="M345 540h3v3h-3z"/><path fill="#00ffb9" d="M348 540h3v3h-3z"/><path fill="#01ffb8" d="M351 540h3v3h-3z"/><path fill="#01ffb6" d="M354 540h3v3h-3z"/><path fill="#01ffb4" d="M357 540h3v3h-3z"/><path fill="#01ffb2" d="M360 540h3v3h-3z"/><path fill="#01ffb0" d="M363 540h3v3h-3z"/><path fill="#01ffae" d="M366 540h3v3h-3z"/><path fill="#4effac" d="M369 540h3v3h-3z"/><path fill="#6dffaa" d="M372 540h3v3h-3z"/><path fill="#85ffa8" d="M375 540h3v3h-3z"/><path fill="#99ffa5" d="M378 540h3v3h-3z"/><path fill="#abffa2" d="M381 540h3v3h-3z"/><path fill="#bcff9f" d="M384 540h3v3h-3z"/><path fill="#cbff9c" d="M387 540h3v3h-3z"/><path fill="#daff99" d="M390 540h3v3h-3z"/><path fill="#e8ff95" d="M393 540h3v3h-3z"/><path fill="#f6ff91" d="M396 540h3v3h-3z"/><path fill="#fffb8b" d="M399 540h3v3h-3z"/><path fill="#ffef7f" d="M402 540h3v3h-3z"/><path fill="#ffe475" d="M405 540h3v3h-3z"/><path fill="#ffda6a" d="M408 540h3v3h-3z"/><path fill="#ffd160" d="M411 540h3v3h-3z"/><path fill="#ffc856" d="M414 540h3v3h-3z"/><path fill="#ffc04c" d="M417 540h3v3h-3z"/><path fill="#ffb941" d="M420 540h3v3h-3z"/><path fill="#ffb235" d="M423 540h3v3h-3z"/><path fill="#ffab28" d="M426 540h3v3h-3z"/><path fill="#ffa514" d="M429 540h3v3h-3z"/><path fill="#ff9f00" d="M432 540h3v3h-3z"/><path fill="#ff9900" d="M435 540h3v3h-3z"/><path fill="#ff9400" d="M438 540h3v3h-3z"/><path fill="#ff8e00" d="M441 540h3v3h-3z"/><path fill="#ff8900" d="M444 540h3v3h-3z"/><path fill="#ff8400" d="M447 540h3v3h-3z"/><path fill="#ff8000" d="M450 540h3v3h-3z"/><path fill="#00ffd1" d="M303 543h3v3h-3z"/><path fill="#00ffd0" d="M306 543h3v3h-3z"/><path fill="#00ffcf" d="M309 543h3v3h-3z"/><path fill="#00ffce" d="M312 543h3v3h-3z"/><path fill="#00ffcd" d="M315 543h3v3h-3z"/><path fill="#00ffcc" d="M318 543h3v3h-3z"/><path fill="#00ffcc" d="M321 543h3v3h-3z"/><path fill="#00ffcb" d="M324 543h3v3h-3z"/><path fill="#00ffca" d="M327 543h3v3h-3z"/><path fill="#00ffc9" d="M330 543h3v3h-3z"/><path fill="#00ffc7" d="M333 543h3v3h-3z"/><path fill="#00ffc6" d="M336 543h3v3h-3z"/><path fill="#00ffc5" d="M339 543h3v3h-3z"/><path fill="#01ffc4" d="M342 543h3v3h-3z"/><path fill="#01ffc3" d="M345 543h3v3h-3z"/><path fill="#01ffc1" d="M348 543h3v3h-3z"/><path fill="#01ffc0" d="M351 543h3v3h-3z"/><path fill="#01ffbe" d="M354 543h3v3h-3z"/><path fill="#02ffbd" d="M357 543h3v3h-3z"/><path fill="#02ffbb" d="M360 543h3v3h-3z"/><path fill="#02ffba" d="M363 543h3v3h-3z"/><path fill="#2effb8" d="M366 543h3v3h-3z"/><path fill="#5cffb6" d="M369 543h3v3h-3z"/><path fill="#79ffb4" d="M372 543h3v3h-3z"/><path fill="#90ffb2" d="M375 543h3v3h-3z"/><path fill="#a3ffb0" d="M378 543h3v3h-3z"/><path fill="#b5ffad" d="M381 543h3v3h-3z"/><path fill="#c5ffab" d="M384 543h3v3h-3z"/><path fill="#d5ffa8" d="M387 543h3v3h-3z"/><path fill="#e4ffa5" d="M390 543h3v3h-3z"/><path fill="#f2ffa2" d="M393 543h3v3h-3z"/><path fill="#fffe9e" d="M396 543h3v3h-3z"/><path fill="#fff192" d="M399 543h3v3h-3z"/><path fill="#ffe587" d="M402 543h3v3h-3z"/><path fill="#ffdb7d" d="M405 543h3v3h-3z"/><path fill="#ffd173" d="M408 543h3v3h-3z"/><path fill="#ffc869" d="M411 543h3v3h-3z"/><path fill="#ffc060" d="M414 543h3v3h-3z"/><path fill="#ffb857" d="M417 543h3v3h-3z"/><path fill="#ffb14d" d="M420 543h3v3h-3z"/><path fill="#ffaa44" d="M423 543h3v3h-3z"/><path fill="#ffa439" d="M426 543h3v3h-3z"/><path fill="#ff9e2d" d="M429 543h3v3h-3z"/><path fill="#ff981f" d="M432 543h3v3h-3z"/><path fill="#ff9205" d="M435 543h3v3h-3z"/><path fill="#ff8d00" d="M438 543h3v3h-3z"/><path fill="#ff8800" d="M441 543h3v3h-3z"/><path fill="#ff8200" d="M444 543h3v3h-3z"/><path fill="#ff7e00" d="M447 543h3v3h-3z"/><path fill="#ff7900" d="M450 543h3v3h-3z"/><path fill="#ff7400" d="M453 543h3v3h-3z"/><path fill="#00ffd7" d="M303 546h3v3h-3z"/><path fill="#00ffd6" d="M306 546h3v3h-3z"/><path fill="#00ffd6" d="M309 546h3v3h-3z"/><path fill="#00ffd5" d="M312 546h3v3h-3z"/><path fill="#00ffd4" d="M315 546h3v3h-3z"/><path fill="#00ffd3" d="M318 546h3v3h-3z"/><path fill="#00ffd3" d="M321 546h3v3h-3z"/><path fill="#00ffd2" d="M324 546h3v3h-3z"/><path fill="#00ffd1" d="M327 546h3v3h-3z"/><path fill="#00ffd0" d="M330 546h3v3h-3z"/><path fill="#00ffcf" d="M333 546h3v3h-3z"/><path fill="#01ffce" d="M336 546h3v3h-3z"/><path fill="#01ffcd" d="M339 546h3v3h-3z"/><path fill="#01ffcc" d="M342 546h3v3h-3z"/><path fill="#02ffcb" d="M345 546h3v3h-3z"/><path fill="#02ffca" d="M348 546h3v3h-3z"/><path fill="#02ffc9" d="M351 546h3v3h-3z"/><path fill="#02ffc7" d="M354 546h3v3h-3z"/><path fill="#03ffc6" d="M357 546h3v3h-3z"/><path fill="#03ffc5" d="M360 546h3v3h-3z"/><path fill="#03ffc3" d="M363 546h3v3h-3z"/><path fill="#44ffc2" d="M366 546h3v3h-3z"/><path fill="#6affc0" d="M369 546h3v3h-3z"/><path fill="#84ffbe" d="M372 546h3v3h-3z"/><path fill="#9affbc" d="M375 546h3v3h-3z"/><path fill="#aeffba" d="M378 546h3v3h-3z"/><path fill="#beffb8" d="M381 546h3v3h-3z"/><path fill="#cfffb6" d="M384 546h3v3h-3z"/><path fill="#dfffb4" d="M387 546h3v3h-3z"/><path fill="#eeffb1" d="M390 546h3v3h-3z"/><path fill="#fcffae" d="M393 546h3v3h-3z"/><path fill="#fff4a4" d="M396 546h3v3h-3z"/><path fill="#ffe798" d="M399 546h3v3h-3z"/><path fill="#ffdc8d" d="M402 546h3v3h-3z"/><path fill="#ffd284" d="M405 546h3v3h-3z"/><path fill="#ffc97a" d="M408 546h3v3h-3z"/><path fill="#ffc071" d="M411 546h3v3h-3z"/><path fill="#ffb868" d="M414 546h3v3h-3z"/><path fill="#ffb160" d="M417 546h3v3h-3z"/><path fill="#ffaa57" d="M420 546h3v3h-3z"/><path fill="#ffa34f" d="M423 546h3v3h-3z"/><path fill="#ff9d46" d="M426 546h3v3h-3z"/><path fill="#ff963c" d="M429 546h3v3h-3z"/><path fill="#ff9132" d="M432 546h3v3h-3z"/><path fill="#ff8b26" d="M435 546h3v3h-3z"/><path fill="#ff8615" d="M438 546h3v3h-3z"/><path fill="#ff8000" d="M441 546h3v3h-3z"/><path fill="#ff7b00" d="M444 546h3v3h-3z"/><path fill="#ff7600" d="M447 546h3v3h-3z"/><path fill="#ff7100" d="M450 546h3v3h-3z"/><path fill="#ff6d00" d="M453 546h3v3h-3z"/><path fill="#ff6800" d="M456 546h3v3h-3z"/><path fill="#ff6300" d="M459 546h3v3h-3z"/><path fill="#00ffde" d="M303 549h3v3h-3z"/><path fill="#00ffdd" d="M306 549h3v3h-3z"/><path fill="#00ffdd" d="M309 549h3v3h-3z"/><path fill="#00ffdc" d="M312 549h3v3h-3z"/><path fill="#00ffdb" d="M315 549h3v3h-3z"/><path fill="#00ffdb" d="M318 549h3v3h-3z"/><path fill="#00ffda" d="M321 549h3v3h-3z"/><path fill="#00ffd9" d="M324 549h3v3h-3z"/><path fill="#00ffd9" d="M327 549h3v3h-3z"/><path fill="#01ffd8" d="M330 549h3v3h-3z"/><path fill="#01ffd7" d="M333 549h3v3h-3z"/><path fill="#01ffd6" d="M336 549h3v3h-3z"/><path fill="#02ffd5" d="M339 549h3v3h-3z"/><path fill="#02ffd4" d="M342 549h3v3h-3z"/><path fill="#03ffd3" d="M345 549h3v3h-3z"/><path fill="#03ffd3" d="M348 549h3v3h-3z"/><path fill="#04ffd1" d="M351 549h3v3h-3z"/><path fill="#04ffd0" d="M354 549h3v3h-3z"/><path fill="#05ffcf" d="M357 549h3v3h-3z"/><path fill="#05ffcf" d="M360 549h3v3h-3z"/><path fill="#0cffce" d="M363 549h3v3h-3z"/><path fill="#56ffcd" d="M366 549h3v3h-3z"/><path fill="#78ffcb" d="M369 549h3v3h-3z"/><path fill="#90ffca" d="M372 549h3v3h-3z"/><path fill="#a6ffc8" d="M375 549h3v3h-3z"/><path fill="#b8ffc6" d="M378 549h3v3h-3z"/><path fill="#caffc5" d="M381 549h3v3h-3z"/><path fill="#d9ffc3" d="M384 549h3v3h-3z"/><path fill="#e9ffc1" d="M387 549h3v3h-3z"/><path fill="#f9ffbf" d="M390 549h3v3h-3z"/><path fill="#fff7b6" d="M393 549h3v3h-3z"/><path fill="#ffe9a9" d="M396 549h3v3h-3z"/><path fill="#ffde9e" d="M399 549h3v3h-3z"/><path fill="#ffd393" d="M402 549h3v3h-3z"/><path fill="#ffc98a" d="M405 549h3v3h-3z"/><path fill="#ffc081" d="M408 549h3v3h-3z"/><path fill="#ffb878" d="M411 549h3v3h-3z"/><path fill="#ffb070" d="M414 549h3v3h-3z"/><path fill="#ffa968" d="M417 549h3v3h-3z"/><path fill="#ffa260" d="M420 549h3v3h-3z"/><path fill="#ff9b58" d="M423 549h3v3h-3z"/><path fill="#ff9550" d="M426 549h3v3h-3z"/><path fill="#ff8f48" d="M429 549h3v3h-3z"/><path fill="#ff893f" d="M432 549h3v3h-3z"/><path fill="#ff8436" d="M435 549h3v3h-3z"/><path fill="#ff7e2b" d="M438 549h3v3h-3z"/><path fill="#ff791e" d="M441 549h3v3h-3z"/><path fill="#ff7409" d="M444 549h3v3h-3z"/><path fill="#ff6f00" d="M447 549h3v3h-3z"/><path fill="#ff6a00" d="M450 549h3v3h-3z"/><path fill="#ff6500" d="M453 549h3v3h-3z"/><path fill="#ff6000" d="M456 549h3v3h-3z"/><path fill="#ff5b00" d="M459 549h3v3h-3z"/><path fill="#ff5600" d="M462 549h3v3h-3z"/><path fill="#00ffe4" d="M306 552h3v3h-3z"/><path fill="#00ffe4" d="M309 552h3v3h-3z"/><path fill="#00ffe3" d="M312 552h3v3h-3z"/><path fill="#00ffe3" d="M315 552h3v3h-3z"/><path fill="#00ffe2" d="M318 552h3v3h-3z"/><path fill="#00ffe2" d="M321 552h3v3h-3z"/><path fill="#01ffe1" d="M324 552h3v3h-3z"/><path fill="#01ffe0" d="M327 552h3v3h-3z"/><path fill="#01ffe0" d="M330 552h3v3h-3z"/><path fill="#02ffdf" d="M333 552h3v3h-3z"/><path fill="#02ffdf" d="M336 552h3v3h-3z"/><path fill="#03ffde" d="M339 552h3v3h-3z"/><path fill="#03ffdd" d="M342 552h3v3h-3z"/><path fill="#04ffdc" d="M345 552h3v3h-3z"/><path fill="#05ffdc" d="M348 552h3v3h-3z"/><path fill="#06ffdb" d="M351 552h3v3h-3z"/><path fill="#06ffda" d="M354 552h3v3h-3z"/><path fill="#07ffda" d="M357 552h3v3h-3z"/><path fill="#07ffd9" d="M360 552h3v3h-3z"/><path fill="#39ffd8" d="M363 552h3v3h-3z"/><path fill="#68ffd7" d="M366 552h3v3h-3z"/><path fill="#85ffd6" d="M369 552h3v3h-3z"/><path fill="#9cffd5" d="M372 552h3v3h-3z"/><path fill="#b0ffd3" d="M375 552h3v3h-3z"/><path fill="#c3ffd2" d="M378 552h3v3h-3z"/><path fill="#d4ffd1" d="M381 552h3v3h-3z"/><path fill="#e4ffcf" d="M384 552h3v3h-3z"/><path fill="#f4ffcd" d="M387 552h3v3h-3z"/><path fill="#fffac7" d="M390 552h3v3h-3z"/><path fill="#ffecba" d="M393 552h3v3h-3z"/><path fill="#ffdfaf" d="M396 552h3v3h-3z"/><path fill="#ffd4a4" d="M399 552h3v3h-3z"/><path fill="#ffca9a" d="M402 552h3v3h-3z"/><path fill="#ffc091" d="M405 552h3v3h-3z"/><path fill="#ffb787" d="M408 552h3v3h-3z"/><path fill="#ffaf7e" d="M411 552h3v3h-3z"/><path fill="#ffa877" d="M414 552h3v3h-3z"/><path fill="#ffa16f" d="M417 552h3v3h-3z"/><path fill="#ff9a67" d="M420 552h3v3h-3z"/><path fill="#ff9360" d="M423 552h3v3h-3z"/><path fill="#ff8d58" d="M426 552h3v3h-3z"/><path fill="#ff8751" d="M429 552h3v3h-3z"/><path fill="#ff8149" d="M432 552h3v3h-3z"/><path fill="#ff7c41" d="M435 552h3v3h-3z"/><path fill="#ff7639" d="M438 552h3v3h-3z"/><path fill="#ff7130" d="M441 552h3v3h-3z"/><path fill="#ff6c25" d="M444 552h3v3h-3z"/><path fill="#ff6616" d="M447 552h3v3h-3z"/><path fill="#ff6100" d="M450 552h3v3h-3z"/><path fill="#ff5c00" d="M453 552h3v3h-3z"/><path fill="#ff5700" d="M456 552h3v3h-3z"/><path fill="#ff5200" d="M459 552h3v3h-3z"/><path fill="#ff4d00" d="M462 552h3v3h-3z"/><path fill="#ff4700" d="M465 552h3v3h-3z"/><path fill="#00ffeb" d="M306 555h3v3h-3z"/><path fill="#00ffeb" d="M309 555h3v3h-3z"/><path fill="#00ffeb" d="M312 555h3v3h-3z"/><path fill="#00ffea" d="M315 555h3v3h-3z"/><path fill="#00ffea" d="M318 555h3v3h-3z"/><path fill="#01ffe9" d="M321 555h3v3h-3z"/><path fill="#01ffe9" d="M324 555h3v3h-3z"/><path fill="#01ffe9" d="M327 555h3v3h-3z"/><path fill="#02ffe8" d="M330 555h3v3h-3z"/><path fill="#03ffe8" d="M333 555h3v3h-3z"/><path fill="#03ffe7" d="M336 555h3v3h-3z"/><path fill="#04ffe7" d="M339 555h3v3h-3z"/><path fill="#05ffe6" d="M342 555h3v3h-3z"/><path fill="#06ffe6" d="M345 555h3v3h-3z"/><path fill="#07ffe5" d="M348 555h3v3h-3z"/><path fill="#08ffe4" d="M351 555h3v3h-3z"/><path fill="#09ffe5" d="M354 555h3v3h-3z"/><path fill="#0affe4" d="M357 555h3v3h-3z"/><path fill="#0bffe3" d="M360 555h3v3h-3z"/><path fill="#51ffe3" d="M363 555h3v3h-3z"/><path fill="#78ffe2" d="M366 555h3v3h-3z"/><path fill="#92ffe1" d="M369 555h3v3h-3z"/><path fill="#a9ffe0" d="M372 555h3v3h-3z"/><path fill="#bcffdf" d="M375 555h3v3h-3z"/><path fill="#cfffde" d="M378 555h3v3h-3z"/><path fill="#e0ffdd" d="M381 555h3v3h-3z"/><path fill="#f0ffdc" d="M384 555h3v3h-3z"/><path fill="#fffdd9" d="M387 555h3v3h-3z"/><path fill="#ffeecb" d="M390 555h3v3h-3z"/><path fill="#ffe1be" d="M393 555h3v3h-3z"/><path fill="#ffd6b3" d="M396 555h3v3h-3z"/><path fill="#ffcba8" d="M399 555h3v3h-3z"/><path fill="#ffc19f" d="M402 555h3v3h-3z"/><path fill="#ffb896" d="M405 555h3v3h-3z"/><path fill="#ffaf8d" d="M408 555h3v3h-3z"/><path fill="#ffa785" d="M411 555h3v3h-3z"/><path fill="#ff9f7c" d="M414 555h3v3h-3z"/><path fill="#ff9875" d="M417 555h3v3h-3z"/><path fill="#ff916e" d="M420 555h3v3h-3z"/><path fill="#ff8b67" d="M423 555h3v3h-3z"/><path fill="#ff8560" d="M426 555h3v3h-3z"/><path fill="#ff7f59" d="M429 555h3v3h-3z"/><path fill="#ff7952" d="M432 555h3v3h-3z"/><path fill="#ff734b" d="M435 555h3v3h-3z"/><path fill="#ff6e43" d="M438 555h3v3h-3z"/><path fill="#ff683c" d="M441 555h3v3h-3z"/><path fill="#ff6333" d="M444 555h3v3h-3z"/><path fill="#ff5e2a" d="M447 555h3v3h-3z"/><path fill="#ff581e" d="M450 555h3v3h-3z"/><path fill="#ff530d" d="M453 555h3v3h-3z"/><path fill="#ff4d00" d="M456 555h3v3h-3z"/><path fill="#ff4800" d="M459 555h3v3h-3z"/><path fill="#ff4200" d="M462 555h3v3h-3z"/><path fill="#ff3c00" d="M465 555h3v3h-3z"/><path fill="#ff3600" d="M468 555h3v3h-3z"/><path fill="#00fff3" d="M306 558h3v3h-3z"/><path fill="#00fff3" d="M309 558h3v3h-3z"/><path fill="#00fff2" d="M312 558h3v3h-3z"/><path fill="#00fff2" d="M315 558h3v3h-3z"/><path fill="#01fff2" d="M318 558h3v3h-3z"/><path fill="#01fff2" d="M321 558h3v3h-3z"/><path fill="#02fff1" d="M324 558h3v3h-3z"/><path fill="#02fff1" d="M327 558h3v3h-3z"/><path fill="#03fff1" d="M330 558h3v3h-3z"/><path fill="#04fff1" d="M333 558h3v3h-3z"/><path fill="#05fff0" d="M336 558h3v3h-3z"/><path fill="#06fff0" d="M339 558h3v3h-3z"/><path fill="#08fff0" d="M342 558h3v3h-3z"/><path fill="#09ffef" d="M345 558h3v3h-3z"/><path fill="#0affef" d="M348 558h3v3h-3z"/><path fill="#0cffef" d="M351 558h3v3h-3z"/><path fill="#0dffee" d="M354 558h3v3h-3z"/><path fill="#0fffef" d="M357 558h3v3h-3z"/><path fill="#21ffee" d="M360 558h3v3h-3z"/><path fill="#65ffee" d="M363 558h3v3h-3z"/><path fill="#86ffed" d="M366 558h3v3h-3z"/><path fill="#a0ffed" d="M369 558h3v3h-3z"/><path fill="#b5ffec" d="M372 558h3v3h-3z"/><path fill="#c8ffec" d="M375 558h3v3h-3z"/><path fill="#daffeb" d="M378 558h3v3h-3z"/><path fill="#ecffea" d="M381 558h3v3h-3z"/><path fill="#fcffea" d="M384 558h3v3h-3z"/><path fill="#fff1dc" d="M387 558h3v3h-3z"/><path fill="#ffe4cf" d="M390 558h3v3h-3z"/><path fill="#ffd7c3" d="M393 558h3v3h-3z"/><path fill="#ffccb8" d="M396 558h3v3h-3z"/><path fill="#ffc1ae" d="M399 558h3v3h-3z"/><path fill="#ffb8a4" d="M402 558h3v3h-3z"/><path fill="#ffaf9b" d="M405 558h3v3h-3z"/><path fill="#ffa792" d="M408 558h3v3h-3z"/><path fill="#ff9f8a" d="M411 558h3v3h-3z"/><path fill="#ff9683" d="M414 558h3v3h-3z"/><path fill="#ff907b" d="M417 558h3v3h-3z"/><path fill="#ff8974" d="M420 558h3v3h-3z"/><path fill="#ff826d" d="M423 558h3v3h-3z"/><path fill="#ff7c66" d="M426 558h3v3h-3z"/><path fill="#ff7660" d="M429 558h3v3h-3z"/><path fill="#ff7059" d="M432 558h3v3h-3z"/><path fill="#ff6b53" d="M435 558h3v3h-3z"/><path fill="#ff654c" d="M438 558h3v3h-3z"/><path fill="#ff5f45" d="M441 558h3v3h-3z"/><path fill="#ff5a3e" d="M444 558h3v3h-3z"/><path fill="#ff5436" d="M447 558h3v3h-3z"/><path fill="#ff4e2e" d="M450 558h3v3h-3z"/><path fill="#ff4824" d="M453 558h3v3h-3z"/><path fill="#ff4217" d="M456 558h3v3h-3z"/><path fill="#ff3c01" d="M459 558h3v3h-3z"/><path fill="#ff3500" d="M462 558h3v3h-3z"/><path fill="#ff2e00" d="M465 558h3v3h-3z"/><path fill="#ff2600" d="M468 558h3v3h-3z"/><path fill="#ff1b00" d="M471 558h3v3h-3z"/><path fill="#ff0c00" d="M474 558h3v3h-3z"/><path fill="#00fffb" d="M306 561h3v3h-3z"/><path fill="#00fffa" d="M309 561h3v3h-3z"/><path fill="#00fffa" d="M312 561h3v3h-3z"/><path fill="#01fffa" d="M315 561h3v3h-3z"/><path fill="#01fffa" d="M318 561h3v3h-3z"/><path fill="#02fffa" d="M321 561h3v3h-3z"/><path fill="#02fffa" d="M324 561h3v3h-3z"/><path fill="#03fffa" d="M327 561h3v3h-3z"/><path fill="#04fffa" d="M330 561h3v3h-3z"/><path fill="#05fffa" d="M333 561h3v3h-3z"/><path fill="#07fffa" d="M336 561h3v3h-3z"/><path fill="#09fffa" d="M339 561h3v3h-3z"/><path fill="#0afffa" d="M342 561h3v3h-3z"/><path fill="#0cfff9" d="M345 561h3v3h-3z"/><path fill="#0efff9" d="M348 561h3v3h-3z"/><path fill="#10fff9" d="M351 561h3v3h-3z"/><path fill="#12fff9" d="M354 561h3v3h-3z"/><path fill="#14fff9" d="M357 561h3v3h-3z"/><path fill="#4bfff9" d="M360 561h3v3h-3z"/><path fill="#79fff9" d="M363 561h3v3h-3z"/><path fill="#96fff8" d="M366 561h3v3h-3z"/><path fill="#aefff8" d="M369 561h3v3h-3z"/><path fill="#c3fff8" d="M372 561h3v3h-3z"/><path fill="#d6fff8" d="M375 561h3v3h-3z"/><path fill="#e7fff8" d="M378 561h3v3h-3z"/><path fill="#f8fff8" d="M381 561h3v3h-3z"/><path fill="#fff4ee" d="M384 561h3v3h-3z"/><path fill="#ffe6e0" d="M387 561h3v3h-3z"/><path fill="#ffd9d2" d="M390 561h3v3h-3z"/><path fill="#ffcdc7" d="M393 561h3v3h-3z"/><path fill="#ffc2bc" d="M396 561h3v3h-3z"/><path fill="#ffb8b2" d="M399 561h3v3h-3z"/><path fill="#ffafa8" d="M402 561h3v3h-3z"/><path fill="#ffa6a0" d="M405 561h3v3h-3z"/><path fill="#ff9e98" d="M408 561h3v3h-3z"/><path fill="#ff968f" d="M411 561h3v3h-3z"/><path fill="#ff8e88" d="M414 561h3v3h-3z"/><path fill="#ff8781" d="M417 561h3v3h-3z"/><path fill="#ff8079" d="M420 561h3v3h-3z"/><path fill="#ff7973" d="M423 561h3v3h-3z"/><path fill="#ff736c" d="M426 561h3v3h-3z"/><path fill="#ff6d66" d="M429 561h3v3h-3z"/><path fill="#ff6760" d="M432 561h3v3h-3z"/><path fill="#ff615a" d="M435 561h3v3h-3z"/><path fill="#ff5b53" d="M438 561h3v3h-3z"/><path fill="#ff554d" d="M441 561h3v3h-3z"/><path fill="#ff4f47" d="M444 561h3v3h-3z"/><path fill="#ff4940" d="M447 561h3v3h-3z"/><path fill="#ff4339" d="M450 561h3v3h-3z"/><path fill="#ff3c31" d="M453 561h3v3h-3z"/><path fill="#ff3528" d="M456 561h3v3h-3z"/><path fill="#ff2d1e" d="M459 561h3v3h-3z"/><path fill="#ff240f" d="M462 561h3v3h-3z"/><path fill="#ff1900" d="M465 561h3v3h-3z"/><path fill="#ff0700" d="M468 561h3v3h-3z"/><path fill="#ff0000" d="M471 561h3v3h-3z"/><path fill="#ff0000" d="M474 561h3v3h-3z"/><path fill="#ff0000" d="M477 561h3v3h-3z"/><path fill="#00fbff" d="M309 564h3v3h-3z"/><path fill="#01fbff" d="M312 564h3v3h-3z"/><path fill="#01fbff" d="M315 564h3v3h-3z"/><path fill="#01fbff" d="M318 564h3v3h-3z"/><path fill="#02fbff" d="M321 564h3v3h-3z"/><path fill="#03fbff" d="M324 564h3v3h-3z"/><path fill="#04fbff" d="M327 564h3v3h-3z"/><path fill="#06fbff" d="M330 564h3v3h-3z"/><path fill="#07faff" d="M333 564h3v3h-3z"/><path fill="#09faff" d="M336 564h3v3h-3z"/><path fill="#0cfaff" d="M339 564h3v3h-3z"/><path fill="#0efaff" d="M342 564h3v3h-3z"/><path fill="#10faff" d="M345 564h3v3h-3z"/><path fill="#13faff" d="M348 564h3v3h-3z"/><path fill="#16faff" d="M351 564h3v3h-3z"/><path fill="#18f9ff" d="M354 564h3v3h-3z"/><path fill="#1bf9ff" d="M357 564h3v3h-3z"/><path fill="#63f9ff" d="M360 564h3v3h-3z"/><path fill="#88f9ff" d="M363 564h3v3h-3z"/><path fill="#a2f9ff" d="M366 564h3v3h-3z"/><path fill="#b8f8ff" d="M369 564h3v3h-3z"/><path fill="#cbf8ff" d="M372 564h3v3h-3z"/><path fill="#ddf8ff" d="M375 564h3v3h-3z"/><path fill="#eef8ff" d="M378 564h3v3h-3z"/><path fill="#fef7ff" d="M381 564h3v3h-3z"/><path fill="#ffe9f0" d="M384 564h3v3h-3z"/><path fill="#ffdce2" d="M387 564h3v3h-3z"/><path fill="#ffd0d6" d="M390 564h3v3h-3z"/><path fill="#ffc4cb" d="M393 564h3v3h-3z"/><path fill="#ffbac1" d="M396 564h3v3h-3z"/><path fill="#ffb0b7" d="M399 564h3v3h-3z"/><path fill="#ffa7ad" d="M402 564h3v3h-3z"/><path fill="#ff9ea5" d="M405 564h3v3h-3z"/><path fill="#ff969c" d="M408 564h3v3h-3z"/><path fill="#ff8d94" d="M411 564h3v3h-3z"/><path fill="#ff868c" d="M414 564h3v3h-3z"/><path fill="#ff7e86" d="M417 564h3v3h-3z"/><path fill="#ff777f" d="M420 564h3v3h-3z"/><path fill="#ff7078" d="M423 564h3v3h-3z"/><path fill="#ff6972" d="M426 564h3v3h-3z"/><path fill="#ff636b" d="M429 564h3v3h-3z"/><path fill="#ff5d66" d="M432 564h3v3h-3z"/><path fill="#ff5760" d="M435 564h3v3h-3z"/><path fill="#ff505a" d="M438 564h3v3h-3z"/><path fill="#ff4a54" d="M441 564h3v3h-3z"/><path fill="#ff434e" d="M444 564h3v3h-3z"/><path fill="#ff3c48" d="M447 564h3v3h-3z"/><path fill="#ff3542" d="M450 564h3v3h-3z"/><path fill="#ff2c3b" d="M453 564h3v3h-3z"/><path fill="#ff2334" d="M456 564h3v3h-3z"/><path fill="#ff162c" d="M459 564h3v3h-3z"/><path fill="#ff0023" d="M462 564h3v3h-3z"/><path fill="#ff0017" d="M465 564h3v3h-3z"/><path fill="#ff0004" d="M468 564h3v3h-3z"/><path fill="#ff0000" d="M471 564h3v3h-3z"/><path fill="#ff0000" d="M474 564h3v3h-3z"/><path fill="#ff0000" d="M477 564h3v3h-3z"/><path fill="#ff0000" d="M480 564h3v3h-3z"/><path fill="#00f3ff" d="M309 567h3v3h-3z"/><path fill="#01f3ff" d="M312 567h3v3h-3z"/><path fill="#01f3ff" d="M315 567h3v3h-3z"/><path fill="#02f2ff" d="M318 567h3v3h-3z"/><path fill="#03f2ff" d="M321 567h3v3h-3z"/><path fill="#04f2ff" d="M324 567h3v3h-3z"/><path fill="#06f2ff" d="M327 567h3v3h-3z"/><path fill="#07f1ff" d="M330 567h3v3h-3z"/><path fill="#0af1ff" d="M333 567h3v3h-3z"/><path fill="#0cf1ff" d="M336 567h3v3h-3z"/><path fill="#0ff0ff" d="M339 567h3v3h-3z"/><path fill="#12f1ff" d="M342 567h3v3h-3z"/><path fill="#15f0ff" d="M345 567h3v3h-3z"/><path fill="#19f0ff" d="M348 567h3v3h-3z"/><path fill="#1cf0ff" d="M351 567h3v3h-3z"/><path fill="#1ff0ff" d="M354 567h3v3h-3z"/><path fill="#3af0ff" d="M357 567h3v3h-3z"/><path fill="#74efff" d="M360 567h3v3h-3z"/><path fill="#93efff" d="M363 567h3v3h-3z"/><path fill="#aaefff" d="M366 567h3v3h-3z"/><path fill="#bdeeff" d="M369 567h3v3h-3z"/><path fill="#cfeeff" d="M372 567h3v3h-3z"/><path fill="#dfedff" d="M375 567h3v3h-3z"/><path fill="#eeecff" d="M378 567h3v3h-3z"/><path fill="#fdebff" d="M381 567h3v3h-3z"/><path fill="#ffdef1" d="M384 567h3v3h-3z"/><path fill="#ffd2e5" d="M387 567h3v3h-3z"/><path fill="#ffc6d9" d="M390 567h3v3h-3z"/><path fill="#ffbbce" d="M393 567h3v3h-3z"/><path fill="#ffb1c5" d="M396 567h3v3h-3z"/><path fill="#ffa7ba" d="M399 567h3v3h-3z"/><path fill="#ff9eb2" d="M402 567h3v3h-3z"/><path fill="#ff95a9" d="M405 567h3v3h-3z"/><path fill="#ff8ca1" d="M408 567h3v3h-3z"/><path fill="#ff8499" d="M411 567h3v3h-3z"/><path fill="#ff7c92" d="M414 567h3v3h-3z"/><path fill="#ff758a" d="M417 567h3v3h-3z"/><path fill="#ff6d84" d="M420 567h3v3h-3z"/><path fill="#ff667d" d="M423 567h3v3h-3z"/><path fill="#ff6076" d="M426 567h3v3h-3z"/><path fill="#ff5871" d="M429 567h3v3h-3z"/><path fill="#ff516b" d="M432 567h3v3h-3z"/><path fill="#ff4b65" d="M435 567h3v3h-3z"/><path fill="#ff4360" d="M438 567h3v3h-3z"/><path fill="#ff3c5a" d="M441 567h3v3h-3z"/><path fill="#ff3454" d="M444 567h3v3h-3z"/><path fill="#ff2b4f" d="M447 567h3v3h-3z"/><path fill="#ff2149" d="M450 567h3v3h-3z"/><path fill="#ff1243" d="M453 567h3v3h-3z"/><path fill="#ff003d" d="M456 567h3v3h-3z"/><path fill="#ff0036" d="M459 567h3v3h-3z"/><path fill="#ff002f" d="M462 567h3v3h-3z"/><path fill="#ff0027" d="M465 567h3v3h-3z"/><path fill="#ff001e" d="M468 567h3v3h-3z"/><path fill="#ff0010" d="M471 567h3v3h-3z"/><path fill="#ff0000" d="M474 567h3v3h-3z"/><path fill="#ff0000" d="M477 567h3v3h-3z"/><path fill="#ff0000" d="M480 567h3v3h-3z"/><path fill="#ff0000" d="M483 567h3v3h-3z"/><path fill="#01ebff" d="M309 570h3v3h-3z"/><path fill="#01ebff" d="M312 570h3v3h-3z"/><path fill="#02eaff" d="M315 570h3v3h-3z"/><path fill="#03eaff" d="M318 570h3v3h-3z"/><path fill="#04e9ff" d="M321 570h3v3h-3z"/><path fill="#05e9ff" d="M324 570h3v3h-3z"/><path fill="#07e8ff" d="M327 570h3v3h-3z"/><path fill="#09e8ff" d="M330 570h3v3h-3z"/><path fill="#0ce8ff" d="M333 570h3v3h-3z"/><path fill="#0fe8ff" d="M336 570h3v3h-3z"/><path fill="#13e7ff" d="M339 570h3v3h-3z"/><path fill="#17e8ff" d="M342 570h3v3h-3z"/><path fill="#1be7ff" d="M345 570h3v3h-3z"/><path fill="#1fe7ff" d="M348 570h3v3h-3z"/><path fill="#23e7ff" d="M351 570h3v3h-3z"/><path fill="#27e7ff" d="M354 570h3v3h-3z"/><path fill="#5be6ff" d="M357 570h3v3h-3z"/><path fill="#83e6ff" d="M360 570h3v3h-3z"/><path fill="#9de5ff" d="M363 570h3v3h-3z"/><path fill="#b2e5ff" d="M366 570h3v3h-3z"/><path fill="#c3e5ff" d="M369 570h3v3h-3z"/><path fill="#d3e3ff" d="M372 570h3v3h-3z"/><path fill="#e1e2ff" d="M375 570h3v3h-3z"/><path fill="#efe1ff" d="M378 570h3v3h-3z"/><path fill="#fce0ff" d="M381 570h3v3h-3z"/><path fill="#ffd5f4" d="M384 570h3v3h-3z"/><path fill="#ffc9e8" d="M387 570h3v3h-3z"/><path fill="#ffbedd" d="M390 570h3v3h-3z"/><path fill="#ffb3d2" d="M393 570h3v3h-3z"/><path fill="#ffa9c9" d="M396 570h3v3h-3z"/><path fill="#ff9ebe" d="M399 570h3v3h-3z"/><path fill="#ff95b6" d="M402 570h3v3h-3z"/><path fill="#ff8cad" d="M405 570h3v3h-3z"/><path fill="#ff83a5" d="M408 570h3v3h-3z"/><path fill="#ff7a9d" d="M411 570h3v3h-3z"/><path fill="#ff7295" d="M414 570h3v3h-3z"/><path fill="#ff6b8f" d="M417 570h3v3h-3z"/><path fill="#ff6388" d="M420 570h3v3h-3z"/><path fill="#ff5b82" d="M423 570h3v3h-3z"/><path fill="#ff547c" d="M426 570h3v3h-3z"/><path fill="#ff4c75" d="M429 570h3v3h-3z"/><path fill="#ff4470" d="M432 570h3v3h-3z"/><path fill="#ff3c6a" d="M435 570h3v3h-3z"/><path fill="#ff3465" d="M438 570h3v3h-3z"/><path fill="#ff2a60" d="M441 570h3v3h-3z"/><path fill="#ff1e5a" d="M444 570h3v3h-3z"/><path fill="#ff0d55" d="M447 570h3v3h-3z"/><path fill="#ff0050" d="M450 570h3v3h-3z"/><path fill="#ff004a" d="M453 570h3v3h-3z"/><path fill="#ff0045" d="M456 570h3v3h-3z"/><path fill="#ff003f" d="M459 570h3v3h-3z"/><path fill="#ff0039" d="M462 570h3v3h-3z"/><path fill="#ff0032" d="M465 570h3v3h-3z"/><path fill="#ff002b" d="M468 570h3v3h-3z"/><path fill="#ff0022" d="M471 570h3v3h-3z"/><path fill="#ff0018" d="M474 570h3v3h-3z"/><path fill="#ff0007" d="M477 570h3v3h-3z"/><path fill="#ff0000" d="M480 570h3v3h-3z"/><path fill="#ff0000" d="M483 570h3v3h-3z"/><path fill="#ff0000" d="M486 570h3v3h-3z"/><path fill="#ff0000" d="M489 570h3v3h-3z"/><path fill="#01e3ff" d="M309 573h3v3h-3z"/><path fill="#01e3ff" d="M312 573h3v3h-3z"/><path fill="#02e2ff" d="M315 573h3v3h-3z"/><path fill="#03e1ff" d="M318 573h3v3h-3z"/><path fill="#05e1ff" d="M321 573h3v3h-3z"/><path fill="#07e0ff" d="M324 573h3v3h-3z"/><path fill="#09e1ff" d="M327 573h3v3h-3z"/><path fill="#0ce0ff" d="M330 573h3v3h-3z"/><path fill="#0fdfff" d="M333 573h3v3h-3z"/><path fill="#13dfff" d="M336 573h3v3h-3z"/><path fill="#17e0ff" d="M339 573h3v3h-3z"/><path fill="#1bdfff" d="M342 573h3v3h-3z"/><path fill="#20dfff" d="M345 573h3v3h-3z"/><path fill="#26dfff" d="M348 573h3v3h-3z"/><path fill="#2bdfff" d="M351 573h3v3h-3z"/><path fill="#30dfff" d="M354 573h3v3h-3z"/><path fill="#70dfff" d="M357 573h3v3h-3z"/><path fill="#90dfff" d="M360 573h3v3h-3z"/><path fill="#a6deff" d="M363 573h3v3h-3z"/><path fill="#b9ddff" d="M366 573h3v3h-3z"/><path fill="#c8ddff" d="M369 573h3v3h-3z"/><path fill="#d6dbff" d="M372 573h3v3h-3z"/><path fill="#e3daff" d="M375 573h3v3h-3z"/><path fill="#f0d8ff" d="M378 573h3v3h-3z"/><path fill="#fcd6ff" d="M381 573h3v3h-3z"/><path fill="#ffccf5" d="M384 573h3v3h-3z"/><path fill="#ffc1ea" d="M387 573h3v3h-3z"/><path fill="#ffb6df" d="M390 573h3v3h-3z"/><path fill="#ffabd5" d="M393 573h3v3h-3z"/><path fill="#ffa1cc" d="M396 573h3v3h-3z"/><path fill="#ff96c2" d="M399 573h3v3h-3z"/><path fill="#ff8cba" d="M402 573h3v3h-3z"/><path fill="#ff83b1" d="M405 573h3v3h-3z"/><path fill="#ff79a9" d="M408 573h3v3h-3z"/><path fill="#ff71a2" d="M411 573h3v3h-3z"/><path fill="#ff689a" d="M414 573h3v3h-3z"/><path fill="#ff6093" d="M417 573h3v3h-3z"/><path fill="#ff578d" d="M420 573h3v3h-3z"/><path fill="#ff4e86" d="M423 573h3v3h-3z"/><path fill="#ff4580" d="M426 573h3v3h-3z"/><path fill="#ff3d7a" d="M429 573h3v3h-3z"/><path fill="#ff3374" d="M432 573h3v3h-3z"/><path fill="#ff296f" d="M435 573h3v3h-3z"/><path fill="#ff1c6a" d="M438 573h3v3h-3z"/><path fill="#ff0565" d="M441 573h3v3h-3z"/><path fill="#ff0060" d="M444 573h3v3h-3z"/><path fill="#ff005b" d="M447 573h3v3h-3z"/><path fill="#ff0055" d="M450 573h3v3h-3z"/><path fill="#ff0050" d="M453 573h3v3h-3z"/><path fill="#ff004b" d="M456 573h3v3h-3z"/><path fill="#ff0046" d="M459 573h3v3h-3z"/><path fill="#ff0040" d="M462 573h3v3h-3z"/><path fill="#ff003b" d="M465 573h3v3h-3z"/><path fill="#ff0034" d="M468 573h3v3h-3z"/><path fill="#ff002e" d="M471 573h3v3h-3z"/><path fill="#ff0026" d="M474 573h3v3h-3z"/><path fill="#ff001d" d="M477 573h3v3h-3z"/><path fill="#ff0012" d="M480 573h3v3h-3z"/><path fill="#ff0000" d="M483 573h3v3h-3z"/><path fill="#ff0000" d="M486 573h3v3h-3z"/><path fill="#ff0000" d="M489 573h3v3h-3z"/><path fill="#ff0000" d="M492 573h3v3h-3z"/><path fill="#02dbff" d="M312 576h3v3h-3z"/><path fill="#03daff" d="M315 576h3v3h-3z"/><path fill="#04d9ff" d="M318 576h3v3h-3z"/><path fill="#06d8ff" d="M321 576h3v3h-3z"/><path fill="#08d8ff" d="M324 576h3v3h-3z"/><path fill="#0ad8ff" d="M327 576h3v3h-3z"/><path fill="#0ed8ff" d="M330 576h3v3h-3z"/><path fill="#11d7ff" d="M333 576h3v3h-3z"/><path fill="#16d7ff" d="M336 576h3v3h-3z"/><path fill="#1bd7ff" d="M339 576h3v3h-3z"/><path fill="#20d7ff" d="M342 576h3v3h-3z"/><path fill="#26d7ff" d="M345 576h3v3h-3z"/><path fill="#2cd7ff" d="M348 576h3v3h-3z"/><path fill="#32d7ff" d="M351 576h3v3h-3z"/><path fill="#4fd8ff" d="M354 576h3v3h-3z"/><path fill="#81d8ff" d="M357 576h3v3h-3z"/><path fill="#9bd7ff" d="M360 576h3v3h-3z"/><path fill="#afd7ff" d="M363 576h3v3h-3z"/><path fill="#bfd6ff" d="M366 576h3v3h-3z"/><path fill="#cdd5ff" d="M369 576h3v3h-3z"/><path fill="#d9d4ff" d="M372 576h3v3h-3z"/><path fill="#e5d2ff" d="M375 576h3v3h-3z"/><path fill="#f1d0ff" d="M378 576h3v3h-3z"/><path fill="#fccdff" d="M381 576h3v3h-3z"/><path fill="#ffc4f7" d="M384 576h3v3h-3z"/><path fill="#ffb9ec" d="M387 576h3v3h-3z"/><path fill="#ffaee2" d="M390 576h3v3h-3z"/><path fill="#ffa3d8" d="M393 576h3v3h-3z"/><path fill="#ff99cf" d="M396 576h3v3h-3z"/><path fill="#ff8ec6" d="M399 576h3v3h-3z"/><path fill="#ff83be" d="M402 576h3v3h-3z"/><path fill="#ff79b5" d="M405 576h3v3h-3z"/><path fill="#ff6fad" d="M408 576h3v3h-3z"/><path fill="#ff66a5" d="M411 576h3v3h-3z"/><path fill="#ff5c9d" d="M414 576h3v3h-3z"/><path fill="#ff5397" d="M417 576h3v3h-3z"/><path fill="#ff4990" d="M420 576h3v3h-3z"/><path fill="#ff3f8a" d="M423 576h3v3h-3z"/><path fill="#ff3484" d="M426 576h3v3h-3z"/><path fill="#ff287f" d="M429 576h3v3h-3z"/><path fill="#ff1978" d="M432 576h3v3h-3z"/><path fill="#ff0073" d="M435 576h3v3h-3z"/><path fill="#ff006e" d="M438 576h3v3h-3z"/><path fill="#ff0069" d="M441 576h3v3h-3z"/><path fill="#ff0064" d="M444 576h3v3h-3z"/><path fill="#ff0060" d="M447 576h3v3h-3z"/><path fill="#ff005b" d="M450 576h3v3h-3z"/><path fill="#ff0056" d="M453 576h3v3h-3z"/><path fill="#ff0051" d="M456 576h3v3h-3z"/><path fill="#ff004c" d="M459 576h3v3h-3z"/><path fill="#ff0047" d="M462 576h3v3h-3z"/><path fill="#ff0042" d="M465 576h3v3h-3z"/><path fill="#ff003c" d="M468 576h3v3h-3z"/><path fill="#ff0037" d="M471 576h3v3h-3z"/><path fill="#ff0030" d="M474 576h3v3h-3z"/><path fill="#ff002a" d="M477 576h3v3h-3z"/><path fill="#ff0022" d="M480 576h3v3h-3z"/><path fill="#ff0018" d="M483 576h3v3h-3z"/><path fill="#ff000a" d="M486 576h3v3h-3z"/><path fill="#ff0000" d="M489 576h3v3h-3z"/><path fill="#ff0000" d="M492 576h3v3h-3z"/><path fill="#ff0000" d="M495 576h3v3h-3z"/><path fill="#02d3ff" d="M312 579h3v3h-3z"/><path fill="#03d2ff" d="M315 579h3v3h-3z"/><path fill="#05d1ff" d="M318 579h3v3h-3z"/><path fill="#07d1ff" d="M321 579h3v3h-3z"/><path fill="#09d0ff" d="M324 579h3v3h-3z"/><path fill="#0cd0ff" d="M327 579h3v3h-3z"/><path fill="#10d0ff" d="M330 579h3v3h-3z"/><path fill="#14d0ff" d="M333 579h3v3h-3z"/><path fill="#19cfff" d="M336 579h3v3h-3z"/><path fill="#1fcfff" d="M339 579h3v3h-3z"/><path fill="#25d0ff" d="M342 579h3v3h-3z"/><path fill="#2ccfff" d="M345 579h3v3h-3z"/><path fill="#33d0ff" d="M348 579h3v3h-3z"/><path fill="#3ad1ff" d="M351 579h3v3h-3z"/><path fill="#6bd1ff" d="M354 579h3v3h-3z"/><path fill="#8ed1ff" d="M357 579h3v3h-3z"/><path fill="#a5d1ff" d="M360 579h3v3h-3z"/><path fill="#b6d1ff" d="M363 579h3v3h-3z"/><path fill="#c5d1ff" d="M366 579h3v3h-3z"/><path fill="#d2cfff" d="M369 579h3v3h-3z"/><path fill="#dccdff" d="M372 579h3v3h-3z"/><path fill="#e7ccff" d="M375 579h3v3h-3z"/><path fill="#f1c9ff" d="M378 579h3v3h-3z"/><path fill="#fbc5ff" d="M381 579h3v3h-3z"/><path fill="#ffbdf8" d="M384 579h3v3h-3z"/><path fill="#ffb1ee" d="M387 579h3v3h-3z"/><path fill="#ffa6e5" d="M390 579h3v3h-3z"/><path fill="#ff9bdc" d="M393 579h3v3h-3z"/><path fill="#ff90d2" d="M396 579h3v3h-3z"/><path fill="#ff85ca" d="M399 579h3v3h-3z"/><path fill="#ff7ac1" d="M402 579h3v3h-3z"/><path fill="#ff6eb9" d="M405 579h3v3h-3z"/><path fill="#ff64b1" d="M408 579h3v3h-3z"/><path fill="#ff59a9" d="M411 579h3v3h-3z"/><path fill="#ff4ea2" d="M414 579h3v3h-3z"/><path fill="#ff429b" d="M417 579h3v3h-3z"/><path fill="#ff3794" d="M420 579h3v3h-3z"/><path fill="#ff288e" d="M423 579h3v3h-3z"/><path fill="#ff1788" d="M426 579h3v3h-3z"/><path fill="#ff0282" d="M429 579h3v3h-3z"/><path fill="#ff017c" d="M432 579h3v3h-3z"/><path fill="#ff0177" d="M435 579h3v3h-3z"/><path fill="#ff0072" d="M438 579h3v3h-3z"/><path fill="#ff006e" d="M441 579h3v3h-3z"/><path fill="#ff0069" d="M444 579h3v3h-3z"/><path fill="#ff0064" d="M447 579h3v3h-3z"/><path fill="#ff0060" d="M450 579h3v3h-3z"/><path fill="#ff005b" d="M453 579h3v3h-3z"/><path fill="#ff0056" d="M456 579h3v3h-3z"/><path fill="#ff0052" d="M459 579h3v3h-3z"/><path fill="#ff004d" d="M462 579h3v3h-3z"/><path fill="#ff0048" d="M465 579h3v3h-3z"/><path fill="#ff0043" d="M468 579h3v3h-3z"/><path fill="#ff003e" d="M471 579h3v3h-3z"/><path fill="#ff0038" d="M474 579h3v3h-3z"/><path fill="#ff0033" d="M477 579h3v3h-3z"/><path fill="#ff002c" d="M480 579h3v3h-3z"/><path fill="#ff0025" d="M483 579h3v3h-3z"/><path fill="#ff001d" d="M486 579h3v3h-3z"/><path fill="#ff0013" d="M489 579h3v3h-3z"/><path fill="#ff0001" d="M492 579h3v3h-3z"/><path fill="#02cbff" d="M312 582h3v3h-3z"/><path fill="#04caff" d="M315 582h3v3h-3z"/><path fill="#05caff" d="M318 582h3v3h-3z"/><path fill="#07c8ff" d="M321 582h3v3h-3z"/><path fill="#0ac8ff" d="M324 582h3v3h-3z"/><path fill="#0dc8ff" d="M327 582h3v3h-3z"/><path fill="#11c8ff" d="M330 582h3v3h-3z"/><path fill="#16c7ff" d="M333 582h3v3h-3z"/><path fill="#1cc7ff" d="M336 582h3v3h-3z"/><path fill="#22c7ff" d="M339 582h3v3h-3z"/><path fill="#29c8ff" d="M342 582h3v3h-3z"/><path fill="#31c8ff" d="M345 582h3v3h-3z"/><path fill="#38caff" d="M348 582h3v3h-3z"/><path fill="#40caff" d="M351 582h3v3h-3z"/><path fill="#7ccbff" d="M354 582h3v3h-3z"/><path fill="#98cbff" d="M357 582h3v3h-3z"/><path fill="#adccff" d="M360 582h3v3h-3z"/><path fill="#bdccff" d="M363 582h3v3h-3z"/><path fill="#cacbff" d="M366 582h3v3h-3z"/><path fill="#d5caff" d="M369 582h3v3h-3z"/><path fill="#dfc8ff" d="M372 582h3v3h-3z"/><path fill="#e9c5ff" d="M375 582h3v3h-3z"/><path fill="#f1c2ff" d="M378 582h3v3h-3z"/><path fill="#fbbdff" d="M381 582h3v3h-3z"/><path fill="#ffb5f9" d="M384 582h3v3h-3z"/><path fill="#ffaaf0" d="M387 582h3v3h-3z"/><path fill="#ff9ee7" d="M390 582h3v3h-3z"/><path fill="#ff92de" d="M393 582h3v3h-3z"/><path fill="#ff87d5" d="M396 582h3v3h-3z"/><path fill="#ff7acd" d="M399 582h3v3h-3z"/><path fill="#ff6ec4" d="M402 582h3v3h-3z"/><path fill="#ff62bc" d="M405 582h3v3h-3z"/><path fill="#ff56b4" d="M408 582h3v3h-3z"/><path fill="#ff48ac" d="M411 582h3v3h-3z"/><path fill="#ff3ba5" d="M414 582h3v3h-3z"/><path fill="#ff2b9e" d="M417 582h3v3h-3z"/><path fill="#ff1397" d="M420 582h3v3h-3z"/><path fill="#ff0591" d="M423 582h3v3h-3z"/><path fill="#ff038b" d="M426 582h3v3h-3z"/><path fill="#ff0286" d="M429 582h3v3h-3z"/><path fill="#ff0180" d="M432 582h3v3h-3z"/><path fill="#ff017b" d="M435 582h3v3h-3z"/><path fill="#ff0076" d="M438 582h3v3h-3z"/><path fill="#ff0072" d="M441 582h3v3h-3z"/><path fill="#ff006d" d="M444 582h3v3h-3z"/><path fill="#ff0069" d="M447 582h3v3h-3z"/><path fill="#ff0064" d="M450 582h3v3h-3z"/><path fill="#ff0060" d="M453 582h3v3h-3z"/><path fill="#ff005b" d="M456 582h3v3h-3z"/><path fill="#ff0057" d="M459 582h3v3h-3z"/><path fill="#ff0052" d="M462 582h3v3h-3z"/><path fill="#ff004e" d="M465 582h3v3h-3z"/><path fill="#ff0049" d="M468 582h3v3h-3z"/><path fill="#ff0044" d="M471 582h3v3h-3z"/><path fill="#ff003f" d="M474 582h3v3h-3z"/><path fill="#ff003a" d="M477 582h3v3h-3z"/><path fill="#ff0035" d="M480 582h3v3h-3z"/><path fill="#ff002f" d="M483 582h3v3h-3z"/><path fill="#04c2ff" d="M315 585h3v3h-3z"/><path fill="#06c1ff" d="M318 585h3v3h-3z"/><path fill="#08c1ff" d="M321 585h3v3h-3z"/><path fill="#0bc0ff" d="M324 585h3v3h-3z"/><path fill="#0fbfff" d="M327 585h3v3h-3z"/><path fill="#13c0ff" d="M330 585h3v3h-3z"/><path fill="#18bfff" d="M333 585h3v3h-3z"/><path fill="#1ebfff" d="M336 585h3v3h-3z"/><path fill="#25c0ff" d="M339 585h3v3h-3z"/><path fill="#2cc1ff" d="M342 585h3v3h-3z"/><path fill="#34c1ff" d="M345 585h3v3h-3z"/><path fill="#3dc2ff" d="M348 585h3v3h-3z"/><path fill="#5dc4ff" d="M351 585h3v3h-3z"/><path fill="#88c5ff" d="M354 585h3v3h-3z"/><path fill="#a1c5ff" d="M357 585h3v3h-3z"/><path fill="#b3c6ff" d="M360 585h3v3h-3z"/><path fill="#c1c6ff" d="M363 585h3v3h-3z"/><path fill="#cec5ff" d="M366 585h3v3h-3z"/><path fill="#d8c4ff" d="M369 585h3v3h-3z"/><path fill="#e1c2ff" d="M372 585h3v3h-3z"/><path fill="#eabfff" d="M375 585h3v3h-3z"/><path fill="#f2bbff" d="M378 585h3v3h-3z"/><path fill="#fbb6ff" d="M381 585h3v3h-3z"/><path fill="#ffadfa" d="M384 585h3v3h-3z"/><path fill="#ffa2f1" d="M387 585h3v3h-3z"/><path fill="#ff96e8" d="M390 585h3v3h-3z"/><path fill="#ff89e0" d="M393 585h3v3h-3z"/><path fill="#ff7bd7" d="M396 585h3v3h-3z"/><path fill="#ff6ecf" d="M399 585h3v3h-3z"/><path fill="#ff60c6" d="M402 585h3v3h-3z"/><path fill="#ff51bf" d="M405 585h3v3h-3z"/><path fill="#ff42b7" d="M408 585h3v3h-3z"/><path fill="#ff2faf" d="M411 585h3v3h-3z"/><path fill="#ff10a8" d="M414 585h3v3h-3z"/><path fill="#ff0aa1" d="M417 585h3v3h-3z"/><path fill="#ff079b" d="M420 585h3v3h-3z"/><path fill="#ff0595" d="M423 585h3v3h-3z"/><path fill="#ff038e" d="M426 585h3v3h-3z"/><path fill="#ff0289" d="M429 585h3v3h-3z"/><path fill="#ff0183" d="M432 585h3v3h-3z"/><path fill="#ff017f" d="M435 585h3v3h-3z"/><path fill="#ff007a" d="M438 585h3v3h-3z"/><path fill="#ff0075" d="M441 585h3v3h-3z"/><path fill="#ff0071" d="M444 585h3v3h-3z"/><path fill="#ff006d" d="M447 585h3v3h-3z"/><path fill="#ff0068" d="M450 585h3v3h-3z"/><path fill="#ff0064" d="M453 585h3v3h-3z"/><path fill="#ff0060" d="M456 585h3v3h-3z"/><path fill="#ff005b" d="M459 585h3v3h-3z"/><path fill="#ff0057" d="M462 585h3v3h-3z"/><path fill="#ff0053" d="M465 585h3v3h-3z"/><path fill="#ff004e" d="M468 585h3v3h-3z"/><path fill="#ff004a" d="M471 585h3v3h-3z"/><path fill="#ff0045" d="M474 585h3v3h-3z"/><path fill="#04baff" d="M315 588h3v3h-3z"/><path fill="#06b9ff" d="M318 588h3v3h-3z"/><path fill="#08b8ff" d="M321 588h3v3h-3z"/><path fill="#0bb8ff" d="M324 588h3v3h-3z"/><path fill="#0fb7ff" d="M327 588h3v3h-3z"/><path fill="#14b8ff" d="M330 588h3v3h-3z"/><path fill="#19b7ff" d="M333 588h3v3h-3z"/><path fill="#20b8ff" d="M336 588h3v3h-3z"/><path fill="#27b8ff" d="M339 588h3v3h-3z"/><path fill="#2fb9ff" d="M342 588h3v3h-3z"/><path fill="#37baff" d="M345 588h3v3h-3z"/><path fill="#40bbff" d="M348 588h3v3h-3z"/><path fill="#70bdff" d="M351 588h3v3h-3z"/><path fill="#91beff" d="M354 588h3v3h-3z"/><path fill="#a7bfff" d="M357 588h3v3h-3z"/><path fill="#b8c0ff" d="M360 588h3v3h-3z"/><path fill="#c5c0ff" d="M363 588h3v3h-3z"/><path fill="#d1bfff" d="M366 588h3v3h-3z"/><path fill="#dabeff" d="M369 588h3v3h-3z"/><path fill="#e3bbff" d="M372 588h3v3h-3z"/><path fill="#ebb8ff" d="M375 588h3v3h-3z"/><path fill="#f2b3ff" d="M378 588h3v3h-3z"/><path fill="#faadff" d="M381 588h3v3h-3z"/><path fill="#ffa4fb" d="M384 588h3v3h-3z"/><path fill="#ff98f2" d="M387 588h3v3h-3z"/><path fill="#ff8aea" d="M390 588h3v3h-3z"/><path fill="#ff7ce2" d="M393 588h3v3h-3z"/><path fill="#ff6ed9" d="M396 588h3v3h-3z"/><path fill="#ff5dd1" d="M399 588h3v3h-3z"/><path fill="#ff4bc9" d="M402 588h3v3h-3z"/><path fill="#ff36c1" d="M405 588h3v3h-3z"/><path fill="#ff17ba" d="M408 588h3v3h-3z"/><path fill="#ff12b2" d="M411 588h3v3h-3z"/><path fill="#ff0eaa" d="M414 588h3v3h-3z"/><path fill="#ff0aa4" d="M417 588h3v3h-3z"/><path fill="#ff079e" d="M420 588h3v3h-3z"/><path fill="#ff0598" d="M423 588h3v3h-3z"/><path fill="#ff0491" d="M426 588h3v3h-3z"/><path fill="#ff028d" d="M429 588h3v3h-3z"/><path fill="#ff0187" d="M432 588h3v3h-3z"/><path fill="#ff0182" d="M435 588h3v3h-3z"/><path fill="#ff007d" d="M438 588h3v3h-3z"/><path fill="#ff0079" d="M441 588h3v3h-3z"/><path fill="#ff0075" d="M444 588h3v3h-3z"/><path fill="#ff0070" d="M447 588h3v3h-3z"/><path fill="#ff006c" d="M450 588h3v3h-3z"/><path fill="#ff0068" d="M453 588h3v3h-3z"/><path fill="#ff0064" d="M456 588h3v3h-3z"/><path fill="#ff0060" d="M459 588h3v3h-3z"/><path fill="#ff005b" d="M462 588h3v3h-3z"/><path fill="#ff0057" d="M465 588h3v3h-3z"/><path fill="#ff0053" d="M468 588h3v3h-3z"/><path fill="#04b2ff" d="M315 591h3v3h-3z"/><path fill="#06b1ff" d="M318 591h3v3h-3z"/><path fill="#09b0ff" d="M321 591h3v3h-3z"/><path fill="#0cafff" d="M324 591h3v3h-3z"/><path fill="#0fafff" d="M327 591h3v3h-3z"/><path fill="#14afff" d="M330 591h3v3h-3z"/><path fill="#1aafff" d="M333 591h3v3h-3z"/><path fill="#20afff" d="M336 591h3v3h-3z"/><path fill="#27b0ff" d="M339 591h3v3h-3z"/><path fill="#2fb1ff" d="M342 591h3v3h-3z"/><path fill="#38b2ff" d="M345 591h3v3h-3z"/><path fill="#41b3ff" d="M348 591h3v3h-3z"/><path fill="#7cb5ff" d="M351 591h3v3h-3z"/><path fill="#98b7ff" d="M354 591h3v3h-3z"/><path fill="#acb7ff" d="M357 591h3v3h-3z"/><path fill="#bbb8ff" d="M360 591h3v3h-3z"/><path fill="#c8b8ff" d="M363 591h3v3h-3z"/><path fill="#d2b8ff" d="M366 591h3v3h-3z"/><path fill="#dcb6ff" d="M369 591h3v3h-3z"/><path fill="#e4b3ff" d="M372 591h3v3h-3z"/><path fill="#ebafff" d="M375 591h3v3h-3z"/><path fill="#f2aaff" d="M378 591h3v3h-3z"/><path fill="#faa2ff" d="M381 591h3v3h-3z"/><path fill="#ff98fb" d="M384 591h3v3h-3z"/><path fill="#ff8bf3" d="M387 591h3v3h-3z"/><path fill="#ff7ceb" d="M390 591h3v3h-3z"/><path fill="#ff6be3" d="M393 591h3v3h-3z"/><path fill="#ff58db" d="M396 591h3v3h-3z"/><path fill="#ff3fd3" d="M399 591h3v3h-3z"/><path fill="#ff25cb" d="M402 591h3v3h-3z"/><path fill="#ff1ec3" d="M405 591h3v3h-3z"/><path fill="#ff18bb" d="M408 591h3v3h-3z"/><path fill="#ff12b4" d="M411 591h3v3h-3z"/><path fill="#ff0ead" d="M414 591h3v3h-3z"/><path fill="#ff0aa6" d="M417 591h3v3h-3z"/><path fill="#ff08a1" d="M420 591h3v3h-3z"/><path fill="#ff059a" d="M423 591h3v3h-3z"/><path fill="#ff0494" d="M426 591h3v3h-3z"/><path fill="#ff0290" d="M429 591h3v3h-3z"/><path fill="#ff028a" d="M432 591h3v3h-3z"/><path fill="#ff0185" d="M435 591h3v3h-3z"/><path fill="#ff0081" d="M438 591h3v3h-3z"/><path fill="#ff007c" d="M441 591h3v3h-3z"/><path fill="#ff0078" d="M444 591h3v3h-3z"/><path fill="#ff0074" d="M447 591h3v3h-3z"/><path fill="#ff0070" d="M450 591h3v3h-3z"/><path fill="#ff006c" d="M453 591h3v3h-3z"/><path fill="#ff0068" d="M456 591h3v3h-3z"/><path fill="#ff0064" d="M459 591h3v3h-3z"/><path fill="#06a9ff" d="M318 594h3v3h-3z"/><path fill="#08a8ff" d="M321 594h3v3h-3z"/><path fill="#0ba7ff" d="M324 594h3v3h-3z"/><path fill="#0fa6ff" d="M327 594h3v3h-3z"/><path fill="#14a6ff" d="M330 594h3v3h-3z"/><path fill="#19a6ff" d="M333 594h3v3h-3z"/><path fill="#20a6ff" d="M336 594h3v3h-3z"/><path fill="#27a7ff" d="M339 594h3v3h-3z"/><path fill="#2fa8ff" d="M342 594h3v3h-3z"/><path fill="#37a9ff" d="M345 594h3v3h-3z"/><path fill="#5aabff" d="M348 594h3v3h-3z"/><path fill="#83acff" d="M351 594h3v3h-3z"/><path fill="#9cadff" d="M354 594h3v3h-3z"/><path fill="#aeafff" d="M357 594h3v3h-3z"/><path fill="#bdb0ff" d="M360 594h3v3h-3z"/><path fill="#c9afff" d="M363 594h3v3h-3z"/><path fill="#d3afff" d="M366 594h3v3h-3z"/><path fill="#dcacff" d="M369 594h3v3h-3z"/><path fill="#e4a9ff" d="M372 594h3v3h-3z"/><path fill="#eba3ff" d="M375 594h3v3h-3z"/><path fill="#f29dff" d="M378 594h3v3h-3z"/><path fill="#f994ff" d="M381 594h3v3h-3z"/><path fill="#ff88fc" d="M384 594h3v3h-3z"/><path fill="#ff77f4" d="M387 594h3v3h-3z"/><path fill="#ff64ec" d="M390 594h3v3h-3z"/><path fill="#ff47e5" d="M393 594h3v3h-3z"/><path fill="#ff34dc" d="M396 594h3v3h-3z"/><path fill="#ff2cd4" d="M399 594h3v3h-3z"/><path fill="#ff24cd" d="M402 594h3v3h-3z"/><path fill="#ff1dc5" d="M405 594h3v3h-3z"/><path fill="#ff17bd" d="M408 594h3v3h-3z"/><path fill="#ff12b6" d="M411 594h3v3h-3z"/><path fill="#ff0eaf" d="M414 594h3v3h-3z"/><path fill="#ff0aa9" d="M417 594h3v3h-3z"/><path fill="#ff08a2" d="M420 594h3v3h-3z"/><path fill="#ff059d" d="M423 594h3v3h-3z"/><path fill="#ff0497" d="M426 594h3v3h-3z"/><path fill="#ff0292" d="M429 594h3v3h-3z"/><path fill="#ff028d" d="M432 594h3v3h-3z"/><path fill="#ff0188" d="M435 594h3v3h-3z"/><path fill="#ff0084" d="M438 594h3v3h-3z"/><path fill="#ff007f" d="M441 594h3v3h-3z"/><path fill="#ff007b" d="M444 594h3v3h-3z"/><path fill="#ff0077" d="M447 594h3v3h-3z"/><path fill="#ff0073" d="M450 594h3v3h-3z"/><path fill="#06a0ff" d="M318 597h3v3h-3z"/><path fill="#089fff" d="M321 597h3v3h-3z"/><path fill="#0b9eff" d="M324 597h3v3h-3z"/><path fill="#0f9eff" d="M327 597h3v3h-3z"/><path fill="#139dff" d="M330 597h3v3h-3z"/><path fill="#189dff" d="M333 597h3v3h-3z"/><path fill="#1e9dff" d="M336 597h3v3h-3z"/><path fill="#259dff" d="M339 597h3v3h-3z"/><path fill="#2d9eff" d="M342 597h3v3h-3z"/><path fill="#35a0ff" d="M345 597h3v3h-3z"/><path fill="#67a1ff" d="M348 597h3v3h-3z"/><path fill="#88a2ff" d="M351 597h3v3h-3z"/><path fill="#9ea3ff" d="M354 597h3v3h-3z"/><path fill="#afa4ff" d="M357 597h3v3h-3z"/><path fill="#bda4ff" d="M360 597h3v3h-3z"/><path fill="#c9a4ff" d="M363 597h3v3h-3z"/><path fill="#d3a2ff" d="M366 597h3v3h-3z"/><path fill="#dc9fff" d="M369 597h3v3h-3z"/><path fill="#e39aff" d="M372 597h3v3h-3z"/><path fill="#eb94ff" d="M375 597h3v3h-3z"/><path fill="#f28bff" d="M378 597h3v3h-3z"/><path fill="#f97fff" d="M381 597h3v3h-3z"/><path fill="#ff6dfc" d="M384 597h3v3h-3z"/><path fill="#ff4bf5" d="M387 597h3v3h-3z"/><path fill="#ff43ed" d="M390 597h3v3h-3z"/><path fill="#ff3ae5" d="M393 597h3v3h-3z"/><path fill="#ff32de" d="M396 597h3v3h-3z"/><path fill="#ff2ad6" d="M399 597h3v3h-3z"/><path fill="#ff23ce" d="M402 597h3v3h-3z"/><path fill="#ff1cc7" d="M405 597h3v3h-3z"/><path fill="#ff16c0" d="M408 597h3v3h-3z"/><path fill="#ff11b8" d="M411 597h3v3h-3z"/><path fill="#ff0db2" d="M414 597h3v3h-3z"/><path fill="#ff0aab" d="M417 597h3v3h-3z"/><path fill="#ff07a5" d="M420 597h3v3h-3z"/><path fill="#ff05a0" d="M423 597h3v3h-3z"/><path fill="#ff039a" d="M426 597h3v3h-3z"/><path fill="#ff0295" d="M429 597h3v3h-3z"/><path fill="#ff018f" d="M432 597h3v3h-3z"/><path fill="#ff018b" d="M435 597h3v3h-3z"/><path fill="#ff0087" d="M438 597h3v3h-3z"/><path fill="#ff0082" d="M441 597h3v3h-3z"/><path fill="#ff007e" d="M444 597h3v3h-3z"/><path fill="#0597ff" d="M318 600h3v3h-3z"/><path fill="#0796ff" d="M321 600h3v3h-3z"/><path fill="#0a94ff" d="M324 600h3v3h-3z"/><path fill="#0e94ff" d="M327 600h3v3h-3z"/><path fill="#1293ff" d="M330 600h3v3h-3z"/><path fill="#1792ff" d="M333 600h3v3h-3z"/><path fill="#1c92ff" d="M336 600h3v3h-3z"/><path fill="#2393ff" d="M339 600h3v3h-3z"/><path fill="#2a93ff" d="M342 600h3v3h-3z"/><path fill="#3193ff" d="M345 600h3v3h-3z"/><path fill="#6e94ff" d="M348 600h3v3h-3z"/><path fill="#8a96ff" d="M351 600h3v3h-3z"/><path fill="#9f96ff" d="M354 600h3v3h-3z"/><path fill="#af97ff" d="M357 600h3v3h-3z"/><path fill="#bd96ff" d="M360 600h3v3h-3z"/><path fill="#c995ff" d="M363 600h3v3h-3z"/><path fill="#d392ff" d="M366 600h3v3h-3z"/><path fill="#db8dff" d="M369 600h3v3h-3z"/><path fill="#e387ff" d="M372 600h3v3h-3z"/><path fill="#ea7dff" d="M375 600h3v3h-3z"/><path fill="#f16cff" d="M378 600h3v3h-3z"/><path fill="#f953ff" d="M381 600h3v3h-3z"/><path fill="#ff4dfc" d="M384 600h3v3h-3z"/><path fill="#ff46f5" d="M387 600h3v3h-3z"/><path fill="#ff3eed" d="M390 600h3v3h-3z"/><path fill="#ff36e5" d="M393 600h3v3h-3z"/><path fill="#ff2ede" d="M396 600h3v3h-3z"/><path fill="#ff27d7" d="M399 600h3v3h-3z"/><path fill="#ff20cf" d="M402 600h3v3h-3z"/><path fill="#ff1ac8" d="M405 600h3v3h-3z"/><path fill="#ff15c1" d="M408 600h3v3h-3z"/><path fill="#ff10ba" d="M411 600h3v3h-3z"/><path fill="#ff0cb3" d="M414 600h3v3h-3z"/><path fill="#ff09ad" d="M417 600h3v3h-3z"/><path fill="#ff07a7" d="M420 600h3v3h-3z"/><path fill="#ff05a1" d="M423 600h3v3h-3z"/><path fill="#ff039c" d="M426 600h3v3h-3z"/><path fill="#ff0298" d="M429 600h3v3h-3z"/><path fill="#ff0192" d="M432 600h3v3h-3z"/><path fill="#ff018e" d="M435 600h3v3h-3z"/><path fill="#078cff" d="M321 603h3v3h-3z"/><path fill="#098bff" d="M324 603h3v3h-3z"/><path fill="#0c8aff" d="M327 603h3v3h-3z"/><path fill="#1089ff" d="M330 603h3v3h-3z"/><path fill="#1487ff" d="M333 603h3v3h-3z"/><path fill="#1a87ff" d="M336 603h3v3h-3z"/><path fill="#1f87ff" d="M339 603h3v3h-3z"/><path fill="#2687ff" d="M342 603h3v3h-3z"/><path fill="#4a86ff" d="M345 603h3v3h-3z"/><path fill="#7386ff" d="M348 603h3v3h-3z"/><path fill="#8c87ff" d="M351 603h3v3h-3z"/><path fill="#9f86ff" d="M354 603h3v3h-3z"/><path fill="#af86ff" d="M357 603h3v3h-3z"/><path fill="#bc84ff" d="M360 603h3v3h-3z"/><path fill="#c781ff" d="M363 603h3v3h-3z"/><path fill="#d17bff" d="M366 603h3v3h-3z"/><path fill="#da73ff" d="M369 603h3v3h-3z"/><path fill="#e263ff" d="M372 603h3v3h-3z"/><path fill="#ea53ff" d="M375 603h3v3h-3z"/><path fill="#f150ff" d="M378 603h3v3h-3z"/><path fill="#f84bff" d="M381 603h3v3h-3z"/><path fill="#ff45fd" d="M384 603h3v3h-3z"/><path fill="#ff3ff5" d="M387 603h3v3h-3z"/><path fill="#ff38ed" d="M390 603h3v3h-3z"/><path fill="#ff31e6" d="M393 603h3v3h-3z"/><path fill="#ff2adf" d="M396 603h3v3h-3z"/><path fill="#ff23d7" d="M399 603h3v3h-3z"/><path fill="#ff1dd0" d="M402 603h3v3h-3z"/><path fill="#ff18c9" d="M405 603h3v3h-3z"/><path fill="#ff13c1" d="M408 603h3v3h-3z"/><path fill="#ff0fbc" d="M411 603h3v3h-3z"/><path fill="#ff0bb5" d="M414 603h3v3h-3z"/><path fill="#ff08af" d="M417 603h3v3h-3z"/><path fill="#ff06a9" d="M420 603h3v3h-3z"/><path fill="#ff04a3" d="M423 603h3v3h-3z"/><path fill="#ff039f" d="M426 603h3v3h-3z"/><path fill="#0683ff" d="M321 606h3v3h-3z"/><path fill="#0880ff" d="M324 606h3v3h-3z"/><path fill="#0b7eff" d="M327 606h3v3h-3z"/><path fill="#0e7cff" d="M330 606h3v3h-3z"/><path fill="#127cff" d="M333 606h3v3h-3z"/><path fill="#167aff" d="M336 606h3v3h-3z"/><path fill="#1c79ff" d="M339 606h3v3h-3z"/><path fill="#2178ff" d="M342 606h3v3h-3z"/><path fill="#5677ff" d="M345 606h3v3h-3z"/><path fill="#7576ff" d="M348 606h3v3h-3z"/><path fill="#8d75ff" d="M351 606h3v3h-3z"/><path fill="#9f73ff" d="M354 606h3v3h-3z"/><path fill="#ad70ff" d="M357 606h3v3h-3z"/><path fill="#ba6bff" d="M360 606h3v3h-3z"/><path fill="#c663ff" d="M363 606h3v3h-3z"/><path fill="#d04fff" d="M366 606h3v3h-3z"/><path fill="#d84bff" d="M369 606h3v3h-3z"/><path fill="#e14aff" d="M372 606h3v3h-3z"/><path fill="#e849ff" d="M375 606h3v3h-3z"/><path fill="#f046ff" d="M378 606h3v3h-3z"/><path fill="#f842ff" d="M381 606h3v3h-3z"/><path fill="#ff3dfe" d="M384 606h3v3h-3z"/><path fill="#ff37f6" d="M387 606h3v3h-3z"/><path fill="#ff31ee" d="M390 606h3v3h-3z"/><path fill="#ff2be6" d="M393 606h3v3h-3z"/><path fill="#ff25df" d="M396 606h3v3h-3z"/><path fill="#ff1fd8" d="M399 606h3v3h-3z"/><path fill="#ff1ad1" d="M402 606h3v3h-3z"/><path fill="#ff15c9" d="M405 606h3v3h-3z"/><path fill="#ff10c3" d="M408 606h3v3h-3z"/><path fill="#ff0dbd" d="M411 606h3v3h-3z"/><path fill="#ff0ab6" d="M414 606h3v3h-3z"/><path fill="#ff07b1" d="M417 606h3v3h-3z"/><path fill="#0775ff" d="M324 609h3v3h-3z"/><path fill="#0973ff" d="M327 609h3v3h-3z"/><path fill="#0c70ff" d="M330 609h3v3h-3z"/><path fill="#0f6eff" d="M333 609h3v3h-3z"/><path fill="#136cff" d="M336 609h3v3h-3z"/><path fill="#176aff" d="M339 609h3v3h-3z"/><path fill="#1c67ff" d="M342 609h3v3h-3z"/><path fill="#5b65ff" d="M345 609h3v3h-3z"/><path fill="#7862ff" d="M348 609h3v3h-3z"/><path fill="#8c5dff" d="M351 609h3v3h-3z"/><path fill="#9e58ff" d="M354 609h3v3h-3z"/><path fill="#ac4fff" d="M357 609h3v3h-3z"/><path fill="#b839ff" d="M360 609h3v3h-3z"/><path fill="#c43dff" d="M363 609h3v3h-3z"/><path fill="#ce3fff" d="M366 609h3v3h-3z"/><path fill="#d740ff" d="M369 609h3v3h-3z"/><path fill="#df3fff" d="M372 609h3v3h-3z"/><path fill="#e73eff" d="M375 609h3v3h-3z"/><path fill="#ef3cff" d="M378 609h3v3h-3z"/><path fill="#f738ff" d="M381 609h3v3h-3z"/><path fill="#ff34fe" d="M384 609h3v3h-3z"/><path fill="#ff2ff6" d="M387 609h3v3h-3z"/><path fill="#ff2aef" d="M390 609h3v3h-3z"/><path fill="#ff25e7" d="M393 609h3v3h-3z"/><path fill="#ff1fe0" d="M396 609h3v3h-3z"/><path fill="#ff1ad8" d="M399 609h3v3h-3z"/><path fill="#ff16d2" d="M402 609h3v3h-3z"/><path fill="#ff12ca" d="M405 609h3v3h-3z"/><path fill="#ff0ec4" d="M408 609h3v3h-3z"/><path fill="#ff0bbe" d="M411 609h3v3h-3z"/><path fill="#0669ff" d="M324 612h3v3h-3z"/><path fill="#0765ff" d="M327 612h3v3h-3z"/><path fill="#0a62ff" d="M330 612h3v3h-3z"/><path fill="#0d5fff" d="M333 612h3v3h-3z"/><path fill="#105bff" d="M336 612h3v3h-3z"/><path fill="#1357ff" d="M339 612h3v3h-3z"/><path fill="#3952ff" d="M342 612h3v3h-3z"/><path fill="#604dff" d="M345 612h3v3h-3z"/><path fill="#7945ff" d="M348 612h3v3h-3z"/><path fill="#8d39ff" d="M351 612h3v3h-3z"/><path fill="#9c28ff" d="M354 612h3v3h-3z"/><path fill="#aa2cff" d="M357 612h3v3h-3z"/><path fill="#b730ff" d="M360 612h3v3h-3z"/><path fill="#c232ff" d="M363 612h3v3h-3z"/><path fill="#cc34ff" d="M366 612h3v3h-3z"/><path fill="#d535ff" d="M369 612h3v3h-3z"/><path fill="#de35ff" d="M372 612h3v3h-3z"/><path fill="#e733ff" d="M375 612h3v3h-3z"/><path fill="#ee31ff" d="M378 612h3v3h-3z"/><path fill="#f62eff" d="M381 612h3v3h-3z"/><path fill="#ff2bff" d="M384 612h3v3h-3z"/><path fill="#ff27f6" d="M387 612h3v3h-3z"/><path fill="#ff23ef" d="M390 612h3v3h-3z"/><path fill="#ff1ee7" d="M393 612h3v3h-3z"/><path fill="#ff1ae0" d="M396 612h3v3h-3z"/><path fill="#ff16d9" d="M399 612h3v3h-3z"/><path fill="#ff12d2" d="M402 612h3v3h-3z"/><path fill="#0657ff" d="M327 615h3v3h-3z"/><path fill="#0852ff" d="M330 615h3v3h-3z"/><path fill="#0a4cff" d="M333 615h3v3h-3z"/><path fill="#0d46ff" d="M336 615h3v3h-3z"/><path fill="#0f3fff" d="M339 615h3v3h-3z"/><path fill="#4536ff" d="M342 615h3v3h-3z"/><path fill="#6423ff" d="M345 615h3v3h-3z"/><path fill="#7b1aff" d="M348 615h3v3h-3z"/><path fill="#8c1dff" d="M351 615h3v3h-3z"/><path fill="#9c20ff" d="M354 615h3v3h-3z"/><path fill="#aa24ff" d="M357 615h3v3h-3z"/><path fill="#b626ff" d="M360 615h3v3h-3z"/><path fill="#c028ff" d="M363 615h3v3h-3z"/><path fill="#cb2aff" d="M366 615h3v3h-3z"/><path fill="#d42aff" d="M369 615h3v3h-3z"/><path fill="#dd2aff" d="M372 615h3v3h-3z"/><path fill="#e529ff" d="M375 615h3v3h-3z"/><path fill="#ee28ff" d="M378 615h3v3h-3z"/><path fill="#f625ff" d="M381 615h3v3h-3z"/><path fill="#ff22ff" d="M384 615h3v3h-3z"/><path fill="#ff1ff7" d="M387 615h3v3h-3z"/><path fill="#ff1cef" d="M390 615h3v3h-3z"/><path fill="#ff18e8" d="M393 615h3v3h-3z"/><path fill="#0545ff" d="M327 618h3v3h-3z"/><path fill="#063eff" d="M330 618h3v3h-3z"/><path fill="#0834ff" d="M333 618h3v3h-3z"/><path fill="#0a28ff" d="M336 618h3v3h-3z"/><path fill="#120dff" d="M339 618h3v3h-3z"/><path fill="#4d0eff" d="M342 618h3v3h-3z"/><path fill="#6811ff" d="M345 618h3v3h-3z"/><path fill="#7c14ff" d="M348 618h3v3h-3z"/><path fill="#8d17ff" d="M351 618h3v3h-3z"/><path fill="#9c19ff" d="M354 618h3v3h-3z"/><path fill="#a81cff" d="M357 618h3v3h-3z"/><path fill="#b41eff" d="M360 618h3v3h-3z"/><path fill="#c01fff" d="M363 618h3v3h-3z"/><path fill="#c921ff" d="M366 618h3v3h-3z"/><path fill="#d321ff" d="M369 618h3v3h-3z"/><path fill="#dc21ff" d="M372 618h3v3h-3z"/><path fill="#e420ff" d="M375 618h3v3h-3z"/><path fill="#ed1fff" d="M378 618h3v3h-3z"/><path fill="#f61dff" d="M381 618h3v3h-3z"/><path fill="#fe1bff" d="M384 618h3v3h-3z"/><path fill="#ff18f7" d="M387 618h3v3h-3z"/><path fill="#041dff" d="M330 621h3v3h-3z"/><path fill="#0606ff" d="M333 621h3v3h-3z"/><path fill="#0707ff" d="M336 621h3v3h-3z"/><path fill="#2e09ff" d="M339 621h3v3h-3z"/><path fill="#530bff" d="M342 621h3v3h-3z"/><path fill="#6b0dff" d="M345 621h3v3h-3z"/><path fill="#7e0fff" d="M348 621h3v3h-3z"/><path fill="#8e11ff" d="M351 621h3v3h-3z"/><path fill="#9c13ff" d="M354 621h3v3h-3z"/><path fill="#a815ff" d="M357 621h3v3h-3z"/><path fill="#b417ff" d="M360 621h3v3h-3z"/><path fill="#be18ff" d="M363 621h3v3h-3z"/><path fill="#c819ff" d="M366 621h3v3h-3z"/><path fill="#d119ff" d="M369 621h3v3h-3z"/><path fill="#db19ff" d="M372 621h3v3h-3z"/><path fill="#e318ff" d="M375 621h3v3h-3z"/><path fill="#ec17ff" d="M378 621h3v3h-3z"/><path fill="#0404ff" d="M333 624h3v3h-3z"/><path fill="#0505ff" d="M336 624h3v3h-3z"/><path fill="#3b07ff" d="M339 624h3v3h-3z"/><path fill="#5808ff" d="M342 624h3v3h-3z"/><path fill="#6e09ff" d="M345 624h3v3h-3z"/><path fill="#7f0bff" d="M348 624h3v3h-3z"/><path fill="#8f0cff" d="M351 624h3v3h-3z"/><path fill="#9b0eff" d="M354 624h3v3h-3z"/><path fill="#a80fff" d="M357 624h3v3h-3z"/><path fill="#b410ff" d="M360 624h3v3h-3z"/><path fill="#be11ff" d="M363 624h3v3h-3z"/><path fill="#c812ff" d="M366 624h3v3h-3z"/><path fill="#d112ff" d="M369 624h3v3h-3z"/><path fill="#0f04ff" d="M336 627h3v3h-3z"/><path fill="#4405ff" d="M339 627h3v3h-3z"/><path fill="#5d06ff" d="M342 627h3v3h-3z"/><path fill="#7207ff" d="M345 627h3v3h-3z"/><path fill="#8208ff" d="M348 627h3v3h-3z"/><path fill="#9009ff" d="M351 627h3v3h-3z"/><path fill="#9d0aff" d="M354 627h3v3h-3z"/><path fill="#a90bff" d="M357 627h3v3h-3z"/><path fill="#b30cff" d="M360 627h3v3h-3z"/><path fill="#be0cff" d="M363 627h3v3h-3z"/><path fill="#4b03ff" d="M339 630h3v3h-3z"/><path fill="#6204ff" d="M342 630h3v3h-3z"/><path fill="#7404ff" d="M345 630h3v3h-3z"/><path fill="#8305ff" d="M348 630h3v3h-3z"/><path fill="#9106ff" d="M351 630h3v3h-3z"/><path fill="#9d07ff" d="M354 630h3v3h-3z"/><path fill="#7303ff" d="M345 633h3v3h-3z"/></g></g>
<path d="M346.61,630.97 L346.6,630.97 L346.6,630.97 L346.59,630.97 L346.58,630.97 L346.58,630.98 L346.57,630.98 L346.56,630.98 L346.55,630.98 L346.54,630.99 L346.53,630.99 L346.52,630.99 L346.51,630.99 L346.5,630.99 L346.49,631 L346.47,631 L346.46,631 L346.45,631 L346.43,631.01 L346.42,631.01 L346.4,631.01 L346.39,631.01 L346.37,631.01 L346.36,631.01 L346.34,631.01 L346.32,631.01 L346.3,631.01 L346.28,631.01 L346.26,631.01 L346.24,631.01 L346.22,631.01 L346.2,631.01 L346.17,631 L346.15,631 L346.12,631 L346.09,630.99 L346.06,630.98 L346.02,630.98 L345.99,630.97 L345.95,630.96 L345.91,630.95 L345.86,630.93 L345.81,630.9 L345.75,630.87 L345.69,630.84 L345.62,630.8 L345.56,630.76 L345.49,630.72 L345.42,630.68 L345.34,630.63 L345.26,630.57 L345.17,630.51 L345.07,630.45 L344.97,630.38 L344.86,630.3 L344.74,630.22 L344.63,630.14 L344.5,630.05 L344.37,629.95 L344.24,629.85 L344.1,629.75 L343.94,629.64 L343.78,629.53 L343.61,629.41 L343.43,629.28 L343.24,629.15 L343.03,629 L342.81,628.85 L342.58,628.69 L342.33,628.52 L342.08,628.34 L341.81,628.16 L341.53,627.96 L341.24,627.76 L340.94,627.54 L340.62,627.31 L340.29,627.06 L339.94,626.79 L339.58,626.5 L339.2,626.19 L338.81,625.86 L338.41,625.51 L337.99,625.13 L337.56,624.72 L337.1,624.26 L336.61,623.75 L336.08,623.17 L335.52,622.5 L334.93,621.76 L334.3,620.94 L333.65,620.05 L332.97,619.08 L332.26,617.99 L331.51,616.79 L330.72,615.48 L329.9,614.06 L329.04,612.49 L328.13,610.75 L327.18,608.84 L326.19,606.77 L325.16,604.57 L324.07,602.18 L322.91,599.56 L321.71,596.73 L320.5,593.71 L319.3,590.52 L318.1,587.09 L316.88,583.38 L315.66,579.43 L314.45,575.3 L313.26,571.02 L312.07,566.53 L310.87,561.76 L309.7,556.8 L308.59,551.75 L307.59,546.69 L306.63,541.58 L305.69,536.33 L304.82,531.04 L304.11,525.81 L303.62,520.71 L303.29,515.71 L302.98,510.73 L302.74,505.84 L302.57,501.13 L302.51,496.65 L302.66,492.32 L303.07,488.08 L303.66,484.03 L304.36,480.28 L305.1,476.93 L306.01,473.83 L307.19,470.84 L308.56,468.13 L310.05,465.84 L311.58,464.16 L313.19,462.84 L314.97,461.61 L316.85,460.6 L318.8,459.91 L320.75,459.65 L322.74,459.74 L324.79,459.99 L326.88,460.34 L328.99,460.77 L331.09,461.22 L333.19,461.81 L335.3,462.59 L337.42,463.5 L339.52,464.47 L341.58,465.42 L343.61,466.36 L345.6,467.34 L347.58,468.35 L349.54,469.39 L351.48,470.44 L353.41,471.52 L355.32,472.63 L357.21,473.76 L359.1,474.91 L360.99,476.09 L362.88,477.28 L364.76,478.51 L366.63,479.75 L368.5,481.01 L370.37,482.29 L372.23,483.58 L374.09,484.89 L375.94,486.21 L377.79,487.55 L379.64,488.9 L381.5,490.26 L383.35,491.63 L385.19,493.02 L387.04,494.41 L388.89,495.81 L390.75,497.21 L392.61,498.63 L394.46,500.05 L396.32,501.48 L398.17,502.92 L400.02,504.35 L401.87,505.79 L403.71,507.24 L405.55,508.69 L407.39,510.13 L409.23,511.57 L411.08,513.02 L412.91,514.46 L414.74,515.91 L416.57,517.34 L418.38,518.78 L420.19,520.21 L421.99,521.64 L423.78,523.06 L425.56,524.47 L427.33,525.88 L429.09,527.28 L430.84,528.67 L432.57,530.05 L434.29,531.42 L435.99,532.78 L437.69,534.12 L439.36,535.46 L441.02,536.78 L442.66,538.08 L444.28,539.36 L445.88,540.63 L447.46,541.88 L449.01,543.11 L450.53,544.32 L452.03,545.51 L453.5,546.68 L454.94,547.84 L456.35,548.96 L457.71,550.04 L459.03,551.09 L460.31,552.11 L461.56,553.1 L462.77,554.06 L463.96,555 L465.12,555.93 L466.25,556.83 L467.36,557.71 L468.43,558.56 L469.45,559.37 L470.43,560.14 L471.38,560.89 L472.29,561.61 L473.17,562.3 L474.01,562.96 L474.81,563.6 L475.59,564.22 L476.33,564.81 L477.04,565.38 L477.71,565.92 L478.36,566.43 L478.98,566.93 L479.57,567.4 L480.13,567.85 L480.67,568.27 L481.18,568.68 L481.67,569.07 L482.14,569.44 L482.6,569.79 L483.03,570.13 L483.44,570.46 L483.83,570.77 L484.2,571.07 L484.57,571.36 L484.92,571.64 L485.26,571.91 L485.58,572.18 L485.9,572.43 L486.21,572.67 L486.5,572.9 L486.78,573.13 L487.05,573.35 L487.32,573.56 L487.56,573.76 L487.79,573.94 L488.01,574.11 L488.22,574.27 L488.42,574.43 L488.62,574.59 L488.81,574.74 L488.99,574.88 L489.16,575.01 L489.32,575.14 L489.47,575.25 L489.61,575.36 L489.74,575.47 L489.86,575.57 L489.98,575.66 L490.1,575.76 L490.21,575.84 L490.31,575.93 L490.41,576 L490.49,576.07 L490.57,576.14 L490.64,576.19 L490.71,576.24 L490.77,576.29 L490.83,576.34 L490.88,576.38 L490.94,576.43 L490.99,576.47 L491.04,576.51 L491.09,576.55 L491.14,576.59 L491.18,576.62 L491.23,576.66 L491.27,576.69 L491.31,576.72 L491.34,576.75 L491.38,576.78 L491.41,576.8 L491.44,576.83 L491.47,576.85 L491.5,576.87 L491.52,576.89 L491.55,576.91 L491.57,576.93 L491.6,576.95 L491.62,576.97 L491.64,576.99 L491.66,577.01 L491.69,577.02 L491.71,577.04 L491.73,577.06 L491.75,577.07 L491.76,577.08 L491.78,577.1 L491.8,577.11 L491.81,577.12 L491.82,577.13 L491.83,577.14 L491.84,577.15 L491.85,577.15 L491.86,577.16 L491.86,577.16 Z" fill="none" stroke="#111" stroke-width="0.9"/>
<path d="M338.81,625.86l-1.44,1.67 M333.65,620.05l-1.79,1.28 M325.16,604.57l-2,0.92 M313.26,571.02l-2.12,0.58 M303.62,520.71l-2.19,0.18 M305.1,476.93l-2.13,-0.55 M320.75,459.65l-0.09,-2.2 M341.58,465.42l0.92,-2 M360.99,476.09l1.17,-1.86 M379.64,488.9l1.3,-1.78 M398.17,502.92l1.35,-1.74 M416.57,517.34l1.36,-1.73 M434.29,531.42l1.37,-1.72 M450.53,544.32l1.37,-1.72 M463.96,555l1.37,-1.72 M474.01,562.96l1.37,-1.72 M480.67,568.27l1.37,-1.72 M484.92,571.64l1.37,-1.72 M487.79,573.94l1.37,-1.72" stroke="#111" stroke-width="0.8" fill="none"/>
<line x1="301.5" y1="445.97" x2="301.5" y2="632" stroke="#555" stroke-width="1" />
<line x1="301.5" y1="632" x2="508.78" y2="632" stroke="#555" stroke-width="1" />
<path d="M301.5,632h-2.0 M301.5,621.66h-1.2 M301.5,611.33h-2.0 M301.5,601h-1.2 M301.5,590.66h-2.0 M301.5,580.33h-1.2 M301.5,569.99h-2.0 M301.5,559.65h-1.2 M301.5,549.32h-2.0 M301.5,538.99h-1.2 M301.5,528.65h-2.0 M301.5,518.32h-1.2 M301.5,507.98h-2.0 M301.5,497.64h-1.2 M301.5,487.31h-2.0 M301.5,476.98h-1.2 M301.5,466.64h-2.0 M301.5,456.3h-1.2 M301.5,445.97h-2.0 M301.5,632v2.0 M314.45,632v1.2 M327.41,632v2.0 M340.37,632v1.2 M353.32,632v2.0 M366.27,632v1.2 M379.23,632v2.0 M392.19,632v1.2 M405.14,632v2.0 M418.1,632v1.2 M431.05,632v2.0 M444,632v1.2 M456.96,632v2.0 M469.92,632v1.2 M482.87,632v2.0 M495.83,632v1.2 M508.78,632v2.0" stroke="#555" stroke-width="0.9" fill="none"/>
<text x="296.2" y="635.4" font-size="9.6" text-anchor="end" fill="#222" font-weight="normal"  >0.0</text>
<text x="296.2" y="614.73" font-size="9.6" text-anchor="end" fill="#222" font-weight="normal"  >0.1</text>
<text x="296.2" y="594.06" font-size="9.6" text-anchor="end" fill="#222" font-weight="normal"  >0.2</text>
<text x="296.2" y="573.39" font-size="9.6" text-anchor="end" fill="#222" font-weight="normal"  >0.3</text>
<text x="296.2" y="552.72" font-size="9.6" text-anchor="end" fill="#222" font-weight="normal"  >0.4</text>
<text x="296.2" y="532.05" font-size="9.6" text-anchor="end" fill="#222" font-weight="normal"  >0.5</text>
<text x="296.2" y="511.38" font-size="9.6" text-anchor="end" fill="#222" font-weight="normal"  >0.6</text>
<text x="296.2" y="490.71" font-size="9.6" text-anchor="end" fill="#222" font-weight="normal"  >0.7</text>
<text x="296.2" y="470.04" font-size="9.6" text-anchor="end" fill="#222" font-weight="normal"  >0.8</text>
<text x="296.2" y="449.37" font-size="9.6" text-anchor="end" fill="#222" font-weight="normal"  >0.9</text>
<text x="301.5" y="644.6" font-size="9.6" text-anchor="middle" fill="#222" font-weight="normal"  >0.0</text>
<text x="327.41" y="644.6" font-size="9.6" text-anchor="middle" fill="#222" font-weight="normal"  >0.1</text>
<text x="353.32" y="644.6" font-size="9.6" text-anchor="middle" fill="#222" font-weight="normal"  >0.2</text>
<text x="379.23" y="644.6" font-size="9.6" text-anchor="middle" fill="#222" font-weight="normal"  >0.3</text>
<text x="405.14" y="644.6" font-size="9.6" text-anchor="middle" fill="#222" font-weight="normal"  >0.4</text>
<text x="431.05" y="644.6" font-size="9.6" text-anchor="middle" fill="#222" font-weight="normal"  >0.5</text>
<text x="456.96" y="644.6" font-size="9.6" text-anchor="middle" fill="#222" font-weight="normal"  >0.6</text>
<text x="482.87" y="644.6" font-size="9.6" text-anchor="middle" fill="#222" font-weight="normal"  >0.7</text>
<text x="508.78" y="644.6" font-size="9.6" text-anchor="middle" fill="#222" font-weight="normal"  >0.8</text>
<text x="403.5" y="657.2" font-size="10" text-anchor="middle" fill="#222" font-weight="normal"  font-style="italic">x</text>
<text x="285.5" y="543.4" font-size="10" text-anchor="middle" fill="#222" font-weight="normal"  font-style="italic">y</text>
<text x="320.5" y="455.9" font-size="7" text-anchor="middle" fill="#3b3bd6" font-weight="normal"  >520</text>
<text x="368.6" y="472.3" font-size="7" text-anchor="middle" fill="#3b3bd6" font-weight="normal"  >540</text>
<text x="406.6" y="499.1" font-size="7" text-anchor="middle" fill="#3b3bd6" font-weight="normal"  >560</text>
<text x="442.2" y="528.9" font-size="7" text-anchor="middle" fill="#3b3bd6" font-weight="normal"  >580</text>
<text x="472.3" y="551.7" font-size="7" text-anchor="middle" fill="#3b3bd6" font-weight="normal"  >600</text>
<text x="489.2" y="564.2" font-size="7" text-anchor="middle" fill="#3b3bd6" font-weight="normal"  >620</text>
<text x="502.3" y="579.2" font-size="7" text-anchor="middle" fill="#3b3bd6" font-weight="normal"  >700</text>
<text x="292.7" y="523.4" font-size="7" text-anchor="middle" fill="#3b3bd6" font-weight="normal"  >500</text>
<text x="307" y="578.8" font-size="7" text-anchor="middle" fill="#3b3bd6" font-weight="normal"  >490</text>
<text x="314.2" y="608.2" font-size="7" text-anchor="middle" fill="#3b3bd6" font-weight="normal"  >480</text>
<text x="323.4" y="624.6" font-size="7" text-anchor="middle" fill="#3b3bd6" font-weight="normal"  >470</text>
<text x="328.5" y="630.3" font-size="7" text-anchor="middle" fill="#3b3bd6" font-weight="normal"  >460</text>
<text x="356.8" y="634.8" font-size="7" text-anchor="middle" fill="#3b3bd6" font-weight="normal"  >380</text>
<path d="M363.66,583.59 L364.33,582.81 L365,582.03 L365.68,581.26 L366.36,580.49 L367.05,579.73 L367.74,578.97 L368.44,578.21 L369.14,577.46 L369.85,576.72 L370.57,575.99 L371.3,575.26 L372.03,574.53 L372.76,573.81 L373.5,573.1 L374.25,572.39 L375,571.69 L375.75,570.99 L376.51,570.3 L377.28,569.62 L378.05,568.94 L378.83,568.27 L379.62,567.6 L380.41,566.95 L381.21,566.3 L382.01,565.66 L382.82,565.03 L383.64,564.4 L384.46,563.78 L385.29,563.18 L386.12,562.57 L386.96,561.98 L387.8,561.39 L388.65,560.8 L389.5,560.23 L390.36,559.67 L391.23,559.13 L392.1,558.58 L392.98,558.04 L393.86,557.5 L394.75,556.98 L395.64,556.46 L396.54,555.95 L397.44,555.45 L398.35,554.97 L399.26,554.51 L400.18,554.07 L401.11,553.64 L402.04,553.21 L402.98,552.78 L403.92,552.36 L404.87,551.95 L405.82,551.54 L406.78,551.14 L407.74,550.76 L408.71,550.39 L409.67,550.03 L410.65,549.69 L411.62,549.36 L412.6,549.06 L413.58,548.77 L414.57,548.51 L415.55,548.25 L416.55,547.99 L417.55,547.73 L418.56,547.47 L419.57,547.23 L420.58,547 L421.6,546.81 L422.62,546.66 L423.64,546.55 L424.66,546.49 L425.67,546.49 L426.7,546.49 L427.73,546.49 L428.76,546.5 L429.79,546.5 L430.83,546.51 L431.86,546.51 L432.9,546.52 L433.93,546.53 L434.96,546.54 L435.98,546.55 L437,546.56 L438.01,546.57 L439.02,546.61 L440.03,546.71 L441.04,546.86 L442.05,547.04 L443.05,547.27 L444.05,547.53 L445.05,547.82 L446.05,548.13 L447.04,548.47 L448.03,548.82 L449.01,549.18 L449.99,549.54 L450.97,549.91 L451.94,550.27 L452.9,550.62 L453.86,550.96 L454.81,551.33 L455.76,551.72 L456.71,552.12 L457.66,552.55 L458.59,552.99 L459.52,553.45 L460.45,553.92 L461.36,554.4 L462.26,554.9 L463.15,555.41 L464.02,555.92 L464.89,556.46 L465.74,557.02 L466.58,557.61 L467.41,558.22 L468.23,558.84 L469.05,559.48 L469.85,560.14 L470.64,560.81" fill="none" stroke="#111" stroke-width="0.9"/>
<path d="M366.6,561.2L380.7,581.3 M384.2,551.2L385.9,574.3 M403.4,543.7L396.4,565.5 M418.3,541L409.6,557.7 M432.3,537.5L419.2,554.2 M440.5,541.2L429.5,553.6 M452.8,545.5L443.5,553.0" stroke="#111" stroke-width="0.9" fill="none"/>
<path d="M368.17,575.15L371.48,578.35 M370.46,572.84L373.69,576.12 M372.8,570.59L375.95,573.94 M375.2,568.39L378.26,571.82 M377.65,566.25L380.62,569.76 M380.17,564.18L383.04,567.78 M382.75,562.19L385.51,565.87 M385.38,560.27L388.05,564.02 M361.41,581.6L365.9,585.58" stroke="#111" stroke-width="0.8" fill="none"/>
<text x="358.2" y="562.1" font-size="5.9" text-anchor="middle" fill="#111" font-weight="normal"  >10,000</text>
<text x="383.3" y="548.7" font-size="5.9" text-anchor="middle" fill="#111" font-weight="normal"  >6000</text>
<text x="401.7" y="541.7" font-size="5.9" text-anchor="middle" fill="#111" font-weight="normal"  >4000</text>
<text x="417.1" y="539.1" font-size="5.9" text-anchor="middle" fill="#111" font-weight="normal"  >3000</text>
<text x="430.9" y="538.2" font-size="5.9" text-anchor="middle" fill="#111" font-weight="normal"  >2500</text>
<text x="433.7" y="558" font-size="5.9" text-anchor="middle" fill="#111" font-weight="normal"  >2000</text>
<text x="451.3" y="558" font-size="5.9" text-anchor="middle" fill="#111" font-weight="normal"  >1500</text>
<text x="353.9" y="582.4" font-size="7" text-anchor="middle" fill="#111" font-weight="normal"  >∞</text>
<text x="363.1" y="538.6" font-size="9.0" fill="#111">T<tspan font-size="5.6" dy="1.8">C</tspan><tspan dy="-1.8"> (°K)</tspan></text>
<circle cx="396.8" cy="517.9" r="2.1" fill="#0b2345"/>
<circle cx="383.5" cy="522.8" r="2.1" fill="#0b2345"/>
<circle cx="346.2" cy="558.4" r="2.1" fill="#0b2345"/>
<circle cx="341.1" cy="590.1" r="2.1" fill="#0b2345"/>
<text transform="translate(374.2,499.5) rotate(36)" font-size="8.6" text-anchor="middle" fill="#111" dy="2.6">NUS-24 bulk</text>
<text transform="translate(350.5,497.6) rotate(35.6)" font-size="8.5" text-anchor="middle" fill="#111" dy="2.6">NUS-24 nanosheets</text>
<text transform="translate(335.7,544.9) rotate(47)" font-size="8.4" text-anchor="middle" fill="#111" dy="2.6">TPE-2</text>
<text transform="translate(330.4,576.5) rotate(47.5)" font-size="8.4" text-anchor="middle" fill="#111" dy="2.6">TPE-1</text>
<text x="534.6" y="10.4" font-size="14.5" text-anchor="start" fill="#000" font-weight="bold"  >g</text>
<defs><radialGradient id="go" cx="38%" cy="32%" r="72%"><stop offset="0" stop-color="#fbdc88"/><stop offset="0.55" stop-color="#e6ae34"/><stop offset="1" stop-color="#a87812"/></radialGradient><radialGradient id="gc" cx="38%" cy="32%" r="72%"><stop offset="0" stop-color="#a8f2f2"/><stop offset="0.55" stop-color="#44c6ce"/><stop offset="1" stop-color="#228e9c"/></radialGradient><radialGradient id="gp" cx="38%" cy="32%" r="72%"><stop offset="0" stop-color="#f6def6"/><stop offset="0.55" stop-color="#d6a4e0"/><stop offset="1" stop-color="#9c6cb2"/></radialGradient><radialGradient id="gb" cx="38%" cy="32%" r="72%"><stop offset="0" stop-color="#8ad2f4"/><stop offset="0.55" stop-color="#3496d6"/><stop offset="1" stop-color="#135a9c"/></radialGradient><g id="hx"><path d="M2.3,1.3L0,2.6L-2.3,1.3L-2.3,-1.3L0,-2.6L2.3,-1.3Z" fill="#e0e0e0" stroke="#3e3e3e" stroke-width=".85"/><path d="M0,2.6v1.5M-2.3,-1.3l-1.3,-.75M2.3,-1.3l1.3,-.75M2.3,1.3l1.3,.75" stroke="#7a7a7a" stroke-width=".7"/></g></defs>
<path d="M616,40.3L558.5,76.3 M616,40.3L673.5,76.3 M616,116.8L558.5,76.3 M616,116.8L673.5,76.3 M616,40.3L616,29.8 M616,116.8L616,125.3 M558.5,76.3L550,76.3 M673.5,76.3L682,76.3 M616,139.5L558.5,175.5 M616,139.5L673.5,175.5 M616,216L558.5,175.5 M616,216L673.5,175.5 M616,139.5L616,129 M616,216L616,224.5 M558.5,175.5L550,175.5 M673.5,175.5L682,175.5 M616,239L558.5,275 M616,239L673.5,275 M616,315.5L558.5,275 M616,315.5L673.5,275 M616,239L616,228.5 M616,315.5L616,324 M558.5,275L550,275 M673.5,275L682,275 M616,339.3L558.5,375.3 M616,339.3L673.5,375.3 M616,415.8L558.5,375.3 M616,415.8L673.5,375.3 M616,339.3L616,328.8 M616,415.8L616,424.3 M558.5,375.3L550,375.3 M673.5,375.3L682,375.3 M616,439L558.5,475 M616,439L673.5,475 M616,515.5L558.5,475 M616,515.5L673.5,475 M616,439L616,428.5 M616,515.5L616,524 M558.5,475L550,475 M673.5,475L682,475 M616,538.5L558.5,574.5 M616,538.5L673.5,574.5 M616,615L558.5,574.5 M616,615L673.5,574.5 M616,538.5L616,528 M616,615L616,623.5 M558.5,574.5L550,574.5 M673.5,574.5L682,574.5" stroke="#444" stroke-width="1.1" fill="none"/>
<use href="#hx" x="610.2" y="43.9"/><use href="#hx" x="604.5" y="47.5"/><use href="#hx" x="598.8" y="51.1"/><use href="#hx" x="594.2" y="58.6"/><use href="#hx" x="591.1" y="51.2"/><use href="#hx" x="592.4" y="55.1"/><use href="#hx" x="589.8" y="61.4"/><use href="#hx" x="585.7" y="54.6"/><use href="#hx" x="587.2" y="58.3"/><use href="#hx" x="584.7" y="64.6"/><use href="#hx" x="579.4" y="58.5"/><use href="#hx" x="582.1" y="61.5"/><use href="#hx" x="575.8" y="65.5"/><use href="#hx" x="570" y="69.1"/><use href="#hx" x="564.2" y="72.7"/><use href="#hx" x="621.8" y="43.9"/><use href="#hx" x="627.5" y="47.5"/><use href="#hx" x="633.2" y="51.1"/><use href="#hx" x="641.4" y="51.5"/><use href="#hx" x="636.9" y="58.1"/><use href="#hx" x="639.6" y="55.1"/><use href="#hx" x="646.5" y="54.7"/><use href="#hx" x="643.2" y="62.1"/><use href="#hx" x="644.8" y="58.3"/><use href="#hx" x="652.9" y="58.7"/><use href="#hx" x="647.6" y="64.8"/><use href="#hx" x="649.9" y="61.5"/><use href="#hx" x="656.2" y="65.5"/><use href="#hx" x="662" y="69.1"/><use href="#hx" x="667.8" y="72.7"/><use href="#hx" x="610.2" y="112.8"/><use href="#hx" x="604.5" y="108.7"/><use href="#hx" x="598.8" y="104.6"/><use href="#hx" x="589.5" y="103"/><use href="#hx" x="594.4" y="96.7"/><use href="#hx" x="592.4" y="100.2"/><use href="#hx" x="584.2" y="99.3"/><use href="#hx" x="589.5" y="93.3"/><use href="#hx" x="587.2" y="96.5"/><use href="#hx" x="580.4" y="96.6"/><use href="#hx" x="584" y="89.4"/><use href="#hx" x="582.1" y="92.9"/><use href="#hx" x="575.8" y="88.5"/><use href="#hx" x="570" y="84.4"/><use href="#hx" x="564.2" y="80.3"/><use href="#hx" x="621.8" y="112.8"/><use href="#hx" x="627.5" y="108.7"/><use href="#hx" x="633.2" y="104.6"/><use href="#hx" x="636.8" y="97.2"/><use href="#hx" x="641.6" y="103.7"/><use href="#hx" x="639.6" y="100.2"/><use href="#hx" x="641.8" y="93.7"/><use href="#hx" x="646.5" y="100.2"/><use href="#hx" x="644.8" y="96.5"/><use href="#hx" x="646.8" y="90.2"/><use href="#hx" x="652" y="96.4"/><use href="#hx" x="649.9" y="92.9"/><use href="#hx" x="656.2" y="88.5"/><use href="#hx" x="662" y="84.4"/><use href="#hx" x="667.8" y="80.3"/><use href="#hx" x="616" y="37.3"/><use href="#hx" x="619.6" y="41.8"/><use href="#hx" x="612.4" y="41.8"/><use href="#hx" x="616" y="33.8"/><use href="#hx" x="616" y="119.8"/><use href="#hx" x="612.4" y="115.3"/><use href="#hx" x="619.6" y="115.3"/><use href="#hx" x="616" y="123.3"/><use href="#hx" x="555.5" y="76.3"/><use href="#hx" x="560" y="72.7"/><use href="#hx" x="560" y="79.9"/><use href="#hx" x="552" y="76.3"/><use href="#hx" x="676.5" y="76.3"/><use href="#hx" x="672" y="79.9"/><use href="#hx" x="672" y="72.7"/><use href="#hx" x="680" y="76.3"/><use href="#hx" x="610.2" y="143.1"/><use href="#hx" x="604.5" y="146.7"/><use href="#hx" x="598.8" y="150.3"/><use href="#hx" x="593.9" y="158"/><use href="#hx" x="590.2" y="150.9"/><use href="#hx" x="592.4" y="154.3"/><use href="#hx" x="589" y="161.1"/><use href="#hx" x="584.4" y="154.5"/><use href="#hx" x="587.2" y="157.5"/><use href="#hx" x="584.8" y="163.8"/><use href="#hx" x="580.6" y="157"/><use href="#hx" x="582.1" y="160.7"/><use href="#hx" x="575.8" y="164.7"/><use href="#hx" x="570" y="168.3"/><use href="#hx" x="564.2" y="171.9"/><use href="#hx" x="621.8" y="143.1"/><use href="#hx" x="627.5" y="146.7"/><use href="#hx" x="633.2" y="150.3"/><use href="#hx" x="641.3" y="150.6"/><use href="#hx" x="638.2" y="158.1"/><use href="#hx" x="639.6" y="154.3"/><use href="#hx" x="646.9" y="154.1"/><use href="#hx" x="642.8" y="161"/><use href="#hx" x="644.8" y="157.5"/><use href="#hx" x="652.8" y="157.8"/><use href="#hx" x="648.1" y="164.3"/><use href="#hx" x="649.9" y="160.7"/><use href="#hx" x="656.2" y="164.7"/><use href="#hx" x="662" y="168.3"/><use href="#hx" x="667.8" y="171.9"/><use href="#hx" x="610.2" y="211.9"/><use href="#hx" x="604.5" y="207.9"/><use href="#hx" x="598.8" y="203.8"/><use href="#hx" x="590.3" y="202.8"/><use href="#hx" x="594.1" y="195.7"/><use href="#hx" x="592.4" y="199.4"/><use href="#hx" x="585.8" y="199.6"/><use href="#hx" x="590.2" y="192.9"/><use href="#hx" x="587.2" y="195.8"/><use href="#hx" x="579.7" y="195.3"/><use href="#hx" x="584.9" y="189.2"/><use href="#hx" x="582.1" y="192.1"/><use href="#hx" x="575.8" y="187.7"/><use href="#hx" x="570" y="183.6"/><use href="#hx" x="564.2" y="179.6"/><use href="#hx" x="621.8" y="211.9"/><use href="#hx" x="627.5" y="207.9"/><use href="#hx" x="633.2" y="203.8"/><use href="#hx" x="637.9" y="195.7"/><use href="#hx" x="641.9" y="202.6"/><use href="#hx" x="639.6" y="199.4"/><use href="#hx" x="641.9" y="192.8"/><use href="#hx" x="646.3" y="199.6"/><use href="#hx" x="644.8" y="195.8"/><use href="#hx" x="647" y="189.3"/><use href="#hx" x="652.8" y="195"/><use href="#hx" x="649.9" y="192.1"/><use href="#hx" x="656.2" y="187.7"/><use href="#hx" x="662" y="183.6"/><use href="#hx" x="667.8" y="179.6"/><use href="#hx" x="616" y="136.5"/><use href="#hx" x="619.6" y="141"/><use href="#hx" x="612.4" y="141"/><use href="#hx" x="616" y="133"/><use href="#hx" x="616" y="219"/><use href="#hx" x="612.4" y="214.5"/><use href="#hx" x="619.6" y="214.5"/><use href="#hx" x="616" y="222.5"/><use href="#hx" x="555.5" y="175.5"/><use href="#hx" x="560" y="171.9"/><use href="#hx" x="560" y="179.1"/><use href="#hx" x="552" y="175.5"/><use href="#hx" x="676.5" y="175.5"/><use href="#hx" x="672" y="179.1"/><use href="#hx" x="672" y="171.9"/><use href="#hx" x="680" y="175.5"/><use href="#hx" x="610.2" y="242.6"/><use href="#hx" x="604.5" y="246.2"/><use href="#hx" x="598.8" y="249.8"/><use href="#hx" x="594.9" y="256.9"/><use href="#hx" x="589.8" y="250.7"/><use href="#hx" x="592.4" y="253.8"/><use href="#hx" x="589.6" y="260.2"/><use href="#hx" x="586" y="253.1"/><use href="#hx" x="587.2" y="257"/><use href="#hx" x="584.5" y="263.4"/><use href="#hx" x="580" y="256.8"/><use href="#hx" x="582.1" y="260.2"/><use href="#hx" x="575.8" y="264.2"/><use href="#hx" x="570" y="267.8"/><use href="#hx" x="564.2" y="271.4"/><use href="#hx" x="621.8" y="242.6"/><use href="#hx" x="627.5" y="246.2"/><use href="#hx" x="633.2" y="249.8"/><use href="#hx" x="641.5" y="250.2"/><use href="#hx" x="637.2" y="257"/><use href="#hx" x="639.6" y="253.8"/><use href="#hx" x="646.9" y="253.6"/><use href="#hx" x="642.4" y="260.2"/><use href="#hx" x="644.8" y="257"/><use href="#hx" x="652.2" y="256.9"/><use href="#hx" x="648.5" y="264.1"/><use href="#hx" x="649.9" y="260.2"/><use href="#hx" x="656.2" y="264.2"/><use href="#hx" x="662" y="267.8"/><use href="#hx" x="667.8" y="271.4"/><use href="#hx" x="610.2" y="311.4"/><use href="#hx" x="604.5" y="307.4"/><use href="#hx" x="598.8" y="303.4"/><use href="#hx" x="590.7" y="302.6"/><use href="#hx" x="594.5" y="295.5"/><use href="#hx" x="592.4" y="298.9"/><use href="#hx" x="585.8" y="299.1"/><use href="#hx" x="589.6" y="292"/><use href="#hx" x="587.2" y="295.2"/><use href="#hx" x="580.4" y="295.3"/><use href="#hx" x="584" y="288.1"/><use href="#hx" x="582.1" y="291.6"/><use href="#hx" x="575.8" y="287.1"/><use href="#hx" x="570" y="283.1"/><use href="#hx" x="564.2" y="279.1"/><use href="#hx" x="621.8" y="311.4"/><use href="#hx" x="627.5" y="307.4"/><use href="#hx" x="633.2" y="303.4"/><use href="#hx" x="637.4" y="295.6"/><use href="#hx" x="641.2" y="302.6"/><use href="#hx" x="639.6" y="298.9"/><use href="#hx" x="642" y="292.3"/><use href="#hx" x="647.8" y="298"/><use href="#hx" x="644.8" y="295.2"/><use href="#hx" x="647.1" y="288.7"/><use href="#hx" x="652.2" y="294.9"/><use href="#hx" x="649.9" y="291.6"/><use href="#hx" x="656.2" y="287.1"/><use href="#hx" x="662" y="283.1"/><use href="#hx" x="667.8" y="279.1"/><use href="#hx" x="616" y="236"/><use href="#hx" x="619.6" y="240.5"/><use href="#hx" x="612.4" y="240.5"/><use href="#hx" x="616" y="232.5"/><use href="#hx" x="616" y="318.5"/><use href="#hx" x="612.4" y="314"/><use href="#hx" x="619.6" y="314"/><use href="#hx" x="616" y="322"/><use href="#hx" x="555.5" y="275"/><use href="#hx" x="560" y="271.4"/><use href="#hx" x="560" y="278.6"/><use href="#hx" x="552" y="275"/><use href="#hx" x="676.5" y="275"/><use href="#hx" x="672" y="278.6"/><use href="#hx" x="672" y="271.4"/><use href="#hx" x="680" y="275"/><use href="#hx" x="610.2" y="342.9"/><use href="#hx" x="604.5" y="346.5"/><use href="#hx" x="598.8" y="350.1"/><use href="#hx" x="594.5" y="357.5"/><use href="#hx" x="589.7" y="351.1"/><use href="#hx" x="592.4" y="354.1"/><use href="#hx" x="589.6" y="360.6"/><use href="#hx" x="585.4" y="353.8"/><use href="#hx" x="587.2" y="357.3"/><use href="#hx" x="584.9" y="363.5"/><use href="#hx" x="580.7" y="356.7"/><use href="#hx" x="582.1" y="360.5"/><use href="#hx" x="575.8" y="364.5"/><use href="#hx" x="570" y="368.1"/><use href="#hx" x="564.2" y="371.7"/><use href="#hx" x="621.8" y="342.9"/><use href="#hx" x="627.5" y="346.5"/><use href="#hx" x="633.2" y="350.1"/><use href="#hx" x="641.2" y="350.4"/><use href="#hx" x="636.8" y="357"/><use href="#hx" x="639.6" y="354.1"/><use href="#hx" x="646.1" y="353.4"/><use href="#hx" x="643.2" y="361.1"/><use href="#hx" x="644.8" y="357.3"/><use href="#hx" x="651.3" y="356.7"/><use href="#hx" x="648.1" y="364.1"/><use href="#hx" x="649.9" y="360.5"/><use href="#hx" x="656.2" y="364.5"/><use href="#hx" x="662" y="368.1"/><use href="#hx" x="667.8" y="371.7"/><use href="#hx" x="610.2" y="411.8"/><use href="#hx" x="604.5" y="407.7"/><use href="#hx" x="598.8" y="403.7"/><use href="#hx" x="589.8" y="402.2"/><use href="#hx" x="595.3" y="396.3"/><use href="#hx" x="592.4" y="399.2"/><use href="#hx" x="584.4" y="398.5"/><use href="#hx" x="589.7" y="392.4"/><use href="#hx" x="587.2" y="395.6"/><use href="#hx" x="579.1" y="394.7"/><use href="#hx" x="584.2" y="388.5"/><use href="#hx" x="582.1" y="391.9"/><use href="#hx" x="575.8" y="387.4"/><use href="#hx" x="570" y="383.4"/><use href="#hx" x="564.2" y="379.4"/><use href="#hx" x="621.8" y="411.8"/><use href="#hx" x="627.5" y="407.7"/><use href="#hx" x="633.2" y="403.7"/><use href="#hx" x="637.7" y="395.7"/><use href="#hx" x="641.6" y="402.7"/><use href="#hx" x="639.6" y="399.2"/><use href="#hx" x="642.8" y="392"/><use href="#hx" x="647.7" y="398.4"/><use href="#hx" x="644.8" y="395.6"/><use href="#hx" x="648.2" y="388.2"/><use href="#hx" x="651.6" y="395.6"/><use href="#hx" x="649.9" y="391.9"/><use href="#hx" x="656.2" y="387.4"/><use href="#hx" x="662" y="383.4"/><use href="#hx" x="667.8" y="379.4"/><use href="#hx" x="616" y="336.3"/><use href="#hx" x="619.6" y="340.8"/><use href="#hx" x="612.4" y="340.8"/><use href="#hx" x="616" y="332.8"/><use href="#hx" x="616" y="418.8"/><use href="#hx" x="612.4" y="414.3"/><use href="#hx" x="619.6" y="414.3"/><use href="#hx" x="616" y="422.3"/><use href="#hx" x="555.5" y="375.3"/><use href="#hx" x="560" y="371.7"/><use href="#hx" x="560" y="378.9"/><use href="#hx" x="552" y="375.3"/><use href="#hx" x="676.5" y="375.3"/><use href="#hx" x="672" y="378.9"/><use href="#hx" x="672" y="371.7"/><use href="#hx" x="680" y="375.3"/><use href="#hx" x="610.2" y="442.6"/><use href="#hx" x="604.5" y="446.2"/><use href="#hx" x="598.8" y="449.8"/><use href="#hx" x="594.3" y="457.3"/><use href="#hx" x="589.8" y="450.7"/><use href="#hx" x="592.4" y="453.8"/><use href="#hx" x="588.9" y="460.7"/><use href="#hx" x="584.8" y="453.8"/><use href="#hx" x="587.2" y="457"/><use href="#hx" x="584.1" y="463.7"/><use href="#hx" x="579.6" y="457.1"/><use href="#hx" x="582.1" y="460.2"/><use href="#hx" x="575.8" y="464.2"/><use href="#hx" x="570" y="467.8"/><use href="#hx" x="564.2" y="471.4"/><use href="#hx" x="621.8" y="442.6"/><use href="#hx" x="627.5" y="446.2"/><use href="#hx" x="633.2" y="449.8"/><use href="#hx" x="641" y="449.9"/><use href="#hx" x="636.9" y="456.8"/><use href="#hx" x="639.6" y="453.8"/><use href="#hx" x="646.7" y="453.5"/><use href="#hx" x="642.9" y="460.5"/><use href="#hx" x="644.8" y="457"/><use href="#hx" x="651.3" y="456.4"/><use href="#hx" x="647.5" y="463.5"/><use href="#hx" x="649.9" y="460.2"/><use href="#hx" x="656.2" y="464.2"/><use href="#hx" x="662" y="467.8"/><use href="#hx" x="667.8" y="471.4"/><use href="#hx" x="610.2" y="511.4"/><use href="#hx" x="604.5" y="507.4"/><use href="#hx" x="598.8" y="503.4"/><use href="#hx" x="590.2" y="502.2"/><use href="#hx" x="594" y="495.1"/><use href="#hx" x="592.4" y="498.9"/><use href="#hx" x="585.3" y="498.8"/><use href="#hx" x="589.5" y="491.9"/><use href="#hx" x="587.2" y="495.2"/><use href="#hx" x="579.8" y="494.9"/><use href="#hx" x="584.6" y="488.5"/><use href="#hx" x="582.1" y="491.6"/><use href="#hx" x="575.8" y="487.1"/><use href="#hx" x="570" y="483.1"/><use href="#hx" x="564.2" y="479.1"/><use href="#hx" x="621.8" y="511.4"/><use href="#hx" x="627.5" y="507.4"/><use href="#hx" x="633.2" y="503.4"/><use href="#hx" x="637.9" y="495.2"/><use href="#hx" x="641.9" y="502.1"/><use href="#hx" x="639.6" y="498.9"/><use href="#hx" x="642.7" y="491.8"/><use href="#hx" x="647.7" y="498"/><use href="#hx" x="644.8" y="495.2"/><use href="#hx" x="647.3" y="488.6"/><use href="#hx" x="652.9" y="494.4"/><use href="#hx" x="649.9" y="491.6"/><use href="#hx" x="656.2" y="487.1"/><use href="#hx" x="662" y="483.1"/><use href="#hx" x="667.8" y="479.1"/><use href="#hx" x="616" y="436"/><use href="#hx" x="619.6" y="440.5"/><use href="#hx" x="612.4" y="440.5"/><use href="#hx" x="616" y="432.5"/><use href="#hx" x="616" y="518.5"/><use href="#hx" x="612.4" y="514"/><use href="#hx" x="619.6" y="514"/><use href="#hx" x="616" y="522"/><use href="#hx" x="555.5" y="475"/><use href="#hx" x="560" y="471.4"/><use href="#hx" x="560" y="478.6"/><use href="#hx" x="552" y="475"/><use href="#hx" x="676.5" y="475"/><use href="#hx" x="672" y="478.6"/><use href="#hx" x="672" y="471.4"/><use href="#hx" x="680" y="475"/><use href="#hx" x="610.2" y="542.1"/><use href="#hx" x="604.5" y="545.7"/><use href="#hx" x="598.8" y="549.3"/><use href="#hx" x="594.7" y="556.6"/><use href="#hx" x="590.4" y="549.8"/><use href="#hx" x="592.4" y="553.3"/><use href="#hx" x="589.5" y="559.8"/><use href="#hx" x="585.1" y="553.1"/><use href="#hx" x="587.2" y="556.5"/><use href="#hx" x="584.4" y="563"/><use href="#hx" x="580.5" y="556"/><use href="#hx" x="582.1" y="559.7"/><use href="#hx" x="575.8" y="563.7"/><use href="#hx" x="570" y="567.3"/><use href="#hx" x="564.2" y="570.9"/><use href="#hx" x="621.8" y="542.1"/><use href="#hx" x="627.5" y="545.7"/><use href="#hx" x="633.2" y="549.3"/><use href="#hx" x="642.5" y="550.4"/><use href="#hx" x="638" y="557"/><use href="#hx" x="639.6" y="553.3"/><use href="#hx" x="646.6" y="553"/><use href="#hx" x="643.5" y="560.4"/><use href="#hx" x="644.8" y="556.5"/><use href="#hx" x="651.7" y="556.1"/><use href="#hx" x="648.6" y="563.6"/><use href="#hx" x="649.9" y="559.7"/><use href="#hx" x="656.2" y="563.7"/><use href="#hx" x="662" y="567.3"/><use href="#hx" x="667.8" y="570.9"/><use href="#hx" x="610.2" y="611"/><use href="#hx" x="604.5" y="606.9"/><use href="#hx" x="598.8" y="602.9"/><use href="#hx" x="590.6" y="602"/><use href="#hx" x="595.5" y="595.7"/><use href="#hx" x="592.4" y="598.4"/><use href="#hx" x="584.8" y="597.9"/><use href="#hx" x="589.6" y="591.5"/><use href="#hx" x="587.2" y="594.8"/><use href="#hx" x="579.8" y="594.4"/><use href="#hx" x="584.6" y="588"/><use href="#hx" x="582.1" y="591.1"/><use href="#hx" x="575.8" y="586.6"/><use href="#hx" x="570" y="582.6"/><use href="#hx" x="564.2" y="578.5"/><use href="#hx" x="621.8" y="611"/><use href="#hx" x="627.5" y="606.9"/><use href="#hx" x="633.2" y="602.9"/><use href="#hx" x="636.6" y="595.6"/><use href="#hx" x="641.9" y="601.7"/><use href="#hx" x="639.6" y="598.4"/><use href="#hx" x="642.7" y="591.3"/><use href="#hx" x="646.7" y="598.2"/><use href="#hx" x="644.8" y="594.8"/><use href="#hx" x="647.6" y="587.8"/><use href="#hx" x="651.5" y="594.9"/><use href="#hx" x="649.9" y="591.1"/><use href="#hx" x="656.2" y="586.6"/><use href="#hx" x="662" y="582.6"/><use href="#hx" x="667.8" y="578.5"/><use href="#hx" x="616" y="535.5"/><use href="#hx" x="619.6" y="540"/><use href="#hx" x="612.4" y="540"/><use href="#hx" x="616" y="532"/><use href="#hx" x="616" y="618"/><use href="#hx" x="612.4" y="613.5"/><use href="#hx" x="619.6" y="613.5"/><use href="#hx" x="616" y="621.5"/><use href="#hx" x="555.5" y="574.5"/><use href="#hx" x="560" y="570.9"/><use href="#hx" x="560" y="578.1"/><use href="#hx" x="552" y="574.5"/><use href="#hx" x="676.5" y="574.5"/><use href="#hx" x="672" y="578.1"/><use href="#hx" x="672" y="570.9"/><use href="#hx" x="680" y="574.5"/>
<ellipse cx="617" cy="417.6" rx="3" ry="1.9" fill="url(#gp)"/><ellipse cx="673.9" cy="374.9" rx="3.1" ry="1.9" fill="url(#gb)"/><ellipse cx="648.3" cy="194.3" rx="3.4" ry="2" fill="url(#go)"/><ellipse cx="674.2" cy="473.9" rx="2.3" ry="2.3" fill="url(#gb)"/><ellipse cx="594.6" cy="59.3" rx="3.1" ry="1.9" fill="url(#gc)"/><ellipse cx="676.2" cy="372.6" rx="2.7" ry="2.3" fill="url(#gb)"/><ellipse cx="646.4" cy="189" rx="3" ry="2.1" fill="url(#gc)"/><ellipse cx="619.4" cy="320" rx="2.9" ry="2" fill="url(#go)"/><ellipse cx="649.9" cy="193.7" rx="2.8" ry="2.4" fill="url(#gc)"/><ellipse cx="675.9" cy="278.7" rx="3.1" ry="2" fill="url(#gc)"/><ellipse cx="589.5" cy="201.2" rx="2.8" ry="2.2" fill="url(#gc)"/><ellipse cx="674.7" cy="373.8" rx="2.4" ry="1.7" fill="url(#gb)"/><ellipse cx="579.7" cy="595" rx="2.5" ry="2.2" fill="url(#gb)"/><ellipse cx="554.7" cy="478.8" rx="3" ry="1.8" fill="url(#gp)"/><ellipse cx="589.8" cy="401.5" rx="2.4" ry="1.7" fill="url(#gb)"/><ellipse cx="602.1" cy="146.6" rx="2.9" ry="2.3" fill="url(#gc)"/><ellipse cx="638.5" cy="96.8" rx="2.8" ry="2.3" fill="url(#gc)"/><ellipse cx="678" cy="574.6" rx="2.6" ry="1.7" fill="url(#gp)"/><ellipse cx="558.5" cy="173.8" rx="2.7" ry="2.3" fill="url(#go)"/><ellipse cx="678.9" cy="376.3" rx="2.4" ry="2.2" fill="url(#gp)"/><ellipse cx="566" cy="482.7" rx="2.2" ry="2" fill="url(#gp)"/><ellipse cx="602" cy="150.7" rx="3.1" ry="2.3" fill="url(#gc)"/><ellipse cx="630.5" cy="303.6" rx="3" ry="2" fill="url(#gc)"/><ellipse cx="644.3" cy="489.7" rx="2.9" ry="1.8" fill="url(#gp)"/><ellipse cx="614.3" cy="234.4" rx="2.9" ry="1.8" fill="url(#gc)"/><ellipse cx="645" cy="362" rx="2.5" ry="1.8" fill="url(#gb)"/><ellipse cx="592.4" cy="204.1" rx="2.4" ry="2" fill="url(#go)"/><ellipse cx="657" cy="467.7" rx="2.2" ry="1.9" fill="url(#gp)"/><ellipse cx="659.2" cy="382" rx="2.3" ry="1.9" fill="url(#gp)"/><ellipse cx="611.9" cy="309.7" rx="3.2" ry="1.8" fill="url(#go)"/><ellipse cx="561" cy="372.4" rx="3.2" ry="2" fill="url(#gp)"/><ellipse cx="675.9" cy="277.3" rx="2.4" ry="2.1" fill="url(#gc)"/><ellipse cx="576.8" cy="289.5" rx="3.2" ry="2.4" fill="url(#gc)"/><ellipse cx="576.2" cy="361.1" rx="2.4" ry="2" fill="url(#gp)"/><ellipse cx="590.5" cy="356.9" rx="2.7" ry="1.8" fill="url(#gp)"/><ellipse cx="651.4" cy="58.9" rx="2.7" ry="1.9" fill="url(#gc)"/><ellipse cx="631.9" cy="250.7" rx="2.2" ry="2.2" fill="url(#gc)"/><ellipse cx="663.9" cy="367.4" rx="2.3" ry="2.3" fill="url(#gb)"/><ellipse cx="677.8" cy="274.8" rx="2.3" ry="2" fill="url(#go)"/><ellipse cx="596.9" cy="205.2" rx="2.7" ry="2.3" fill="url(#go)"/><ellipse cx="604.8" cy="248.4" rx="3.2" ry="2.3" fill="url(#go)"/><ellipse cx="576" cy="265.6" rx="2.4" ry="2.3" fill="url(#go)"/><ellipse cx="589.4" cy="397.4" rx="2.4" ry="2.2" fill="url(#gp)"/><ellipse cx="600.7" cy="48.4" rx="2.2" ry="2" fill="url(#go)"/><ellipse cx="581" cy="195.5" rx="2.9" ry="1.9" fill="url(#gc)"/><ellipse cx="589.5" cy="292.2" rx="2.6" ry="1.9" fill="url(#go)"/><ellipse cx="567.5" cy="472.4" rx="3" ry="1.8" fill="url(#gp)"/><ellipse cx="622.4" cy="313.5" rx="3.1" ry="2.2" fill="url(#go)"/><ellipse cx="571.9" cy="469" rx="2.2" ry="2.1" fill="url(#gp)"/><ellipse cx="643.8" cy="352.6" rx="2.8" ry="1.7" fill="url(#gp)"/><ellipse cx="647.4" cy="299.1" rx="2.7" ry="2" fill="url(#go)"/><ellipse cx="559.1" cy="480" rx="2.5" ry="1.9" fill="url(#gp)"/><ellipse cx="572.6" cy="84.2" rx="2.9" ry="1.9" fill="url(#gc)"/><ellipse cx="634.3" cy="301.2" rx="3" ry="2.2" fill="url(#gc)"/><ellipse cx="555.2" cy="377.7" rx="2.6" ry="2" fill="url(#gp)"/><ellipse cx="569.8" cy="481.4" rx="2.8" ry="2.2" fill="url(#gp)"/><ellipse cx="639.4" cy="198.9" rx="2.4" ry="1.8" fill="url(#gc)"/><ellipse cx="616.6" cy="418.1" rx="2.5" ry="2.2" fill="url(#gp)"/><ellipse cx="640.1" cy="394.9" rx="2.5" ry="2.3" fill="url(#gp)"/><ellipse cx="573.9" cy="189.1" rx="3.1" ry="1.9" fill="url(#go)"/><ellipse cx="638.2" cy="600.8" rx="2.8" ry="2.4" fill="url(#gp)"/><ellipse cx="597.7" cy="300" rx="2.4" ry="2" fill="url(#go)"/><ellipse cx="636.6" cy="602.8" rx="2.6" ry="2.3" fill="url(#gp)"/><ellipse cx="596.2" cy="595.5" rx="2.6" ry="2.3" fill="url(#gb)"/><ellipse cx="644.8" cy="294.5" rx="3" ry="1.8" fill="url(#gc)"/><ellipse cx="553" cy="473.3" rx="2.8" ry="1.8" fill="url(#gb)"/><ellipse cx="603.7" cy="49.7" rx="3.1" ry="1.9" fill="url(#go)"/><ellipse cx="661.8" cy="87.2" rx="2.6" ry="2" fill="url(#gc)"/><ellipse cx="570.4" cy="285.2" rx="2.6" ry="2" fill="url(#go)"/><ellipse cx="644.4" cy="156.5" rx="3.1" ry="2" fill="url(#gc)"/><ellipse cx="631.7" cy="306.8" rx="2.8" ry="2.4" fill="url(#go)"/><ellipse cx="635.3" cy="400.9" rx="2.5" ry="1.7" fill="url(#gb)"/><ellipse cx="677.2" cy="565.3" rx="2.8" ry="2.1" fill="url(#gb)"/><ellipse cx="567.6" cy="584.3" rx="3.1" ry="1.8" fill="url(#gb)"/><ellipse cx="627.4" cy="306" rx="3.2" ry="2.1" fill="url(#go)"/><ellipse cx="574.8" cy="69.3" rx="2.4" ry="2.1" fill="url(#gc)"/><ellipse cx="624" cy="418" rx="2.3" ry="1.7" fill="url(#gb)"/><ellipse cx="668.7" cy="273.7" rx="2.2" ry="1.9" fill="url(#gc)"/><ellipse cx="563.2" cy="269.8" rx="2.4" ry="2.4" fill="url(#go)"/><ellipse cx="552" cy="472.3" rx="2.8" ry="2.2" fill="url(#gb)"/><ellipse cx="629.2" cy="608.1" rx="2.4" ry="2.1" fill="url(#gb)"/><ellipse cx="612.2" cy="617" rx="2.6" ry="1.9" fill="url(#gb)"/><ellipse cx="652.7" cy="192.1" rx="2.4" ry="1.8" fill="url(#gc)"/><ellipse cx="570.7" cy="366.2" rx="2.8" ry="2.1" fill="url(#gb)"/><ellipse cx="580.7" cy="256.1" rx="2.5" ry="1.8" fill="url(#go)"/><ellipse cx="656.8" cy="463.2" rx="2.4" ry="2" fill="url(#gp)"/><ellipse cx="652.6" cy="60.5" rx="2.5" ry="1.8" fill="url(#go)"/><ellipse cx="584.4" cy="494.4" rx="2.8" ry="1.9" fill="url(#gp)"/><ellipse cx="595.9" cy="256.2" rx="3.1" ry="1.9" fill="url(#go)"/><ellipse cx="673.8" cy="471.7" rx="2.4" ry="2.1" fill="url(#gp)"/><ellipse cx="586.4" cy="295.5" rx="3.3" ry="1.8" fill="url(#gc)"/><ellipse cx="592.9" cy="200.8" rx="2.7" ry="1.9" fill="url(#go)"/><ellipse cx="637.5" cy="195.5" rx="2.5" ry="2" fill="url(#gc)"/><ellipse cx="578.9" cy="187.7" rx="2.5" ry="2" fill="url(#go)"/><ellipse cx="671" cy="270.7" rx="2.6" ry="1.7" fill="url(#go)"/><ellipse cx="620.7" cy="37.9" rx="2.7" ry="2.1" fill="url(#gc)"/><ellipse cx="562.5" cy="480.6" rx="2.3" ry="1.7" fill="url(#gb)"/><ellipse cx="638" cy="102.3" rx="2.9" ry="1.9" fill="url(#go)"/><ellipse cx="581.1" cy="363.7" rx="3.1" ry="2.4" fill="url(#gp)"/><ellipse cx="569.9" cy="186" rx="3" ry="2.3" fill="url(#go)"/><ellipse cx="585.1" cy="454" rx="3.1" ry="2.2" fill="url(#gp)"/><ellipse cx="580.1" cy="260.1" rx="3.2" ry="2.1" fill="url(#gc)"/><ellipse cx="588.9" cy="360.5" rx="2.3" ry="1.9" fill="url(#gb)"/><ellipse cx="665.9" cy="567.6" rx="2.3" ry="2.2" fill="url(#gp)"/><ellipse cx="647" cy="488.7" rx="2.3" ry="2.3" fill="url(#gb)"/><ellipse cx="618.3" cy="36.9" rx="3.2" ry="1.9" fill="url(#go)"/><ellipse cx="664" cy="179.9" rx="2.8" ry="2.2" fill="url(#go)"/><ellipse cx="649.1" cy="98.4" rx="3.1" ry="2" fill="url(#gc)"/><ellipse cx="634.6" cy="600.5" rx="2.7" ry="2.2" fill="url(#gb)"/><ellipse cx="679.6" cy="481.1" rx="2.6" ry="2.2" fill="url(#gp)"/><ellipse cx="570" cy="485.2" rx="3.1" ry="2" fill="url(#gp)"/><ellipse cx="582" cy="397" rx="2.2" ry="1.9" fill="url(#gp)"/><ellipse cx="586.3" cy="96.5" rx="2.7" ry="2.1" fill="url(#gc)"/><ellipse cx="634.3" cy="154.2" rx="2.7" ry="2" fill="url(#go)"/><ellipse cx="576.2" cy="365.8" rx="3.2" ry="1.8" fill="url(#gp)"/><ellipse cx="588" cy="195.8" rx="2.6" ry="1.8" fill="url(#gc)"/><ellipse cx="585.1" cy="297.4" rx="2.2" ry="2" fill="url(#gc)"/><ellipse cx="599.9" cy="306" rx="2.3" ry="2.2" fill="url(#gc)"/><ellipse cx="660.1" cy="187.6" rx="3.1" ry="1.9" fill="url(#go)"/><ellipse cx="680" cy="274.3" rx="2.6" ry="2.1" fill="url(#gc)"/><ellipse cx="559.4" cy="478.2" rx="2.3" ry="2.4" fill="url(#gp)"/><ellipse cx="579.8" cy="464.6" rx="2.3" ry="1.9" fill="url(#gb)"/><ellipse cx="606.2" cy="47.6" rx="2.9" ry="2.3" fill="url(#gc)"/><ellipse cx="571" cy="465.8" rx="2.4" ry="2.2" fill="url(#gb)"/><ellipse cx="604" cy="609.3" rx="3.1" ry="2.2" fill="url(#gb)"/><ellipse cx="661.6" cy="484.7" rx="2.3" ry="1.9" fill="url(#gb)"/><ellipse cx="600.1" cy="251" rx="3.2" ry="1.9" fill="url(#go)"/><ellipse cx="651.4" cy="462.6" rx="2.7" ry="2.4" fill="url(#gb)"/><ellipse cx="648.2" cy="293.9" rx="3.4" ry="2.2" fill="url(#go)"/><ellipse cx="580.1" cy="396.2" rx="2.7" ry="2.4" fill="url(#gb)"/><ellipse cx="569.4" cy="380.8" rx="3" ry="2.2" fill="url(#gp)"/><ellipse cx="615" cy="240.8" rx="2.8" ry="2.2" fill="url(#go)"/><ellipse cx="614.9" cy="33.1" rx="2.8" ry="2.1" fill="url(#gc)"/><ellipse cx="558.8" cy="272.5" rx="2.9" ry="1.8" fill="url(#go)"/><ellipse cx="638.1" cy="158.8" rx="2.8" ry="1.8" fill="url(#go)"/><ellipse cx="636.4" cy="203.4" rx="2.4" ry="1.8" fill="url(#go)"/><ellipse cx="553.7" cy="476.3" rx="2.7" ry="2.1" fill="url(#gb)"/><ellipse cx="592.2" cy="194.3" rx="2.4" ry="1.7" fill="url(#gc)"/><ellipse cx="642.5" cy="61.9" rx="2.8" ry="2.1" fill="url(#go)"/><ellipse cx="638.1" cy="396.3" rx="2.4" ry="2.3" fill="url(#gb)"/><ellipse cx="597.6" cy="248.6" rx="2.3" ry="1.9" fill="url(#gc)"/><ellipse cx="645.5" cy="262.1" rx="2.5" ry="2.1" fill="url(#gc)"/><ellipse cx="596.7" cy="98.3" rx="3.2" ry="2.2" fill="url(#gc)"/><ellipse cx="627.9" cy="149.3" rx="2.7" ry="1.8" fill="url(#gc)"/><ellipse cx="641.7" cy="157.3" rx="2.7" ry="2.2" fill="url(#go)"/><ellipse cx="680.5" cy="169.6" rx="3" ry="2" fill="url(#go)"/><ellipse cx="649.4" cy="198.2" rx="2.3" ry="1.9" fill="url(#gc)"/><ellipse cx="554.2" cy="269.2" rx="2.9" ry="2.3" fill="url(#go)"/><ellipse cx="664.5" cy="279.3" rx="3.1" ry="2" fill="url(#go)"/><ellipse cx="609" cy="620.1" rx="2.8" ry="2.2" fill="url(#gp)"/><ellipse cx="661.9" cy="181.6" rx="2.9" ry="1.8" fill="url(#gc)"/><ellipse cx="662" cy="266.2" rx="2.6" ry="2.1" fill="url(#go)"/><ellipse cx="610.7" cy="40.7" rx="2.7" ry="1.9" fill="url(#gc)"/><ellipse cx="575" cy="289.5" rx="2.6" ry="2" fill="url(#go)"/><ellipse cx="625.1" cy="108.2" rx="2.9" ry="2.1" fill="url(#gc)"/><ellipse cx="614.7" cy="115.8" rx="2.2" ry="2.1" fill="url(#gc)"/><ellipse cx="647.1" cy="253.3" rx="2.3" ry="2.3" fill="url(#gc)"/><ellipse cx="589.3" cy="150.7" rx="2.2" ry="1.7" fill="url(#go)"/><ellipse cx="655" cy="165.7" rx="2.9" ry="1.7" fill="url(#gc)"/><ellipse cx="555.9" cy="277.4" rx="3.1" ry="2" fill="url(#gc)"/><ellipse cx="584.9" cy="199.4" rx="3" ry="1.8" fill="url(#gc)"/><ellipse cx="639.7" cy="458.5" rx="3.1" ry="1.9" fill="url(#gb)"/><ellipse cx="607.7" cy="43.9" rx="2.7" ry="2.1" fill="url(#gc)"/><ellipse cx="628.8" cy="46.9" rx="2.8" ry="2" fill="url(#go)"/><ellipse cx="567.3" cy="379.1" rx="2.5" ry="2.3" fill="url(#gb)"/><ellipse cx="567.2" cy="167.5" rx="2.5" ry="1.8" fill="url(#go)"/><ellipse cx="646.1" cy="597.5" rx="3.1" ry="2.4" fill="url(#gp)"/><ellipse cx="627.7" cy="604.1" rx="3.1" ry="2" fill="url(#gp)"/><ellipse cx="609" cy="110.6" rx="2.9" ry="2.3" fill="url(#gc)"/><ellipse cx="656.1" cy="191.1" rx="2.9" ry="2.1" fill="url(#go)"/><ellipse cx="673.4" cy="273.9" rx="2.2" ry="1.9" fill="url(#gc)"/><ellipse cx="634.2" cy="54.5" rx="3.1" ry="2" fill="url(#go)"/><ellipse cx="585" cy="289.7" rx="2.4" ry="1.9" fill="url(#go)"/><ellipse cx="570.1" cy="87.8" rx="3" ry="1.8" fill="url(#go)"/><ellipse cx="590.5" cy="98.1" rx="3.1" ry="1.9" fill="url(#go)"/><ellipse cx="669.2" cy="469.6" rx="3.1" ry="2.1" fill="url(#gb)"/><ellipse cx="641.1" cy="54.8" rx="2.6" ry="2.5" fill="url(#gc)"/><ellipse cx="572.6" cy="264.3" rx="3.1" ry="2.2" fill="url(#go)"/><ellipse cx="553.6" cy="471.4" rx="2.6" ry="1.8" fill="url(#gb)"/><ellipse cx="664.6" cy="283.6" rx="2.3" ry="1.8" fill="url(#go)"/><ellipse cx="657.1" cy="185.4" rx="2.4" ry="2" fill="url(#gc)"/><ellipse cx="587.7" cy="200" rx="3" ry="2.2" fill="url(#go)"/><ellipse cx="562.8" cy="276.3" rx="3.1" ry="2.2" fill="url(#gc)"/><ellipse cx="576.2" cy="67.2" rx="2.7" ry="2.2" fill="url(#go)"/><ellipse cx="677" cy="475.5" rx="3" ry="2.1" fill="url(#gb)"/><ellipse cx="627.1" cy="405.3" rx="2.7" ry="1.9" fill="url(#gp)"/><ellipse cx="585.5" cy="64.7" rx="2.4" ry="2.2" fill="url(#gc)"/><ellipse cx="635" cy="256.3" rx="2.7" ry="1.7" fill="url(#gc)"/><ellipse cx="607" cy="606.6" rx="2.5" ry="2.3" fill="url(#gp)"/><ellipse cx="644.2" cy="451.6" rx="3.1" ry="2.3" fill="url(#gp)"/><ellipse cx="567.3" cy="571.7" rx="2.6" ry="1.8" fill="url(#gp)"/><ellipse cx="560.7" cy="270.4" rx="3.1" ry="1.7" fill="url(#gc)"/><ellipse cx="643.6" cy="459.9" rx="3" ry="1.9" fill="url(#gp)"/><ellipse cx="558.1" cy="574.6" rx="3" ry="2.3" fill="url(#gb)"/><ellipse cx="612" cy="119.3" rx="2.8" ry="2.1" fill="url(#gc)"/><ellipse cx="657.8" cy="366.7" rx="2.4" ry="2" fill="url(#gp)"/><ellipse cx="672" cy="575.7" rx="2.4" ry="1.9" fill="url(#gp)"/><ellipse cx="556.8" cy="373.4" rx="2.6" ry="2.3" fill="url(#gp)"/><ellipse cx="612.1" cy="314.9" rx="2.4" ry="1.8" fill="url(#gc)"/><ellipse cx="554.8" cy="274.2" rx="2.7" ry="1.8" fill="url(#go)"/><ellipse cx="676.1" cy="278.5" rx="3.1" ry="2.2" fill="url(#go)"/><ellipse cx="608.5" cy="408.5" rx="2.8" ry="1.8" fill="url(#gb)"/><ellipse cx="675.1" cy="467.9" rx="2.5" ry="2.3" fill="url(#gb)"/><ellipse cx="554.9" cy="476.8" rx="2.7" ry="2.2" fill="url(#gb)"/><ellipse cx="671.2" cy="472.3" rx="2.8" ry="2.2" fill="url(#gp)"/><ellipse cx="635" cy="197.2" rx="3.1" ry="2.2" fill="url(#go)"/><ellipse cx="615.3" cy="116.6" rx="2.5" ry="1.7" fill="url(#go)"/><ellipse cx="596.3" cy="397.4" rx="2.4" ry="1.8" fill="url(#gb)"/><ellipse cx="671.2" cy="478.9" rx="2.7" ry="2.2" fill="url(#gb)"/><ellipse cx="668.9" cy="275.2" rx="3.2" ry="2.1" fill="url(#go)"/><ellipse cx="606.5" cy="407.1" rx="3.1" ry="2.2" fill="url(#gp)"/><ellipse cx="572.2" cy="269.4" rx="2.4" ry="2.2" fill="url(#go)"/><ellipse cx="645.2" cy="91.7" rx="2.9" ry="2.2" fill="url(#go)"/><ellipse cx="644.2" cy="162.6" rx="2.2" ry="1.9" fill="url(#gc)"/><ellipse cx="581.2" cy="57.5" rx="2.5" ry="1.7" fill="url(#go)"/><ellipse cx="644.3" cy="191.3" rx="3.1" ry="1.8" fill="url(#go)"/><ellipse cx="560.7" cy="175.7" rx="2.4" ry="1.9" fill="url(#gc)"/><ellipse cx="584.1" cy="95.2" rx="3.1" ry="2.3" fill="url(#go)"/><ellipse cx="642.3" cy="301.1" rx="2.8" ry="2.4" fill="url(#go)"/><ellipse cx="618.8" cy="41.4" rx="2.6" ry="2.4" fill="url(#go)"/><ellipse cx="601.8" cy="244.6" rx="3" ry="2.3" fill="url(#gc)"/><ellipse cx="623.2" cy="209.1" rx="2.3" ry="1.8" fill="url(#go)"/><ellipse cx="633.4" cy="304.7" rx="2.7" ry="2.4" fill="url(#gc)"/><ellipse cx="637.8" cy="151.7" rx="2.7" ry="2.3" fill="url(#go)"/><ellipse cx="555.1" cy="374.4" rx="2.8" ry="2.2" fill="url(#gp)"/><ellipse cx="608.8" cy="42" rx="3.1" ry="1.9" fill="url(#go)"/><ellipse cx="559.9" cy="568.7" rx="2.8" ry="2.2" fill="url(#gb)"/><ellipse cx="635.4" cy="155.6" rx="2.9" ry="2.2" fill="url(#gc)"/><ellipse cx="652.9" cy="291.8" rx="3.1" ry="1.9" fill="url(#gc)"/><ellipse cx="577.1" cy="385.7" rx="3.1" ry="2.1" fill="url(#gb)"/><ellipse cx="637.9" cy="54.7" rx="2.8" ry="2" fill="url(#go)"/><ellipse cx="594.6" cy="196.4" rx="2.5" ry="1.7" fill="url(#go)"/><ellipse cx="568.3" cy="467.7" rx="2.6" ry="2.3" fill="url(#gp)"/><ellipse cx="600.3" cy="301.3" rx="2.9" ry="2.3" fill="url(#gc)"/><ellipse cx="596.6" cy="155.7" rx="2.3" ry="2.4" fill="url(#go)"/><ellipse cx="676.3" cy="176.9" rx="2.4" ry="1.8" fill="url(#gc)"/><ellipse cx="637.3" cy="457.8" rx="2.7" ry="2.1" fill="url(#gp)"/><ellipse cx="586.6" cy="494.7" rx="3" ry="2.3" fill="url(#gb)"/><ellipse cx="595.3" cy="51.1" rx="3.1" ry="2" fill="url(#go)"/><ellipse cx="587.1" cy="291.1" rx="2.3" ry="2" fill="url(#gc)"/><ellipse cx="602.6" cy="403.4" rx="2.3" ry="2" fill="url(#gp)"/><ellipse cx="627.6" cy="106.7" rx="2.5" ry="2" fill="url(#go)"/><ellipse cx="646.8" cy="154.3" rx="2.7" ry="2.2" fill="url(#gc)"/><ellipse cx="640.8" cy="149.9" rx="2.8" ry="2.1" fill="url(#go)"/><ellipse cx="654.5" cy="261.8" rx="2.9" ry="2.2" fill="url(#gc)"/><ellipse cx="657.6" cy="489.2" rx="2.3" ry="2.1" fill="url(#gb)"/><ellipse cx="652" cy="187.4" rx="2.4" ry="1.9" fill="url(#gc)"/><ellipse cx="556" cy="376" rx="3.2" ry="2.4" fill="url(#gp)"/><ellipse cx="640.4" cy="258.5" rx="3.2" ry="1.9" fill="url(#gc)"/><ellipse cx="589.4" cy="61.8" rx="2.9" ry="1.9" fill="url(#gc)"/><ellipse cx="652.7" cy="65.8" rx="2.8" ry="2.4" fill="url(#go)"/><ellipse cx="615.2" cy="421.5" rx="2.3" ry="2.1" fill="url(#gp)"/><ellipse cx="589.3" cy="302.1" rx="3" ry="2.2" fill="url(#gc)"/><ellipse cx="627.7" cy="49.4" rx="2.7" ry="2.2" fill="url(#gc)"/><ellipse cx="574.3" cy="283.5" rx="3" ry="2.3" fill="url(#go)"/><ellipse cx="639.8" cy="203.7" rx="3" ry="2.1" fill="url(#gc)"/><ellipse cx="618" cy="412.1" rx="3" ry="2" fill="url(#gp)"/><ellipse cx="672.6" cy="475.9" rx="2.9" ry="2.3" fill="url(#gb)"/><ellipse cx="563.2" cy="375.5" rx="2.7" ry="2.2" fill="url(#gb)"/><ellipse cx="670.5" cy="374.2" rx="2.6" ry="1.8" fill="url(#gp)"/><ellipse cx="592.2" cy="158.8" rx="2.6" ry="2.3" fill="url(#go)"/><ellipse cx="574.4" cy="367.5" rx="3.1" ry="2.2" fill="url(#gb)"/><ellipse cx="593.9" cy="600.8" rx="3.1" ry="2.3" fill="url(#gp)"/><ellipse cx="634.9" cy="247.9" rx="2.4" ry="2.1" fill="url(#go)"/><ellipse cx="641.8" cy="150.7" rx="2.6" ry="1.8" fill="url(#gc)"/><ellipse cx="651.5" cy="256.3" rx="3" ry="1.9" fill="url(#gc)"/><ellipse cx="554.6" cy="578.7" rx="2.9" ry="2.2" fill="url(#gp)"/><ellipse cx="574.9" cy="488.4" rx="2.5" ry="1.9" fill="url(#gp)"/><ellipse cx="609.6" cy="145.9" rx="2.9" ry="1.7" fill="url(#go)"/><ellipse cx="644.8" cy="102.4" rx="2.5" ry="2" fill="url(#gc)"/><ellipse cx="582.7" cy="156" rx="2.9" ry="2.1" fill="url(#gc)"/><ellipse cx="569.8" cy="370.2" rx="3.2" ry="2.1" fill="url(#gb)"/><ellipse cx="640.2" cy="195.2" rx="3.2" ry="1.8" fill="url(#go)"/><ellipse cx="569.8" cy="265.8" rx="2.5" ry="1.8" fill="url(#gc)"/><ellipse cx="676.8" cy="383.4" rx="2.6" ry="1.8" fill="url(#gb)"/><ellipse cx="584.9" cy="162.7" rx="2.4" ry="2.1" fill="url(#gc)"/><ellipse cx="591.1" cy="153.7" rx="3.1" ry="2.4" fill="url(#gc)"/><ellipse cx="646.7" cy="59.3" rx="2.9" ry="2.3" fill="url(#go)"/><ellipse cx="661.5" cy="67.1" rx="2.8" ry="2.2" fill="url(#go)"/><ellipse cx="594.6" cy="158.5" rx="2.5" ry="1.8" fill="url(#gc)"/><ellipse cx="591.5" cy="297.3" rx="3" ry="2.5" fill="url(#gc)"/><ellipse cx="679.8" cy="471.3" rx="2.5" ry="2.2" fill="url(#gb)"/><ellipse cx="627.7" cy="609.1" rx="2.6" ry="2.2" fill="url(#gp)"/><ellipse cx="615" cy="322.8" rx="2.3" ry="2.2" fill="url(#gc)"/><ellipse cx="610.5" cy="217.8" rx="2.7" ry="2" fill="url(#gc)"/><ellipse cx="617.6" cy="622.3" rx="2.7" ry="1.9" fill="url(#gp)"/><ellipse cx="574.7" cy="484.6" rx="2.8" ry="2.3" fill="url(#gp)"/><ellipse cx="587.8" cy="162" rx="3.1" ry="2.1" fill="url(#go)"/><ellipse cx="560.3" cy="373.9" rx="2.5" ry="2" fill="url(#gp)"/><ellipse cx="640.1" cy="100.5" rx="2.5" ry="2.4" fill="url(#gc)"/><ellipse cx="578.9" cy="393.1" rx="2.6" ry="2.1" fill="url(#gp)"/><ellipse cx="671.4" cy="275.7" rx="3" ry="1.7" fill="url(#go)"/><ellipse cx="560" cy="378.4" rx="3" ry="2" fill="url(#gb)"/><ellipse cx="555" cy="276.7" rx="2.3" ry="2.4" fill="url(#gc)"/><ellipse cx="636.7" cy="253.4" rx="2.9" ry="2" fill="url(#go)"/><ellipse cx="674.3" cy="175" rx="2.9" ry="2.2" fill="url(#go)"/><ellipse cx="595" cy="100.4" rx="3.4" ry="1.9" fill="url(#go)"/><ellipse cx="615.8" cy="117.7" rx="3.1" ry="1.7" fill="url(#go)"/><ellipse cx="656.5" cy="288.6" rx="2.7" ry="1.9" fill="url(#gc)"/><ellipse cx="564.9" cy="378.6" rx="2.6" ry="2.4" fill="url(#gp)"/><ellipse cx="652.9" cy="359.3" rx="2.3" ry="2.1" fill="url(#gp)"/><ellipse cx="652.6" cy="264.4" rx="3" ry="1.8" fill="url(#go)"/><ellipse cx="647" cy="199.5" rx="2.6" ry="1.9" fill="url(#go)"/><ellipse cx="657.3" cy="484.9" rx="2.9" ry="2.1" fill="url(#gb)"/><ellipse cx="560.6" cy="473.6" rx="2.4" ry="2" fill="url(#gp)"/><ellipse cx="642.8" cy="295.9" rx="2.7" ry="2.2" fill="url(#go)"/><ellipse cx="632.6" cy="401.8" rx="2.6" ry="2.1" fill="url(#gp)"/><ellipse cx="627.7" cy="110.1" rx="2.5" ry="2" fill="url(#go)"/><ellipse cx="671.6" cy="375.7" rx="2.3" ry="2.1" fill="url(#gb)"/><ellipse cx="558.1" cy="173.6" rx="2.4" ry="2" fill="url(#go)"/><ellipse cx="675.1" cy="576.3" rx="2.5" ry="2" fill="url(#gp)"/><ellipse cx="581.3" cy="262.6" rx="2.6" ry="1.9" fill="url(#go)"/><ellipse cx="587.7" cy="400" rx="2.5" ry="2" fill="url(#gp)"/><ellipse cx="587" cy="102.2" rx="2.4" ry="2" fill="url(#go)"/><ellipse cx="606.7" cy="112.4" rx="2.6" ry="2.1" fill="url(#go)"/><ellipse cx="659.6" cy="363.6" rx="3.2" ry="2.2" fill="url(#gb)"/><ellipse cx="558.3" cy="472.5" rx="3" ry="1.7" fill="url(#gp)"/><ellipse cx="616.5" cy="314.4" rx="2.7" ry="1.7" fill="url(#go)"/><ellipse cx="597.6" cy="405.7" rx="2.4" ry="2" fill="url(#gp)"/><ellipse cx="637.3" cy="105.1" rx="2.9" ry="2" fill="url(#go)"/><ellipse cx="603.8" cy="243.5" rx="3" ry="2.2" fill="url(#go)"/><ellipse cx="602.6" cy="408.6" rx="3" ry="2.1" fill="url(#gp)"/><ellipse cx="573.7" cy="467.1" rx="2.4" ry="2.4" fill="url(#gb)"/><ellipse cx="616" cy="615" rx="3.1" ry="2.1" fill="url(#gb)"/><ellipse cx="579" cy="360.1" rx="2.6" ry="2.2" fill="url(#gb)"/><ellipse cx="579.2" cy="64.8" rx="3" ry="1.8" fill="url(#gc)"/><ellipse cx="606.7" cy="211.2" rx="2.5" ry="2" fill="url(#go)"/><ellipse cx="613.9" cy="416.9" rx="2.3" ry="2.3" fill="url(#gb)"/><ellipse cx="620.1" cy="41" rx="2.9" ry="2.2" fill="url(#go)"/><ellipse cx="644.7" cy="355.8" rx="3" ry="2.1" fill="url(#gb)"/><ellipse cx="617" cy="421.4" rx="3" ry="2.2" fill="url(#gb)"/><ellipse cx="666.6" cy="183.5" rx="3" ry="1.7" fill="url(#gc)"/><ellipse cx="654.6" cy="186.2" rx="2.3" ry="2" fill="url(#go)"/><ellipse cx="633.2" cy="202.5" rx="2.5" ry="1.9" fill="url(#go)"/><ellipse cx="563.8" cy="374.6" rx="2.4" ry="2.4" fill="url(#gp)"/><ellipse cx="644.5" cy="399.6" rx="2.5" ry="1.9" fill="url(#gb)"/><ellipse cx="681" cy="378.6" rx="2.5" ry="1.8" fill="url(#gp)"/><ellipse cx="611.4" cy="622" rx="3" ry="2.1" fill="url(#gp)"/><ellipse cx="562.9" cy="379.8" rx="2.3" ry="2.1" fill="url(#gb)"/><ellipse cx="589.5" cy="192.3" rx="2.5" ry="2.4" fill="url(#go)"/><ellipse cx="642.2" cy="455.7" rx="2.7" ry="2.4" fill="url(#gp)"/><ellipse cx="668" cy="170.4" rx="2.6" ry="2.1" fill="url(#gc)"/><ellipse cx="635" cy="397.2" rx="2.8" ry="2" fill="url(#gp)"/><ellipse cx="675.3" cy="175.7" rx="3" ry="2.3" fill="url(#gc)"/><ellipse cx="564.8" cy="183.1" rx="2.7" ry="1.9" fill="url(#go)"/><ellipse cx="599.5" cy="108.3" rx="2.2" ry="1.8" fill="url(#gc)"/><ellipse cx="580.3" cy="156.3" rx="2.8" ry="2.1" fill="url(#go)"/><ellipse cx="664.6" cy="85.1" rx="2.3" ry="1.9" fill="url(#go)"/><ellipse cx="587.6" cy="391.1" rx="3" ry="2" fill="url(#gb)"/><ellipse cx="666.7" cy="373" rx="2.9" ry="2.2" fill="url(#gp)"/><ellipse cx="572.1" cy="186.9" rx="2.9" ry="2" fill="url(#gc)"/><ellipse cx="621.3" cy="34" rx="2.9" ry="1.8" fill="url(#go)"/><ellipse cx="674" cy="478.4" rx="2.7" ry="2.4" fill="url(#gb)"/><ellipse cx="666.5" cy="383" rx="2.7" ry="1.7" fill="url(#gb)"/><ellipse cx="637.9" cy="256.9" rx="2.4" ry="2.1" fill="url(#go)"/><ellipse cx="671.3" cy="380.6" rx="2.8" ry="1.8" fill="url(#gp)"/><ellipse cx="555.4" cy="167.7" rx="2.3" ry="1.8" fill="url(#go)"/><ellipse cx="633.7" cy="49.3" rx="2.2" ry="1.9" fill="url(#go)"/><ellipse cx="655.3" cy="286" rx="2.5" ry="1.8" fill="url(#go)"/><ellipse cx="613.9" cy="613.9" rx="2.5" ry="1.7" fill="url(#gb)"/><ellipse cx="560" cy="175" rx="3.2" ry="2.3" fill="url(#go)"/><ellipse cx="569.5" cy="180.9" rx="2.6" ry="2" fill="url(#go)"/><ellipse cx="563.9" cy="475.9" rx="2.7" ry="2.1" fill="url(#gb)"/><ellipse cx="668.8" cy="175.7" rx="2.9" ry="2.4" fill="url(#go)"/><ellipse cx="604.1" cy="604.1" rx="2.9" ry="1.8" fill="url(#gb)"/><ellipse cx="679.2" cy="273.1" rx="2.2" ry="2.3" fill="url(#go)"/><ellipse cx="642" cy="192.6" rx="2.8" ry="1.8" fill="url(#gc)"/><ellipse cx="620.9" cy="614.9" rx="2.7" ry="1.7" fill="url(#gb)"/><ellipse cx="616.3" cy="118.6" rx="2.4" ry="2.3" fill="url(#go)"/><ellipse cx="671.7" cy="272.7" rx="2.8" ry="2.4" fill="url(#go)"/><ellipse cx="642.4" cy="250.5" rx="2.3" ry="2.1" fill="url(#gc)"/><ellipse cx="671.8" cy="176.1" rx="2.9" ry="1.7" fill="url(#go)"/><ellipse cx="625.4" cy="211.7" rx="2.3" ry="2" fill="url(#gc)"/><ellipse cx="646.9" cy="64.8" rx="2.5" ry="1.7" fill="url(#go)"/><ellipse cx="648.7" cy="455.7" rx="3.1" ry="2.4" fill="url(#gp)"/><ellipse cx="645.8" cy="354.2" rx="2.3" ry="1.9" fill="url(#gb)"/><ellipse cx="601.8" cy="308" rx="2.9" ry="2.3" fill="url(#go)"/><ellipse cx="586.6" cy="300.2" rx="2.3" ry="1.9" fill="url(#go)"/><ellipse cx="559.1" cy="474.7" rx="2.9" ry="2.3" fill="url(#gp)"/><ellipse cx="569.7" cy="579.9" rx="2.2" ry="2.4" fill="url(#gp)"/><ellipse cx="611" cy="315" rx="3.1" ry="1.8" fill="url(#go)"/><ellipse cx="640.4" cy="95.4" rx="2.8" ry="1.9" fill="url(#go)"/><ellipse cx="641" cy="196.7" rx="3.2" ry="2.2" fill="url(#go)"/><ellipse cx="667.1" cy="177.6" rx="3" ry="2" fill="url(#gc)"/><ellipse cx="657.7" cy="90.9" rx="3.1" ry="2.4" fill="url(#gc)"/><ellipse cx="652.3" cy="160.5" rx="2.4" ry="2.3" fill="url(#go)"/><ellipse cx="621" cy="115.8" rx="3.2" ry="2" fill="url(#gc)"/><ellipse cx="571.7" cy="382.7" rx="2.2" ry="2.3" fill="url(#gb)"/><ellipse cx="603.7" cy="44.8" rx="2.4" ry="2.3" fill="url(#go)"/><ellipse cx="590.9" cy="399.5" rx="3.3" ry="2.3" fill="url(#gb)"/><ellipse cx="640.3" cy="292.7" rx="2.4" ry="1.9" fill="url(#go)"/><ellipse cx="669" cy="380.7" rx="2.4" ry="2.4" fill="url(#gp)"/><ellipse cx="624.7" cy="207.7" rx="2.6" ry="2.1" fill="url(#gc)"/><ellipse cx="651.2" cy="595.4" rx="2.3" ry="1.8" fill="url(#gp)"/><ellipse cx="587.1" cy="91.4" rx="2.8" ry="1.9" fill="url(#gc)"/><ellipse cx="652" cy="459.7" rx="2.8" ry="1.9" fill="url(#gp)"/><ellipse cx="577.1" cy="186.4" rx="2.9" ry="2.3" fill="url(#gc)"/><ellipse cx="673.3" cy="472.8" rx="2.3" ry="1.8" fill="url(#gb)"/><ellipse cx="626" cy="247.3" rx="2.3" ry="2" fill="url(#go)"/><ellipse cx="644.9" cy="54.2" rx="2.2" ry="2.4" fill="url(#go)"/><ellipse cx="637.6" cy="401.1" rx="3.2" ry="2.3" fill="url(#gp)"/><ellipse cx="679.9" cy="373.8" rx="2.5" ry="1.9" fill="url(#gp)"/><ellipse cx="634.6" cy="204.6" rx="2.5" ry="2" fill="url(#gc)"/><ellipse cx="651.4" cy="96.5" rx="2.7" ry="2.3" fill="url(#go)"/><ellipse cx="628.6" cy="245.7" rx="2.8" ry="2.1" fill="url(#go)"/><ellipse cx="643.9" cy="494.9" rx="2.9" ry="1.9" fill="url(#gb)"/><ellipse cx="557.1" cy="274.5" rx="2.6" ry="1.8" fill="url(#go)"/><ellipse cx="670.1" cy="179.3" rx="2.9" ry="2.4" fill="url(#gc)"/><ellipse cx="575.6" cy="388.9" rx="2.5" ry="1.9" fill="url(#gp)"/><ellipse cx="638.6" cy="200.2" rx="2.9" ry="2.3" fill="url(#go)"/><ellipse cx="620.1" cy="415.4" rx="2.8" ry="2.1" fill="url(#gb)"/><ellipse cx="632.2" cy="107.8" rx="2.7" ry="1.7" fill="url(#go)"/><ellipse cx="635.2" cy="596.1" rx="2.8" ry="2.1" fill="url(#gp)"/><ellipse cx="666.9" cy="378.5" rx="2.2" ry="2.2" fill="url(#gb)"/><ellipse cx="587.1" cy="352.2" rx="2.3" ry="1.8" fill="url(#gb)"/><ellipse cx="675.4" cy="474.1" rx="2.8" ry="1.7" fill="url(#gp)"/><ellipse cx="558.5" cy="386.7" rx="2.5" ry="1.7" fill="url(#gb)"/><ellipse cx="603" cy="607.9" rx="2.7" ry="1.8" fill="url(#gp)"/><ellipse cx="672.1" cy="479.2" rx="2.2" ry="2" fill="url(#gp)"/><ellipse cx="621.4" cy="413.9" rx="2.5" ry="2.2" fill="url(#gp)"/><ellipse cx="625.4" cy="49.1" rx="3" ry="2.4" fill="url(#go)"/><ellipse cx="614.6" cy="218" rx="2.6" ry="1.8" fill="url(#go)"/><ellipse cx="641.4" cy="397.2" rx="2.5" ry="1.8" fill="url(#gp)"/><ellipse cx="567.4" cy="172.9" rx="2.3" ry="2.3" fill="url(#go)"/><ellipse cx="629.6" cy="402.9" rx="2.9" ry="2.3" fill="url(#gb)"/><ellipse cx="624.7" cy="147.3" rx="2.8" ry="2.2" fill="url(#go)"/><ellipse cx="665.8" cy="169" rx="2.9" ry="2.2" fill="url(#go)"/><ellipse cx="630.5" cy="150.6" rx="2.4" ry="1.9" fill="url(#go)"/><ellipse cx="666.9" cy="467.9" rx="2.7" ry="1.7" fill="url(#gp)"/><ellipse cx="619.7" cy="38.1" rx="2.8" ry="1.8" fill="url(#gc)"/><ellipse cx="552.1" cy="175.8" rx="2.9" ry="2" fill="url(#gc)"/><ellipse cx="674.2" cy="474.7" rx="2.5" ry="2.3" fill="url(#gp)"/><ellipse cx="602.6" cy="47.3" rx="2.4" ry="2.2" fill="url(#gc)"/><ellipse cx="632.7" cy="246.5" rx="2.7" ry="2.1" fill="url(#gc)"/><ellipse cx="639.9" cy="104.8" rx="3" ry="2.2" fill="url(#gc)"/><ellipse cx="642.4" cy="103.1" rx="2.7" ry="2.2" fill="url(#go)"/><ellipse cx="627.6" cy="411" rx="2.7" ry="1.8" fill="url(#gp)"/><ellipse cx="673.7" cy="272" rx="3.2" ry="2.4" fill="url(#go)"/><ellipse cx="661.8" cy="269.3" rx="2.4" ry="2.3" fill="url(#go)"/><ellipse cx="609" cy="245.9" rx="2.9" ry="2" fill="url(#go)"/><ellipse cx="642" cy="52.3" rx="2.5" ry="2.1" fill="url(#gc)"/><ellipse cx="577.4" cy="485.2" rx="2.2" ry="1.8" fill="url(#gb)"/><ellipse cx="625.6" cy="306.6" rx="3.2" ry="2.3" fill="url(#gc)"/><ellipse cx="672.7" cy="371.2" rx="2.8" ry="2.3" fill="url(#gp)"/><ellipse cx="647.6" cy="99.2" rx="3.1" ry="2.1" fill="url(#go)"/><ellipse cx="662.1" cy="386" rx="2.4" ry="1.8" fill="url(#gb)"/><ellipse cx="593.2" cy="99.4" rx="3.2" ry="2.4" fill="url(#gc)"/><ellipse cx="604.1" cy="404.7" rx="3.1" ry="2.1" fill="url(#gb)"/><ellipse cx="615.4" cy="320.5" rx="2.6" ry="2.2" fill="url(#go)"/><ellipse cx="557.5" cy="174.2" rx="2.5" ry="2.1" fill="url(#go)"/><ellipse cx="593.2" cy="400" rx="2.8" ry="2.4" fill="url(#gp)"/><ellipse cx="583.8" cy="394.5" rx="2.6" ry="2.1" fill="url(#gp)"/><ellipse cx="576.5" cy="92" rx="3" ry="2.2" fill="url(#gc)"/><ellipse cx="646.7" cy="399.7" rx="2.7" ry="2.3" fill="url(#gp)"/><ellipse cx="590.3" cy="57.1" rx="2.6" ry="2.1" fill="url(#go)"/><ellipse cx="569.7" cy="469.4" rx="2.4" ry="2.1" fill="url(#gb)"/><ellipse cx="632.3" cy="206" rx="3" ry="1.9" fill="url(#go)"/><ellipse cx="617" cy="414.6" rx="2.9" ry="2.2" fill="url(#gp)"/><ellipse cx="554.6" cy="478" rx="2.3" ry="1.7" fill="url(#gb)"/><ellipse cx="675.3" cy="174.4" rx="3" ry="1.8" fill="url(#go)"/><ellipse cx="587.4" cy="52.7" rx="2.9" ry="1.8" fill="url(#gc)"/><ellipse cx="601.7" cy="249.4" rx="2.8" ry="1.9" fill="url(#gc)"/><ellipse cx="570.1" cy="279.9" rx="2.3" ry="2.1" fill="url(#go)"/><ellipse cx="572.3" cy="463.5" rx="2.5" ry="2.1" fill="url(#gp)"/><ellipse cx="645" cy="62.2" rx="2.5" ry="1.9" fill="url(#gc)"/><ellipse cx="586.4" cy="261.5" rx="2.9" ry="2" fill="url(#go)"/><ellipse cx="594.3" cy="603" rx="2.8" ry="2" fill="url(#gb)"/><ellipse cx="587.1" cy="396.5" rx="3.3" ry="1.8" fill="url(#gb)"/><ellipse cx="664.3" cy="567.3" rx="2.6" ry="2.1" fill="url(#gb)"/><ellipse cx="555.9" cy="179.1" rx="2.2" ry="1.9" fill="url(#gc)"/><ellipse cx="601.5" cy="104.6" rx="2.8" ry="2.4" fill="url(#go)"/><ellipse cx="670.2" cy="278.9" rx="2.4" ry="1.9" fill="url(#gc)"/><ellipse cx="551.4" cy="281.2" rx="2.8" ry="1.9" fill="url(#gc)"/><ellipse cx="561.9" cy="278.7" rx="2.6" ry="2" fill="url(#go)"/><ellipse cx="589.3" cy="251.4" rx="2.2" ry="2.2" fill="url(#go)"/><ellipse cx="581.4" cy="487.9" rx="2.5" ry="1.7" fill="url(#gb)"/><ellipse cx="668" cy="280.8" rx="2.5" ry="2.1" fill="url(#go)"/><ellipse cx="678.8" cy="378.5" rx="3" ry="2.1" fill="url(#gb)"/><ellipse cx="634.3" cy="101.4" rx="2.2" ry="2.2" fill="url(#gc)"/><ellipse cx="590.3" cy="450.3" rx="2.3" ry="2" fill="url(#gp)"/><ellipse cx="614.8" cy="119.1" rx="2.4" ry="2.2" fill="url(#go)"/><ellipse cx="585.1" cy="258" rx="3" ry="2.4" fill="url(#go)"/><ellipse cx="584.8" cy="388.2" rx="3.2" ry="2.1" fill="url(#gp)"/><ellipse cx="636.5" cy="297.3" rx="2.3" ry="2.2" fill="url(#go)"/><ellipse cx="668.7" cy="375.4" rx="2.8" ry="2" fill="url(#gb)"/><ellipse cx="579.9" cy="292.2" rx="2.3" ry="2.4" fill="url(#go)"/><ellipse cx="564.8" cy="178.1" rx="2.3" ry="1.7" fill="url(#go)"/><ellipse cx="606.7" cy="142.1" rx="2.8" ry="2" fill="url(#gc)"/><ellipse cx="569.6" cy="165.4" rx="2.9" ry="1.9" fill="url(#gc)"/><ellipse cx="553.6" cy="179.2" rx="2.7" ry="1.9" fill="url(#gc)"/><ellipse cx="663.9" cy="172.7" rx="2.8" ry="1.7" fill="url(#gc)"/><ellipse cx="612.8" cy="418.2" rx="2.4" ry="2.3" fill="url(#gp)"/><ellipse cx="597.2" cy="305.3" rx="2.5" ry="2.2" fill="url(#go)"/><ellipse cx="595.9" cy="403.6" rx="2.2" ry="2.4" fill="url(#gb)"/><ellipse cx="678.8" cy="377.8" rx="2.7" ry="2.3" fill="url(#gb)"/><ellipse cx="654" cy="390.4" rx="2.6" ry="2.3" fill="url(#gp)"/><ellipse cx="642.9" cy="57.8" rx="2.9" ry="1.8" fill="url(#go)"/><ellipse cx="669.5" cy="269.5" rx="2.5" ry="2.3" fill="url(#gc)"/><ellipse cx="644.2" cy="300" rx="2.9" ry="1.7" fill="url(#gc)"/><ellipse cx="646.3" cy="392.8" rx="2.8" ry="2.1" fill="url(#gp)"/><ellipse cx="622.7" cy="241.8" rx="2.7" ry="2.1" fill="url(#gc)"/><ellipse cx="609" cy="313.3" rx="3.1" ry="2.2" fill="url(#gc)"/><ellipse cx="645.2" cy="252.5" rx="3.2" ry="1.8" fill="url(#go)"/><ellipse cx="596.9" cy="400.8" rx="3.1" ry="2" fill="url(#gp)"/><ellipse cx="663.8" cy="471.7" rx="3" ry="2" fill="url(#gb)"/><ellipse cx="623.1" cy="246.3" rx="2.7" ry="2.2" fill="url(#gc)"/><ellipse cx="622.6" cy="43.2" rx="3.2" ry="2" fill="url(#gc)"/><ellipse cx="642.3" cy="161.2" rx="3.1" ry="2" fill="url(#go)"/><ellipse cx="589.6" cy="198.2" rx="3" ry="1.9" fill="url(#go)"/><ellipse cx="616.7" cy="620.8" rx="2.4" ry="2.3" fill="url(#gp)"/><ellipse cx="635.1" cy="252.4" rx="2.7" ry="2.3" fill="url(#go)"/><ellipse cx="677" cy="171.7" rx="2.4" ry="1.9" fill="url(#gc)"/><ellipse cx="666.8" cy="273.9" rx="2.4" ry="2.3" fill="url(#go)"/><ellipse cx="582.6" cy="98.5" rx="2.4" ry="2.1" fill="url(#go)"/><ellipse cx="560.1" cy="182.1" rx="2.4" ry="2.3" fill="url(#go)"/><ellipse cx="579.2" cy="487.5" rx="3.1" ry="2" fill="url(#gp)"/><ellipse cx="599.2" cy="152.5" rx="2.8" ry="2.2" fill="url(#go)"/><ellipse cx="619.7" cy="621.2" rx="2.6" ry="2.3" fill="url(#gp)"/><ellipse cx="620.1" cy="320.9" rx="3.2" ry="1.8" fill="url(#go)"/><ellipse cx="639.9" cy="358.8" rx="2.4" ry="2.3" fill="url(#gb)"/><ellipse cx="642.3" cy="256.6" rx="2.9" ry="2.4" fill="url(#go)"/><ellipse cx="560.1" cy="182.7" rx="2.3" ry="2.1" fill="url(#go)"/><ellipse cx="620.1" cy="244.1" rx="2.9" ry="1.9" fill="url(#go)"/><ellipse cx="582.6" cy="196.6" rx="2.4" ry="2" fill="url(#go)"/><ellipse cx="562.6" cy="280.4" rx="2.9" ry="2" fill="url(#gc)"/><ellipse cx="623.3" cy="612.5" rx="2.3" ry="2.2" fill="url(#gp)"/><ellipse cx="611.4" cy="111.4" rx="3.1" ry="1.9" fill="url(#go)"/><ellipse cx="574.3" cy="463.2" rx="2.8" ry="1.9" fill="url(#gb)"/><ellipse cx="636" cy="149.6" rx="2.2" ry="2.1" fill="url(#gc)"/><ellipse cx="569.6" cy="67.2" rx="3" ry="2.3" fill="url(#gc)"/><ellipse cx="611.4" cy="245.1" rx="2.7" ry="2.3" fill="url(#gc)"/><ellipse cx="644.9" cy="390.1" rx="2.6" ry="2.4" fill="url(#gp)"/><ellipse cx="618.5" cy="611.8" rx="2.2" ry="2.1" fill="url(#gp)"/><ellipse cx="618.8" cy="116.9" rx="3.2" ry="2.1" fill="url(#gc)"/><ellipse cx="562.6" cy="474.5" rx="2.4" ry="2" fill="url(#gp)"/><ellipse cx="572.5" cy="282" rx="3.2" ry="2.3" fill="url(#gc)"/><ellipse cx="563.3" cy="574.4" rx="2.9" ry="2" fill="url(#gp)"/><ellipse cx="618.3" cy="311.5" rx="2.5" ry="2" fill="url(#go)"/><ellipse cx="558.7" cy="572.9" rx="2.8" ry="2.1" fill="url(#gp)"/><ellipse cx="556.1" cy="573.4" rx="2.6" ry="2" fill="url(#gp)"/><ellipse cx="592.3" cy="394.1" rx="3.1" ry="1.8" fill="url(#gb)"/><ellipse cx="660.1" cy="268.6" rx="2.4" ry="2.1" fill="url(#gc)"/><ellipse cx="648.6" cy="155.7" rx="3.1" ry="2.4" fill="url(#go)"/><ellipse cx="652.1" cy="196.2" rx="3" ry="2.3" fill="url(#go)"/><ellipse cx="620.7" cy="411" rx="2.3" ry="2.3" fill="url(#gb)"/><ellipse cx="584" cy="262.9" rx="2.9" ry="1.8" fill="url(#gc)"/><ellipse cx="597.6" cy="54.6" rx="2.6" ry="2" fill="url(#gc)"/><ellipse cx="582.9" cy="160.6" rx="3.4" ry="1.9" fill="url(#gc)"/><ellipse cx="629.8" cy="250.5" rx="2.9" ry="2.2" fill="url(#go)"/><ellipse cx="647.9" cy="95.4" rx="2.7" ry="1.8" fill="url(#go)"/><ellipse cx="572.3" cy="182.3" rx="2.7" ry="2.1" fill="url(#gc)"/><ellipse cx="654.6" cy="289.9" rx="2.3" ry="2.3" fill="url(#go)"/><ellipse cx="556.8" cy="371.7" rx="3.2" ry="2.2" fill="url(#gp)"/><ellipse cx="591.5" cy="249.8" rx="2.6" ry="1.9" fill="url(#gc)"/><ellipse cx="634.8" cy="199.8" rx="3.1" ry="2.1" fill="url(#gc)"/><ellipse cx="651" cy="189.6" rx="3" ry="1.8" fill="url(#go)"/><ellipse cx="640.3" cy="60.5" rx="2.7" ry="1.8" fill="url(#gc)"/><ellipse cx="661.7" cy="185.4" rx="2.8" ry="1.8" fill="url(#gc)"/><ellipse cx="594.7" cy="105" rx="2.3" ry="2" fill="url(#gc)"/><ellipse cx="597" cy="101.1" rx="2.5" ry="2.2" fill="url(#go)"/><ellipse cx="580.8" cy="463.1" rx="2.9" ry="2.4" fill="url(#gp)"/><ellipse cx="624.7" cy="242.9" rx="2.5" ry="2.1" fill="url(#go)"/><ellipse cx="648.4" cy="158.6" rx="2.6" ry="2.1" fill="url(#go)"/><ellipse cx="577.4" cy="62.8" rx="2.3" ry="2.2" fill="url(#go)"/><ellipse cx="572.5" cy="66.2" rx="2.5" ry="1.9" fill="url(#go)"/><ellipse cx="652.7" cy="491.2" rx="3.2" ry="2.3" fill="url(#gb)"/><ellipse cx="620.9" cy="313.8" rx="3" ry="1.9" fill="url(#gc)"/><ellipse cx="625.4" cy="411.8" rx="3" ry="2" fill="url(#gb)"/><ellipse cx="660.1" cy="264.1" rx="2.4" ry="2" fill="url(#gc)"/><ellipse cx="623.2" cy="145.3" rx="2.9" ry="2.4" fill="url(#gc)"/><ellipse cx="620.9" cy="219.8" rx="2.4" ry="2" fill="url(#gc)"/><ellipse cx="594.1" cy="295.6" rx="2.7" ry="2.2" fill="url(#go)"/><ellipse cx="580.2" cy="93" rx="3" ry="2.4" fill="url(#go)"/><ellipse cx="565.7" cy="273.1" rx="2.3" ry="2.2" fill="url(#gc)"/><ellipse cx="622.9" cy="613.1" rx="2.7" ry="1.9" fill="url(#gp)"/><ellipse cx="562.5" cy="176.9" rx="2.7" ry="1.9" fill="url(#gc)"/><ellipse cx="597.3" cy="252.3" rx="3.2" ry="2.1" fill="url(#gc)"/><ellipse cx="606.9" cy="310.9" rx="3" ry="2.4" fill="url(#go)"/><ellipse cx="567.9" cy="184.5" rx="2.9" ry="1.8" fill="url(#gc)"/><ellipse cx="552.6" cy="274.4" rx="2.9" ry="2.2" fill="url(#go)"/><ellipse cx="619.3" cy="419.5" rx="3.1" ry="2.3" fill="url(#gb)"/><ellipse cx="589" cy="392.4" rx="2.9" ry="2.2" fill="url(#gp)"/><ellipse cx="579.1" cy="263.4" rx="2.2" ry="1.9" fill="url(#gc)"/><ellipse cx="672" cy="576" rx="2.4" ry="1.7" fill="url(#gp)"/><ellipse cx="635" cy="98.4" rx="2.4" ry="1.9" fill="url(#go)"/><ellipse cx="675.9" cy="475.7" rx="3.1" ry="2.1" fill="url(#gb)"/><ellipse cx="579.4" cy="159.5" rx="2.6" ry="2.2" fill="url(#gc)"/><ellipse cx="579.7" cy="191.9" rx="3" ry="1.8" fill="url(#go)"/><ellipse cx="671.9" cy="174.5" rx="2.4" ry="2" fill="url(#gc)"/><ellipse cx="551.2" cy="273" rx="2.8" ry="1.8" fill="url(#gc)"/><ellipse cx="563.5" cy="181" rx="2.4" ry="2.1" fill="url(#gc)"/><ellipse cx="614.4" cy="119.5" rx="2.8" ry="2.1" fill="url(#gc)"/><ellipse cx="671.4" cy="177.1" rx="3" ry="2.3" fill="url(#go)"/><ellipse cx="642.8" cy="292" rx="3" ry="2.1" fill="url(#gc)"/><ellipse cx="658.8" cy="482.3" rx="2.8" ry="1.9" fill="url(#gp)"/><ellipse cx="629.9" cy="308.4" rx="2.8" ry="2.2" fill="url(#gc)"/><ellipse cx="586.8" cy="356.1" rx="3" ry="2.1" fill="url(#gb)"/><ellipse cx="592" cy="402.7" rx="2.4" ry="1.9" fill="url(#gp)"/><ellipse cx="616.7" cy="318.4" rx="2.2" ry="1.9" fill="url(#gc)"/><ellipse cx="599.7" cy="103.7" rx="2.9" ry="2" fill="url(#gc)"/><ellipse cx="652.7" cy="487.6" rx="2.8" ry="1.9" fill="url(#gb)"/><ellipse cx="582.8" cy="60.5" rx="3.1" ry="2.4" fill="url(#gc)"/><ellipse cx="679.5" cy="272.5" rx="2.8" ry="2.1" fill="url(#go)"/><ellipse cx="593.5" cy="256.9" rx="2.5" ry="2.1" fill="url(#gc)"/><ellipse cx="589.1" cy="160.1" rx="3.1" ry="2.1" fill="url(#gc)"/><ellipse cx="644.9" cy="96.8" rx="3.4" ry="1.8" fill="url(#gc)"/><ellipse cx="614" cy="112.8" rx="2.6" ry="2.3" fill="url(#gc)"/><ellipse cx="552.6" cy="175.1" rx="2.5" ry="2.2" fill="url(#go)"/><ellipse cx="567.5" cy="384.4" rx="3.1" ry="2" fill="url(#gb)"/><ellipse cx="614" cy="618.8" rx="2.2" ry="2.4" fill="url(#gb)"/><ellipse cx="676.4" cy="575.1" rx="2.6" ry="2" fill="url(#gb)"/><ellipse cx="621.1" cy="238.6" rx="2.5" ry="2.4" fill="url(#gc)"/><ellipse cx="583" cy="597.1" rx="3.2" ry="2.1" fill="url(#gp)"/><ellipse cx="655.1" cy="465" rx="3.2" ry="2.4" fill="url(#gb)"/><ellipse cx="669.2" cy="574.6" rx="2.4" ry="1.8" fill="url(#gb)"/><ellipse cx="671.3" cy="171.8" rx="2.2" ry="2.1" fill="url(#go)"/><ellipse cx="560" cy="477.7" rx="3" ry="1.9" fill="url(#gp)"/><ellipse cx="653.1" cy="93.4" rx="2.9" ry="2" fill="url(#gc)"/><ellipse cx="597.6" cy="105.3" rx="2.9" ry="1.9" fill="url(#go)"/><ellipse cx="674" cy="477.4" rx="2.4" ry="2.2" fill="url(#gp)"/><ellipse cx="607" cy="148.3" rx="2.5" ry="1.7" fill="url(#gc)"/><ellipse cx="579.6" cy="492" rx="2.8" ry="1.8" fill="url(#gp)"/><ellipse cx="609.1" cy="114.6" rx="3.1" ry="2" fill="url(#gc)"/><ellipse cx="560.7" cy="171.4" rx="2.8" ry="2" fill="url(#gc)"/><ellipse cx="680.5" cy="176.5" rx="2.9" ry="2.2" fill="url(#gc)"/><ellipse cx="560.3" cy="274.9" rx="2.3" ry="2.2" fill="url(#go)"/><ellipse cx="590.1" cy="295.5" rx="2.6" ry="2" fill="url(#go)"/><ellipse cx="566.8" cy="279.1" rx="3" ry="2.3" fill="url(#gc)"/><ellipse cx="565.5" cy="276.7" rx="2.7" ry="1.8" fill="url(#go)"/><ellipse cx="583.5" cy="56.6" rx="3.2" ry="2.2" fill="url(#gc)"/><ellipse cx="587.3" cy="153.2" rx="2.9" ry="2" fill="url(#gc)"/><ellipse cx="581.5" cy="591.6" rx="2.9" ry="1.9" fill="url(#gb)"/><ellipse cx="591.4" cy="199" rx="3.2" ry="2" fill="url(#gc)"/><ellipse cx="631.6" cy="600.6" rx="3.1" ry="1.9" fill="url(#gp)"/><ellipse cx="568.1" cy="565.9" rx="2.6" ry="2.2" fill="url(#gp)"/><ellipse cx="561.4" cy="373.2" rx="2.6" ry="1.8" fill="url(#gb)"/><ellipse cx="657.1" cy="188.6" rx="2.5" ry="2" fill="url(#gc)"/><ellipse cx="590.9" cy="303.3" rx="2.5" ry="1.9" fill="url(#go)"/><ellipse cx="673.8" cy="272.2" rx="2.4" ry="1.7" fill="url(#gc)"/><ellipse cx="593.3" cy="498.2" rx="2.5" ry="2.3" fill="url(#gb)"/><ellipse cx="671.1" cy="176.4" rx="2.8" ry="2.2" fill="url(#go)"/><ellipse cx="640.6" cy="403.9" rx="3.1" ry="2.3" fill="url(#gb)"/><ellipse cx="563.1" cy="370.5" rx="2.3" ry="2.1" fill="url(#gp)"/><ellipse cx="587.3" cy="62.9" rx="2.4" ry="2.1" fill="url(#go)"/><ellipse cx="656.8" cy="283.7" rx="2.4" ry="1.9" fill="url(#gc)"/><ellipse cx="604" cy="210.7" rx="3" ry="2" fill="url(#gc)"/><ellipse cx="648.4" cy="258.1" rx="2.8" ry="2" fill="url(#go)"/><ellipse cx="591.8" cy="56.7" rx="2.6" ry="1.8" fill="url(#gc)"/><ellipse cx="655.2" cy="490.4" rx="3" ry="2.1" fill="url(#gp)"/><ellipse cx="657.7" cy="167.4" rx="2.8" ry="2.4" fill="url(#go)"/><ellipse cx="639.9" cy="602.6" rx="3.2" ry="1.7" fill="url(#gb)"/><ellipse cx="604.6" cy="149" rx="2.7" ry="2.2" fill="url(#go)"/><ellipse cx="639.1" cy="249.9" rx="3.1" ry="2.2" fill="url(#go)"/><ellipse cx="591.6" cy="50.7" rx="2.6" ry="1.9" fill="url(#gc)"/><ellipse cx="585.6" cy="293.3" rx="2.7" ry="2.4" fill="url(#go)"/><ellipse cx="575.2" cy="89.4" rx="3" ry="2.2" fill="url(#go)"/><ellipse cx="554.6" cy="273.8" rx="3" ry="2" fill="url(#go)"/><ellipse cx="650.7" cy="163.7" rx="3.1" ry="2.1" fill="url(#gc)"/><ellipse cx="675.9" cy="468.9" rx="2.4" ry="2.2" fill="url(#gp)"/><ellipse cx="570.2" cy="386.7" rx="2.4" ry="2.3" fill="url(#gp)"/><ellipse cx="602.5" cy="50.6" rx="2.2" ry="2" fill="url(#gc)"/><ellipse cx="574.5" cy="183.9" rx="2.6" ry="1.8" fill="url(#go)"/><ellipse cx="646.6" cy="164.2" rx="2.3" ry="2.3" fill="url(#go)"/><ellipse cx="580.5" cy="64.1" rx="3.1" ry="1.8" fill="url(#go)"/><ellipse cx="631.6" cy="103.5" rx="2.3" ry="2.1" fill="url(#go)"/><ellipse cx="609.8" cy="607.8" rx="3" ry="2.1" fill="url(#gb)"/><ellipse cx="637.9" cy="58.5" rx="2.7" ry="2" fill="url(#go)"/><ellipse cx="617.5" cy="117.3" rx="2.6" ry="2.1" fill="url(#gc)"/><ellipse cx="659.4" cy="465" rx="2.6" ry="2.2" fill="url(#gb)"/><ellipse cx="596" cy="297.5" rx="2.5" ry="2.1" fill="url(#gc)"/><ellipse cx="675.3" cy="179.8" rx="2.8" ry="2.1" fill="url(#go)"/><ellipse cx="574.5" cy="262.4" rx="2.8" ry="1.8" fill="url(#gc)"/><ellipse cx="572.2" cy="486.2" rx="3" ry="2.3" fill="url(#gb)"/><ellipse cx="676.5" cy="372.9" rx="2.8" ry="2.2" fill="url(#gp)"/><ellipse cx="617.2" cy="622" rx="2.6" ry="1.8" fill="url(#gb)"/><ellipse cx="591.1" cy="60.4" rx="2.4" ry="2" fill="url(#go)"/><ellipse cx="646.3" cy="89.9" rx="2.8" ry="2.1" fill="url(#gc)"/><ellipse cx="677.8" cy="173.3" rx="2.7" ry="2.2" fill="url(#gc)"/><ellipse cx="616" cy="316.1" rx="2.9" ry="2.4" fill="url(#gc)"/><ellipse cx="591.4" cy="150.1" rx="3.1" ry="2" fill="url(#gc)"/><ellipse cx="568.7" cy="85.2" rx="3.2" ry="2.4" fill="url(#gc)"/><ellipse cx="560.4" cy="179.3" rx="2.8" ry="2.3" fill="url(#gc)"/><ellipse cx="640.6" cy="399.6" rx="2.5" ry="2.5" fill="url(#gb)"/><ellipse cx="639.7" cy="302.6" rx="3" ry="2.3" fill="url(#gc)"/><ellipse cx="616.6" cy="318.7" rx="2.6" ry="1.9" fill="url(#gc)"/><ellipse cx="556.9" cy="377.2" rx="2.9" ry="2" fill="url(#gb)"/><ellipse cx="570.7" cy="82.2" rx="2.5" ry="2.2" fill="url(#go)"/><ellipse cx="671.1" cy="374.6" rx="2.7" ry="1.7" fill="url(#gb)"/><ellipse cx="630.1" cy="145.4" rx="2.9" ry="1.9" fill="url(#go)"/><ellipse cx="635.7" cy="58" rx="2.6" ry="2.3" fill="url(#gc)"/><ellipse cx="670.6" cy="274" rx="3.2" ry="2" fill="url(#gc)"/><ellipse cx="585.3" cy="398.4" rx="2.8" ry="2.3" fill="url(#gb)"/><ellipse cx="669.7" cy="476.4" rx="3" ry="2.2" fill="url(#gp)"/><ellipse cx="588.1" cy="500.3" rx="2.6" ry="2.2" fill="url(#gp)"/><ellipse cx="577.3" cy="466.2" rx="2.2" ry="2.3" fill="url(#gp)"/><ellipse cx="643.3" cy="259.8" rx="2.3" ry="1.8" fill="url(#go)"/><ellipse cx="649.5" cy="354.9" rx="3.2" ry="1.9" fill="url(#gp)"/><ellipse cx="580.8" cy="90.5" rx="2.7" ry="2.1" fill="url(#gc)"/><ellipse cx="572.8" cy="481.9" rx="3.2" ry="2.2" fill="url(#gb)"/><ellipse cx="664.5" cy="479.6" rx="2.4" ry="2" fill="url(#gp)"/><ellipse cx="570.2" cy="70.6" rx="2.3" ry="1.8" fill="url(#gc)"/><ellipse cx="551.2" cy="472.1" rx="2.7" ry="1.8" fill="url(#gp)"/><ellipse cx="610.7" cy="409.8" rx="3.2" ry="1.7" fill="url(#gp)"/><ellipse cx="670.5" cy="175.2" rx="2.7" ry="2.3" fill="url(#go)"/><ellipse cx="636.8" cy="302.2" rx="2.4" ry="2.1" fill="url(#go)"/><ellipse cx="607" cy="242.3" rx="2.2" ry="2.4" fill="url(#gc)"/><ellipse cx="632.3" cy="47.6" rx="2.6" ry="2.3" fill="url(#gc)"/><ellipse cx="608.5" cy="41.8" rx="2.4" ry="1.9" fill="url(#gc)"/><ellipse cx="585.5" cy="189.8" rx="2.4" ry="2.1" fill="url(#go)"/><ellipse cx="580" cy="456.6" rx="2.8" ry="2.3" fill="url(#gp)"/><ellipse cx="566.2" cy="169.3" rx="2.3" ry="2" fill="url(#gc)"/><ellipse cx="651.6" cy="156.8" rx="2.3" ry="1.9" fill="url(#gc)"/><ellipse cx="622.6" cy="109.8" rx="3" ry="2.2" fill="url(#go)"/><ellipse cx="576.4" cy="86.6" rx="3" ry="2.1" fill="url(#gc)"/><ellipse cx="593.5" cy="594.9" rx="2.8" ry="2" fill="url(#gp)"/><ellipse cx="576.5" cy="490.7" rx="2.8" ry="1.9" fill="url(#gb)"/><ellipse cx="650.4" cy="90.4" rx="3" ry="1.9" fill="url(#go)"/><ellipse cx="629.9" cy="603" rx="2.4" ry="2.1" fill="url(#gb)"/><ellipse cx="588.7" cy="155.1" rx="2.6" ry="2.3" fill="url(#go)"/><ellipse cx="585.1" cy="253" rx="2.5" ry="2.3" fill="url(#go)"/><ellipse cx="661.9" cy="82.1" rx="2.2" ry="1.8" fill="url(#gc)"/><ellipse cx="565.2" cy="174.5" rx="3" ry="1.8" fill="url(#gc)"/><ellipse cx="588.9" cy="498.1" rx="3.3" ry="2.2" fill="url(#gp)"/><ellipse cx="636.2" cy="50.2" rx="3.2" ry="1.9" fill="url(#gc)"/><ellipse cx="561.3" cy="471.4" rx="2.4" ry="2.4" fill="url(#gb)"/><ellipse cx="589.3" cy="51.8" rx="2.4" ry="1.8" fill="url(#go)"/><ellipse cx="597.9" cy="605.4" rx="2.5" ry="2.3" fill="url(#gp)"/><ellipse cx="627.3" cy="204.7" rx="2.2" ry="1.9" fill="url(#go)"/><ellipse cx="631.8" cy="302" rx="2.7" ry="1.8" fill="url(#go)"/><ellipse cx="650.1" cy="293" rx="2.4" ry="2.2" fill="url(#gc)"/><ellipse cx="560.2" cy="274.3" rx="2.9" ry="2.2" fill="url(#go)"/><ellipse cx="579.3" cy="387.9" rx="2.6" ry="2.4" fill="url(#gp)"/><ellipse cx="573.9" cy="267.1" rx="2.3" ry="2.2" fill="url(#gc)"/><ellipse cx="599.2" cy="52.9" rx="2.8" ry="1.9" fill="url(#go)"/><ellipse cx="595.1" cy="395.6" rx="2.6" ry="2" fill="url(#gp)"/><ellipse cx="642.3" cy="94.1" rx="3" ry="2.1" fill="url(#gc)"/><ellipse cx="664.6" cy="484" rx="2.7" ry="2.1" fill="url(#gp)"/><ellipse cx="650.1" cy="488.7" rx="2.8" ry="2.1" fill="url(#gp)"/><ellipse cx="664.1" cy="167.7" rx="2.5" ry="2.3" fill="url(#gc)"/><ellipse cx="557.3" cy="175" rx="2.4" ry="2.2" fill="url(#gc)"/><ellipse cx="577.1" cy="161.4" rx="2.4" ry="2.4" fill="url(#go)"/><ellipse cx="651.9" cy="396.1" rx="2.4" ry="1.7" fill="url(#gp)"/><ellipse cx="676.1" cy="281.8" rx="2.7" ry="1.7" fill="url(#gc)"/><ellipse cx="625.5" cy="610.8" rx="2.6" ry="2.1" fill="url(#gb)"/><ellipse cx="672.8" cy="472.7" rx="2.9" ry="1.9" fill="url(#gp)"/><ellipse cx="673.2" cy="173.4" rx="2.5" ry="2.3" fill="url(#gc)"/><ellipse cx="585.8" cy="154.5" rx="3.2" ry="1.8" fill="url(#go)"/><ellipse cx="614.1" cy="311.7" rx="2.7" ry="1.9" fill="url(#gc)"/><ellipse cx="588.9" cy="460.2" rx="2.9" ry="2" fill="url(#gb)"/><ellipse cx="648.2" cy="289.1" rx="2.4" ry="2.2" fill="url(#gc)"/><ellipse cx="591.7" cy="259.4" rx="2.3" ry="2.1" fill="url(#go)"/><ellipse cx="584.5" cy="363" rx="2.9" ry="2.1" fill="url(#gb)"/><ellipse cx="662.3" cy="480.7" rx="2.5" ry="1.8" fill="url(#gb)"/><ellipse cx="626.4" cy="244.2" rx="2.4" ry="2.3" fill="url(#gc)"/><ellipse cx="589.4" cy="602.1" rx="3" ry="2.2" fill="url(#gb)"/><ellipse cx="567.8" cy="484" rx="2.3" ry="1.8" fill="url(#gb)"/><ellipse cx="623" cy="308" rx="2.8" ry="2.3" fill="url(#go)"/><ellipse cx="640.2" cy="593" rx="2.9" ry="1.8" fill="url(#gp)"/><ellipse cx="646.1" cy="196.6" rx="2.4" ry="2" fill="url(#gc)"/><ellipse cx="660.7" cy="169.1" rx="2.3" ry="1.7" fill="url(#gc)"/><ellipse cx="646.9" cy="54.4" rx="2.9" ry="1.8" fill="url(#gc)"/><ellipse cx="572.1" cy="364.8" rx="2.9" ry="2" fill="url(#gp)"/><ellipse cx="672.4" cy="178" rx="3" ry="1.9" fill="url(#gc)"/><ellipse cx="659.1" cy="164.4" rx="3.1" ry="1.9" fill="url(#gc)"/><ellipse cx="558.7" cy="377.6" rx="2.8" ry="2.1" fill="url(#gb)"/><ellipse cx="587.5" cy="191.4" rx="3.1" ry="1.8" fill="url(#gc)"/><ellipse cx="614.5" cy="614" rx="2.4" ry="2.2" fill="url(#gp)"/><ellipse cx="608.6" cy="307.7" rx="2.7" ry="1.8" fill="url(#gc)"/><ellipse cx="612.7" cy="36.2" rx="2.8" ry="1.9" fill="url(#gc)"/><ellipse cx="559" cy="569.8" rx="2.7" ry="1.9" fill="url(#gb)"/><ellipse cx="643.5" cy="492.3" rx="2.5" ry="1.8" fill="url(#gb)"/><ellipse cx="561.5" cy="570.5" rx="3.1" ry="2" fill="url(#gb)"/><ellipse cx="582.1" cy="296.9" rx="2.4" ry="1.9" fill="url(#go)"/><ellipse cx="619.2" cy="123.8" rx="2.4" ry="1.7" fill="url(#go)"/><ellipse cx="654.6" cy="361.1" rx="2.7" ry="1.7" fill="url(#gb)"/><ellipse cx="594.5" cy="52.9" rx="2.9" ry="2" fill="url(#go)"/><ellipse cx="639.1" cy="50.8" rx="2.4" ry="1.9" fill="url(#go)"/><ellipse cx="666.2" cy="282.7" rx="3.1" ry="2.1" fill="url(#gc)"/><ellipse cx="577.6" cy="260.7" rx="2.8" ry="1.7" fill="url(#go)"/><ellipse cx="623.6" cy="618.2" rx="2.8" ry="1.8" fill="url(#gb)"/><ellipse cx="568.2" cy="283.5" rx="2.3" ry="1.9" fill="url(#gc)"/><ellipse cx="612.4" cy="221.9" rx="3" ry="2.3" fill="url(#go)"/><ellipse cx="596.4" cy="57.2" rx="2.8" ry="1.7" fill="url(#go)"/><ellipse cx="656.9" cy="384.6" rx="2.5" ry="2.3" fill="url(#gb)"/><ellipse cx="662.1" cy="285" rx="2.7" ry="2" fill="url(#gc)"/><ellipse cx="624.6" cy="44" rx="2.6" ry="2.3" fill="url(#go)"/><ellipse cx="618" cy="338.3" rx="2.8" ry="2.2" fill="url(#gp)"/><ellipse cx="646.5" cy="263.2" rx="2.8" ry="1.8" fill="url(#go)"/><ellipse cx="595.7" cy="302.5" rx="2.6" ry="1.8" fill="url(#gc)"/><ellipse cx="580.8" cy="295.1" rx="2.3" ry="2" fill="url(#gc)"/><ellipse cx="618.7" cy="40.8" rx="3" ry="2.2" fill="url(#go)"/><ellipse cx="631.5" cy="406.9" rx="2.9" ry="1.9" fill="url(#gp)"/><ellipse cx="592.3" cy="293.8" rx="3" ry="2" fill="url(#gc)"/><ellipse cx="624.7" cy="406.6" rx="2.7" ry="2.3" fill="url(#gb)"/><ellipse cx="655.7" cy="265.6" rx="2.4" ry="2" fill="url(#gc)"/><ellipse cx="580.8" cy="289.1" rx="2.7" ry="2.4" fill="url(#gc)"/><ellipse cx="565" cy="573" rx="3" ry="2.2" fill="url(#gb)"/><ellipse cx="659.7" cy="486.1" rx="3.1" ry="1.9" fill="url(#gp)"/><ellipse cx="558.5" cy="272.9" rx="2.3" ry="2.4" fill="url(#gc)"/><ellipse cx="581.3" cy="189.6" rx="2.3" ry="2.3" fill="url(#gc)"/><ellipse cx="564.7" cy="472.5" rx="2.9" ry="2.3" fill="url(#gb)"/><ellipse cx="659.7" cy="368.8" rx="2.7" ry="1.7" fill="url(#gb)"/><ellipse cx="609.6" cy="618.2" rx="2.5" ry="2" fill="url(#gp)"/><ellipse cx="593.4" cy="495.7" rx="2.7" ry="1.7" fill="url(#gp)"/><ellipse cx="608.8" cy="413.6" rx="2.4" ry="2.4" fill="url(#gb)"/><ellipse cx="613.5" cy="611" rx="3.1" ry="1.7" fill="url(#gb)"/><ellipse cx="650.8" cy="63.9" rx="3.1" ry="1.7" fill="url(#gc)"/><ellipse cx="588.8" cy="492.5" rx="3.1" ry="2.3" fill="url(#gp)"/><ellipse cx="650.6" cy="263.1" rx="2.8" ry="2" fill="url(#gc)"/><ellipse cx="618.2" cy="113.1" rx="2.7" ry="1.7" fill="url(#go)"/><ellipse cx="604.1" cy="144.9" rx="2.8" ry="2.1" fill="url(#go)"/><ellipse cx="642.6" cy="392.1" rx="2.3" ry="1.8" fill="url(#gb)"/><ellipse cx="674" cy="177.9" rx="3" ry="2.2" fill="url(#go)"/><ellipse cx="641.1" cy="254" rx="2.6" ry="2.2" fill="url(#gc)"/><ellipse cx="652" cy="295.9" rx="2.6" ry="1.8" fill="url(#go)"/><ellipse cx="629.8" cy="208.7" rx="2.6" ry="2.2" fill="url(#gc)"/><ellipse cx="586.6" cy="58" rx="2.6" ry="1.9" fill="url(#gc)"/><ellipse cx="642.4" cy="201.2" rx="2.9" ry="2.3" fill="url(#go)"/><ellipse cx="606.7" cy="412.6" rx="2.6" ry="2" fill="url(#gp)"/><ellipse cx="620.8" cy="621.6" rx="2.7" ry="2.4" fill="url(#gb)"/><ellipse cx="666.4" cy="269.2" rx="3" ry="2" fill="url(#go)"/><ellipse cx="652.2" cy="364.5" rx="3" ry="2.3" fill="url(#gp)"/><ellipse cx="655.8" cy="365.5" rx="2.8" ry="2.2" fill="url(#gb)"/><ellipse cx="664.9" cy="270.8" rx="2.2" ry="2.4" fill="url(#gc)"/><ellipse cx="606.8" cy="106.9" rx="2.9" ry="2.1" fill="url(#go)"/><ellipse cx="616.7" cy="416.4" rx="2.8" ry="2.3" fill="url(#gb)"/><ellipse cx="649.4" cy="254.9" rx="2.4" ry="1.8" fill="url(#go)"/><ellipse cx="554.2" cy="479.7" rx="2.6" ry="1.9" fill="url(#gp)"/><ellipse cx="648.3" cy="61.3" rx="2.8" ry="2.2" fill="url(#gc)"/><ellipse cx="552.9" cy="382.9" rx="2.6" ry="2.3" fill="url(#gb)"/><ellipse cx="561.4" cy="276.1" rx="2.9" ry="1.9" fill="url(#gc)"/><ellipse cx="613.7" cy="242" rx="3.1" ry="1.8" fill="url(#go)"/><ellipse cx="563.9" cy="569.9" rx="2.9" ry="2.3" fill="url(#gp)"/><ellipse cx="655.1" cy="462" rx="3.1" ry="2.3" fill="url(#gb)"/><ellipse cx="671.3" cy="475.4" rx="2.5" ry="1.9" fill="url(#gp)"/><ellipse cx="622.7" cy="413.1" rx="2.8" ry="1.9" fill="url(#gp)"/><ellipse cx="627.5" cy="210.5" rx="2.9" ry="2.1" fill="url(#go)"/><ellipse cx="581.2" cy="389" rx="2.7" ry="1.9" fill="url(#gb)"/><ellipse cx="561" cy="370.7" rx="2.6" ry="1.8" fill="url(#gb)"/><ellipse cx="641.9" cy="402.3" rx="2.3" ry="2.3" fill="url(#gp)"/><ellipse cx="596.4" cy="196.8" rx="2.3" ry="2" fill="url(#gc)"/><ellipse cx="565" cy="382.6" rx="2.7" ry="1.8" fill="url(#gp)"/><ellipse cx="577.4" cy="285.6" rx="2.7" ry="1.9" fill="url(#gc)"/><ellipse cx="664.6" cy="379.6" rx="2.2" ry="2.2" fill="url(#gp)"/><ellipse cx="572.8" cy="287.5" rx="2.8" ry="1.8" fill="url(#gc)"/><ellipse cx="587" cy="452.1" rx="3.1" ry="2.1" fill="url(#gb)"/><ellipse cx="556" cy="179.8" rx="2.5" ry="1.9" fill="url(#gc)"/><ellipse cx="567.9" cy="67.6" rx="2.6" ry="2" fill="url(#go)"/><ellipse cx="558.1" cy="178.2" rx="2.3" ry="1.9" fill="url(#gc)"/><ellipse cx="676.2" cy="178.4" rx="3" ry="1.8" fill="url(#go)"/><ellipse cx="556.9" cy="269.1" rx="3.1" ry="1.8" fill="url(#go)"/><ellipse cx="558.2" cy="477.7" rx="2.8" ry="2.3" fill="url(#gb)"/><ellipse cx="617.5" cy="613.4" rx="3" ry="1.8" fill="url(#gp)"/><ellipse cx="600" cy="207.7" rx="2.7" ry="2.2" fill="url(#gc)"/><ellipse cx="652.3" cy="287.3" rx="2.5" ry="2.1" fill="url(#gc)"/><ellipse cx="675.2" cy="478.9" rx="3" ry="1.7" fill="url(#gp)"/><ellipse cx="584.5" cy="90" rx="2.8" ry="2.1" fill="url(#go)"/><ellipse cx="594.7" cy="253.3" rx="3.2" ry="2.1" fill="url(#go)"/><ellipse cx="671.3" cy="370.9" rx="2.9" ry="2.4" fill="url(#gp)"/><ellipse cx="611" cy="415.4" rx="2.4" ry="2" fill="url(#gp)"/><ellipse cx="585.3" cy="159.8" rx="3.3" ry="2" fill="url(#go)"/><ellipse cx="667.1" cy="477.4" rx="2.7" ry="1.9" fill="url(#gb)"/><ellipse cx="583.5" cy="255" rx="3.2" ry="2.2" fill="url(#gc)"/><ellipse cx="667.5" cy="473.2" rx="2.8" ry="2.2" fill="url(#gp)"/><ellipse cx="661.3" cy="370.9" rx="2.7" ry="2" fill="url(#gp)"/><ellipse cx="674" cy="370.6" rx="2.7" ry="1.8" fill="url(#gp)"/><ellipse cx="560.5" cy="475.1" rx="2.4" ry="2" fill="url(#gp)"/><ellipse cx="652.4" cy="391.4" rx="2.3" ry="2.3" fill="url(#gb)"/><ellipse cx="614" cy="312.7" rx="3" ry="1.9" fill="url(#go)"/><ellipse cx="622.6" cy="607.4" rx="2.3" ry="2.3" fill="url(#gp)"/><ellipse cx="629.8" cy="52" rx="3.2" ry="1.8" fill="url(#go)"/><ellipse cx="657.2" cy="267.8" rx="2.5" ry="2.4" fill="url(#go)"/><ellipse cx="666.7" cy="481.1" rx="2.2" ry="2.3" fill="url(#gb)"/><ellipse cx="675.3" cy="271.4" rx="3.1" ry="2.1" fill="url(#go)"/><ellipse cx="588.3" cy="252.7" rx="2.8" ry="1.9" fill="url(#gc)"/><ellipse cx="631.5" cy="53.1" rx="3.1" ry="1.8" fill="url(#gc)"/><ellipse cx="620" cy="115.7" rx="2.6" ry="2" fill="url(#go)"/><ellipse cx="579.3" cy="88.1" rx="2.6" ry="2" fill="url(#go)"/><ellipse cx="610" cy="241.5" rx="2.7" ry="2.4" fill="url(#go)"/><ellipse cx="676.4" cy="275.3" rx="3.1" ry="2.1" fill="url(#go)"/><ellipse cx="551.8" cy="376" rx="3" ry="1.7" fill="url(#gb)"/><ellipse cx="644.3" cy="151.7" rx="2.4" ry="1.9" fill="url(#go)"/><ellipse cx="652.6" cy="259.5" rx="3.2" ry="2.1" fill="url(#go)"/><ellipse cx="574.7" cy="384.8" rx="2.6" ry="2.1" fill="url(#gp)"/><ellipse cx="660.7" cy="282.7" rx="3.1" ry="1.9" fill="url(#go)"/><ellipse cx="648.7" cy="397.4" rx="3.1" ry="2" fill="url(#gb)"/><ellipse cx="562.8" cy="171" rx="3.1" ry="2.3" fill="url(#go)"/><ellipse cx="667" cy="277" rx="2.4" ry="2" fill="url(#gc)"/><ellipse cx="583.1" cy="93.7" rx="3.2" ry="2.3" fill="url(#gc)"/><ellipse cx="591.4" cy="602.9" rx="2.4" ry="2.3" fill="url(#gp)"/><ellipse cx="638.1" cy="294.3" rx="3.2" ry="2.3" fill="url(#gc)"/><ellipse cx="645" cy="291.4" rx="2.7" ry="2.2" fill="url(#go)"/><ellipse cx="644.6" cy="499.1" rx="2.9" ry="2.1" fill="url(#gb)"/><ellipse cx="627.8" cy="144" rx="2.7" ry="2.3" fill="url(#gc)"/><ellipse cx="582.3" cy="259.6" rx="2.7" ry="2.1" fill="url(#gc)"/><ellipse cx="584.3" cy="489.4" rx="2.8" ry="2.3" fill="url(#gp)"/><ellipse cx="586.6" cy="256.5" rx="2.8" ry="2.2" fill="url(#gc)"/><ellipse cx="629.8" cy="408.5" rx="2.7" ry="2.3" fill="url(#gb)"/><ellipse cx="662.5" cy="165.7" rx="2.5" ry="2.2" fill="url(#go)"/><ellipse cx="631.8" cy="151.1" rx="2.7" ry="2.3" fill="url(#gc)"/><ellipse cx="565.8" cy="267.6" rx="3.2" ry="2" fill="url(#gc)"/><ellipse cx="657.9" cy="68.8" rx="3.1" ry="2.2" fill="url(#go)"/><ellipse cx="606.8" cy="611.6" rx="2.8" ry="2.1" fill="url(#gp)"/><ellipse cx="659.2" cy="87.7" rx="2.7" ry="1.7" fill="url(#go)"/><ellipse cx="625.6" cy="311.5" rx="2.9" ry="1.8" fill="url(#gc)"/><ellipse cx="676.8" cy="279" rx="2.2" ry="2.2" fill="url(#gc)"/><ellipse cx="611.5" cy="609.1" rx="2.5" ry="2" fill="url(#gp)"/><ellipse cx="560.5" cy="373.8" rx="2.8" ry="2.2" fill="url(#gp)"/><ellipse cx="672" cy="270.1" rx="2.6" ry="2.1" fill="url(#gc)"/><ellipse cx="659.3" cy="65.5" rx="3.2" ry="1.9" fill="url(#gc)"/><ellipse cx="602.4" cy="204.5" rx="2.5" ry="1.8" fill="url(#go)"/><ellipse cx="614" cy="236.6" rx="3" ry="2.4" fill="url(#go)"/><ellipse cx="673" cy="576.9" rx="2.5" ry="2.4" fill="url(#gp)"/><ellipse cx="636.4" cy="404.5" rx="2.6" ry="2" fill="url(#gp)"/><ellipse cx="599.8" cy="146.4" rx="2.8" ry="2.4" fill="url(#go)"/><ellipse cx="649.2" cy="297.9" rx="3" ry="2.3" fill="url(#gc)"/><ellipse cx="561.4" cy="479.2" rx="2.7" ry="1.9" fill="url(#gp)"/><ellipse cx="589.4" cy="260.7" rx="2.9" ry="2.2" fill="url(#gc)"/><ellipse cx="582.6" cy="392.6" rx="3.4" ry="1.9" fill="url(#gb)"/><ellipse cx="654.1" cy="91.4" rx="2.3" ry="2.1" fill="url(#go)"/><ellipse cx="640.8" cy="158.9" rx="2.5" ry="2" fill="url(#gc)"/><ellipse cx="625.3" cy="143.4" rx="2.6" ry="2.2" fill="url(#go)"/><ellipse cx="640.3" cy="299.3" rx="2.6" ry="2.3" fill="url(#gc)"/><ellipse cx="627.7" cy="45" rx="3.1" ry="1.8" fill="url(#gc)"/><ellipse cx="556.1" cy="272.6" rx="2.3" ry="2.2" fill="url(#gc)"/><ellipse cx="619.1" cy="43.7" rx="2.6" ry="2.3" fill="url(#gc)"/><ellipse cx="577.3" cy="190" rx="2.5" ry="2.2" fill="url(#gc)"/><ellipse cx="647.8" cy="588.3" rx="2.3" ry="2.2" fill="url(#gb)"/><ellipse cx="649.2" cy="55.6" rx="3.2" ry="2.3" fill="url(#go)"/><ellipse cx="613.6" cy="620.7" rx="2.8" ry="2.3" fill="url(#gb)"/><ellipse cx="670.2" cy="379.1" rx="2.6" ry="2.1" fill="url(#gb)"/><ellipse cx="611.9" cy="613.8" rx="2.3" ry="2.2" fill="url(#gp)"/><ellipse cx="669.3" cy="174.3" rx="2.6" ry="2.2" fill="url(#gc)"/><ellipse cx="579.7" cy="459.6" rx="2.5" ry="2.3" fill="url(#gb)"/><ellipse cx="644.8" cy="255.3" rx="3.1" ry="2.1" fill="url(#gc)"/><ellipse cx="600" cy="247.6" rx="3.1" ry="1.7" fill="url(#go)"/><ellipse cx="600.3" cy="202.1" rx="2.7" ry="1.8" fill="url(#gc)"/><ellipse cx="672.6" cy="173" rx="2.4" ry="2.2" fill="url(#gc)"/><ellipse cx="561.5" cy="376.5" rx="2.4" ry="1.7" fill="url(#gb)"/><ellipse cx="666.6" cy="368.3" rx="3" ry="2.1" fill="url(#gp)"/><ellipse cx="662.3" cy="365.9" rx="2.5" ry="2" fill="url(#gp)"/><ellipse cx="553.3" cy="375.4" rx="2.9" ry="2.2" fill="url(#gb)"/><ellipse cx="565.1" cy="368.9" rx="3.2" ry="2.1" fill="url(#gb)"/><ellipse cx="590.3" cy="255.5" rx="2.6" ry="2.1" fill="url(#go)"/><ellipse cx="662.2" cy="169.8" rx="2.4" ry="2.4" fill="url(#go)"/><ellipse cx="663.9" cy="384.8" rx="2.4" ry="2.3" fill="url(#gp)"/><ellipse cx="653.5" cy="88.6" rx="3.1" ry="1.9" fill="url(#gc)"/><ellipse cx="591.9" cy="105.3" rx="2.7" ry="2.1" fill="url(#go)"/><ellipse cx="645.5" cy="200.8" rx="2.8" ry="2.1" fill="url(#gc)"/><ellipse cx="585" cy="58" rx="2.7" ry="2.4" fill="url(#go)"/><ellipse cx="558.2" cy="372.3" rx="2.8" ry="1.7" fill="url(#gp)"/><ellipse cx="668.4" cy="181.5" rx="2.3" ry="1.9" fill="url(#go)"/><ellipse cx="572.1" cy="168.8" rx="2.5" ry="1.9" fill="url(#go)"/><ellipse cx="660.7" cy="468.7" rx="2.9" ry="2.1" fill="url(#gb)"/><ellipse cx="604.3" cy="305.4" rx="3.1" ry="1.8" fill="url(#gc)"/><ellipse cx="657.3" cy="362.7" rx="3.1" ry="2.1" fill="url(#gp)"/><ellipse cx="595.6" cy="203.5" rx="3.2" ry="2" fill="url(#gc)"/><ellipse cx="582.5" cy="292.2" rx="3" ry="1.8" fill="url(#gc)"/><ellipse cx="649" cy="160.4" rx="3.1" ry="2" fill="url(#gc)"/><ellipse cx="551.8" cy="271.5" rx="2.5" ry="2.3" fill="url(#gc)"/><ellipse cx="647.4" cy="453.8" rx="2.8" ry="2.4" fill="url(#gb)"/><ellipse cx="663.5" cy="183.8" rx="3.2" ry="1.8" fill="url(#go)"/><ellipse cx="656.6" cy="64.4" rx="2.3" ry="2.3" fill="url(#go)"/><ellipse cx="557.2" cy="173.4" rx="2.9" ry="2.4" fill="url(#gc)"/><ellipse cx="608.5" cy="613" rx="2.8" ry="2.2" fill="url(#gb)"/><ellipse cx="552" cy="575.9" rx="3" ry="1.9" fill="url(#gp)"/><ellipse cx="559.2" cy="372.8" rx="3" ry="2.2" fill="url(#gp)"/><ellipse cx="583.9" cy="99.9" rx="3.1" ry="2" fill="url(#gc)"/><ellipse cx="639.6" cy="155.5" rx="2.5" ry="2.4" fill="url(#gc)"/><ellipse cx="557.8" cy="281.7" rx="2.8" ry="2" fill="url(#go)"/><ellipse cx="614" cy="34.7" rx="3" ry="1.8" fill="url(#go)"/><ellipse cx="672.1" cy="474.2" rx="2.2" ry="2" fill="url(#gb)"/><ellipse cx="552.5" cy="173.1" rx="3.2" ry="1.8" fill="url(#go)"/><ellipse cx="600.2" cy="600.8" rx="2.7" ry="2" fill="url(#gb)"/><ellipse cx="589.3" cy="93.6" rx="2.4" ry="2.4" fill="url(#go)"/><ellipse cx="677.7" cy="573.3" rx="2.3" ry="1.7" fill="url(#gb)"/><ellipse cx="657.4" cy="389.4" rx="3.1" ry="2" fill="url(#gb)"/><ellipse cx="558.6" cy="475.6" rx="3.2" ry="1.8" fill="url(#gb)"/><ellipse cx="596.1" cy="250.2" rx="3.1" ry="2.4" fill="url(#go)"/><ellipse cx="606" cy="207.7" rx="2.2" ry="2.2" fill="url(#go)"/><ellipse cx="620.4" cy="310.8" rx="2.4" ry="1.9" fill="url(#gc)"/><ellipse cx="594.4" cy="96.6" rx="2.4" ry="2.4" fill="url(#go)"/>
<text x="615.5" y="77.3" font-size="9.6" text-anchor="middle" fill="#3cc2d4" font-weight="normal"  >LUMO+2 (619)</text>
<text x="615.5" y="86.9" font-size="9.6" text-anchor="middle" fill="#3cc2d4" font-weight="normal"  >–1.766 eV</text>
<text x="615.5" y="178.2" font-size="9.6" text-anchor="middle" fill="#3cc2d4" font-weight="normal"  >LUMO+1 (618)</text>
<text x="615.5" y="187.8" font-size="9.6" text-anchor="middle" fill="#3cc2d4" font-weight="normal"  >–1.836 eV</text>
<text x="615.5" y="278.4" font-size="9.6" text-anchor="middle" fill="#3cc2d4" font-weight="normal"  >LUMO (617)</text>
<text x="615.5" y="288" font-size="9.6" text-anchor="middle" fill="#3cc2d4" font-weight="normal"  >–1.841 eV</text>
<text x="615.5" y="378.2" font-size="9.6" text-anchor="middle" fill="#2a8dd0" font-weight="normal"  >HOMO (616)</text>
<text x="615.5" y="387.8" font-size="9.6" text-anchor="middle" fill="#2a8dd0" font-weight="normal"  >–5.582 eV</text>
<text x="615.5" y="478" font-size="9.6" text-anchor="middle" fill="#2a8dd0" font-weight="normal"  >HOMO-1 (615)</text>
<text x="615.5" y="487.6" font-size="9.6" text-anchor="middle" fill="#2a8dd0" font-weight="normal"  >–5.588 eV</text>
<text x="615.5" y="576.9" font-size="9.6" text-anchor="middle" fill="#2a8dd0" font-weight="normal"  >HOMO-2 (614)</text>
<text x="615.5" y="586.5" font-size="9.6" text-anchor="middle" fill="#2a8dd0" font-weight="normal"  >–5.619 eV</text>
<rect x="547.5" y="22.5" width="136.9" height="608.8" fill="none" stroke="#555" stroke-width="1"/>
</svg></body></html>
